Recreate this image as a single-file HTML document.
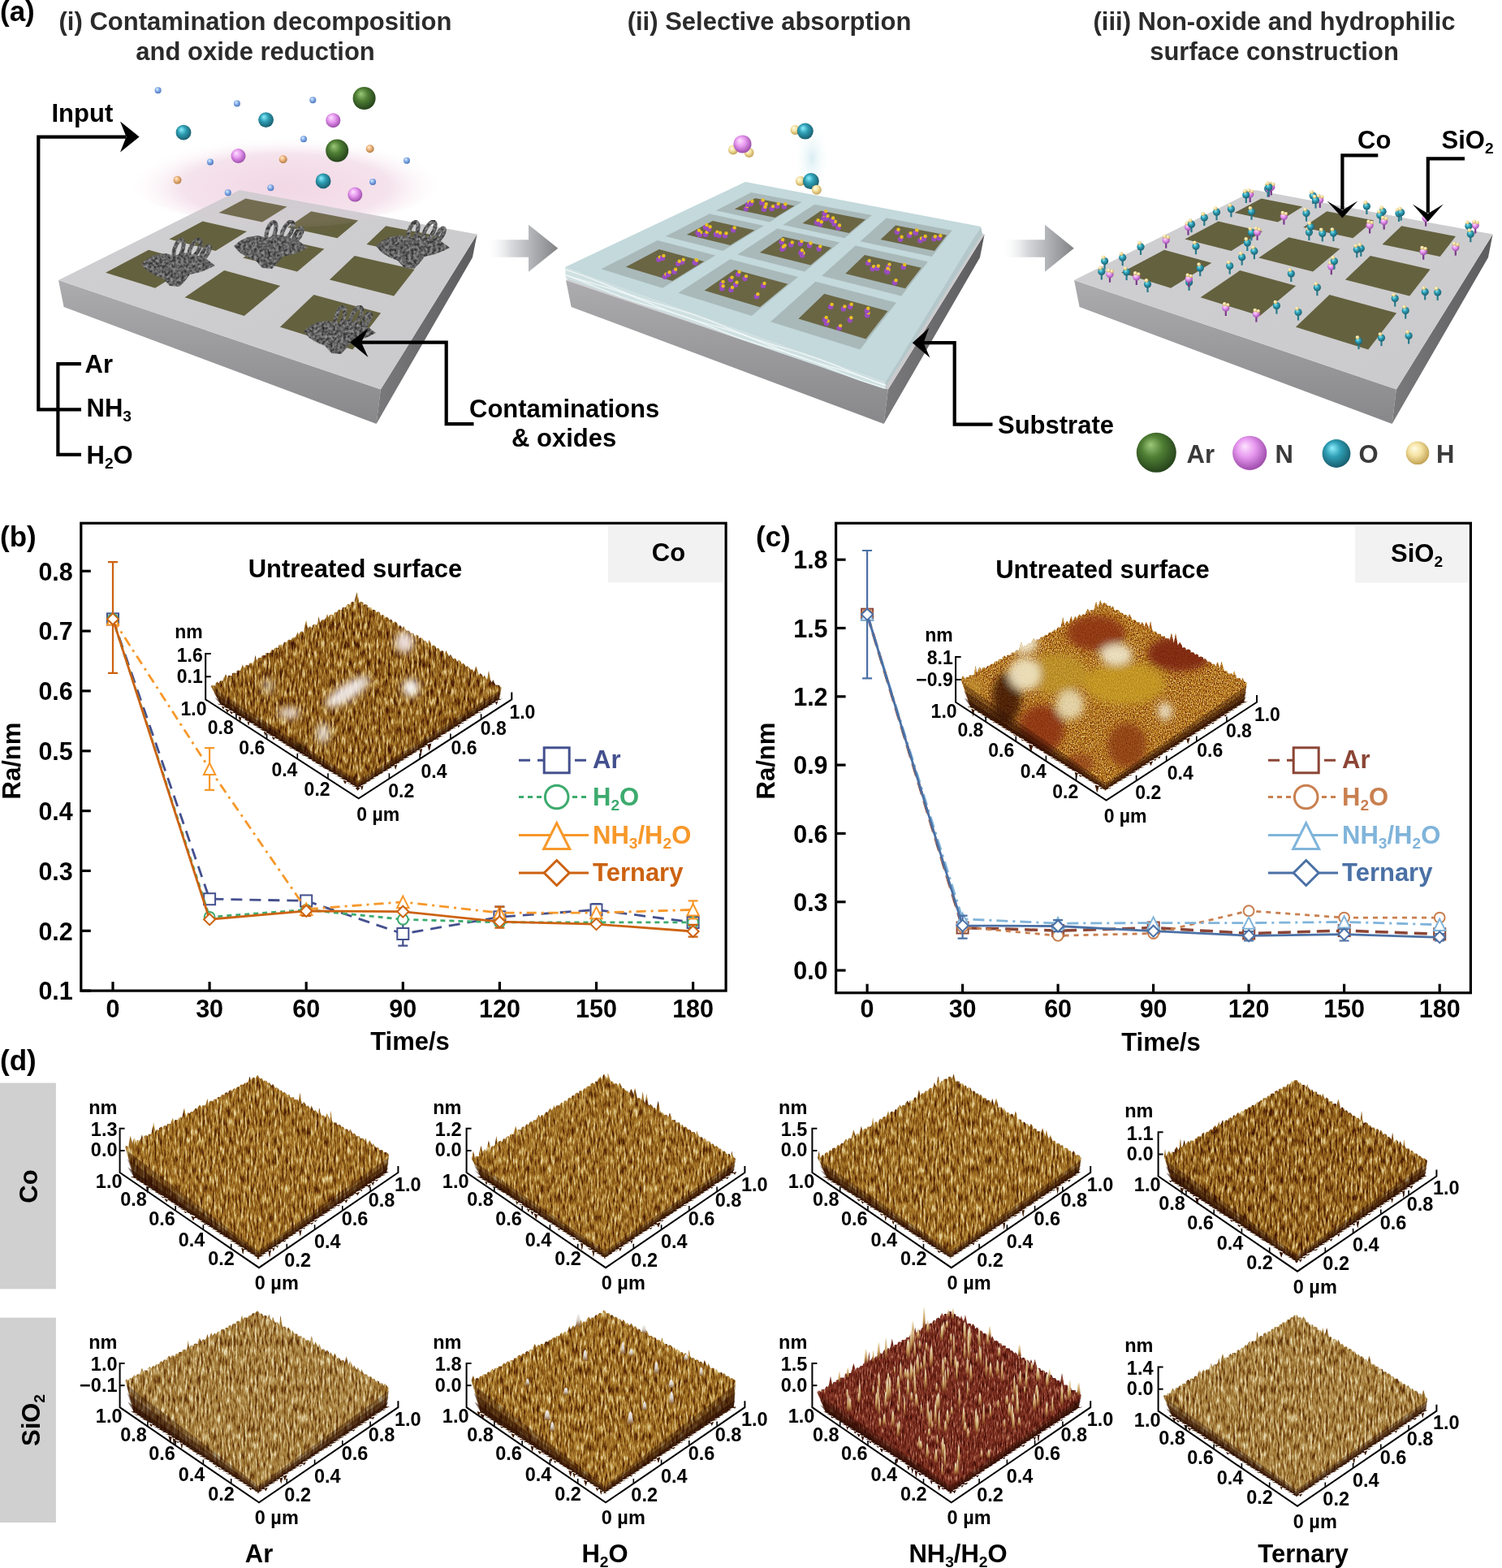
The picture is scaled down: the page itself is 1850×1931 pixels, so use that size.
<!DOCTYPE html><html><head><meta charset="utf-8"><title>Figure</title><style>html,body{margin:0;padding:0;background:#fff;}svg{display:block}</style></head><body><svg width="1850" height="1931" viewBox="0 0 1850 1931" font-family='"Liberation Sans", Arial, Helvetica, sans-serif' font-weight="bold"><defs><radialGradient id="gAr" cx="0.45" cy="0.42" r="0.6" fx="0.35" fy="0.3"><stop offset="0" stop-color="#9cc87a"/><stop offset="0.45" stop-color="#4f7f34"/><stop offset="1" stop-color="#24401a"/></radialGradient><radialGradient id="gN" cx="0.45" cy="0.42" r="0.6" fx="0.35" fy="0.3"><stop offset="0" stop-color="#fde4ff"/><stop offset="0.45" stop-color="#e89af0"/><stop offset="1" stop-color="#9a48a8"/></radialGradient><radialGradient id="gO" cx="0.45" cy="0.42" r="0.6" fx="0.35" fy="0.3"><stop offset="0" stop-color="#8ff0ff"/><stop offset="0.45" stop-color="#2f9fb5"/><stop offset="1" stop-color="#185a6a"/></radialGradient><radialGradient id="gH" cx="0.45" cy="0.42" r="0.6" fx="0.35" fy="0.3"><stop offset="0" stop-color="#fffbe6"/><stop offset="0.45" stop-color="#f6e4a4"/><stop offset="1" stop-color="#c0a050"/></radialGradient><radialGradient id="gB" cx="0.45" cy="0.42" r="0.6" fx="0.35" fy="0.3"><stop offset="0" stop-color="#e4f0ff"/><stop offset="0.45" stop-color="#8ab4ee"/><stop offset="1" stop-color="#4a70b8"/></radialGradient><radialGradient id="gOr" cx="0.45" cy="0.42" r="0.6" fx="0.35" fy="0.3"><stop offset="0" stop-color="#fff0d8"/><stop offset="0.45" stop-color="#f0b880"/><stop offset="1" stop-color="#b07840"/></radialGradient><filter id="afmA" x="0" y="0" width="1" height="1" color-interpolation-filters="sRGB"><feTurbulence type="fractalNoise" baseFrequency="0.42 0.085" numOctaves="3" seed="3" result="n"/><feColorMatrix in="n" type="matrix" values="1.9 0 0 0 -0.45  1.9 0 0 0 -0.45  1.9 0 0 0 -0.45  0 0 0 0 1" result="g"/><feComponentTransfer in="g" result="c"><feFuncR type="table" tableValues="0.290 0.424 0.533 0.620 0.706 0.792 0.902"/><feFuncG type="table" tableValues="0.118 0.235 0.345 0.431 0.533 0.667 0.831"/><feFuncB type="table" tableValues="0.031 0.055 0.094 0.141 0.220 0.392 0.627"/><feFuncA type="linear" slope="0" intercept="1"/></feComponentTransfer><feComposite in="c" in2="SourceGraphic" operator="in"/></filter><filter id="afmB" x="0" y="0" width="1" height="1" color-interpolation-filters="sRGB"><feTurbulence type="fractalNoise" baseFrequency="0.42 0.085" numOctaves="3" seed="7" result="n"/><feColorMatrix in="n" type="matrix" values="1.9 0 0 0 -0.45  1.9 0 0 0 -0.45  1.9 0 0 0 -0.45  0 0 0 0 1" result="g"/><feComponentTransfer in="g" result="c"><feFuncR type="table" tableValues="0.290 0.424 0.533 0.620 0.706 0.792 0.902"/><feFuncG type="table" tableValues="0.118 0.235 0.345 0.431 0.533 0.667 0.831"/><feFuncB type="table" tableValues="0.031 0.055 0.094 0.141 0.220 0.392 0.627"/><feFuncA type="linear" slope="0" intercept="1"/></feComponentTransfer><feComposite in="c" in2="SourceGraphic" operator="in"/></filter><filter id="afmC" x="0" y="0" width="1" height="1" color-interpolation-filters="sRGB"><feTurbulence type="fractalNoise" baseFrequency="0.42 0.085" numOctaves="3" seed="11" result="n"/><feColorMatrix in="n" type="matrix" values="1.9 0 0 0 -0.45  1.9 0 0 0 -0.45  1.9 0 0 0 -0.45  0 0 0 0 1" result="g"/><feComponentTransfer in="g" result="c"><feFuncR type="table" tableValues="0.251 0.384 0.494 0.580 0.667 0.769 0.886"/><feFuncG type="table" tableValues="0.086 0.196 0.306 0.392 0.494 0.627 0.800"/><feFuncB type="table" tableValues="0.031 0.047 0.078 0.118 0.188 0.353 0.588"/><feFuncA type="linear" slope="0" intercept="1"/></feComponentTransfer><feComposite in="c" in2="SourceGraphic" operator="in"/></filter><filter id="afmK" x="0" y="0" width="1" height="1" color-interpolation-filters="sRGB"><feTurbulence type="fractalNoise" baseFrequency="0.42 0.085" numOctaves="3" seed="17" result="n"/><feColorMatrix in="n" type="matrix" values="1.9 0 0 0 -0.45  1.9 0 0 0 -0.45  1.9 0 0 0 -0.45  0 0 0 0 1" result="g"/><feComponentTransfer in="g" result="c"><feFuncR type="table" tableValues="0.345 0.478 0.580 0.651 0.729 0.808 0.910"/><feFuncG type="table" tableValues="0.180 0.306 0.416 0.502 0.596 0.714 0.863"/><feFuncB type="table" tableValues="0.055 0.102 0.165 0.243 0.353 0.502 0.706"/><feFuncA type="linear" slope="0" intercept="1"/></feComponentTransfer><feComposite in="c" in2="SourceGraphic" operator="in"/></filter><filter id="afmS" x="0" y="0" width="1" height="1" color-interpolation-filters="sRGB"><feTurbulence type="fractalNoise" baseFrequency="0.6 0.05" numOctaves="3" seed="5" result="n"/><feColorMatrix in="n" type="matrix" values="2.0 0 0 0 -0.5  2.0 0 0 0 -0.5  2.0 0 0 0 -0.5  0 0 0 0 1" result="g"/><feComponentTransfer in="g" result="c"><feFuncR type="table" tableValues="0.157 0.275 0.392 0.510"/><feFuncG type="table" tableValues="0.055 0.118 0.196 0.294"/><feFuncB type="table" tableValues="0.016 0.031 0.055 0.098"/><feFuncA type="linear" slope="0" intercept="1"/></feComponentTransfer><feComposite in="c" in2="SourceGraphic" operator="in"/></filter><filter id="afmR" x="0" y="0" width="1" height="1" color-interpolation-filters="sRGB"><feTurbulence type="fractalNoise" baseFrequency="0.6 0.12" numOctaves="3" seed="13" result="n"/><feColorMatrix in="n" type="matrix" values="1.6 0 0 0 -0.3  1.6 0 0 0 -0.3  1.6 0 0 0 -0.3  0 0 0 0 1" result="g"/><feComponentTransfer in="g" result="c"><feFuncR type="table" tableValues="0.196 0.306 0.392 0.471 0.549 0.659 0.784"/><feFuncG type="table" tableValues="0.039 0.078 0.125 0.173 0.243 0.392 0.588"/><feFuncB type="table" tableValues="0.024 0.047 0.078 0.118 0.173 0.306 0.471"/><feFuncA type="linear" slope="0" intercept="1"/></feComponentTransfer><feComposite in="c" in2="SourceGraphic" operator="in"/></filter><filter id="afmU" x="0" y="0" width="1" height="1" color-interpolation-filters="sRGB"><feTurbulence type="fractalNoise" baseFrequency="0.03 0.04" numOctaves="5" seed="21" result="n"/><feColorMatrix in="n" type="matrix" values="2.0 0 0 0 -0.5  2.0 0 0 0 -0.5  2.0 0 0 0 -0.5  0 0 0 0 1" result="g"/><feComponentTransfer in="g" result="c"><feFuncR type="table" tableValues="0.431 0.549 0.647 0.725 0.784 0.843 0.910"/><feFuncG type="table" tableValues="0.118 0.196 0.333 0.490 0.627 0.745 0.863"/><feFuncB type="table" tableValues="0.047 0.078 0.098 0.137 0.216 0.431 0.686"/><feFuncA type="linear" slope="0" intercept="1"/></feComponentTransfer><feComposite in="c" in2="SourceGraphic" operator="in"/></filter><filter id="blur6" x="-0.5" y="-0.5" width="2" height="2"><feGaussianBlur stdDeviation="5"/></filter><filter id="blur3" x="-0.5" y="-0.5" width="2" height="2"><feGaussianBlur stdDeviation="2.5"/></filter><filter id="grainG" x="0" y="0" width="1" height="1" color-interpolation-filters="sRGB"><feTurbulence type="fractalNoise" baseFrequency="0.7 0.5" numOctaves="2" seed="31" result="n"/><feColorMatrix in="n" type="matrix" values="2.2 0 0 0 -0.6  2.2 0 0 0 -0.6  2.2 0 0 0 -0.6  0 0 0 0 1" result="g"/><feComponentTransfer in="g" result="c"><feFuncR type="table" tableValues="0.471 0.667 0.863 0.980"/><feFuncG type="table" tableValues="0.196 0.431 0.706 0.902"/><feFuncB type="table" tableValues="0.039 0.118 0.235 0.549"/><feFuncA type="linear" slope="0" intercept="1"/></feComponentTransfer><feComposite in="c" in2="SourceGraphic" operator="in"/></filter><filter id="afmU2" x="0" y="0" width="1" height="1" color-interpolation-filters="sRGB"><feTurbulence type="fractalNoise" baseFrequency="0.8 0.6" numOctaves="2" seed="41" result="n"/><feColorMatrix in="n" type="matrix" values="2.0 0 0 0 -0.5  2.0 0 0 0 -0.5  2.0 0 0 0 -0.5  0 0 0 0 1" result="g"/><feComponentTransfer in="g" result="c"><feFuncR type="table" tableValues="0.392 0.549 0.667 0.745 0.824 0.910"/><feFuncG type="table" tableValues="0.157 0.275 0.412 0.529 0.647 0.804"/><feFuncB type="table" tableValues="0.047 0.078 0.110 0.157 0.275 0.549"/><feFuncA type="linear" slope="0" intercept="1"/></feComponentTransfer><feComposite in="c" in2="SourceGraphic" operator="in"/></filter><filter id="cont" x="0" y="0" width="1" height="1" color-interpolation-filters="sRGB"><feTurbulence type="fractalNoise" baseFrequency="0.3 0.3" numOctaves="2" seed="4" result="n"/><feColorMatrix in="n" type="matrix" values="1.8 0 0 0 -0.4  1.8 0 0 0 -0.4  1.8 0 0 0 -0.4  0 0 0 0 1" result="g"/><feComponentTransfer in="g" result="c"><feFuncR type="table" tableValues="0.18 0.28 0.38 0.48 0.58"/><feFuncG type="table" tableValues="0.18 0.28 0.38 0.48 0.58"/><feFuncB type="table" tableValues="0.18 0.28 0.38 0.48 0.58"/><feFuncA type="linear" slope="0" intercept="1"/></feComponentTransfer><feComposite in="c" in2="SourceGraphic" operator="in"/></filter><linearGradient id="pTop" x1="0" y1="0" x2="1" y2="1"><stop offset="0" stop-color="#d0d0d2"/><stop offset="1" stop-color="#cacacc"/></linearGradient><linearGradient id="pLeft" x1="0" y1="0" x2="0" y2="1"><stop offset="0" stop-color="#acacae"/><stop offset="1" stop-color="#88888a"/></linearGradient><linearGradient id="pRight" x1="0" y1="0" x2="1" y2="0"><stop offset="0" stop-color="#7a7a7c"/><stop offset="1" stop-color="#5c5c5e"/></linearGradient><linearGradient id="gArrow" x1="0" y1="0" x2="1" y2="0"><stop offset="0" stop-color="#ffffff" stop-opacity="0"/><stop offset="0.35" stop-color="#d8dadd"/><stop offset="0.7" stop-color="#a8aaae"/><stop offset="1" stop-color="#808284"/></linearGradient><radialGradient id="haze" cx="0.5" cy="0.6" r="0.5"><stop offset="0" stop-color="#e8b8d0" stop-opacity="0.45"/><stop offset="0.7" stop-color="#ecc4d8" stop-opacity="0.35"/><stop offset="1" stop-color="#f4d8e6" stop-opacity="0"/></radialGradient><radialGradient id="haze0" cx="0.5" cy="0.62" r="0.5"><stop offset="0" stop-color="#f3dce8"/><stop offset="0.65" stop-color="#f6e6ee"/><stop offset="1" stop-color="#ffffff" stop-opacity="0"/></radialGradient><linearGradient id="spk" x1="0" y1="1" x2="0" y2="0"><stop offset="0" stop-color="#7a3418"/><stop offset="0.4" stop-color="#c8a060"/><stop offset="1" stop-color="#f6ecd4"/></linearGradient><linearGradient id="spkW" x1="0" y1="1" x2="0" y2="0"><stop offset="0" stop-color="#8a6030"/><stop offset="0.45" stop-color="#d8d0c8"/><stop offset="1" stop-color="#f8f6f4"/></linearGradient><radialGradient id="glow" cx="0.5" cy="0.5" r="0.5"><stop offset="0" stop-color="#d9eef2"/><stop offset="1" stop-color="#ffffff" stop-opacity="0"/></radialGradient><clipPath id="clip253_861"><polygon points="259.6,844.8 262.4,843.5 265.2,844.8 265.7,841.6 267.6,839.6 269.6,841.6 271.0,838.5 272.9,838.2 274.7,838.5 275.4,835.4 278.1,830.2 280.7,835.4 280.7,832.3 283.3,831.7 285.9,832.3 285.7,829.2 288.5,828.4 291.3,829.2 291.6,826.0 293.7,825.6 295.8,826.0 297.2,822.9 298.9,818.2 300.6,822.9 301.8,819.8 304.1,818.8 306.4,819.8 307.2,816.7 309.3,816.6 311.4,816.7 313.2,813.6 314.5,806.8 315.9,813.6 317.7,810.4 319.7,809.7 321.8,810.4 322.7,807.3 324.9,806.9 327.2,807.3 327.4,804.2 330.2,804.0 333.0,804.2 333.7,801.1 335.4,799.8 337.0,801.1 338.3,798.0 340.6,797.4 342.9,798.0 343.1,794.8 345.8,793.5 348.5,794.8 349.5,791.7 351.0,790.3 352.5,791.7 354.4,788.6 356.2,787.6 358.0,788.6 360.1,785.5 361.4,784.6 362.7,785.5 365.0,782.4 366.6,778.4 368.3,782.4 369.1,779.2 371.8,777.3 374.5,779.2 374.3,776.1 377.0,763.6 379.7,776.1 379.6,773.0 382.2,771.2 384.9,773.0 384.8,769.9 387.5,768.6 390.1,769.9 391.3,766.8 392.7,758.8 394.0,766.8 396.3,763.6 397.9,763.1 399.4,763.6 401.7,760.5 403.1,756.1 404.5,760.5 405.7,757.4 408.3,756.7 410.9,757.4 411.9,754.3 413.5,753.7 415.1,754.3 416.3,751.2 418.7,750.4 421.1,751.2 421.9,748.0 423.9,747.8 425.9,748.0 426.9,744.9 429.1,743.7 431.4,744.9 432.0,741.8 434.3,741.1 436.7,741.8 437.0,738.7 439.5,729.3 442.1,738.7 442.0,741.9 444.8,741.1 447.5,741.9 447.4,745.0 450.0,743.9 452.6,745.0 452.7,748.2 455.3,747.8 457.8,748.2 458.7,751.4 460.5,750.7 462.3,751.4 463.6,754.6 465.7,753.1 467.9,754.6 468.7,757.8 471.0,757.1 473.3,757.8 474.3,760.9 476.2,759.6 478.2,760.9 479.9,764.1 481.5,762.6 483.1,764.1 484.4,767.3 486.7,765.2 489.0,767.3 490.3,770.5 492.0,770.4 493.6,770.5 495.7,773.7 497.2,770.9 498.7,773.7 500.7,776.9 502.4,776.5 504.1,776.9 505.9,780.0 507.7,779.6 509.4,780.0 510.3,783.2 512.9,781.6 515.6,783.2 515.7,786.4 518.2,785.1 520.6,786.4 522.0,789.6 523.4,788.8 524.8,789.6 526.4,792.8 528.6,788.2 530.9,792.8 531.4,795.9 533.9,794.3 536.4,795.9 537.1,799.1 539.1,797.9 541.1,799.1 542.0,802.3 544.4,800.9 546.7,802.3 547.6,805.5 549.6,801.1 551.6,805.5 553.1,808.7 554.8,805.7 556.6,808.7 558.4,811.8 560.1,810.4 561.8,811.8 562.7,815.0 565.3,812.5 567.9,815.0 568.9,818.2 570.6,816.5 572.2,818.2 574.0,821.4 575.8,819.9 577.6,821.4 579.6,824.6 581.1,824.4 582.5,824.6 583.8,827.8 586.3,820.2 588.7,827.8 589.5,830.9 591.5,829.3 593.5,830.9 595.4,834.1 596.8,831.5 598.2,834.1 600.0,837.3 602.0,825.8 604.0,837.3 605.8,840.5 607.3,837.0 608.7,840.5 610.7,843.7 612.5,843.5 614.3,843.7 617.7,846.8 614.3,860.4 616.6,860.9 619.0,860.4 609.7,863.6 611.5,868.2 613.2,863.6 604.8,866.8 606.3,867.1 607.8,866.8 599.7,870.1 601.1,871.2 602.5,870.1 594.3,873.3 595.9,874.2 597.6,873.3 588.2,876.6 590.8,877.9 593.4,876.6 583.6,879.8 585.6,880.8 587.5,879.8 578.9,883.1 580.4,883.7 581.9,883.1 573.2,886.3 575.2,887.3 577.3,886.3 567.6,889.5 570.1,890.7 572.5,889.5 563.2,892.8 564.9,895.9 566.6,892.8 558.0,896.0 559.7,897.2 561.4,896.0 552.9,899.3 554.5,899.6 556.2,899.3 547.3,902.5 549.3,902.7 551.4,902.5 541.3,905.8 544.2,906.5 547.0,905.8 537.5,909.0 539.0,911.0 540.5,909.0 532.3,912.2 533.8,912.8 535.3,912.2 526.0,915.5 528.6,924.8 531.3,915.5 521.8,918.7 523.5,920.0 525.1,918.7 516.6,922.0 518.3,931.3 519.9,922.0 510.9,925.2 513.1,925.7 515.3,925.2 506.1,928.4 507.9,928.8 509.8,928.4 500.3,931.7 502.8,932.2 505.3,931.7 494.9,934.9 497.6,935.6 500.2,934.9 490.1,938.2 492.4,938.8 494.7,938.2 485.3,941.4 487.2,947.7 489.1,941.4 480.4,944.7 482.1,945.8 483.7,944.7 475.4,947.9 476.9,949.3 478.4,947.9 470.1,951.1 471.7,951.5 473.3,951.1 465.2,954.4 466.5,955.1 467.9,954.4 459.4,957.6 461.3,958.6 463.3,957.6 454.6,960.9 456.2,961.7 457.7,960.9 449.3,964.1 451.0,964.3 452.6,964.1 444.1,967.4 445.8,973.1 447.5,967.4 438.0,970.6 440.6,973.6 443.2,970.6 433.5,967.4 435.5,968.7 437.4,967.4 427.9,964.3 430.3,965.5 432.7,964.3 422.8,961.1 425.1,965.4 427.5,961.1 417.2,958.0 419.9,958.6 422.7,958.0 412.0,954.8 414.8,955.7 417.5,954.8 407.4,951.7 409.6,952.8 411.7,951.7 402.7,948.5 404.4,948.9 406.1,948.5 397.5,945.4 399.2,945.6 401.0,945.4 391.5,942.2 394.1,943.4 396.6,942.2 387.0,939.1 388.9,939.3 390.8,939.1 381.2,935.9 383.7,936.7 386.2,935.9 375.7,932.8 378.5,933.4 381.3,932.8 370.6,929.6 373.3,929.7 376.1,929.6 366.6,926.5 368.2,927.6 369.8,926.5 361.7,923.3 363.0,924.3 364.3,923.3 356.3,920.2 357.8,921.7 359.3,920.2 350.4,917.0 352.6,917.1 354.9,917.0 345.2,913.9 347.5,915.0 349.7,913.9 340.1,910.7 342.3,911.6 344.5,910.7 334.8,907.6 337.1,911.3 339.4,907.6 329.7,904.4 331.9,904.8 334.2,904.4 324.9,901.3 326.8,906.3 328.6,901.3 319.0,898.1 321.6,898.6 324.2,898.1 313.8,895.0 316.4,895.5 319.1,895.0 308.5,891.8 311.2,892.4 314.0,891.8 304.6,888.7 306.1,893.6 307.5,888.7 298.8,885.5 300.9,886.3 302.9,885.5 293.9,882.4 295.7,889.6 297.5,882.4 288.3,879.2 290.5,879.8 292.7,879.2 282.9,876.1 285.3,879.4 287.8,876.1 277.6,872.9 280.2,877.7 282.8,872.9 272.9,869.8 275.0,873.2 277.1,869.8 268.3,866.6 269.8,867.7 271.3,866.6"/></clipPath><clipPath id="clip1177_864"><polygon points="1183.5,837.0 1186.2,831.7 1188.9,837.0 1189.5,834.2 1191.3,833.4 1193.1,834.2 1193.7,831.5 1196.4,831.4 1199.2,831.5 1200.0,828.7 1201.6,819.6 1203.1,828.7 1204.4,826.0 1206.7,821.2 1209.0,826.0 1209.3,823.2 1211.8,821.6 1214.3,823.2 1215.6,820.4 1216.9,819.9 1218.2,820.4 1220.5,817.7 1222.1,817.5 1223.7,817.7 1225.2,814.9 1227.2,814.0 1229.2,814.9 1230.0,812.2 1232.3,811.5 1234.6,812.2 1234.6,809.4 1237.4,807.6 1240.2,809.4 1240.1,806.7 1242.5,806.6 1245.0,806.7 1245.6,803.9 1247.7,803.3 1249.7,803.9 1250.9,801.2 1252.8,800.5 1254.7,801.2 1255.4,798.4 1257.9,790.3 1260.5,798.4 1261.0,795.6 1263.0,794.9 1265.1,795.6 1265.6,792.9 1268.2,791.9 1270.8,792.9 1270.7,790.1 1273.3,785.9 1275.9,790.1 1276.5,787.4 1278.4,787.3 1280.3,787.4 1281.9,784.6 1283.5,784.4 1285.2,784.6 1286.7,781.9 1288.7,781.7 1290.6,781.9 1291.8,779.1 1293.8,778.7 1295.8,779.1 1297.0,776.3 1298.9,775.4 1300.9,776.3 1302.1,773.6 1304.0,772.0 1306.0,773.6 1306.9,770.8 1309.2,759.8 1311.5,770.8 1311.9,768.1 1314.3,764.3 1316.7,768.1 1317.2,765.3 1319.4,758.5 1321.6,765.3 1322.4,762.6 1324.5,758.8 1326.7,762.6 1327.2,759.8 1329.6,756.5 1332.1,759.8 1332.6,757.0 1334.8,756.6 1336.9,757.0 1337.4,754.3 1339.9,749.5 1342.4,754.3 1342.9,751.5 1345.0,751.2 1347.2,751.5 1347.9,748.8 1350.1,740.8 1352.4,748.8 1352.9,746.0 1355.3,738.8 1357.6,746.0 1357.7,743.3 1360.4,742.2 1363.0,743.3 1363.6,746.1 1365.5,746.1 1367.5,746.1 1369.4,749.0 1370.7,745.9 1372.0,749.0 1373.0,751.9 1375.9,750.8 1378.7,751.9 1379.5,754.8 1381.0,754.6 1382.6,754.8 1384.5,757.6 1386.2,756.6 1387.8,757.6 1389.2,760.5 1391.3,756.0 1393.5,760.5 1394.1,763.4 1396.5,763.1 1398.8,763.4 1400.0,766.3 1401.6,766.2 1403.2,766.3 1404.9,769.2 1406.8,765.9 1408.7,769.2 1409.4,772.0 1411.9,765.7 1414.5,772.0 1415.1,774.9 1417.1,764.9 1419.1,774.9 1420.1,777.8 1422.3,777.8 1424.5,777.8 1424.9,780.7 1427.4,780.6 1429.9,780.7 1430.3,783.6 1432.6,783.5 1434.9,783.6 1435.4,786.4 1437.7,785.9 1440.1,786.4 1440.7,789.3 1442.9,779.2 1445.1,789.3 1445.8,792.2 1448.0,779.8 1450.3,792.2 1450.6,795.1 1453.2,790.9 1455.8,795.1 1456.3,797.9 1458.3,797.2 1460.3,797.9 1460.7,800.8 1463.5,799.5 1466.3,800.8 1466.7,803.7 1468.7,803.3 1470.6,803.7 1471.8,806.6 1473.8,805.5 1475.9,806.6 1476.3,809.5 1479.0,808.6 1481.6,809.5 1482.6,812.3 1484.1,811.1 1485.6,812.3 1487.5,815.2 1489.3,814.4 1491.1,815.2 1493.0,818.1 1494.4,817.6 1495.9,818.1 1497.4,821.0 1499.6,814.6 1501.8,821.0 1502.0,823.8 1504.7,814.4 1507.4,823.8 1507.9,826.7 1509.9,825.7 1511.9,826.7 1512.3,829.6 1515.1,829.4 1517.8,829.6 1518.0,832.5 1520.2,826.1 1522.4,832.5 1523.0,835.4 1525.4,834.7 1527.8,835.4 1529.2,838.2 1530.5,834.0 1531.8,838.2 1535.7,841.1 1532.1,863.8 1534.6,864.3 1537.1,863.8 1527.0,867.0 1529.5,868.1 1532.0,867.0 1522.0,870.2 1524.4,871.1 1526.8,870.2 1517.2,873.4 1519.3,874.6 1521.5,873.4 1511.7,876.6 1514.2,877.0 1516.7,876.6 1507.2,879.8 1509.1,882.4 1511.1,879.8 1501.9,883.0 1504.0,883.5 1506.2,883.0 1496.4,886.2 1499.0,886.7 1501.5,886.2 1491.8,889.5 1493.9,891.8 1495.9,889.5 1486.0,892.7 1488.8,893.1 1491.5,892.7 1482.1,895.9 1483.7,898.5 1485.3,895.9 1476.3,899.1 1478.6,899.5 1480.9,899.1 1471.0,902.3 1473.5,903.6 1476.0,902.3 1467.0,905.5 1468.4,906.5 1469.8,905.5 1461.0,908.7 1463.3,916.1 1465.6,908.7 1455.6,911.9 1458.2,912.7 1460.8,911.9 1450.4,915.1 1453.1,915.8 1455.9,915.1 1446.5,918.4 1448.0,919.9 1449.6,918.4 1440.6,921.6 1442.9,924.1 1445.3,921.6 1435.1,924.8 1437.8,924.9 1440.6,924.8 1430.8,928.0 1432.8,928.7 1434.7,928.0 1425.9,931.2 1427.7,934.4 1429.4,931.2 1420.8,934.4 1422.6,937.1 1424.4,934.4 1415.1,937.6 1417.5,943.1 1419.9,937.6 1409.8,940.8 1412.4,941.1 1415.0,940.8 1404.8,944.0 1407.3,945.3 1409.8,944.0 1400.8,947.3 1402.2,948.5 1403.6,947.3 1394.5,950.5 1397.1,950.6 1399.8,950.5 1389.3,953.7 1392.0,955.4 1394.8,953.7 1384.6,956.9 1386.9,957.2 1389.3,956.9 1379.4,960.1 1381.8,960.2 1384.2,960.1 1374.7,963.3 1376.7,964.3 1378.8,963.3 1370.2,966.5 1371.7,967.0 1373.1,966.5 1364.3,969.7 1366.6,971.2 1368.8,969.7 1360.0,972.9 1361.5,973.2 1362.9,972.9 1354.6,969.8 1356.4,971.7 1358.1,969.8 1348.7,966.7 1351.3,976.0 1353.9,966.7 1344.0,963.6 1346.2,963.7 1348.4,963.6 1338.9,960.5 1341.1,960.8 1343.3,960.5 1334.5,957.3 1336.0,958.1 1337.5,957.3 1328.7,954.2 1330.9,956.8 1333.1,954.2 1323.8,951.1 1325.8,958.6 1327.9,951.1 1319.4,948.0 1320.7,948.0 1322.1,948.0 1313.4,944.9 1315.6,945.1 1317.9,944.9 1308.4,941.7 1310.6,942.8 1312.7,941.7 1303.6,938.6 1305.5,939.7 1307.4,938.6 1297.7,935.5 1300.4,935.8 1303.0,935.5 1293.2,932.4 1295.3,933.5 1297.4,932.4 1288.8,929.3 1290.2,930.2 1291.6,929.3 1282.8,926.1 1285.1,926.8 1287.4,926.1 1278.1,923.0 1280.0,923.7 1281.9,923.0 1272.4,919.9 1274.9,920.9 1277.5,919.9 1267.2,916.8 1269.8,926.1 1272.5,916.8 1262.7,913.7 1264.7,913.9 1266.8,913.7 1257.3,910.5 1259.6,912.3 1261.9,910.5 1253.1,907.4 1254.5,908.1 1256.0,907.4 1247.9,904.3 1249.5,906.0 1251.0,904.3 1242.3,901.2 1244.4,901.7 1246.4,901.2 1237.7,898.1 1239.3,899.2 1240.9,898.1 1232.0,894.9 1234.2,895.4 1236.3,894.9 1227.2,891.8 1229.1,892.8 1231.0,891.8 1222.2,888.7 1224.0,889.9 1225.8,888.7 1217.4,885.6 1218.9,885.7 1220.4,885.6 1212.3,882.5 1213.8,884.8 1215.3,882.5 1206.7,879.3 1208.7,880.3 1210.8,879.3 1201.5,876.2 1203.6,877.1 1205.8,876.2 1196.5,873.1 1198.5,882.4 1200.5,873.1 1191.8,870.0 1193.4,871.2 1195.1,870.0"/></clipPath></defs><rect width="1850" height="1931" fill="#fff"/><text x="0.0" y="25.5" font-size="35" fill="#000" text-anchor="start" >(a)</text>
<text x="314.5" y="36.5" font-size="31" fill="#2b2b2b" text-anchor="middle" >(i) Contamination decomposition</text>
<text x="314.5" y="73.5" font-size="31" fill="#2b2b2b" text-anchor="middle" >and oxide reduction</text>
<text x="947.5" y="36.5" font-size="31" fill="#2b2b2b" text-anchor="middle" >(ii) Selective absorption</text>
<text x="1569.5" y="36.5" font-size="31" fill="#2b2b2b" text-anchor="middle" >(iii) Non-oxide and hydrophilic</text>
<text x="1569.5" y="73.5" font-size="31" fill="#2b2b2b" text-anchor="middle" >surface construction</text>
<ellipse cx="352" cy="215" rx="195" ry="62" fill="url(#haze0)"/>
<polygon points="72.0,345.0 468.9,479.5 463.6,521.9 78.6,378.0" fill="url(#pLeft)"/>
<polygon points="468.9,479.5 587.6,288.6 582.0,317.0 463.6,521.9" fill="url(#pRight)"/>
<polygon points="295.0,234.0 587.6,288.6 468.9,479.5 72.0,345.0" fill="url(#pTop)"/>
<polygon points="302.5,244.6 353.5,254.5 322.9,273.4 269.6,262.0" fill="#64613f"/>
<polygon points="249.6,272.6 304.1,285.0 265.5,308.9 208.4,294.4" fill="#64613f"/>
<polygon points="183.0,307.8 241.4,323.7 191.1,354.8 130.1,335.8" fill="#64613f"/>
<polygon points="383.3,260.3 441.3,271.6 415.4,293.2 354.2,280.1" fill="#64613f"/>
<polygon points="336.3,292.3 399.4,306.6 366.1,334.4 299.3,317.4" fill="#64613f"/>
<polygon points="276.2,333.1 345.2,351.9 300.8,389.0 227.6,366.2" fill="#64613f"/>
<polygon points="475.3,278.2 542.0,291.1 522.7,316.1 451.5,300.9" fill="#64613f"/>
<polygon points="436.8,315.0 510.6,331.8 485.2,364.6 405.9,344.5" fill="#64613f"/>
<polygon points="386.5,363.1 469.1,385.6 434.3,430.6 344.9,402.8" fill="#64613f"/>
<ellipse cx="352" cy="222" rx="192" ry="58" fill="url(#haze)" opacity="0.3"/>
<polygon points="174.0,325.0 181.0,319.0 191.0,314.0 204.0,312.0 215.0,315.0 227.0,311.0 241.0,314.0 253.0,318.0 265.0,327.0 257.0,331.0 247.0,335.0 234.0,338.0 227.0,347.0 221.0,353.0 209.0,352.0 201.0,343.0 191.0,339.0 181.0,333.0" fill="#555" filter="url(#cont)"/>
<g filter="url(#cont)">
<ellipse cx="220.0" cy="307.0" rx="5.0" ry="12.0" transform="rotate(18 220.0 307.0)" fill="none" stroke="#484848" stroke-width="5.0"/>
<ellipse cx="240.0" cy="306.0" rx="5.0" ry="12.0" transform="rotate(28 240.0 306.0)" fill="none" stroke="#484848" stroke-width="5.0"/>
<ellipse cx="253.0" cy="311.0" rx="3.0" ry="9.0" transform="rotate(30 253.0 311.0)" fill="none" stroke="#484848" stroke-width="5.0"/>
</g>
<polygon points="288.0,303.0 295.0,297.0 305.0,292.0 318.0,290.0 329.0,293.0 341.0,289.0 355.0,292.0 367.0,296.0 379.0,305.0 371.0,309.0 361.0,313.0 348.0,316.0 341.0,325.0 335.0,331.0 323.0,330.0 315.0,321.0 305.0,317.0 295.0,311.0" fill="#555" filter="url(#cont)"/>
<g filter="url(#cont)">
<ellipse cx="334.0" cy="285.0" rx="5.0" ry="12.0" transform="rotate(18 334.0 285.0)" fill="none" stroke="#484848" stroke-width="5.0"/>
<ellipse cx="354.0" cy="284.0" rx="5.0" ry="12.0" transform="rotate(28 354.0 284.0)" fill="none" stroke="#484848" stroke-width="5.0"/>
<ellipse cx="367.0" cy="289.0" rx="3.0" ry="9.0" transform="rotate(30 367.0 289.0)" fill="none" stroke="#484848" stroke-width="5.0"/>
</g>
<polygon points="463.0,303.0 470.0,297.0 480.0,292.0 493.0,290.0 504.0,293.0 516.0,289.0 530.0,292.0 542.0,296.0 554.0,305.0 546.0,309.0 536.0,313.0 523.0,316.0 516.0,325.0 510.0,331.0 498.0,330.0 490.0,321.0 480.0,317.0 470.0,311.0" fill="#555" filter="url(#cont)"/>
<g filter="url(#cont)">
<ellipse cx="509.0" cy="285.0" rx="5.0" ry="12.0" transform="rotate(18 509.0 285.0)" fill="none" stroke="#484848" stroke-width="5.0"/>
<ellipse cx="529.0" cy="284.0" rx="5.0" ry="12.0" transform="rotate(28 529.0 284.0)" fill="none" stroke="#484848" stroke-width="5.0"/>
<ellipse cx="542.0" cy="289.0" rx="3.0" ry="9.0" transform="rotate(30 542.0 289.0)" fill="none" stroke="#484848" stroke-width="5.0"/>
</g>
<polygon points="374.0,408.0 380.8,402.0 390.6,397.0 403.3,395.0 414.1,398.0 425.8,394.0 439.5,397.0 451.2,401.0 463.0,410.0 455.2,414.0 445.4,418.0 432.7,421.0 425.8,430.0 420.0,436.0 408.2,435.0 400.4,426.0 390.6,422.0 380.8,416.0" fill="#555" filter="url(#cont)"/>
<g filter="url(#cont)">
<ellipse cx="419.0" cy="390.0" rx="4.9" ry="12.0" transform="rotate(18 419.0 390.0)" fill="none" stroke="#484848" stroke-width="4.9"/>
<ellipse cx="438.5" cy="389.0" rx="4.9" ry="12.0" transform="rotate(28 438.5 389.0)" fill="none" stroke="#484848" stroke-width="4.9"/>
<ellipse cx="451.2" cy="394.0" rx="2.9" ry="9.0" transform="rotate(30 451.2 394.0)" fill="none" stroke="#484848" stroke-width="4.9"/>
</g>
<circle cx="194.6" cy="111.3" r="4.0" fill="url(#gB)"/>
<circle cx="291.9" cy="127.5" r="4.0" fill="url(#gB)"/>
<circle cx="385.3" cy="123.3" r="4.0" fill="url(#gB)"/>
<circle cx="448.6" cy="121.0" r="14.0" fill="url(#gAr)"/>
<circle cx="327.6" cy="147.6" r="9.4" fill="url(#gO)"/>
<circle cx="410.3" cy="148.2" r="9.0" fill="url(#gN)"/>
<circle cx="226.0" cy="163.2" r="9.4" fill="url(#gO)"/>
<circle cx="374.0" cy="171.3" r="4.0" fill="url(#gB)"/>
<circle cx="415.2" cy="185.5" r="14.0" fill="url(#gAr)"/>
<circle cx="293.5" cy="192.0" r="9.0" fill="url(#gN)"/>
<circle cx="455.7" cy="183.3" r="5.0" fill="url(#gOr)"/>
<circle cx="348.7" cy="196.2" r="5.0" fill="url(#gOr)"/>
<circle cx="259.0" cy="199.4" r="4.0" fill="url(#gB)"/>
<circle cx="501.0" cy="197.7" r="4.0" fill="url(#gB)"/>
<circle cx="218.5" cy="221.8" r="5.0" fill="url(#gOr)"/>
<circle cx="280.8" cy="237.3" r="4.0" fill="url(#gB)"/>
<circle cx="333.4" cy="231.2" r="4.0" fill="url(#gB)"/>
<circle cx="398.1" cy="222.9" r="9.4" fill="url(#gO)"/>
<circle cx="459.1" cy="223.9" r="4.0" fill="url(#gB)"/>
<circle cx="437.3" cy="239.6" r="9.0" fill="url(#gN)"/>
<polygon points="697.0,345.0 1093.9,479.5 1088.6,521.9 703.6,378.0" fill="url(#pLeft)"/>
<polygon points="1093.9,479.5 1212.6,288.6 1207.0,317.0 1088.6,521.9" fill="url(#pRight)"/>
<polygon points="920.0,234.0 1212.6,288.6 1093.9,479.5 697.0,345.0" fill="url(#pTop)"/>
<polygon points="696.0,329.0 1091.0,470.0 1089.0,479.0 697.0,343.0" fill="#cfe0e2"/>
<polygon points="1091.0,470.0 1208.0,279.0 1210.0,288.0 1089.0,479.0" fill="#b4c8cb"/>
<polyline points="696.0,331.9 705.9,335.1 715.8,338.5 725.6,342.2 735.5,346.2 745.4,350.2 755.2,354.4 765.1,358.4 775.0,362.3 784.9,366.0 794.8,369.3 804.6,372.5 814.5,375.4 824.4,378.3 834.2,381.2 844.1,384.2 854.0,387.4 863.9,391.0 873.8,394.7 883.6,398.7 893.5,402.8 903.4,406.9 913.2,410.9 923.1,414.8 933.0,418.4 942.9,421.7 952.8,424.8 962.6,427.7 972.5,430.6 982.4,433.5 992.2,436.6 1002.1,439.9 1012.0,443.4 1021.9,447.2 1031.8,451.2 1041.6,455.4 1051.5,459.5 1061.4,463.5 1071.2,467.3 1081.1,470.8 1091.0,474.1" fill="none" stroke="#f2f8f8" stroke-width="1.3" opacity="0.9"/>
<polyline points="696.0,338.5 705.9,341.7 715.8,344.7 725.6,347.6 735.5,350.5 745.4,353.4 755.2,356.4 765.1,359.8 775.0,363.3 784.9,367.2 794.8,371.2 804.6,375.3 814.5,379.3 824.4,383.3 834.2,387.0 844.1,390.4 854.0,393.6 863.9,396.6 873.8,399.5 883.6,402.3 893.5,405.2 903.4,408.4 913.2,411.7 923.1,415.4 933.0,419.3 942.9,423.3 952.8,427.4 962.6,431.4 972.5,435.3 982.4,439.0 992.2,442.4 1002.1,445.5 1012.0,448.5 1021.9,451.3 1031.8,454.1 1041.6,457.1 1051.5,460.3 1061.4,463.7 1071.2,467.4 1081.1,471.3 1091.0,475.4" fill="none" stroke="#f2f8f8" stroke-width="1.3" opacity="0.9"/>
<polyline points="696.0,338.5 705.9,342.1 715.8,345.9 725.6,349.9 735.5,354.0 745.4,358.0 755.2,361.9 765.1,365.6 775.0,369.0 784.9,372.1 794.8,375.1 804.6,377.9 814.5,380.7 824.4,383.7 834.2,386.8 844.1,390.1 854.0,393.8 863.9,397.6 873.8,401.7 883.6,405.7 893.5,409.8 903.4,413.6 913.2,417.2 923.1,420.6 933.0,423.7 942.9,426.6 952.8,429.4 962.6,432.2 972.5,435.2 982.4,438.4 992.2,441.8 1002.1,445.5 1012.0,449.4 1021.9,453.4 1031.8,457.5 1041.6,461.5 1051.5,465.3 1061.4,468.9 1071.2,472.2 1081.1,475.2 1091.0,478.1" fill="none" stroke="#f2f8f8" stroke-width="1.3" opacity="0.9"/>
<polygon points="918.0,224.0 1208.0,279.0 1091.0,470.0 696.0,329.0" fill="#c3d9dc"/>
<polygon points="925.3,237.1 987.7,248.8 947.9,273.4 881.8,259.3" fill="#a9b9ba"/>
<polygon points="930.3,244.0 978.6,253.4 954.7,268.1 904.7,257.6" fill="#6a6644"/>
<circle cx="942.2" cy="254.2" r="3.2" fill="#9a4cc0"/><circle cx="943.7" cy="251.2" r="2.2" fill="#e8c020"/>
<circle cx="918.8" cy="257.1" r="3.2" fill="#9a4cc0"/><circle cx="920.3" cy="254.1" r="2.2" fill="#e8c020"/>
<circle cx="921.0" cy="251.9" r="3.2" fill="#9a4cc0"/><circle cx="922.5" cy="248.9" r="2.2" fill="#e8c020"/>
<circle cx="965.9" cy="254.4" r="3.2" fill="#9a4cc0"/><circle cx="967.4" cy="251.4" r="2.2" fill="#e8c020"/>
<circle cx="941.0" cy="257.7" r="3.2" fill="#9a4cc0"/><circle cx="942.5" cy="254.7" r="2.2" fill="#e8c020"/>
<circle cx="925.0" cy="250.8" r="3.2" fill="#9a4cc0"/><circle cx="926.5" cy="247.8" r="2.2" fill="#e8c020"/>
<circle cx="950.6" cy="257.1" r="3.2" fill="#9a4cc0"/><circle cx="952.1" cy="254.1" r="2.2" fill="#e8c020"/>
<circle cx="957.2" cy="253.9" r="3.2" fill="#9a4cc0"/><circle cx="958.7" cy="250.9" r="2.2" fill="#e8c020"/>
<circle cx="938.2" cy="249.5" r="3.2" fill="#9a4cc0"/><circle cx="939.7" cy="246.5" r="2.2" fill="#e8c020"/>
<polygon points="873.9,263.3 940.6,277.9 890.5,308.9 819.8,290.9" fill="#a9b9ba"/>
<polygon points="877.8,271.9 929.5,283.6 899.4,302.1 845.8,288.9" fill="#6a6644"/>
<circle cx="881.9" cy="288.8" r="3.2" fill="#9a4cc0"/><circle cx="883.4" cy="285.8" r="2.2" fill="#e8c020"/>
<circle cx="903.2" cy="283.4" r="3.2" fill="#9a4cc0"/><circle cx="904.7" cy="280.4" r="2.2" fill="#e8c020"/>
<circle cx="869.0" cy="280.0" r="3.2" fill="#9a4cc0"/><circle cx="870.5" cy="277.0" r="2.2" fill="#e8c020"/>
<circle cx="869.1" cy="288.9" r="3.2" fill="#9a4cc0"/><circle cx="870.6" cy="285.9" r="2.2" fill="#e8c020"/>
<circle cx="893.0" cy="290.2" r="3.2" fill="#9a4cc0"/><circle cx="894.5" cy="287.2" r="2.2" fill="#e8c020"/>
<circle cx="885.5" cy="289.7" r="3.2" fill="#9a4cc0"/><circle cx="887.0" cy="286.7" r="2.2" fill="#e8c020"/>
<circle cx="873.1" cy="282.3" r="3.2" fill="#9a4cc0"/><circle cx="874.6" cy="279.3" r="2.2" fill="#e8c020"/>
<circle cx="861.7" cy="289.1" r="3.2" fill="#9a4cc0"/><circle cx="863.2" cy="286.1" r="2.2" fill="#e8c020"/>
<circle cx="859.5" cy="286.7" r="3.2" fill="#9a4cc0"/><circle cx="861.0" cy="283.7" r="2.2" fill="#e8c020"/>
<polygon points="809.8,296.0 881.2,314.6 816.1,354.8 740.6,331.3" fill="#a9b9ba"/>
<polygon points="811.8,306.9 867.2,321.9 828.1,345.9 770.8,328.7" fill="#6a6644"/>
<circle cx="855.8" cy="323.2" r="3.2" fill="#9a4cc0"/><circle cx="857.3" cy="320.2" r="2.2" fill="#e8c020"/>
<circle cx="840.3" cy="322.8" r="3.2" fill="#9a4cc0"/><circle cx="841.8" cy="319.8" r="2.2" fill="#e8c020"/>
<circle cx="856.7" cy="323.6" r="3.2" fill="#9a4cc0"/><circle cx="858.2" cy="320.6" r="2.2" fill="#e8c020"/>
<circle cx="830.6" cy="334.7" r="3.2" fill="#9a4cc0"/><circle cx="832.1" cy="331.7" r="2.2" fill="#e8c020"/>
<circle cx="818.9" cy="340.7" r="3.2" fill="#9a4cc0"/><circle cx="820.4" cy="337.7" r="2.2" fill="#e8c020"/>
<circle cx="811.3" cy="319.6" r="3.2" fill="#9a4cc0"/><circle cx="812.8" cy="316.6" r="2.2" fill="#e8c020"/>
<circle cx="835.2" cy="324.7" r="3.2" fill="#9a4cc0"/><circle cx="836.7" cy="321.7" r="2.2" fill="#e8c020"/>
<circle cx="815.9" cy="317.9" r="3.2" fill="#9a4cc0"/><circle cx="817.4" cy="314.9" r="2.2" fill="#e8c020"/>
<circle cx="823.1" cy="338.2" r="3.2" fill="#9a4cc0"/><circle cx="824.6" cy="335.2" r="2.2" fill="#e8c020"/>
<polygon points="1003.3,251.8 1074.0,265.1 1040.4,293.2 964.5,277.0" fill="#a9b9ba"/>
<polygon points="1011.1,259.6 1066.0,270.2 1045.8,287.0 988.4,275.1" fill="#6a6644"/>
<circle cx="1015.3" cy="269.0" r="3.2" fill="#9a4cc0"/><circle cx="1016.8" cy="266.0" r="2.2" fill="#e8c020"/>
<circle cx="1014.5" cy="269.0" r="3.2" fill="#9a4cc0"/><circle cx="1016.0" cy="266.0" r="2.2" fill="#e8c020"/>
<circle cx="1027.3" cy="275.7" r="3.2" fill="#9a4cc0"/><circle cx="1028.8" cy="272.7" r="2.2" fill="#e8c020"/>
<circle cx="1017.9" cy="269.0" r="3.2" fill="#9a4cc0"/><circle cx="1019.4" cy="266.0" r="2.2" fill="#e8c020"/>
<circle cx="1006.1" cy="274.2" r="3.2" fill="#9a4cc0"/><circle cx="1007.6" cy="271.2" r="2.2" fill="#e8c020"/>
<circle cx="1010.3" cy="276.2" r="3.2" fill="#9a4cc0"/><circle cx="1011.8" cy="273.2" r="2.2" fill="#e8c020"/>
<circle cx="1015.7" cy="263.1" r="3.2" fill="#9a4cc0"/><circle cx="1017.2" cy="260.1" r="2.2" fill="#e8c020"/>
<circle cx="1024.6" cy="271.4" r="3.2" fill="#9a4cc0"/><circle cx="1026.1" cy="268.4" r="2.2" fill="#e8c020"/>
<circle cx="1032.5" cy="280.5" r="3.2" fill="#9a4cc0"/><circle cx="1034.0" cy="277.5" r="2.2" fill="#e8c020"/>
<polygon points="957.4,281.6 1034.2,298.4 991.1,334.4 908.4,313.4" fill="#a9b9ba"/>
<polygon points="964.5,291.4 1024.3,304.9 998.4,326.4 935.9,311.0" fill="#6a6644"/>
<circle cx="997.0" cy="302.5" r="3.2" fill="#9a4cc0"/><circle cx="998.5" cy="299.5" r="2.2" fill="#e8c020"/>
<circle cx="974.3" cy="301.4" r="3.2" fill="#9a4cc0"/><circle cx="975.8" cy="298.4" r="2.2" fill="#e8c020"/>
<circle cx="988.0" cy="314.5" r="3.2" fill="#9a4cc0"/><circle cx="989.5" cy="311.5" r="2.2" fill="#e8c020"/>
<circle cx="1008.7" cy="306.5" r="3.2" fill="#9a4cc0"/><circle cx="1010.2" cy="303.5" r="2.2" fill="#e8c020"/>
<circle cx="985.9" cy="300.1" r="3.2" fill="#9a4cc0"/><circle cx="987.4" cy="297.1" r="2.2" fill="#e8c020"/>
<circle cx="965.2" cy="305.3" r="3.2" fill="#9a4cc0"/><circle cx="966.7" cy="302.3" r="2.2" fill="#e8c020"/>
<circle cx="962.6" cy="298.2" r="3.2" fill="#9a4cc0"/><circle cx="964.1" cy="295.2" r="2.2" fill="#e8c020"/>
<circle cx="986.4" cy="311.2" r="3.2" fill="#9a4cc0"/><circle cx="987.9" cy="308.2" r="2.2" fill="#e8c020"/>
<circle cx="963.4" cy="306.7" r="3.2" fill="#9a4cc0"/><circle cx="964.9" cy="303.7" r="2.2" fill="#e8c020"/>
<polygon points="899.3,319.3 983.0,341.1 925.8,389.0 835.4,360.8" fill="#a9b9ba"/>
<polygon points="905.1,332.1 970.4,349.7 936.0,378.3 867.6,357.7" fill="#6a6644"/>
<circle cx="906.0" cy="350.7" r="3.2" fill="#9a4cc0"/><circle cx="907.5" cy="347.7" r="2.2" fill="#e8c020"/>
<circle cx="900.1" cy="344.6" r="3.2" fill="#9a4cc0"/><circle cx="901.6" cy="341.6" r="2.2" fill="#e8c020"/>
<circle cx="909.1" cy="337.8" r="3.2" fill="#9a4cc0"/><circle cx="910.6" cy="334.8" r="2.2" fill="#e8c020"/>
<circle cx="917.5" cy="343.1" r="3.2" fill="#9a4cc0"/><circle cx="919.0" cy="340.1" r="2.2" fill="#e8c020"/>
<circle cx="900.5" cy="356.9" r="3.2" fill="#9a4cc0"/><circle cx="902.0" cy="353.9" r="2.2" fill="#e8c020"/>
<circle cx="889.0" cy="349.9" r="3.2" fill="#9a4cc0"/><circle cx="890.5" cy="346.9" r="2.2" fill="#e8c020"/>
<circle cx="889.2" cy="355.2" r="3.2" fill="#9a4cc0"/><circle cx="890.7" cy="352.2" r="2.2" fill="#e8c020"/>
<circle cx="940.0" cy="352.0" r="3.2" fill="#9a4cc0"/><circle cx="941.5" cy="349.0" r="2.2" fill="#e8c020"/>
<circle cx="931.9" cy="365.2" r="3.2" fill="#9a4cc0"/><circle cx="933.4" cy="362.2" r="2.2" fill="#e8c020"/>
<polygon points="1091.8,268.4 1172.7,283.7 1147.7,316.1 1059.6,297.3" fill="#a9b9ba"/>
<polygon points="1103.1,277.4 1166.1,289.6 1151.0,309.0 1084.6,295.1" fill="#6a6644"/>
<circle cx="1150.4" cy="294.3" r="3.2" fill="#9a4cc0"/><circle cx="1151.9" cy="291.3" r="2.2" fill="#e8c020"/>
<circle cx="1127.9" cy="287.1" r="3.2" fill="#9a4cc0"/><circle cx="1129.4" cy="284.1" r="2.2" fill="#e8c020"/>
<circle cx="1156.9" cy="293.2" r="3.2" fill="#9a4cc0"/><circle cx="1158.4" cy="290.2" r="2.2" fill="#e8c020"/>
<circle cx="1133.4" cy="296.4" r="3.2" fill="#9a4cc0"/><circle cx="1134.9" cy="293.4" r="2.2" fill="#e8c020"/>
<circle cx="1138.2" cy="293.9" r="3.2" fill="#9a4cc0"/><circle cx="1139.7" cy="290.9" r="2.2" fill="#e8c020"/>
<circle cx="1120.1" cy="290.1" r="3.2" fill="#9a4cc0"/><circle cx="1121.6" cy="287.1" r="2.2" fill="#e8c020"/>
<circle cx="1105.0" cy="285.7" r="3.2" fill="#9a4cc0"/><circle cx="1106.5" cy="282.7" r="2.2" fill="#e8c020"/>
<circle cx="1109.1" cy="294.7" r="3.2" fill="#9a4cc0"/><circle cx="1110.6" cy="291.7" r="2.2" fill="#e8c020"/>
<circle cx="1127.7" cy="286.4" r="3.2" fill="#9a4cc0"/><circle cx="1129.2" cy="283.4" r="2.2" fill="#e8c020"/>
<polygon points="1053.6,302.6 1143.0,322.2 1110.2,364.6 1012.2,339.7" fill="#a9b9ba"/>
<polygon points="1065.0,314.1 1134.8,329.8 1115.0,355.2 1041.2,337.0" fill="#6a6644"/>
<circle cx="1074.6" cy="331.1" r="3.2" fill="#9a4cc0"/><circle cx="1076.1" cy="328.1" r="2.2" fill="#e8c020"/>
<circle cx="1092.3" cy="334.3" r="3.2" fill="#9a4cc0"/><circle cx="1093.8" cy="331.3" r="2.2" fill="#e8c020"/>
<circle cx="1093.2" cy="335.1" r="3.2" fill="#9a4cc0"/><circle cx="1094.7" cy="332.1" r="2.2" fill="#e8c020"/>
<circle cx="1094.0" cy="328.6" r="3.2" fill="#9a4cc0"/><circle cx="1095.5" cy="325.6" r="2.2" fill="#e8c020"/>
<circle cx="1069.2" cy="324.1" r="3.2" fill="#9a4cc0"/><circle cx="1070.7" cy="321.1" r="2.2" fill="#e8c020"/>
<circle cx="1112.7" cy="328.9" r="3.2" fill="#9a4cc0"/><circle cx="1114.2" cy="325.9" r="2.2" fill="#e8c020"/>
<circle cx="1080.3" cy="330.5" r="3.2" fill="#9a4cc0"/><circle cx="1081.8" cy="327.5" r="2.2" fill="#e8c020"/>
<circle cx="1092.1" cy="333.6" r="3.2" fill="#9a4cc0"/><circle cx="1093.6" cy="330.6" r="2.2" fill="#e8c020"/>
<circle cx="1102.0" cy="348.3" r="3.2" fill="#9a4cc0"/><circle cx="1103.5" cy="345.3" r="2.2" fill="#e8c020"/>
<polygon points="1004.4,346.7 1104.0,372.7 1059.3,430.6 949.1,396.3" fill="#a9b9ba"/>
<polygon points="1015.3,361.8 1093.4,382.9 1066.5,417.5 983.4,392.5" fill="#6a6644"/>
<circle cx="1018.1" cy="398.3" r="3.2" fill="#9a4cc0"/><circle cx="1019.6" cy="395.3" r="2.2" fill="#e8c020"/>
<circle cx="1023.1" cy="377.9" r="3.2" fill="#9a4cc0"/><circle cx="1024.6" cy="374.9" r="2.2" fill="#e8c020"/>
<circle cx="1038.9" cy="380.4" r="3.2" fill="#9a4cc0"/><circle cx="1040.4" cy="377.4" r="2.2" fill="#e8c020"/>
<circle cx="1016.2" cy="393.9" r="3.2" fill="#9a4cc0"/><circle cx="1017.7" cy="390.9" r="2.2" fill="#e8c020"/>
<circle cx="1047.2" cy="377.8" r="3.2" fill="#9a4cc0"/><circle cx="1048.7" cy="374.8" r="2.2" fill="#e8c020"/>
<circle cx="1068.1" cy="388.2" r="3.2" fill="#9a4cc0"/><circle cx="1069.6" cy="385.2" r="2.2" fill="#e8c020"/>
<circle cx="1067.8" cy="382.8" r="3.2" fill="#9a4cc0"/><circle cx="1069.3" cy="379.8" r="2.2" fill="#e8c020"/>
<circle cx="1046.8" cy="394.2" r="3.2" fill="#9a4cc0"/><circle cx="1048.3" cy="391.2" r="2.2" fill="#e8c020"/>
<circle cx="1033.6" cy="404.1" r="3.2" fill="#9a4cc0"/><circle cx="1035.1" cy="401.1" r="2.2" fill="#e8c020"/>
<ellipse cx="1000" cy="195" rx="22" ry="45" fill="url(#glow)"/>
<circle cx="903.0" cy="184.5" r="6.0" fill="url(#gH)"/>
<circle cx="922.6" cy="188.0" r="6.0" fill="url(#gH)"/>
<circle cx="914.5" cy="177.4" r="11.0" fill="url(#gN)"/>
<circle cx="979.5" cy="159.9" r="6.0" fill="url(#gH)"/>
<circle cx="991.8" cy="161.6" r="10.0" fill="url(#gO)"/>
<circle cx="985.8" cy="223.1" r="6.0" fill="url(#gH)"/>
<circle cx="998.8" cy="223.1" r="10.0" fill="url(#gO)"/>
<circle cx="1005.8" cy="233.7" r="6.0" fill="url(#gH)"/>
<polygon points="1323.0,345.0 1719.9,479.5 1714.6,521.9 1329.6,378.0" fill="url(#pLeft)"/>
<polygon points="1719.9,479.5 1838.6,288.6 1833.0,317.0 1714.6,521.9" fill="url(#pRight)"/>
<polygon points="1546.0,234.0 1838.6,288.6 1719.9,479.5 1323.0,345.0" fill="url(#pTop)"/>
<polygon points="1553.5,244.6 1604.5,254.5 1573.9,273.4 1520.6,262.0" fill="#64613f"/>
<polygon points="1500.6,272.6 1555.1,285.0 1516.5,308.9 1459.4,294.4" fill="#64613f"/>
<polygon points="1434.0,307.8 1492.4,323.7 1442.1,354.8 1381.1,335.8" fill="#64613f"/>
<polygon points="1634.3,260.3 1692.3,271.6 1666.4,293.2 1605.2,280.1" fill="#64613f"/>
<polygon points="1587.3,292.3 1650.4,306.6 1617.1,334.4 1550.3,317.4" fill="#64613f"/>
<polygon points="1527.2,333.1 1596.2,351.9 1551.8,389.0 1478.6,366.2" fill="#64613f"/>
<polygon points="1726.3,278.2 1793.0,291.1 1773.7,316.1 1702.5,300.9" fill="#64613f"/>
<polygon points="1687.8,315.0 1761.6,331.8 1736.2,364.6 1656.9,344.5" fill="#64613f"/>
<polygon points="1637.5,363.1 1720.1,385.6 1685.3,430.6 1595.9,402.8" fill="#64613f"/>
<line x1="1612.4" y1="296.1" x2="1612.4" y2="287.1" stroke="#2a7a8a" stroke-width="2.2"/>
<circle cx="1612.4" cy="286.1" r="4.6" fill="url(#gO)"/>
<circle cx="1610.9" cy="281.6" r="2.4" fill="url(#gH)"/>
<line x1="1473.0" y1="313.3" x2="1473.0" y2="304.3" stroke="#2a7a8a" stroke-width="2.2"/>
<circle cx="1473.0" cy="303.3" r="4.6" fill="url(#gO)"/>
<circle cx="1471.5" cy="298.8" r="2.4" fill="url(#gH)"/>
<line x1="1703.1" y1="270.4" x2="1703.1" y2="261.4" stroke="#2a7a8a" stroke-width="2.2"/>
<circle cx="1703.1" cy="260.4" r="4.6" fill="url(#gO)"/>
<circle cx="1701.6" cy="255.9" r="2.4" fill="url(#gH)"/>
<line x1="1399.8" y1="351.0" x2="1399.8" y2="342.0" stroke="#7a3a8a" stroke-width="2.2"/>
<circle cx="1399.8" cy="341.0" r="4.6" fill="url(#gN)"/>
<circle cx="1398.3" cy="336.5" r="2.4" fill="url(#gH)"/>
<circle cx="1402.3" cy="337.5" r="2.2" fill="url(#gH)"/>
<line x1="1539.7" y1="249.1" x2="1539.7" y2="240.1" stroke="#7a3a8a" stroke-width="2.2"/>
<circle cx="1539.7" cy="239.1" r="4.6" fill="url(#gN)"/>
<circle cx="1538.2" cy="234.6" r="2.4" fill="url(#gH)"/>
<circle cx="1542.2" cy="235.6" r="2.2" fill="url(#gH)"/>
<line x1="1436.2" y1="305.7" x2="1436.2" y2="296.7" stroke="#7a3a8a" stroke-width="2.2"/>
<circle cx="1436.2" cy="295.7" r="4.6" fill="url(#gN)"/>
<circle cx="1434.7" cy="291.2" r="2.4" fill="url(#gH)"/>
<circle cx="1438.7" cy="292.2" r="2.2" fill="url(#gH)"/>
<line x1="1673.5" y1="430.1" x2="1673.5" y2="421.1" stroke="#2a7a8a" stroke-width="2.2"/>
<circle cx="1673.5" cy="420.1" r="4.6" fill="url(#gO)"/>
<circle cx="1672.0" cy="415.6" r="2.4" fill="url(#gH)"/>
<line x1="1622.4" y1="364.1" x2="1622.4" y2="355.1" stroke="#2a7a8a" stroke-width="2.2"/>
<circle cx="1622.4" cy="354.1" r="4.6" fill="url(#gO)"/>
<circle cx="1620.9" cy="349.6" r="2.4" fill="url(#gH)"/>
<line x1="1625.8" y1="255.9" x2="1625.8" y2="246.9" stroke="#7a3a8a" stroke-width="2.2"/>
<circle cx="1625.8" cy="245.9" r="4.6" fill="url(#gN)"/>
<circle cx="1624.3" cy="241.4" r="2.4" fill="url(#gH)"/>
<circle cx="1628.3" cy="242.4" r="2.2" fill="url(#gH)"/>
<line x1="1498.5" y1="271.2" x2="1498.5" y2="262.2" stroke="#2a7a8a" stroke-width="2.2"/>
<circle cx="1498.5" cy="261.2" r="4.6" fill="url(#gO)"/>
<circle cx="1497.0" cy="256.7" r="2.4" fill="url(#gH)"/>
<line x1="1817.2" y1="287.6" x2="1817.2" y2="278.6" stroke="#7a3a8a" stroke-width="2.2"/>
<circle cx="1817.2" cy="277.6" r="4.6" fill="url(#gN)"/>
<circle cx="1815.7" cy="273.1" r="2.4" fill="url(#gH)"/>
<circle cx="1819.7" cy="274.1" r="2.2" fill="url(#gH)"/>
<line x1="1464.6" y1="357.8" x2="1464.6" y2="348.8" stroke="#2a7a8a" stroke-width="2.2"/>
<circle cx="1464.6" cy="347.8" r="4.6" fill="url(#gO)"/>
<circle cx="1463.1" cy="343.3" r="2.4" fill="url(#gH)"/>
<line x1="1683.4" y1="264.0" x2="1683.4" y2="255.0" stroke="#2a7a8a" stroke-width="2.2"/>
<circle cx="1683.4" cy="254.0" r="4.6" fill="url(#gO)"/>
<circle cx="1681.9" cy="249.5" r="2.4" fill="url(#gH)"/>
<line x1="1731.2" y1="392.6" x2="1731.2" y2="383.6" stroke="#2a7a8a" stroke-width="2.2"/>
<circle cx="1731.2" cy="382.6" r="4.6" fill="url(#gO)"/>
<circle cx="1729.7" cy="378.1" r="2.4" fill="url(#gH)"/>
<line x1="1463.5" y1="289.5" x2="1463.5" y2="280.5" stroke="#7a3a8a" stroke-width="2.2"/>
<circle cx="1463.5" cy="279.5" r="4.6" fill="url(#gN)"/>
<circle cx="1462.0" cy="275.0" r="2.4" fill="url(#gH)"/>
<circle cx="1466.0" cy="276.0" r="2.2" fill="url(#gH)"/>
<line x1="1382.7" y1="327.2" x2="1382.7" y2="318.2" stroke="#2a7a8a" stroke-width="2.2"/>
<circle cx="1382.7" cy="317.2" r="4.6" fill="url(#gO)"/>
<circle cx="1381.2" cy="312.7" r="2.4" fill="url(#gH)"/>
<line x1="1792.8" y1="314.7" x2="1792.8" y2="305.7" stroke="#7a3a8a" stroke-width="2.2"/>
<circle cx="1792.8" cy="304.7" r="4.6" fill="url(#gN)"/>
<circle cx="1791.3" cy="300.2" r="2.4" fill="url(#gH)"/>
<circle cx="1795.3" cy="301.2" r="2.2" fill="url(#gH)"/>
<line x1="1590.3" y1="347.0" x2="1590.3" y2="338.0" stroke="#2a7a8a" stroke-width="2.2"/>
<circle cx="1590.3" cy="337.0" r="4.6" fill="url(#gO)"/>
<circle cx="1588.8" cy="332.5" r="2.4" fill="url(#gH)"/>
<line x1="1609.0" y1="272.6" x2="1609.0" y2="263.6" stroke="#2a7a8a" stroke-width="2.2"/>
<circle cx="1609.0" cy="262.6" r="4.6" fill="url(#gO)"/>
<circle cx="1607.5" cy="258.1" r="2.4" fill="url(#gH)"/>
<line x1="1770.7" y1="369.9" x2="1770.7" y2="360.9" stroke="#2a7a8a" stroke-width="2.2"/>
<circle cx="1770.7" cy="359.9" r="4.6" fill="url(#gO)"/>
<circle cx="1769.2" cy="355.4" r="2.4" fill="url(#gH)"/>
<line x1="1544.9" y1="319.2" x2="1544.9" y2="310.2" stroke="#2a7a8a" stroke-width="2.2"/>
<circle cx="1544.9" cy="309.2" r="4.6" fill="url(#gO)"/>
<circle cx="1543.4" cy="304.7" r="2.4" fill="url(#gH)"/>
<line x1="1614.3" y1="289.3" x2="1614.3" y2="280.3" stroke="#2a7a8a" stroke-width="2.2"/>
<circle cx="1614.3" cy="279.3" r="4.6" fill="url(#gO)"/>
<circle cx="1612.8" cy="274.8" r="2.4" fill="url(#gH)"/>
<line x1="1581.4" y1="276.6" x2="1581.4" y2="267.6" stroke="#7a3a8a" stroke-width="2.2"/>
<circle cx="1581.4" cy="266.6" r="4.6" fill="url(#gN)"/>
<circle cx="1579.9" cy="262.1" r="2.4" fill="url(#gH)"/>
<circle cx="1583.9" cy="263.1" r="2.2" fill="url(#gH)"/>
<line x1="1756.1" y1="278.7" x2="1756.1" y2="269.7" stroke="#7a3a8a" stroke-width="2.2"/>
<circle cx="1756.1" cy="268.7" r="4.6" fill="url(#gN)"/>
<circle cx="1754.6" cy="264.2" r="2.4" fill="url(#gH)"/>
<circle cx="1758.6" cy="265.2" r="2.2" fill="url(#gH)"/>
<line x1="1413.5" y1="360.0" x2="1413.5" y2="351.0" stroke="#2a7a8a" stroke-width="2.2"/>
<circle cx="1413.5" cy="350.0" r="4.6" fill="url(#gO)"/>
<circle cx="1412.0" cy="345.5" r="2.4" fill="url(#gH)"/>
<line x1="1509.8" y1="389.0" x2="1509.8" y2="380.0" stroke="#7a3a8a" stroke-width="2.2"/>
<circle cx="1509.8" cy="379.0" r="4.6" fill="url(#gN)"/>
<circle cx="1508.3" cy="374.5" r="2.4" fill="url(#gH)"/>
<circle cx="1512.3" cy="375.5" r="2.2" fill="url(#gH)"/>
<line x1="1529.7" y1="326.7" x2="1529.7" y2="317.7" stroke="#2a7a8a" stroke-width="2.2"/>
<circle cx="1529.7" cy="316.7" r="4.6" fill="url(#gO)"/>
<circle cx="1528.2" cy="312.2" r="2.4" fill="url(#gH)"/>
<line x1="1599.0" y1="394.6" x2="1599.0" y2="385.6" stroke="#2a7a8a" stroke-width="2.2"/>
<circle cx="1599.0" cy="384.6" r="4.6" fill="url(#gO)"/>
<circle cx="1597.5" cy="380.1" r="2.4" fill="url(#gH)"/>
<line x1="1356.8" y1="344.5" x2="1356.8" y2="335.5" stroke="#2a7a8a" stroke-width="2.2"/>
<circle cx="1356.8" cy="334.5" r="4.6" fill="url(#gO)"/>
<circle cx="1355.3" cy="330.0" r="2.4" fill="url(#gH)"/>
<line x1="1483.3" y1="278.0" x2="1483.3" y2="269.0" stroke="#2a7a8a" stroke-width="2.2"/>
<circle cx="1483.3" cy="268.0" r="4.6" fill="url(#gO)"/>
<circle cx="1481.8" cy="263.5" r="2.4" fill="url(#gH)"/>
<line x1="1617.2" y1="251.1" x2="1617.2" y2="242.1" stroke="#2a7a8a" stroke-width="2.2"/>
<circle cx="1617.2" cy="241.1" r="4.6" fill="url(#gO)"/>
<circle cx="1615.7" cy="236.6" r="2.4" fill="url(#gH)"/>
<line x1="1541.4" y1="296.4" x2="1541.4" y2="287.4" stroke="#2a7a8a" stroke-width="2.2"/>
<circle cx="1541.4" cy="286.4" r="4.6" fill="url(#gO)"/>
<circle cx="1539.9" cy="281.9" r="2.4" fill="url(#gH)"/>
<line x1="1467.5" y1="286.2" x2="1467.5" y2="277.2" stroke="#2a7a8a" stroke-width="2.2"/>
<circle cx="1467.5" cy="276.2" r="4.6" fill="url(#gO)"/>
<circle cx="1466.0" cy="271.7" r="2.4" fill="url(#gH)"/>
<line x1="1639.8" y1="338.3" x2="1639.8" y2="329.3" stroke="#7a3a8a" stroke-width="2.2"/>
<circle cx="1639.8" cy="328.3" r="4.6" fill="url(#gN)"/>
<circle cx="1638.3" cy="323.8" r="2.4" fill="url(#gH)"/>
<circle cx="1642.3" cy="324.8" r="2.2" fill="url(#gH)"/>
<line x1="1643.4" y1="331.8" x2="1643.4" y2="322.8" stroke="#2a7a8a" stroke-width="2.2"/>
<circle cx="1643.4" cy="321.8" r="4.6" fill="url(#gO)"/>
<circle cx="1641.9" cy="317.3" r="2.4" fill="url(#gH)"/>
<line x1="1723.0" y1="272.9" x2="1723.0" y2="263.9" stroke="#2a7a8a" stroke-width="2.2"/>
<circle cx="1723.0" cy="262.9" r="4.6" fill="url(#gO)"/>
<circle cx="1721.5" cy="258.4" r="2.4" fill="url(#gH)"/>
<line x1="1572.4" y1="386.6" x2="1572.4" y2="377.6" stroke="#2a7a8a" stroke-width="2.2"/>
<circle cx="1572.4" cy="376.6" r="4.6" fill="url(#gO)"/>
<circle cx="1570.9" cy="372.1" r="2.4" fill="url(#gH)"/>
<line x1="1699.8" y1="275.1" x2="1699.8" y2="266.1" stroke="#2a7a8a" stroke-width="2.2"/>
<circle cx="1699.8" cy="265.1" r="4.6" fill="url(#gO)"/>
<circle cx="1698.3" cy="260.6" r="2.4" fill="url(#gH)"/>
<line x1="1676.3" y1="315.9" x2="1676.3" y2="306.9" stroke="#2a7a8a" stroke-width="2.2"/>
<circle cx="1676.3" cy="305.9" r="4.6" fill="url(#gO)"/>
<circle cx="1674.8" cy="301.4" r="2.4" fill="url(#gH)"/>
<line x1="1561.6" y1="242.6" x2="1561.6" y2="233.6" stroke="#2a7a8a" stroke-width="2.2"/>
<circle cx="1561.6" cy="232.6" r="4.6" fill="url(#gO)"/>
<circle cx="1560.1" cy="228.1" r="2.4" fill="url(#gH)"/>
<line x1="1563.1" y1="242.4" x2="1563.1" y2="233.4" stroke="#7a3a8a" stroke-width="2.2"/>
<circle cx="1563.1" cy="232.4" r="4.6" fill="url(#gN)"/>
<circle cx="1561.6" cy="227.9" r="2.4" fill="url(#gH)"/>
<circle cx="1565.6" cy="228.9" r="2.2" fill="url(#gH)"/>
<line x1="1405.0" y1="313.9" x2="1405.0" y2="304.9" stroke="#2a7a8a" stroke-width="2.2"/>
<circle cx="1405.0" cy="303.9" r="4.6" fill="url(#gO)"/>
<circle cx="1403.5" cy="299.4" r="2.4" fill="url(#gH)"/>
<line x1="1516.4" y1="267.4" x2="1516.4" y2="258.4" stroke="#2a7a8a" stroke-width="2.2"/>
<circle cx="1516.4" cy="257.4" r="4.6" fill="url(#gO)"/>
<circle cx="1514.9" cy="252.9" r="2.4" fill="url(#gH)"/>
<line x1="1755.2" y1="369.4" x2="1755.2" y2="360.4" stroke="#2a7a8a" stroke-width="2.2"/>
<circle cx="1755.2" cy="359.4" r="4.6" fill="url(#gO)"/>
<circle cx="1753.7" cy="354.9" r="2.4" fill="url(#gH)"/>
<line x1="1735.1" y1="423.5" x2="1735.1" y2="414.5" stroke="#2a7a8a" stroke-width="2.2"/>
<circle cx="1735.1" cy="413.5" r="4.6" fill="url(#gO)"/>
<circle cx="1733.6" cy="409.0" r="2.4" fill="url(#gH)"/>
<line x1="1718.2" y1="377.6" x2="1718.2" y2="368.6" stroke="#2a7a8a" stroke-width="2.2"/>
<circle cx="1718.2" cy="367.6" r="4.6" fill="url(#gO)"/>
<circle cx="1716.7" cy="363.1" r="2.4" fill="url(#gH)"/>
<line x1="1387.6" y1="345.1" x2="1387.6" y2="336.1" stroke="#2a7a8a" stroke-width="2.2"/>
<circle cx="1387.6" cy="335.1" r="4.6" fill="url(#gO)"/>
<circle cx="1386.1" cy="330.6" r="2.4" fill="url(#gH)"/>
<line x1="1514.7" y1="337.6" x2="1514.7" y2="328.6" stroke="#2a7a8a" stroke-width="2.2"/>
<circle cx="1514.7" cy="327.6" r="4.6" fill="url(#gO)"/>
<circle cx="1513.2" cy="323.1" r="2.4" fill="url(#gH)"/>
<line x1="1687.1" y1="287.5" x2="1687.1" y2="278.5" stroke="#7a3a8a" stroke-width="2.2"/>
<circle cx="1687.1" cy="277.5" r="4.6" fill="url(#gN)"/>
<circle cx="1685.6" cy="273.0" r="2.4" fill="url(#gH)"/>
<circle cx="1689.6" cy="274.0" r="2.2" fill="url(#gH)"/>
<line x1="1565.8" y1="240.4" x2="1565.8" y2="231.4" stroke="#7a3a8a" stroke-width="2.2"/>
<circle cx="1565.8" cy="230.4" r="4.6" fill="url(#gN)"/>
<circle cx="1564.3" cy="225.9" r="2.4" fill="url(#gH)"/>
<circle cx="1568.3" cy="226.9" r="2.2" fill="url(#gH)"/>
<line x1="1725.7" y1="271.7" x2="1725.7" y2="262.7" stroke="#2a7a8a" stroke-width="2.2"/>
<circle cx="1725.7" cy="261.7" r="4.6" fill="url(#gO)"/>
<circle cx="1724.2" cy="257.2" r="2.4" fill="url(#gH)"/>
<line x1="1808.9" y1="288.4" x2="1808.9" y2="279.4" stroke="#2a7a8a" stroke-width="2.2"/>
<circle cx="1808.9" cy="278.4" r="4.6" fill="url(#gO)"/>
<circle cx="1807.4" cy="273.9" r="2.4" fill="url(#gH)"/>
<line x1="1464.3" y1="353.4" x2="1464.3" y2="344.4" stroke="#7a3a8a" stroke-width="2.2"/>
<circle cx="1464.3" cy="343.4" r="4.6" fill="url(#gN)"/>
<circle cx="1462.8" cy="338.9" r="2.4" fill="url(#gH)"/>
<circle cx="1466.8" cy="339.9" r="2.2" fill="url(#gH)"/>
<line x1="1478.2" y1="340.2" x2="1478.2" y2="331.2" stroke="#2a7a8a" stroke-width="2.2"/>
<circle cx="1478.2" cy="330.2" r="4.6" fill="url(#gO)"/>
<circle cx="1476.7" cy="325.7" r="2.4" fill="url(#gH)"/>
<line x1="1701.5" y1="426.1" x2="1701.5" y2="417.1" stroke="#2a7a8a" stroke-width="2.2"/>
<circle cx="1701.5" cy="416.1" r="4.6" fill="url(#gO)"/>
<circle cx="1700.0" cy="411.6" r="2.4" fill="url(#gH)"/>
<line x1="1811.3" y1="298.2" x2="1811.3" y2="289.2" stroke="#2a7a8a" stroke-width="2.2"/>
<circle cx="1811.3" cy="288.2" r="4.6" fill="url(#gO)"/>
<circle cx="1809.8" cy="283.7" r="2.4" fill="url(#gH)"/>
<line x1="1536.3" y1="309.0" x2="1536.3" y2="300.0" stroke="#2a7a8a" stroke-width="2.2"/>
<circle cx="1536.3" cy="299.0" r="4.6" fill="url(#gO)"/>
<circle cx="1534.8" cy="294.5" r="2.4" fill="url(#gH)"/>
<line x1="1548.6" y1="295.9" x2="1548.6" y2="286.9" stroke="#7a3a8a" stroke-width="2.2"/>
<circle cx="1548.6" cy="285.9" r="4.6" fill="url(#gN)"/>
<circle cx="1547.1" cy="281.4" r="2.4" fill="url(#gH)"/>
<circle cx="1551.1" cy="282.4" r="2.2" fill="url(#gH)"/>
<line x1="1620.5" y1="256.6" x2="1620.5" y2="247.6" stroke="#2a7a8a" stroke-width="2.2"/>
<circle cx="1620.5" cy="246.6" r="4.6" fill="url(#gO)"/>
<circle cx="1619.0" cy="242.1" r="2.4" fill="url(#gH)"/>
<line x1="1704.7" y1="282.7" x2="1704.7" y2="273.7" stroke="#7a3a8a" stroke-width="2.2"/>
<circle cx="1704.7" cy="272.7" r="4.6" fill="url(#gN)"/>
<circle cx="1703.2" cy="268.2" r="2.4" fill="url(#gH)"/>
<circle cx="1707.2" cy="269.2" r="2.2" fill="url(#gH)"/>
<line x1="1367.0" y1="347.7" x2="1367.0" y2="338.7" stroke="#7a3a8a" stroke-width="2.2"/>
<circle cx="1367.0" cy="337.7" r="4.6" fill="url(#gN)"/>
<circle cx="1365.5" cy="333.2" r="2.4" fill="url(#gH)"/>
<circle cx="1369.5" cy="334.2" r="2.2" fill="url(#gH)"/>
<line x1="1547.4" y1="396.6" x2="1547.4" y2="387.6" stroke="#7a3a8a" stroke-width="2.2"/>
<circle cx="1547.4" cy="386.6" r="4.6" fill="url(#gN)"/>
<circle cx="1545.9" cy="382.1" r="2.4" fill="url(#gH)"/>
<circle cx="1549.9" cy="383.1" r="2.2" fill="url(#gH)"/>
<line x1="1642.4" y1="297.1" x2="1642.4" y2="288.1" stroke="#2a7a8a" stroke-width="2.2"/>
<circle cx="1642.4" cy="287.1" r="4.6" fill="url(#gO)"/>
<circle cx="1640.9" cy="282.6" r="2.4" fill="url(#gH)"/>
<line x1="1671.3" y1="317.3" x2="1671.3" y2="308.3" stroke="#2a7a8a" stroke-width="2.2"/>
<circle cx="1671.3" cy="307.3" r="4.6" fill="url(#gO)"/>
<circle cx="1669.8" cy="302.8" r="2.4" fill="url(#gH)"/>
<line x1="1753.2" y1="319.7" x2="1753.2" y2="310.7" stroke="#7a3a8a" stroke-width="2.2"/>
<circle cx="1753.2" cy="309.7" r="4.6" fill="url(#gN)"/>
<circle cx="1751.7" cy="305.2" r="2.4" fill="url(#gH)"/>
<circle cx="1755.7" cy="306.2" r="2.2" fill="url(#gH)"/>
<line x1="1360.6" y1="331.6" x2="1360.6" y2="322.6" stroke="#2a7a8a" stroke-width="2.2"/>
<circle cx="1360.6" cy="321.6" r="4.6" fill="url(#gO)"/>
<circle cx="1359.1" cy="317.1" r="2.4" fill="url(#gH)"/>
<line x1="1562.8" y1="240.4" x2="1562.8" y2="231.4" stroke="#2a7a8a" stroke-width="2.2"/>
<circle cx="1562.8" cy="230.4" r="4.6" fill="url(#gO)"/>
<circle cx="1561.3" cy="225.9" r="2.4" fill="url(#gH)"/>
<line x1="1534.8" y1="250.0" x2="1534.8" y2="241.0" stroke="#2a7a8a" stroke-width="2.2"/>
<circle cx="1534.8" cy="240.0" r="4.6" fill="url(#gO)"/>
<circle cx="1533.3" cy="235.5" r="2.4" fill="url(#gH)"/>
<line x1="1628.8" y1="297.4" x2="1628.8" y2="288.4" stroke="#2a7a8a" stroke-width="2.2"/>
<circle cx="1628.8" cy="287.4" r="4.6" fill="url(#gO)"/>
<circle cx="1627.3" cy="282.9" r="2.4" fill="url(#gH)"/>
<line x1="1541.5" y1="270.8" x2="1541.5" y2="261.8" stroke="#2a7a8a" stroke-width="2.2"/>
<circle cx="1541.5" cy="260.8" r="4.6" fill="url(#gO)"/>
<circle cx="1540.0" cy="256.3" r="2.4" fill="url(#gH)"/>
<polygon points="598,295.2 651,295.2 651,276.8 687.3,305.8 651,334.8 651,316.8 598,316.8" fill="url(#gArrow)"/>
<polygon points="1233,295.2 1287,295.2 1287,276.8 1322.8,305.8 1287,334.8 1287,316.8 1233,316.8" fill="url(#gArrow)"/>
<polyline points="155,168.6 47.3,168.6 47.3,504.4 100,504.4" stroke="#000" stroke-width="4.2" fill="none"/>
<polygon points="171.6,168.6 148,149.4 155.5,168.6 148,187.6" fill="#000"/>
<polyline points="100,448.2 71.4,448.2 71.4,559.8 100,559.8" stroke="#000" stroke-width="4.2" fill="none"/>
<text x="63.5" y="149.5" font-size="31" fill="#000" text-anchor="start" >Input</text>
<text x="104.5" y="458.7" font-size="31" fill="#000" text-anchor="start" >Ar</text>
<text x="106.5" y="512.9" font-size="31" fill="#000" text-anchor="start" >NH<tspan font-size="19.2" dy="6.2">3</tspan></text>
<text x="106.5" y="570.6" font-size="31" fill="#000" text-anchor="start" >H<tspan font-size="19.2" dy="6.2">2</tspan><tspan dy="-6.1">O</tspan></text>
<polyline points="444,421.6 549.7,421.6 549.7,522.2 583.5,522.2" stroke="#000" stroke-width="4.2" fill="none"/>
<polygon points="430.8,421.6 453.5,404.3 445,421.6 453.5,440" fill="#000"/>
<text x="578.0" y="513.5" font-size="31" fill="#000" text-anchor="start" >Contaminations</text>
<text x="630.0" y="550.3" font-size="31" fill="#000" text-anchor="start" >&amp; oxides</text>
<polyline points="1137,422.2 1175.7,422.2 1175.7,522.7 1222.5,522.7" stroke="#000" stroke-width="4.2" fill="none"/>
<polygon points="1123.8,422.2 1144.3,403.8 1137.5,422.2 1145.4,440.5" fill="#000"/>
<text x="1229.0" y="534.0" font-size="31" fill="#000" text-anchor="start" >Substrate</text>
<polyline points="1697.3,191.4 1653.4,191.4 1653.4,258" stroke="#000" stroke-width="4.2" fill="none"/>
<polygon points="1653.4,268.4 1634.5,247.4 1653.4,258.9 1672.3,247.4" fill="#000"/>
<polyline points="1804,195.4 1758.8,195.4 1758.8,262" stroke="#000" stroke-width="4.2" fill="none"/>
<polygon points="1758.8,273.1 1739.9,251.5 1758.8,263 1777.7,251.5" fill="#000"/>
<text x="1672.0" y="183.0" font-size="31" fill="#000" text-anchor="start" >Co</text>
<text x="1775.5" y="183.0" font-size="31" fill="#000" text-anchor="start" >SiO<tspan font-size="19.2" dy="6.2">2</tspan></text>
<circle cx="1424.3" cy="557.3" r="24.5" fill="url(#gAr)"/>
<text x="1461.5" y="569.7" font-size="31" fill="#3a3a3a" text-anchor="start" >Ar</text>
<circle cx="1539.2" cy="557.8" r="21.1" fill="url(#gN)"/>
<text x="1570.5" y="569.7" font-size="31" fill="#3a3a3a" text-anchor="start" >N</text>
<circle cx="1646.0" cy="558.5" r="17.4" fill="url(#gO)"/>
<text x="1673.5" y="569.7" font-size="31" fill="#3a3a3a" text-anchor="start" >O</text>
<circle cx="1746.0" cy="557.8" r="14.3" fill="url(#gH)"/>
<text x="1769.0" y="569.7" font-size="31" fill="#3a3a3a" text-anchor="start" >H</text>
<rect x="749" y="648.2" width="141.7" height="69.2" fill="#f2f2f2"/>
<rect x="1669.2" y="648.2" width="138.6" height="69.4" fill="#f2f2f2"/>
<text x="823.5" y="691.4" font-size="31" fill="#000" text-anchor="middle" >Co</text>
<text x="1713.0" y="691.6" font-size="31" fill="#000" text-anchor="start" >SiO<tspan font-size="19.2" dy="6.2">2</tspan></text>
<text x="0.0" y="673.0" font-size="35" fill="#000" text-anchor="start" >(b)</text>
<text x="931.0" y="673.0" font-size="35" fill="#000" text-anchor="start" >(c)</text>
<text x="437.5" y="711.2" font-size="31" fill="#000" text-anchor="middle" >Untreated surface</text>
<text x="1358.0" y="712.0" font-size="31" fill="#000" text-anchor="middle" >Untreated surface</text>
<text x="505.0" y="1292.5" font-size="31" fill="#000" text-anchor="middle" >Time/s</text>
<text x="1430.0" y="1293.5" font-size="31" fill="#000" text-anchor="middle" >Time/s</text>
<text x="0.0" y="0.0" font-size="31" fill="#000" text-anchor="middle" transform="translate(24.5,937) rotate(-90)">Ra/nm</text>
<text x="0.0" y="0.0" font-size="31" fill="#000" text-anchor="middle" transform="translate(953.5,937) rotate(-90)">Ra/nm</text>
<text x="0.0" y="1318.0" font-size="35" fill="#000" text-anchor="start" >(d)</text>
<rect x="0" y="1333.6" width="68.9" height="253.8" fill="#d0d0d0"/>
<rect x="0" y="1622.7" width="68.9" height="252.3" fill="#d0d0d0"/>
<text x="0.0" y="0.0" font-size="31" fill="#000" text-anchor="middle" transform="translate(46,1461) rotate(-90)">Co</text>
<text x="0.0" y="0.0" font-size="31" fill="#000" text-anchor="middle" transform="translate(49,1749) rotate(-90)">SiO<tspan font-size="19.2" dy="6.2">2</tspan></text>
<polygon points="154.1,1412.0 156.0,1411.0 157.9,1412.0 158.4,1409.5 160.7,1398.3 163.1,1409.5 163.1,1406.9 165.5,1401.0 167.9,1406.9 168.2,1404.4 170.2,1403.9 172.3,1404.4 173.6,1401.9 174.9,1397.1 176.2,1401.9 177.3,1399.4 179.7,1397.8 182.1,1399.4 182.8,1396.8 184.4,1396.7 186.0,1396.8 186.8,1394.3 189.1,1382.3 191.5,1394.3 192.0,1391.8 193.9,1391.2 195.8,1391.8 196.1,1389.2 198.6,1387.4 201.1,1389.2 201.2,1386.7 203.4,1386.1 205.5,1386.7 205.9,1384.2 208.1,1383.7 210.2,1384.2 210.9,1381.6 212.8,1376.8 214.7,1381.6 215.5,1379.1 217.6,1378.9 219.6,1379.1 220.6,1376.6 222.3,1375.8 224.0,1376.6 224.7,1374.1 227.0,1364.3 229.3,1374.1 230.4,1371.5 231.8,1370.1 233.1,1371.5 235.2,1369.0 236.5,1368.9 237.8,1369.0 239.3,1366.5 241.2,1364.4 243.2,1366.5 243.5,1363.9 246.0,1360.6 248.5,1363.9 248.8,1361.4 250.7,1361.3 252.6,1361.4 254.0,1358.9 255.4,1352.7 256.9,1358.9 258.0,1356.4 260.2,1355.4 262.3,1356.4 263.2,1353.8 264.9,1353.5 266.6,1353.8 267.9,1351.3 269.6,1351.1 271.4,1351.3 272.5,1348.8 274.4,1347.7 276.3,1348.8 276.8,1346.2 279.1,1345.1 281.4,1346.2 281.7,1343.7 283.9,1342.1 286.0,1343.7 287.0,1341.2 288.6,1340.3 290.2,1341.2 292.1,1338.6 293.3,1338.4 294.5,1338.6 296.2,1336.1 298.1,1335.2 299.9,1336.1 301.3,1333.6 302.8,1333.0 304.3,1333.6 306.0,1331.1 307.5,1325.6 309.1,1331.1 309.8,1328.5 312.3,1326.6 314.7,1328.5 315.4,1326.0 317.0,1323.7 318.6,1326.0 320.3,1328.8 321.8,1327.6 323.3,1328.8 324.3,1331.6 326.5,1330.5 328.7,1331.6 330.0,1334.5 331.3,1332.8 332.6,1334.5 334.5,1337.3 336.1,1334.7 337.6,1337.3 339.3,1340.1 340.8,1338.9 342.3,1340.1 344.4,1342.9 345.6,1342.8 346.8,1342.9 349.0,1345.8 350.4,1345.0 351.7,1345.8 353.7,1348.6 355.1,1347.7 356.6,1348.6 357.4,1351.4 359.9,1351.2 362.3,1351.4 362.3,1354.2 364.6,1354.1 366.9,1354.2 367.6,1357.1 369.4,1345.3 371.3,1357.1 371.7,1359.9 374.2,1357.1 376.6,1359.9 377.1,1362.7 378.9,1361.3 380.7,1362.7 382.3,1365.5 383.7,1361.4 385.1,1365.5 387.3,1368.4 388.5,1366.8 389.7,1368.4 391.8,1371.2 393.2,1364.2 394.7,1371.2 396.7,1374.0 398.0,1373.5 399.3,1374.0 400.4,1376.8 402.8,1371.0 405.2,1376.8 406.3,1379.6 407.5,1367.6 408.8,1379.6 409.9,1382.5 412.3,1382.4 414.7,1382.5 415.0,1385.3 417.1,1384.9 419.1,1385.3 420.6,1388.1 421.8,1387.2 423.1,1388.1 424.8,1390.9 426.6,1390.2 428.3,1390.9 429.7,1393.8 431.4,1390.2 433.0,1393.8 434.8,1396.6 436.1,1395.5 437.4,1396.6 438.9,1399.4 440.9,1399.1 442.9,1399.4 443.7,1402.2 445.6,1401.6 447.6,1402.2 449.2,1405.1 450.4,1401.6 451.7,1405.1 453.1,1407.9 455.2,1403.9 457.3,1407.9 458.6,1410.7 459.9,1408.0 461.3,1410.7 463.3,1413.5 464.7,1412.8 466.2,1413.5 467.2,1416.4 469.5,1416.2 471.8,1416.4 472.2,1419.2 474.2,1419.0 476.2,1419.2 479.0,1422.0 476.1,1443.0 478.0,1443.5 479.9,1443.0 471.2,1446.1 473.3,1447.2 475.4,1446.1 467.3,1449.2 468.6,1449.2 469.9,1449.2 461.7,1452.4 463.9,1454.7 466.0,1452.4 457.4,1455.5 459.2,1459.9 461.0,1455.5 452.1,1458.6 454.5,1463.1 456.9,1458.6 448.3,1461.7 449.8,1462.4 451.3,1461.7 443.8,1464.8 445.1,1467.6 446.3,1464.8 437.9,1467.9 440.4,1472.3 442.8,1467.9 433.9,1471.1 435.6,1471.4 437.4,1471.1 429.3,1474.2 430.9,1475.4 432.5,1474.2 424.3,1477.3 426.2,1481.6 428.2,1477.3 419.9,1480.4 421.5,1480.7 423.2,1480.4 414.4,1483.5 416.8,1485.4 419.2,1483.5 409.7,1486.6 412.1,1486.9 414.6,1486.6 405.1,1489.8 407.4,1490.9 409.7,1489.8 401.2,1492.9 402.7,1494.1 404.2,1492.9 395.6,1496.0 398.0,1496.1 400.4,1496.0 391.9,1499.1 393.3,1499.5 394.7,1499.1 386.2,1502.2 388.6,1504.6 391.0,1502.2 381.5,1505.4 383.9,1508.1 386.3,1505.4 377.4,1508.5 379.2,1509.4 381.0,1508.5 373.1,1511.6 374.5,1513.7 375.9,1511.6 368.0,1514.7 369.8,1522.4 371.5,1514.7 362.8,1517.8 365.1,1518.8 367.4,1517.8 358.9,1520.9 360.4,1521.1 361.8,1520.9 353.4,1524.1 355.6,1524.6 357.8,1524.1 349.6,1527.2 350.9,1529.4 352.3,1527.2 344.9,1530.3 346.2,1530.8 347.6,1530.3 340.0,1533.4 341.5,1536.9 343.0,1533.4 335.1,1536.5 336.8,1541.1 338.5,1536.5 330.4,1539.6 332.1,1548.6 333.8,1539.6 325.2,1542.8 327.4,1543.3 329.6,1542.8 320.3,1545.9 322.7,1545.9 325.1,1545.9 316.4,1549.0 318.0,1551.1 319.6,1549.0 311.2,1546.0 313.3,1546.4 315.4,1546.0 307.2,1542.9 308.6,1543.0 310.0,1542.9 301.8,1539.9 303.9,1540.9 305.9,1539.9 297.4,1536.9 299.2,1544.7 301.0,1536.9 292.4,1533.9 294.5,1533.9 296.6,1533.9 287.8,1530.8 289.8,1532.0 291.7,1530.8 282.8,1527.8 285.1,1528.1 287.4,1527.8 279.2,1524.8 280.4,1525.5 281.6,1524.8 273.7,1521.7 275.6,1521.8 277.6,1521.7 269.7,1518.7 270.9,1520.0 272.2,1518.7 264.0,1515.7 266.2,1516.2 268.4,1515.7 259.7,1512.6 261.5,1512.9 263.4,1512.6 254.9,1509.6 256.8,1510.6 258.7,1509.6 250.8,1506.6 252.1,1508.5 253.4,1506.6 245.2,1503.6 247.4,1504.0 249.6,1503.6 241.5,1500.5 242.7,1501.0 243.9,1500.5 235.5,1497.5 238.0,1503.2 240.5,1497.5 232.0,1494.5 233.3,1494.9 234.5,1494.5 226.4,1491.4 228.6,1493.9 230.8,1491.4 221.4,1488.4 223.9,1488.8 226.3,1488.4 217.0,1485.4 219.2,1486.1 221.4,1485.4 212.4,1482.4 214.5,1483.1 216.6,1482.4 208.3,1479.3 209.8,1480.1 211.2,1479.3 202.6,1476.3 205.1,1480.2 207.6,1476.3 198.1,1473.3 200.4,1475.1 202.6,1473.3 194.4,1470.2 195.6,1471.2 196.9,1470.2 189.0,1467.2 190.9,1467.9 192.9,1467.2 184.6,1464.2 186.2,1465.2 187.9,1464.2 180.1,1461.1 181.5,1470.1 182.9,1461.1 175.4,1458.1 176.8,1458.3 178.3,1458.1 170.7,1455.1 172.1,1455.7 173.5,1455.1 165.2,1452.1 167.4,1452.7 169.6,1452.1 160.8,1449.0 162.7,1449.0 164.6,1449.0" fill="#8a5a20" filter="url(#afmA)"/>
<polygon points="156.3,1417.1 318.0,1540.5 478.9,1425.2 476.1,1443.0 478.0,1443.5 479.9,1443.0 471.2,1446.1 473.3,1447.2 475.4,1446.1 467.3,1449.2 468.6,1449.2 469.9,1449.2 461.7,1452.4 463.9,1454.7 466.0,1452.4 457.4,1455.5 459.2,1459.9 461.0,1455.5 452.1,1458.6 454.5,1463.1 456.9,1458.6 448.3,1461.7 449.8,1462.4 451.3,1461.7 443.8,1464.8 445.1,1467.6 446.3,1464.8 437.9,1467.9 440.4,1472.3 442.8,1467.9 433.9,1471.1 435.6,1471.4 437.4,1471.1 429.3,1474.2 430.9,1475.4 432.5,1474.2 424.3,1477.3 426.2,1481.6 428.2,1477.3 419.9,1480.4 421.5,1480.7 423.2,1480.4 414.4,1483.5 416.8,1485.4 419.2,1483.5 409.7,1486.6 412.1,1486.9 414.6,1486.6 405.1,1489.8 407.4,1490.9 409.7,1489.8 401.2,1492.9 402.7,1494.1 404.2,1492.9 395.6,1496.0 398.0,1496.1 400.4,1496.0 391.9,1499.1 393.3,1499.5 394.7,1499.1 386.2,1502.2 388.6,1504.6 391.0,1502.2 381.5,1505.4 383.9,1508.1 386.3,1505.4 377.4,1508.5 379.2,1509.4 381.0,1508.5 373.1,1511.6 374.5,1513.7 375.9,1511.6 368.0,1514.7 369.8,1522.4 371.5,1514.7 362.8,1517.8 365.1,1518.8 367.4,1517.8 358.9,1520.9 360.4,1521.1 361.8,1520.9 353.4,1524.1 355.6,1524.6 357.8,1524.1 349.6,1527.2 350.9,1529.4 352.3,1527.2 344.9,1530.3 346.2,1530.8 347.6,1530.3 340.0,1533.4 341.5,1536.9 343.0,1533.4 335.1,1536.5 336.8,1541.1 338.5,1536.5 330.4,1539.6 332.1,1548.6 333.8,1539.6 325.2,1542.8 327.4,1543.3 329.6,1542.8 320.3,1545.9 322.7,1545.9 325.1,1545.9 316.4,1549.0 318.0,1551.1 319.6,1549.0 311.2,1546.0 313.3,1546.4 315.4,1546.0 307.2,1542.9 308.6,1543.0 310.0,1542.9 301.8,1539.9 303.9,1540.9 305.9,1539.9 297.4,1536.9 299.2,1544.7 301.0,1536.9 292.4,1533.9 294.5,1533.9 296.6,1533.9 287.8,1530.8 289.8,1532.0 291.7,1530.8 282.8,1527.8 285.1,1528.1 287.4,1527.8 279.2,1524.8 280.4,1525.5 281.6,1524.8 273.7,1521.7 275.6,1521.8 277.6,1521.7 269.7,1518.7 270.9,1520.0 272.2,1518.7 264.0,1515.7 266.2,1516.2 268.4,1515.7 259.7,1512.6 261.5,1512.9 263.4,1512.6 254.9,1509.6 256.8,1510.6 258.7,1509.6 250.8,1506.6 252.1,1508.5 253.4,1506.6 245.2,1503.6 247.4,1504.0 249.6,1503.6 241.5,1500.5 242.7,1501.0 243.9,1500.5 235.5,1497.5 238.0,1503.2 240.5,1497.5 232.0,1494.5 233.3,1494.9 234.5,1494.5 226.4,1491.4 228.6,1493.9 230.8,1491.4 221.4,1488.4 223.9,1488.8 226.3,1488.4 217.0,1485.4 219.2,1486.1 221.4,1485.4 212.4,1482.4 214.5,1483.1 216.6,1482.4 208.3,1479.3 209.8,1480.1 211.2,1479.3 202.6,1476.3 205.1,1480.2 207.6,1476.3 198.1,1473.3 200.4,1475.1 202.6,1473.3 194.4,1470.2 195.6,1471.2 196.9,1470.2 189.0,1467.2 190.9,1467.9 192.9,1467.2 184.6,1464.2 186.2,1465.2 187.9,1464.2 180.1,1461.1 181.5,1470.1 182.9,1461.1 175.4,1458.1 176.8,1458.3 178.3,1458.1 170.7,1455.1 172.1,1455.7 173.5,1455.1 165.2,1452.1 167.4,1452.7 169.6,1452.1 160.8,1449.0 162.7,1449.0 164.6,1449.0" fill="#2a0c02" fill-opacity="0.36"/>
<polygon points="156.9,1427.3 318.0,1543.5 478.6,1431.5 476.1,1443.0 478.0,1443.5 479.9,1443.0 471.2,1446.1 473.3,1447.2 475.4,1446.1 467.3,1449.2 468.6,1449.2 469.9,1449.2 461.7,1452.4 463.9,1454.7 466.0,1452.4 457.4,1455.5 459.2,1459.9 461.0,1455.5 452.1,1458.6 454.5,1463.1 456.9,1458.6 448.3,1461.7 449.8,1462.4 451.3,1461.7 443.8,1464.8 445.1,1467.6 446.3,1464.8 437.9,1467.9 440.4,1472.3 442.8,1467.9 433.9,1471.1 435.6,1471.4 437.4,1471.1 429.3,1474.2 430.9,1475.4 432.5,1474.2 424.3,1477.3 426.2,1481.6 428.2,1477.3 419.9,1480.4 421.5,1480.7 423.2,1480.4 414.4,1483.5 416.8,1485.4 419.2,1483.5 409.7,1486.6 412.1,1486.9 414.6,1486.6 405.1,1489.8 407.4,1490.9 409.7,1489.8 401.2,1492.9 402.7,1494.1 404.2,1492.9 395.6,1496.0 398.0,1496.1 400.4,1496.0 391.9,1499.1 393.3,1499.5 394.7,1499.1 386.2,1502.2 388.6,1504.6 391.0,1502.2 381.5,1505.4 383.9,1508.1 386.3,1505.4 377.4,1508.5 379.2,1509.4 381.0,1508.5 373.1,1511.6 374.5,1513.7 375.9,1511.6 368.0,1514.7 369.8,1522.4 371.5,1514.7 362.8,1517.8 365.1,1518.8 367.4,1517.8 358.9,1520.9 360.4,1521.1 361.8,1520.9 353.4,1524.1 355.6,1524.6 357.8,1524.1 349.6,1527.2 350.9,1529.4 352.3,1527.2 344.9,1530.3 346.2,1530.8 347.6,1530.3 340.0,1533.4 341.5,1536.9 343.0,1533.4 335.1,1536.5 336.8,1541.1 338.5,1536.5 330.4,1539.6 332.1,1548.6 333.8,1539.6 325.2,1542.8 327.4,1543.3 329.6,1542.8 320.3,1545.9 322.7,1545.9 325.1,1545.9 316.4,1549.0 318.0,1551.1 319.6,1549.0 311.2,1546.0 313.3,1546.4 315.4,1546.0 307.2,1542.9 308.6,1543.0 310.0,1542.9 301.8,1539.9 303.9,1540.9 305.9,1539.9 297.4,1536.9 299.2,1544.7 301.0,1536.9 292.4,1533.9 294.5,1533.9 296.6,1533.9 287.8,1530.8 289.8,1532.0 291.7,1530.8 282.8,1527.8 285.1,1528.1 287.4,1527.8 279.2,1524.8 280.4,1525.5 281.6,1524.8 273.7,1521.7 275.6,1521.8 277.6,1521.7 269.7,1518.7 270.9,1520.0 272.2,1518.7 264.0,1515.7 266.2,1516.2 268.4,1515.7 259.7,1512.6 261.5,1512.9 263.4,1512.6 254.9,1509.6 256.8,1510.6 258.7,1509.6 250.8,1506.6 252.1,1508.5 253.4,1506.6 245.2,1503.6 247.4,1504.0 249.6,1503.6 241.5,1500.5 242.7,1501.0 243.9,1500.5 235.5,1497.5 238.0,1503.2 240.5,1497.5 232.0,1494.5 233.3,1494.9 234.5,1494.5 226.4,1491.4 228.6,1493.9 230.8,1491.4 221.4,1488.4 223.9,1488.8 226.3,1488.4 217.0,1485.4 219.2,1486.1 221.4,1485.4 212.4,1482.4 214.5,1483.1 216.6,1482.4 208.3,1479.3 209.8,1480.1 211.2,1479.3 202.6,1476.3 205.1,1480.2 207.6,1476.3 198.1,1473.3 200.4,1475.1 202.6,1473.3 194.4,1470.2 195.6,1471.2 196.9,1470.2 189.0,1467.2 190.9,1467.9 192.9,1467.2 184.6,1464.2 186.2,1465.2 187.9,1464.2 180.1,1461.1 181.5,1470.1 182.9,1461.1 175.4,1458.1 176.8,1458.3 178.3,1458.1 170.7,1455.1 172.1,1455.7 173.5,1455.1 165.2,1452.1 167.4,1452.7 169.6,1452.1 160.8,1449.0 162.7,1449.0 164.6,1449.0" fill="#2a0c02" fill-opacity="0.44"/>
<polygon points="157.5,1437.5 318.0,1546.5 478.2,1437.8 476.1,1443.0 478.0,1443.5 479.9,1443.0 471.2,1446.1 473.3,1447.2 475.4,1446.1 467.3,1449.2 468.6,1449.2 469.9,1449.2 461.7,1452.4 463.9,1454.7 466.0,1452.4 457.4,1455.5 459.2,1459.9 461.0,1455.5 452.1,1458.6 454.5,1463.1 456.9,1458.6 448.3,1461.7 449.8,1462.4 451.3,1461.7 443.8,1464.8 445.1,1467.6 446.3,1464.8 437.9,1467.9 440.4,1472.3 442.8,1467.9 433.9,1471.1 435.6,1471.4 437.4,1471.1 429.3,1474.2 430.9,1475.4 432.5,1474.2 424.3,1477.3 426.2,1481.6 428.2,1477.3 419.9,1480.4 421.5,1480.7 423.2,1480.4 414.4,1483.5 416.8,1485.4 419.2,1483.5 409.7,1486.6 412.1,1486.9 414.6,1486.6 405.1,1489.8 407.4,1490.9 409.7,1489.8 401.2,1492.9 402.7,1494.1 404.2,1492.9 395.6,1496.0 398.0,1496.1 400.4,1496.0 391.9,1499.1 393.3,1499.5 394.7,1499.1 386.2,1502.2 388.6,1504.6 391.0,1502.2 381.5,1505.4 383.9,1508.1 386.3,1505.4 377.4,1508.5 379.2,1509.4 381.0,1508.5 373.1,1511.6 374.5,1513.7 375.9,1511.6 368.0,1514.7 369.8,1522.4 371.5,1514.7 362.8,1517.8 365.1,1518.8 367.4,1517.8 358.9,1520.9 360.4,1521.1 361.8,1520.9 353.4,1524.1 355.6,1524.6 357.8,1524.1 349.6,1527.2 350.9,1529.4 352.3,1527.2 344.9,1530.3 346.2,1530.8 347.6,1530.3 340.0,1533.4 341.5,1536.9 343.0,1533.4 335.1,1536.5 336.8,1541.1 338.5,1536.5 330.4,1539.6 332.1,1548.6 333.8,1539.6 325.2,1542.8 327.4,1543.3 329.6,1542.8 320.3,1545.9 322.7,1545.9 325.1,1545.9 316.4,1549.0 318.0,1551.1 319.6,1549.0 311.2,1546.0 313.3,1546.4 315.4,1546.0 307.2,1542.9 308.6,1543.0 310.0,1542.9 301.8,1539.9 303.9,1540.9 305.9,1539.9 297.4,1536.9 299.2,1544.7 301.0,1536.9 292.4,1533.9 294.5,1533.9 296.6,1533.9 287.8,1530.8 289.8,1532.0 291.7,1530.8 282.8,1527.8 285.1,1528.1 287.4,1527.8 279.2,1524.8 280.4,1525.5 281.6,1524.8 273.7,1521.7 275.6,1521.8 277.6,1521.7 269.7,1518.7 270.9,1520.0 272.2,1518.7 264.0,1515.7 266.2,1516.2 268.4,1515.7 259.7,1512.6 261.5,1512.9 263.4,1512.6 254.9,1509.6 256.8,1510.6 258.7,1509.6 250.8,1506.6 252.1,1508.5 253.4,1506.6 245.2,1503.6 247.4,1504.0 249.6,1503.6 241.5,1500.5 242.7,1501.0 243.9,1500.5 235.5,1497.5 238.0,1503.2 240.5,1497.5 232.0,1494.5 233.3,1494.9 234.5,1494.5 226.4,1491.4 228.6,1493.9 230.8,1491.4 221.4,1488.4 223.9,1488.8 226.3,1488.4 217.0,1485.4 219.2,1486.1 221.4,1485.4 212.4,1482.4 214.5,1483.1 216.6,1482.4 208.3,1479.3 209.8,1480.1 211.2,1479.3 202.6,1476.3 205.1,1480.2 207.6,1476.3 198.1,1473.3 200.4,1475.1 202.6,1473.3 194.4,1470.2 195.6,1471.2 196.9,1470.2 189.0,1467.2 190.9,1467.9 192.9,1467.2 184.6,1464.2 186.2,1465.2 187.9,1464.2 180.1,1461.1 181.5,1470.1 182.9,1461.1 175.4,1458.1 176.8,1458.3 178.3,1458.1 170.7,1455.1 172.1,1455.7 173.5,1455.1 165.2,1452.1 167.4,1452.7 169.6,1452.1 160.8,1449.0 162.7,1449.0 164.6,1449.0" fill="#2a0c02" fill-opacity="0.60"/>
<polyline points="153.6,1389.8 147.6,1389.8 147.6,1444.0 319.0,1561.2 490.4,1444.0 490.4,1436.0" fill="none" stroke="#000" stroke-width="2.0"/>
<line x1="147.6" y1="1417.0" x2="153.6" y2="1417.0" stroke="#000" stroke-width="2.0"/>
<line x1="181.9" y1="1467.4" x2="181.9" y2="1461.4" stroke="#000" stroke-width="1.6"/>
<line x1="353.3" y1="1537.8" x2="353.3" y2="1531.8" stroke="#000" stroke-width="1.6"/>
<line x1="216.2" y1="1490.9" x2="216.2" y2="1484.9" stroke="#000" stroke-width="1.6"/>
<line x1="387.6" y1="1514.3" x2="387.6" y2="1508.3" stroke="#000" stroke-width="1.6"/>
<line x1="250.4" y1="1514.3" x2="250.4" y2="1508.3" stroke="#000" stroke-width="1.6"/>
<line x1="421.8" y1="1490.9" x2="421.8" y2="1484.9" stroke="#000" stroke-width="1.6"/>
<line x1="284.7" y1="1537.8" x2="284.7" y2="1531.8" stroke="#000" stroke-width="1.6"/>
<line x1="456.1" y1="1467.4" x2="456.1" y2="1461.4" stroke="#000" stroke-width="1.6"/>
<text x="144.5" y="1371.5" font-size="23.5" fill="#000" text-anchor="end" >nm</text>
<text x="144.5" y="1399.0" font-size="23.5" fill="#000" text-anchor="end" >1.3</text>
<text x="144.5" y="1424.3" font-size="23.5" fill="#000" text-anchor="end" >0.0</text>
<text x="134.2" y="1462.9" font-size="23.5" fill="#000" text-anchor="middle" >1.0</text>
<text x="164.5" y="1485.3" font-size="23.5" fill="#000" text-anchor="middle" >0.8</text>
<text x="199.5" y="1509.2" font-size="23.5" fill="#000" text-anchor="middle" >0.6</text>
<text x="236.0" y="1534.5" font-size="23.5" fill="#000" text-anchor="middle" >0.4</text>
<text x="272.5" y="1558.4" font-size="23.5" fill="#000" text-anchor="middle" >0.2</text>
<text x="366.7" y="1559.8" font-size="23.5" fill="#000" text-anchor="middle" >0.2</text>
<text x="403.3" y="1536.8" font-size="23.5" fill="#000" text-anchor="middle" >0.4</text>
<text x="437.0" y="1509.2" font-size="23.5" fill="#000" text-anchor="middle" >0.6</text>
<text x="470.0" y="1486.2" font-size="23.5" fill="#000" text-anchor="middle" >0.8</text>
<text x="502.3" y="1466.5" font-size="23.5" fill="#000" text-anchor="middle" >1.0</text>
<text x="340.8" y="1588.0" font-size="23.5" fill="#000" text-anchor="middle" >0 µm</text>
<polygon points="580.9,1427.0 583.0,1416.9 585.1,1427.0 585.4,1424.0 587.7,1423.8 590.1,1424.0 589.9,1421.1 592.5,1410.8 595.0,1421.1 595.0,1418.1 597.2,1415.1 599.4,1418.1 599.4,1415.1 601.9,1404.5 604.5,1415.1 605.4,1412.1 606.7,1411.0 608.0,1412.1 609.7,1409.2 611.4,1398.7 613.1,1409.2 613.6,1406.2 616.1,1404.8 618.7,1406.2 619.4,1403.2 620.9,1401.7 622.4,1403.2 623.5,1400.3 625.6,1399.0 627.7,1400.3 628.2,1397.3 630.4,1396.2 632.5,1397.3 632.8,1394.3 635.1,1386.6 637.3,1394.3 637.5,1391.4 639.8,1390.9 642.1,1391.4 642.5,1388.4 644.6,1387.3 646.6,1388.4 647.5,1385.4 649.3,1384.3 651.1,1385.4 652.2,1382.4 654.0,1380.7 655.9,1382.4 657.1,1379.5 658.8,1379.3 660.5,1379.5 661.5,1376.5 663.5,1372.8 665.5,1376.5 666.6,1373.5 668.2,1373.0 669.9,1373.5 671.6,1370.6 673.0,1369.0 674.4,1370.6 675.7,1367.6 677.7,1364.7 679.7,1367.6 681.2,1364.6 682.4,1360.7 683.6,1364.6 685.3,1361.6 687.2,1361.2 689.1,1361.6 690.5,1358.7 691.9,1357.5 693.4,1358.7 694.5,1355.7 696.6,1355.5 698.8,1355.7 699.8,1352.7 701.4,1351.8 703.0,1352.7 704.0,1349.8 706.1,1348.8 708.2,1349.8 708.4,1346.8 710.9,1345.6 713.4,1346.8 713.2,1343.8 715.6,1342.9 718.0,1343.8 718.7,1340.9 720.3,1340.2 721.9,1340.9 722.8,1337.9 725.1,1337.5 727.3,1337.9 727.3,1334.9 729.8,1333.5 732.3,1334.9 733.2,1331.9 734.5,1331.6 735.9,1331.9 736.8,1329.0 739.3,1325.7 741.7,1329.0 741.9,1326.0 744.0,1322.4 746.1,1326.0 746.5,1329.0 748.8,1321.4 751.1,1329.0 752.3,1331.9 753.5,1331.4 754.8,1331.9 756.1,1334.9 758.3,1333.9 760.5,1334.9 760.5,1337.9 763.1,1333.2 765.6,1337.9 766.3,1340.9 767.8,1339.7 769.4,1340.9 771.4,1343.8 772.6,1343.5 773.8,1343.8 774.8,1346.8 777.4,1340.7 779.9,1346.8 779.9,1349.8 782.1,1339.5 784.3,1349.8 785.0,1352.7 786.9,1351.8 788.8,1352.7 790.0,1355.7 791.6,1343.7 793.3,1355.7 794.6,1358.7 796.4,1346.7 798.2,1358.7 799.1,1361.6 801.2,1360.1 803.3,1361.6 804.4,1364.6 805.9,1364.1 807.5,1364.6 808.2,1367.6 810.7,1355.6 813.2,1367.6 814.1,1370.6 815.5,1369.8 816.8,1370.6 818.6,1373.5 820.2,1372.5 821.8,1373.5 822.9,1376.5 825.0,1370.3 827.1,1376.5 827.5,1379.5 829.8,1379.0 832.1,1379.5 831.9,1382.4 834.5,1382.3 837.1,1382.4 837.7,1385.4 839.3,1384.4 840.9,1385.4 842.2,1388.4 844.1,1387.6 846.0,1388.4 847.1,1391.4 848.8,1390.8 850.5,1391.4 851.8,1394.3 853.6,1393.7 855.4,1394.3 857.0,1397.3 858.4,1392.5 859.7,1397.3 861.6,1400.3 863.1,1400.2 864.6,1400.3 866.2,1403.2 867.9,1401.4 869.5,1403.2 870.6,1406.2 872.6,1404.6 874.7,1406.2 875.9,1409.2 877.4,1408.2 878.9,1409.2 880.3,1412.1 882.2,1411.3 884.0,1412.1 885.6,1415.1 886.9,1414.3 888.3,1415.1 890.2,1418.1 891.7,1417.6 893.2,1418.1 894.4,1421.1 896.5,1420.7 898.6,1421.1 899.7,1424.0 901.2,1417.4 902.8,1424.0 906.0,1427.0 902.9,1443.0 905.0,1446.7 907.1,1443.0 897.9,1446.1 900.3,1447.1 902.7,1446.1 893.4,1449.2 895.6,1452.2 897.7,1449.2 888.8,1452.4 890.9,1453.3 893.0,1452.4 884.8,1455.5 886.2,1455.8 887.5,1455.5 878.9,1458.6 881.5,1459.4 884.0,1458.6 875.3,1461.7 876.8,1463.7 878.2,1461.7 870.2,1464.8 872.1,1464.9 873.9,1464.8 865.3,1467.9 867.4,1468.5 869.4,1467.9 861.0,1471.1 862.6,1471.3 864.3,1471.1 855.9,1474.2 857.9,1474.7 860.0,1474.2 851.1,1477.3 853.2,1478.4 855.4,1477.3 846.9,1480.4 848.5,1481.3 850.1,1480.4 841.3,1483.5 843.8,1485.0 846.4,1483.5 837.2,1486.6 839.1,1486.8 841.0,1486.6 831.9,1489.8 834.4,1490.8 836.9,1489.8 828.2,1492.9 829.7,1493.7 831.2,1492.9 823.6,1496.0 825.0,1496.8 826.4,1496.0 818.3,1499.1 820.3,1499.2 822.3,1499.1 813.5,1502.2 815.6,1504.2 817.7,1502.2 808.3,1505.4 810.9,1511.5 813.4,1505.4 804.5,1508.5 806.2,1509.5 807.9,1508.5 799.4,1511.6 801.5,1514.0 803.6,1511.6 795.0,1514.7 796.8,1514.8 798.5,1514.7 789.9,1517.8 792.1,1518.8 794.2,1517.8 785.3,1520.9 787.4,1522.0 789.4,1520.9 780.1,1524.1 782.6,1525.1 785.2,1524.1 776.5,1527.2 777.9,1531.5 779.4,1527.2 770.7,1530.3 773.2,1530.4 775.8,1530.3 766.6,1533.4 768.5,1534.4 770.4,1533.4 761.8,1536.5 763.8,1540.7 765.8,1536.5 757.1,1539.6 759.1,1540.7 761.1,1539.6 752.5,1542.8 754.4,1543.6 756.3,1542.8 748.2,1545.9 749.7,1546.5 751.2,1545.9 743.3,1549.0 745.0,1549.4 746.7,1549.0 738.0,1546.0 740.3,1546.4 742.6,1546.0 733.7,1542.9 735.6,1543.2 737.5,1542.9 729.4,1539.9 730.9,1547.9 732.3,1539.9 724.0,1536.9 726.2,1539.0 728.3,1536.9 719.9,1533.9 721.5,1534.7 723.1,1533.9 715.3,1530.8 716.8,1539.8 718.2,1530.8 709.8,1527.8 712.1,1528.5 714.3,1527.8 704.8,1524.8 707.4,1527.1 709.9,1524.8 701.2,1521.7 702.6,1523.2 704.1,1521.7 696.3,1518.7 697.9,1519.0 699.6,1518.7 691.7,1515.7 693.2,1516.7 694.8,1515.7 687.1,1512.6 688.5,1515.6 689.9,1512.6 682.1,1509.6 683.8,1510.1 685.6,1509.6 677.7,1506.6 679.1,1507.5 680.5,1506.6 673.1,1503.6 674.4,1503.6 675.8,1503.6 667.8,1500.5 669.7,1500.6 671.6,1500.5 663.8,1497.5 665.0,1497.8 666.2,1497.5 657.9,1494.5 660.3,1501.6 662.7,1494.5 653.5,1491.4 655.6,1496.2 657.7,1491.4 649.1,1488.4 650.9,1492.8 652.7,1488.4 644.1,1485.4 646.2,1485.4 648.3,1485.4 638.9,1482.4 641.5,1484.2 644.0,1482.4 635.2,1479.3 636.8,1483.8 638.3,1479.3 630.8,1476.3 632.1,1477.4 633.4,1476.3 625.0,1473.3 627.4,1474.0 629.7,1473.3 620.3,1470.2 622.6,1470.9 625.0,1470.2 616.1,1467.2 617.9,1467.4 619.7,1467.2 611.2,1464.2 613.2,1464.6 615.3,1464.2 606.4,1461.1 608.5,1463.0 610.7,1461.1 601.7,1458.1 603.8,1459.2 606.0,1458.1 597.7,1455.1 599.1,1459.2 600.6,1455.1 592.8,1452.1 594.4,1452.1 596.1,1452.1 587.3,1449.0 589.7,1449.3 592.1,1449.0" fill="#8a5a20" filter="url(#afmB)"/>
<polygon points="583.3,1429.8 745.0,1540.5 905.9,1429.4 902.9,1443.0 905.0,1446.7 907.1,1443.0 897.9,1446.1 900.3,1447.1 902.7,1446.1 893.4,1449.2 895.6,1452.2 897.7,1449.2 888.8,1452.4 890.9,1453.3 893.0,1452.4 884.8,1455.5 886.2,1455.8 887.5,1455.5 878.9,1458.6 881.5,1459.4 884.0,1458.6 875.3,1461.7 876.8,1463.7 878.2,1461.7 870.2,1464.8 872.1,1464.9 873.9,1464.8 865.3,1467.9 867.4,1468.5 869.4,1467.9 861.0,1471.1 862.6,1471.3 864.3,1471.1 855.9,1474.2 857.9,1474.7 860.0,1474.2 851.1,1477.3 853.2,1478.4 855.4,1477.3 846.9,1480.4 848.5,1481.3 850.1,1480.4 841.3,1483.5 843.8,1485.0 846.4,1483.5 837.2,1486.6 839.1,1486.8 841.0,1486.6 831.9,1489.8 834.4,1490.8 836.9,1489.8 828.2,1492.9 829.7,1493.7 831.2,1492.9 823.6,1496.0 825.0,1496.8 826.4,1496.0 818.3,1499.1 820.3,1499.2 822.3,1499.1 813.5,1502.2 815.6,1504.2 817.7,1502.2 808.3,1505.4 810.9,1511.5 813.4,1505.4 804.5,1508.5 806.2,1509.5 807.9,1508.5 799.4,1511.6 801.5,1514.0 803.6,1511.6 795.0,1514.7 796.8,1514.8 798.5,1514.7 789.9,1517.8 792.1,1518.8 794.2,1517.8 785.3,1520.9 787.4,1522.0 789.4,1520.9 780.1,1524.1 782.6,1525.1 785.2,1524.1 776.5,1527.2 777.9,1531.5 779.4,1527.2 770.7,1530.3 773.2,1530.4 775.8,1530.3 766.6,1533.4 768.5,1534.4 770.4,1533.4 761.8,1536.5 763.8,1540.7 765.8,1536.5 757.1,1539.6 759.1,1540.7 761.1,1539.6 752.5,1542.8 754.4,1543.6 756.3,1542.8 748.2,1545.9 749.7,1546.5 751.2,1545.9 743.3,1549.0 745.0,1549.4 746.7,1549.0 738.0,1546.0 740.3,1546.4 742.6,1546.0 733.7,1542.9 735.6,1543.2 737.5,1542.9 729.4,1539.9 730.9,1547.9 732.3,1539.9 724.0,1536.9 726.2,1539.0 728.3,1536.9 719.9,1533.9 721.5,1534.7 723.1,1533.9 715.3,1530.8 716.8,1539.8 718.2,1530.8 709.8,1527.8 712.1,1528.5 714.3,1527.8 704.8,1524.8 707.4,1527.1 709.9,1524.8 701.2,1521.7 702.6,1523.2 704.1,1521.7 696.3,1518.7 697.9,1519.0 699.6,1518.7 691.7,1515.7 693.2,1516.7 694.8,1515.7 687.1,1512.6 688.5,1515.6 689.9,1512.6 682.1,1509.6 683.8,1510.1 685.6,1509.6 677.7,1506.6 679.1,1507.5 680.5,1506.6 673.1,1503.6 674.4,1503.6 675.8,1503.6 667.8,1500.5 669.7,1500.6 671.6,1500.5 663.8,1497.5 665.0,1497.8 666.2,1497.5 657.9,1494.5 660.3,1501.6 662.7,1494.5 653.5,1491.4 655.6,1496.2 657.7,1491.4 649.1,1488.4 650.9,1492.8 652.7,1488.4 644.1,1485.4 646.2,1485.4 648.3,1485.4 638.9,1482.4 641.5,1484.2 644.0,1482.4 635.2,1479.3 636.8,1483.8 638.3,1479.3 630.8,1476.3 632.1,1477.4 633.4,1476.3 625.0,1473.3 627.4,1474.0 629.7,1473.3 620.3,1470.2 622.6,1470.9 625.0,1470.2 616.1,1467.2 617.9,1467.4 619.7,1467.2 611.2,1464.2 613.2,1464.6 615.3,1464.2 606.4,1461.1 608.5,1463.0 610.7,1461.1 601.7,1458.1 603.8,1459.2 606.0,1458.1 597.7,1455.1 599.1,1459.2 600.6,1455.1 592.8,1452.1 594.4,1452.1 596.1,1452.1 587.3,1449.0 589.7,1449.3 592.1,1449.0" fill="#2a0c02" fill-opacity="0.36"/>
<polygon points="583.9,1435.5 745.0,1543.5 905.6,1434.2 902.9,1443.0 905.0,1446.7 907.1,1443.0 897.9,1446.1 900.3,1447.1 902.7,1446.1 893.4,1449.2 895.6,1452.2 897.7,1449.2 888.8,1452.4 890.9,1453.3 893.0,1452.4 884.8,1455.5 886.2,1455.8 887.5,1455.5 878.9,1458.6 881.5,1459.4 884.0,1458.6 875.3,1461.7 876.8,1463.7 878.2,1461.7 870.2,1464.8 872.1,1464.9 873.9,1464.8 865.3,1467.9 867.4,1468.5 869.4,1467.9 861.0,1471.1 862.6,1471.3 864.3,1471.1 855.9,1474.2 857.9,1474.7 860.0,1474.2 851.1,1477.3 853.2,1478.4 855.4,1477.3 846.9,1480.4 848.5,1481.3 850.1,1480.4 841.3,1483.5 843.8,1485.0 846.4,1483.5 837.2,1486.6 839.1,1486.8 841.0,1486.6 831.9,1489.8 834.4,1490.8 836.9,1489.8 828.2,1492.9 829.7,1493.7 831.2,1492.9 823.6,1496.0 825.0,1496.8 826.4,1496.0 818.3,1499.1 820.3,1499.2 822.3,1499.1 813.5,1502.2 815.6,1504.2 817.7,1502.2 808.3,1505.4 810.9,1511.5 813.4,1505.4 804.5,1508.5 806.2,1509.5 807.9,1508.5 799.4,1511.6 801.5,1514.0 803.6,1511.6 795.0,1514.7 796.8,1514.8 798.5,1514.7 789.9,1517.8 792.1,1518.8 794.2,1517.8 785.3,1520.9 787.4,1522.0 789.4,1520.9 780.1,1524.1 782.6,1525.1 785.2,1524.1 776.5,1527.2 777.9,1531.5 779.4,1527.2 770.7,1530.3 773.2,1530.4 775.8,1530.3 766.6,1533.4 768.5,1534.4 770.4,1533.4 761.8,1536.5 763.8,1540.7 765.8,1536.5 757.1,1539.6 759.1,1540.7 761.1,1539.6 752.5,1542.8 754.4,1543.6 756.3,1542.8 748.2,1545.9 749.7,1546.5 751.2,1545.9 743.3,1549.0 745.0,1549.4 746.7,1549.0 738.0,1546.0 740.3,1546.4 742.6,1546.0 733.7,1542.9 735.6,1543.2 737.5,1542.9 729.4,1539.9 730.9,1547.9 732.3,1539.9 724.0,1536.9 726.2,1539.0 728.3,1536.9 719.9,1533.9 721.5,1534.7 723.1,1533.9 715.3,1530.8 716.8,1539.8 718.2,1530.8 709.8,1527.8 712.1,1528.5 714.3,1527.8 704.8,1524.8 707.4,1527.1 709.9,1524.8 701.2,1521.7 702.6,1523.2 704.1,1521.7 696.3,1518.7 697.9,1519.0 699.6,1518.7 691.7,1515.7 693.2,1516.7 694.8,1515.7 687.1,1512.6 688.5,1515.6 689.9,1512.6 682.1,1509.6 683.8,1510.1 685.6,1509.6 677.7,1506.6 679.1,1507.5 680.5,1506.6 673.1,1503.6 674.4,1503.6 675.8,1503.6 667.8,1500.5 669.7,1500.6 671.6,1500.5 663.8,1497.5 665.0,1497.8 666.2,1497.5 657.9,1494.5 660.3,1501.6 662.7,1494.5 653.5,1491.4 655.6,1496.2 657.7,1491.4 649.1,1488.4 650.9,1492.8 652.7,1488.4 644.1,1485.4 646.2,1485.4 648.3,1485.4 638.9,1482.4 641.5,1484.2 644.0,1482.4 635.2,1479.3 636.8,1483.8 638.3,1479.3 630.8,1476.3 632.1,1477.4 633.4,1476.3 625.0,1473.3 627.4,1474.0 629.7,1473.3 620.3,1470.2 622.6,1470.9 625.0,1470.2 616.1,1467.2 617.9,1467.4 619.7,1467.2 611.2,1464.2 613.2,1464.6 615.3,1464.2 606.4,1461.1 608.5,1463.0 610.7,1461.1 601.7,1458.1 603.8,1459.2 606.0,1458.1 597.7,1455.1 599.1,1459.2 600.6,1455.1 592.8,1452.1 594.4,1452.1 596.1,1452.1 587.3,1449.0 589.7,1449.3 592.1,1449.0" fill="#2a0c02" fill-opacity="0.44"/>
<polygon points="584.5,1441.2 745.0,1546.5 905.2,1439.0 902.9,1443.0 905.0,1446.7 907.1,1443.0 897.9,1446.1 900.3,1447.1 902.7,1446.1 893.4,1449.2 895.6,1452.2 897.7,1449.2 888.8,1452.4 890.9,1453.3 893.0,1452.4 884.8,1455.5 886.2,1455.8 887.5,1455.5 878.9,1458.6 881.5,1459.4 884.0,1458.6 875.3,1461.7 876.8,1463.7 878.2,1461.7 870.2,1464.8 872.1,1464.9 873.9,1464.8 865.3,1467.9 867.4,1468.5 869.4,1467.9 861.0,1471.1 862.6,1471.3 864.3,1471.1 855.9,1474.2 857.9,1474.7 860.0,1474.2 851.1,1477.3 853.2,1478.4 855.4,1477.3 846.9,1480.4 848.5,1481.3 850.1,1480.4 841.3,1483.5 843.8,1485.0 846.4,1483.5 837.2,1486.6 839.1,1486.8 841.0,1486.6 831.9,1489.8 834.4,1490.8 836.9,1489.8 828.2,1492.9 829.7,1493.7 831.2,1492.9 823.6,1496.0 825.0,1496.8 826.4,1496.0 818.3,1499.1 820.3,1499.2 822.3,1499.1 813.5,1502.2 815.6,1504.2 817.7,1502.2 808.3,1505.4 810.9,1511.5 813.4,1505.4 804.5,1508.5 806.2,1509.5 807.9,1508.5 799.4,1511.6 801.5,1514.0 803.6,1511.6 795.0,1514.7 796.8,1514.8 798.5,1514.7 789.9,1517.8 792.1,1518.8 794.2,1517.8 785.3,1520.9 787.4,1522.0 789.4,1520.9 780.1,1524.1 782.6,1525.1 785.2,1524.1 776.5,1527.2 777.9,1531.5 779.4,1527.2 770.7,1530.3 773.2,1530.4 775.8,1530.3 766.6,1533.4 768.5,1534.4 770.4,1533.4 761.8,1536.5 763.8,1540.7 765.8,1536.5 757.1,1539.6 759.1,1540.7 761.1,1539.6 752.5,1542.8 754.4,1543.6 756.3,1542.8 748.2,1545.9 749.7,1546.5 751.2,1545.9 743.3,1549.0 745.0,1549.4 746.7,1549.0 738.0,1546.0 740.3,1546.4 742.6,1546.0 733.7,1542.9 735.6,1543.2 737.5,1542.9 729.4,1539.9 730.9,1547.9 732.3,1539.9 724.0,1536.9 726.2,1539.0 728.3,1536.9 719.9,1533.9 721.5,1534.7 723.1,1533.9 715.3,1530.8 716.8,1539.8 718.2,1530.8 709.8,1527.8 712.1,1528.5 714.3,1527.8 704.8,1524.8 707.4,1527.1 709.9,1524.8 701.2,1521.7 702.6,1523.2 704.1,1521.7 696.3,1518.7 697.9,1519.0 699.6,1518.7 691.7,1515.7 693.2,1516.7 694.8,1515.7 687.1,1512.6 688.5,1515.6 689.9,1512.6 682.1,1509.6 683.8,1510.1 685.6,1509.6 677.7,1506.6 679.1,1507.5 680.5,1506.6 673.1,1503.6 674.4,1503.6 675.8,1503.6 667.8,1500.5 669.7,1500.6 671.6,1500.5 663.8,1497.5 665.0,1497.8 666.2,1497.5 657.9,1494.5 660.3,1501.6 662.7,1494.5 653.5,1491.4 655.6,1496.2 657.7,1491.4 649.1,1488.4 650.9,1492.8 652.7,1488.4 644.1,1485.4 646.2,1485.4 648.3,1485.4 638.9,1482.4 641.5,1484.2 644.0,1482.4 635.2,1479.3 636.8,1483.8 638.3,1479.3 630.8,1476.3 632.1,1477.4 633.4,1476.3 625.0,1473.3 627.4,1474.0 629.7,1473.3 620.3,1470.2 622.6,1470.9 625.0,1470.2 616.1,1467.2 617.9,1467.4 619.7,1467.2 611.2,1464.2 613.2,1464.6 615.3,1464.2 606.4,1461.1 608.5,1463.0 610.7,1461.1 601.7,1458.1 603.8,1459.2 606.0,1458.1 597.7,1455.1 599.1,1459.2 600.6,1455.1 592.8,1452.1 594.4,1452.1 596.1,1452.1 587.3,1449.0 589.7,1449.3 592.1,1449.0" fill="#2a0c02" fill-opacity="0.60"/>
<polyline points="580.6,1389.8 574.6,1389.8 574.6,1444.0 746.0,1561.2 917.4,1444.0 917.4,1436.0" fill="none" stroke="#000" stroke-width="2.0"/>
<line x1="574.6" y1="1417.0" x2="580.6" y2="1417.0" stroke="#000" stroke-width="2.0"/>
<line x1="608.9" y1="1467.4" x2="608.9" y2="1461.4" stroke="#000" stroke-width="1.6"/>
<line x1="780.3" y1="1537.8" x2="780.3" y2="1531.8" stroke="#000" stroke-width="1.6"/>
<line x1="643.2" y1="1490.9" x2="643.2" y2="1484.9" stroke="#000" stroke-width="1.6"/>
<line x1="814.6" y1="1514.3" x2="814.6" y2="1508.3" stroke="#000" stroke-width="1.6"/>
<line x1="677.4" y1="1514.3" x2="677.4" y2="1508.3" stroke="#000" stroke-width="1.6"/>
<line x1="848.8" y1="1490.9" x2="848.8" y2="1484.9" stroke="#000" stroke-width="1.6"/>
<line x1="711.7" y1="1537.8" x2="711.7" y2="1531.8" stroke="#000" stroke-width="1.6"/>
<line x1="883.1" y1="1467.4" x2="883.1" y2="1461.4" stroke="#000" stroke-width="1.6"/>
<text x="568.5" y="1371.5" font-size="23.5" fill="#000" text-anchor="end" >nm</text>
<text x="568.5" y="1399.0" font-size="23.5" fill="#000" text-anchor="end" >1.2</text>
<text x="568.5" y="1424.3" font-size="23.5" fill="#000" text-anchor="end" >0.0</text>
<text x="561.2" y="1462.9" font-size="23.5" fill="#000" text-anchor="middle" >1.0</text>
<text x="591.5" y="1485.3" font-size="23.5" fill="#000" text-anchor="middle" >0.8</text>
<text x="626.5" y="1509.2" font-size="23.5" fill="#000" text-anchor="middle" >0.6</text>
<text x="663.0" y="1534.5" font-size="23.5" fill="#000" text-anchor="middle" >0.4</text>
<text x="699.5" y="1558.4" font-size="23.5" fill="#000" text-anchor="middle" >0.2</text>
<text x="793.7" y="1559.8" font-size="23.5" fill="#000" text-anchor="middle" >0.2</text>
<text x="830.3" y="1536.8" font-size="23.5" fill="#000" text-anchor="middle" >0.4</text>
<text x="864.0" y="1509.2" font-size="23.5" fill="#000" text-anchor="middle" >0.6</text>
<text x="897.0" y="1486.2" font-size="23.5" fill="#000" text-anchor="middle" >0.8</text>
<text x="929.3" y="1466.5" font-size="23.5" fill="#000" text-anchor="middle" >1.0</text>
<text x="767.8" y="1588.0" font-size="23.5" fill="#000" text-anchor="middle" >0 µm</text>
<polygon points="1007.1,1426.0 1008.8,1417.6 1010.5,1426.0 1012.2,1423.1 1013.5,1422.0 1014.9,1423.1 1016.5,1420.1 1018.3,1419.0 1020.0,1420.1 1021.1,1417.2 1023.0,1416.2 1024.9,1417.2 1025.1,1414.2 1027.7,1413.5 1030.3,1414.2 1030.9,1411.3 1032.5,1409.8 1034.1,1411.3 1035.9,1408.4 1037.2,1407.6 1038.5,1408.4 1040.1,1405.4 1041.9,1401.9 1043.8,1405.4 1044.8,1402.5 1046.7,1401.4 1048.6,1402.5 1049.1,1399.5 1051.4,1391.3 1053.8,1399.5 1054.6,1396.6 1056.2,1396.0 1057.7,1396.6 1059.1,1393.6 1060.9,1386.8 1062.7,1393.6 1063.4,1390.7 1065.6,1389.5 1067.8,1390.7 1068.3,1387.8 1070.4,1387.6 1072.4,1387.8 1073.9,1384.8 1075.1,1376.0 1076.3,1384.8 1077.7,1381.9 1079.8,1381.6 1081.9,1381.9 1082.9,1378.9 1084.6,1377.4 1086.2,1378.9 1087.3,1376.0 1089.3,1374.7 1091.3,1376.0 1092.5,1373.1 1094.0,1368.1 1095.6,1373.1 1096.5,1370.1 1098.8,1368.5 1101.1,1370.1 1102.1,1367.2 1103.5,1365.6 1104.9,1367.2 1105.8,1364.2 1108.2,1360.5 1110.7,1364.2 1111.0,1361.3 1113.0,1360.9 1114.9,1361.3 1115.6,1358.4 1117.7,1355.5 1119.8,1358.4 1120.3,1355.4 1122.4,1355.4 1124.6,1355.4 1125.6,1352.5 1127.2,1351.0 1128.7,1352.5 1130.1,1349.5 1131.9,1341.7 1133.7,1349.5 1135.2,1346.6 1136.7,1346.2 1138.1,1346.6 1139.7,1343.6 1141.4,1343.4 1143.0,1343.6 1144.3,1340.7 1146.1,1339.4 1147.9,1340.7 1149.5,1337.8 1150.9,1332.5 1152.2,1337.8 1153.5,1334.8 1155.6,1325.2 1157.7,1334.8 1159.0,1331.9 1160.3,1331.0 1161.6,1331.9 1162.6,1328.9 1165.1,1328.6 1167.5,1328.9 1168.3,1326.0 1169.8,1325.7 1171.3,1326.0 1172.7,1328.9 1174.6,1322.4 1176.4,1328.9 1176.8,1331.9 1179.3,1331.3 1181.8,1331.9 1181.7,1334.8 1184.1,1333.9 1186.5,1334.8 1187.2,1337.8 1188.9,1336.6 1190.5,1337.8 1191.1,1340.7 1193.6,1338.6 1196.1,1340.7 1196.5,1343.6 1198.4,1343.5 1200.3,1343.6 1201.8,1346.6 1203.2,1346.4 1204.5,1346.6 1206.6,1349.5 1207.9,1347.6 1209.2,1349.5 1210.8,1352.5 1212.7,1352.0 1214.5,1352.5 1215.3,1355.4 1217.4,1354.7 1219.6,1355.4 1220.7,1358.4 1222.2,1352.5 1223.7,1358.4 1224.5,1361.3 1227.0,1352.1 1229.4,1361.3 1229.2,1364.2 1231.7,1362.9 1234.3,1364.2 1235.2,1367.2 1236.5,1364.1 1237.8,1367.2 1240.0,1370.1 1241.3,1370.1 1242.5,1370.1 1244.0,1373.1 1246.0,1371.5 1248.1,1373.1 1248.4,1376.0 1250.8,1368.3 1253.2,1376.0 1253.2,1378.9 1255.6,1378.3 1257.9,1378.9 1258.4,1381.9 1260.3,1381.5 1262.2,1381.9 1263.8,1384.8 1265.1,1383.5 1266.4,1384.8 1267.5,1387.8 1269.9,1383.7 1272.3,1387.8 1272.3,1390.7 1274.6,1389.5 1277.0,1390.7 1277.1,1393.6 1279.4,1393.1 1281.7,1393.6 1281.6,1396.6 1284.2,1389.1 1286.7,1396.6 1287.2,1399.5 1288.9,1391.6 1290.6,1399.5 1292.0,1402.5 1293.7,1397.6 1295.4,1402.5 1296.8,1405.4 1298.4,1404.6 1300.1,1405.4 1301.2,1408.4 1303.2,1408.0 1305.2,1408.4 1306.3,1411.3 1308.0,1410.0 1309.6,1411.3 1310.3,1414.2 1312.7,1413.6 1315.2,1414.2 1316.1,1417.2 1317.5,1417.1 1318.9,1417.2 1320.2,1420.1 1322.3,1417.2 1324.3,1420.1 1324.7,1423.1 1327.0,1422.1 1329.4,1423.1 1331.8,1426.0 1328.5,1443.0 1330.8,1443.8 1333.1,1443.0 1323.7,1446.1 1326.1,1447.3 1328.5,1446.1 1320.0,1449.2 1321.4,1450.2 1322.8,1449.2 1314.5,1452.4 1316.7,1455.5 1318.8,1452.4 1310.0,1455.5 1312.0,1456.4 1314.0,1455.5 1305.3,1458.6 1307.3,1458.9 1309.2,1458.6 1301.2,1461.7 1302.6,1470.7 1304.0,1461.7 1295.7,1464.8 1297.9,1466.6 1300.0,1464.8 1290.8,1467.9 1293.2,1469.2 1295.5,1467.9 1286.3,1471.1 1288.4,1472.0 1290.6,1471.1 1281.1,1474.2 1283.7,1475.8 1286.3,1474.2 1276.7,1477.3 1279.0,1478.0 1281.4,1477.3 1272.1,1480.4 1274.3,1481.5 1276.6,1480.4 1267.7,1483.5 1269.6,1483.6 1271.5,1483.5 1262.8,1486.6 1264.9,1487.6 1267.0,1486.6 1258.7,1489.8 1260.2,1498.8 1261.7,1489.8 1253.3,1492.9 1255.5,1493.1 1257.7,1492.9 1248.8,1496.0 1250.8,1497.9 1252.8,1496.0 1243.8,1499.1 1246.1,1500.2 1248.4,1499.1 1238.8,1502.2 1241.4,1502.7 1243.9,1502.2 1235.4,1505.4 1236.7,1514.4 1238.0,1505.4 1230.6,1508.5 1232.0,1508.7 1233.4,1508.5 1225.0,1511.6 1227.3,1512.0 1229.5,1511.6 1220.4,1514.7 1222.6,1514.9 1224.7,1514.7 1216.0,1517.8 1217.9,1519.1 1219.8,1517.8 1211.8,1520.9 1213.2,1521.5 1214.5,1520.9 1205.9,1524.1 1208.4,1524.8 1211.0,1524.1 1201.7,1527.2 1203.7,1528.8 1205.7,1527.2 1197.8,1530.3 1199.0,1533.6 1200.3,1530.3 1191.8,1533.4 1194.3,1533.9 1196.8,1533.4 1188.2,1536.5 1189.6,1537.6 1191.0,1536.5 1183.0,1539.6 1184.9,1539.7 1186.8,1539.6 1178.2,1542.8 1180.2,1543.0 1182.2,1542.8 1172.9,1545.9 1175.5,1546.8 1178.1,1545.9 1168.5,1549.0 1170.8,1549.3 1173.1,1549.0 1164.7,1546.0 1166.1,1546.6 1167.5,1546.0 1159.3,1542.9 1161.4,1543.9 1163.5,1542.9 1154.4,1539.9 1156.7,1543.0 1159.0,1539.9 1149.6,1536.9 1152.0,1537.2 1154.4,1536.9 1145.8,1533.9 1147.3,1534.9 1148.7,1533.9 1140.7,1530.8 1142.6,1531.0 1144.4,1530.8 1135.5,1527.8 1137.9,1529.6 1140.2,1527.8 1130.8,1524.8 1133.2,1526.4 1135.5,1524.8 1126.4,1521.7 1128.4,1521.8 1130.5,1521.7 1121.7,1518.7 1123.7,1518.8 1125.8,1518.7 1117.4,1515.7 1119.0,1516.3 1120.7,1515.7 1112.8,1512.6 1114.3,1513.7 1115.9,1512.6 1107.6,1509.6 1109.6,1509.8 1111.6,1509.6 1102.6,1506.6 1104.9,1506.9 1107.2,1506.6 1098.7,1503.6 1100.2,1507.9 1101.8,1503.6 1094.1,1500.5 1095.5,1501.3 1096.9,1500.5 1089.5,1497.5 1090.8,1503.8 1092.1,1497.5 1083.6,1494.5 1086.1,1497.1 1088.6,1494.5 1080.1,1491.4 1081.4,1491.9 1082.7,1491.4 1075.4,1488.4 1076.7,1489.6 1078.0,1488.4 1070.6,1485.4 1072.0,1486.4 1073.3,1485.4 1064.9,1482.4 1067.3,1483.3 1069.6,1482.4 1060.7,1479.3 1062.6,1482.6 1064.4,1479.3 1055.6,1476.3 1057.9,1479.6 1060.1,1476.3 1051.0,1473.3 1053.2,1473.8 1055.3,1473.3 1046.2,1470.2 1048.4,1471.1 1050.6,1470.2 1041.9,1467.2 1043.7,1467.4 1045.5,1467.2 1037.6,1464.2 1039.0,1465.2 1040.5,1464.2 1032.2,1461.1 1034.3,1462.1 1036.5,1461.1 1027.6,1458.1 1029.6,1459.1 1031.7,1458.1 1022.6,1455.1 1024.9,1455.1 1027.2,1455.1 1018.4,1452.1 1020.2,1453.6 1022.0,1452.1 1013.0,1449.0 1015.5,1449.4 1018.0,1449.0" fill="#8a5a20" filter="url(#afmA)"/>
<polygon points="1009.1,1429.0 1170.8,1540.5 1331.7,1428.5 1328.5,1443.0 1330.8,1443.8 1333.1,1443.0 1323.7,1446.1 1326.1,1447.3 1328.5,1446.1 1320.0,1449.2 1321.4,1450.2 1322.8,1449.2 1314.5,1452.4 1316.7,1455.5 1318.8,1452.4 1310.0,1455.5 1312.0,1456.4 1314.0,1455.5 1305.3,1458.6 1307.3,1458.9 1309.2,1458.6 1301.2,1461.7 1302.6,1470.7 1304.0,1461.7 1295.7,1464.8 1297.9,1466.6 1300.0,1464.8 1290.8,1467.9 1293.2,1469.2 1295.5,1467.9 1286.3,1471.1 1288.4,1472.0 1290.6,1471.1 1281.1,1474.2 1283.7,1475.8 1286.3,1474.2 1276.7,1477.3 1279.0,1478.0 1281.4,1477.3 1272.1,1480.4 1274.3,1481.5 1276.6,1480.4 1267.7,1483.5 1269.6,1483.6 1271.5,1483.5 1262.8,1486.6 1264.9,1487.6 1267.0,1486.6 1258.7,1489.8 1260.2,1498.8 1261.7,1489.8 1253.3,1492.9 1255.5,1493.1 1257.7,1492.9 1248.8,1496.0 1250.8,1497.9 1252.8,1496.0 1243.8,1499.1 1246.1,1500.2 1248.4,1499.1 1238.8,1502.2 1241.4,1502.7 1243.9,1502.2 1235.4,1505.4 1236.7,1514.4 1238.0,1505.4 1230.6,1508.5 1232.0,1508.7 1233.4,1508.5 1225.0,1511.6 1227.3,1512.0 1229.5,1511.6 1220.4,1514.7 1222.6,1514.9 1224.7,1514.7 1216.0,1517.8 1217.9,1519.1 1219.8,1517.8 1211.8,1520.9 1213.2,1521.5 1214.5,1520.9 1205.9,1524.1 1208.4,1524.8 1211.0,1524.1 1201.7,1527.2 1203.7,1528.8 1205.7,1527.2 1197.8,1530.3 1199.0,1533.6 1200.3,1530.3 1191.8,1533.4 1194.3,1533.9 1196.8,1533.4 1188.2,1536.5 1189.6,1537.6 1191.0,1536.5 1183.0,1539.6 1184.9,1539.7 1186.8,1539.6 1178.2,1542.8 1180.2,1543.0 1182.2,1542.8 1172.9,1545.9 1175.5,1546.8 1178.1,1545.9 1168.5,1549.0 1170.8,1549.3 1173.1,1549.0 1164.7,1546.0 1166.1,1546.6 1167.5,1546.0 1159.3,1542.9 1161.4,1543.9 1163.5,1542.9 1154.4,1539.9 1156.7,1543.0 1159.0,1539.9 1149.6,1536.9 1152.0,1537.2 1154.4,1536.9 1145.8,1533.9 1147.3,1534.9 1148.7,1533.9 1140.7,1530.8 1142.6,1531.0 1144.4,1530.8 1135.5,1527.8 1137.9,1529.6 1140.2,1527.8 1130.8,1524.8 1133.2,1526.4 1135.5,1524.8 1126.4,1521.7 1128.4,1521.8 1130.5,1521.7 1121.7,1518.7 1123.7,1518.8 1125.8,1518.7 1117.4,1515.7 1119.0,1516.3 1120.7,1515.7 1112.8,1512.6 1114.3,1513.7 1115.9,1512.6 1107.6,1509.6 1109.6,1509.8 1111.6,1509.6 1102.6,1506.6 1104.9,1506.9 1107.2,1506.6 1098.7,1503.6 1100.2,1507.9 1101.8,1503.6 1094.1,1500.5 1095.5,1501.3 1096.9,1500.5 1089.5,1497.5 1090.8,1503.8 1092.1,1497.5 1083.6,1494.5 1086.1,1497.1 1088.6,1494.5 1080.1,1491.4 1081.4,1491.9 1082.7,1491.4 1075.4,1488.4 1076.7,1489.6 1078.0,1488.4 1070.6,1485.4 1072.0,1486.4 1073.3,1485.4 1064.9,1482.4 1067.3,1483.3 1069.6,1482.4 1060.7,1479.3 1062.6,1482.6 1064.4,1479.3 1055.6,1476.3 1057.9,1479.6 1060.1,1476.3 1051.0,1473.3 1053.2,1473.8 1055.3,1473.3 1046.2,1470.2 1048.4,1471.1 1050.6,1470.2 1041.9,1467.2 1043.7,1467.4 1045.5,1467.2 1037.6,1464.2 1039.0,1465.2 1040.5,1464.2 1032.2,1461.1 1034.3,1462.1 1036.5,1461.1 1027.6,1458.1 1029.6,1459.1 1031.7,1458.1 1022.6,1455.1 1024.9,1455.1 1027.2,1455.1 1018.4,1452.1 1020.2,1453.6 1022.0,1452.1 1013.0,1449.0 1015.5,1449.4 1018.0,1449.0" fill="#2a0c02" fill-opacity="0.36"/>
<polygon points="1009.7,1435.0 1170.8,1543.5 1331.3,1433.7 1328.5,1443.0 1330.8,1443.8 1333.1,1443.0 1323.7,1446.1 1326.1,1447.3 1328.5,1446.1 1320.0,1449.2 1321.4,1450.2 1322.8,1449.2 1314.5,1452.4 1316.7,1455.5 1318.8,1452.4 1310.0,1455.5 1312.0,1456.4 1314.0,1455.5 1305.3,1458.6 1307.3,1458.9 1309.2,1458.6 1301.2,1461.7 1302.6,1470.7 1304.0,1461.7 1295.7,1464.8 1297.9,1466.6 1300.0,1464.8 1290.8,1467.9 1293.2,1469.2 1295.5,1467.9 1286.3,1471.1 1288.4,1472.0 1290.6,1471.1 1281.1,1474.2 1283.7,1475.8 1286.3,1474.2 1276.7,1477.3 1279.0,1478.0 1281.4,1477.3 1272.1,1480.4 1274.3,1481.5 1276.6,1480.4 1267.7,1483.5 1269.6,1483.6 1271.5,1483.5 1262.8,1486.6 1264.9,1487.6 1267.0,1486.6 1258.7,1489.8 1260.2,1498.8 1261.7,1489.8 1253.3,1492.9 1255.5,1493.1 1257.7,1492.9 1248.8,1496.0 1250.8,1497.9 1252.8,1496.0 1243.8,1499.1 1246.1,1500.2 1248.4,1499.1 1238.8,1502.2 1241.4,1502.7 1243.9,1502.2 1235.4,1505.4 1236.7,1514.4 1238.0,1505.4 1230.6,1508.5 1232.0,1508.7 1233.4,1508.5 1225.0,1511.6 1227.3,1512.0 1229.5,1511.6 1220.4,1514.7 1222.6,1514.9 1224.7,1514.7 1216.0,1517.8 1217.9,1519.1 1219.8,1517.8 1211.8,1520.9 1213.2,1521.5 1214.5,1520.9 1205.9,1524.1 1208.4,1524.8 1211.0,1524.1 1201.7,1527.2 1203.7,1528.8 1205.7,1527.2 1197.8,1530.3 1199.0,1533.6 1200.3,1530.3 1191.8,1533.4 1194.3,1533.9 1196.8,1533.4 1188.2,1536.5 1189.6,1537.6 1191.0,1536.5 1183.0,1539.6 1184.9,1539.7 1186.8,1539.6 1178.2,1542.8 1180.2,1543.0 1182.2,1542.8 1172.9,1545.9 1175.5,1546.8 1178.1,1545.9 1168.5,1549.0 1170.8,1549.3 1173.1,1549.0 1164.7,1546.0 1166.1,1546.6 1167.5,1546.0 1159.3,1542.9 1161.4,1543.9 1163.5,1542.9 1154.4,1539.9 1156.7,1543.0 1159.0,1539.9 1149.6,1536.9 1152.0,1537.2 1154.4,1536.9 1145.8,1533.9 1147.3,1534.9 1148.7,1533.9 1140.7,1530.8 1142.6,1531.0 1144.4,1530.8 1135.5,1527.8 1137.9,1529.6 1140.2,1527.8 1130.8,1524.8 1133.2,1526.4 1135.5,1524.8 1126.4,1521.7 1128.4,1521.8 1130.5,1521.7 1121.7,1518.7 1123.7,1518.8 1125.8,1518.7 1117.4,1515.7 1119.0,1516.3 1120.7,1515.7 1112.8,1512.6 1114.3,1513.7 1115.9,1512.6 1107.6,1509.6 1109.6,1509.8 1111.6,1509.6 1102.6,1506.6 1104.9,1506.9 1107.2,1506.6 1098.7,1503.6 1100.2,1507.9 1101.8,1503.6 1094.1,1500.5 1095.5,1501.3 1096.9,1500.5 1089.5,1497.5 1090.8,1503.8 1092.1,1497.5 1083.6,1494.5 1086.1,1497.1 1088.6,1494.5 1080.1,1491.4 1081.4,1491.9 1082.7,1491.4 1075.4,1488.4 1076.7,1489.6 1078.0,1488.4 1070.6,1485.4 1072.0,1486.4 1073.3,1485.4 1064.9,1482.4 1067.3,1483.3 1069.6,1482.4 1060.7,1479.3 1062.6,1482.6 1064.4,1479.3 1055.6,1476.3 1057.9,1479.6 1060.1,1476.3 1051.0,1473.3 1053.2,1473.8 1055.3,1473.3 1046.2,1470.2 1048.4,1471.1 1050.6,1470.2 1041.9,1467.2 1043.7,1467.4 1045.5,1467.2 1037.6,1464.2 1039.0,1465.2 1040.5,1464.2 1032.2,1461.1 1034.3,1462.1 1036.5,1461.1 1027.6,1458.1 1029.6,1459.1 1031.7,1458.1 1022.6,1455.1 1024.9,1455.1 1027.2,1455.1 1018.4,1452.1 1020.2,1453.6 1022.0,1452.1 1013.0,1449.0 1015.5,1449.4 1018.0,1449.0" fill="#2a0c02" fill-opacity="0.44"/>
<polygon points="1010.3,1441.0 1170.8,1546.5 1331.0,1438.8 1328.5,1443.0 1330.8,1443.8 1333.1,1443.0 1323.7,1446.1 1326.1,1447.3 1328.5,1446.1 1320.0,1449.2 1321.4,1450.2 1322.8,1449.2 1314.5,1452.4 1316.7,1455.5 1318.8,1452.4 1310.0,1455.5 1312.0,1456.4 1314.0,1455.5 1305.3,1458.6 1307.3,1458.9 1309.2,1458.6 1301.2,1461.7 1302.6,1470.7 1304.0,1461.7 1295.7,1464.8 1297.9,1466.6 1300.0,1464.8 1290.8,1467.9 1293.2,1469.2 1295.5,1467.9 1286.3,1471.1 1288.4,1472.0 1290.6,1471.1 1281.1,1474.2 1283.7,1475.8 1286.3,1474.2 1276.7,1477.3 1279.0,1478.0 1281.4,1477.3 1272.1,1480.4 1274.3,1481.5 1276.6,1480.4 1267.7,1483.5 1269.6,1483.6 1271.5,1483.5 1262.8,1486.6 1264.9,1487.6 1267.0,1486.6 1258.7,1489.8 1260.2,1498.8 1261.7,1489.8 1253.3,1492.9 1255.5,1493.1 1257.7,1492.9 1248.8,1496.0 1250.8,1497.9 1252.8,1496.0 1243.8,1499.1 1246.1,1500.2 1248.4,1499.1 1238.8,1502.2 1241.4,1502.7 1243.9,1502.2 1235.4,1505.4 1236.7,1514.4 1238.0,1505.4 1230.6,1508.5 1232.0,1508.7 1233.4,1508.5 1225.0,1511.6 1227.3,1512.0 1229.5,1511.6 1220.4,1514.7 1222.6,1514.9 1224.7,1514.7 1216.0,1517.8 1217.9,1519.1 1219.8,1517.8 1211.8,1520.9 1213.2,1521.5 1214.5,1520.9 1205.9,1524.1 1208.4,1524.8 1211.0,1524.1 1201.7,1527.2 1203.7,1528.8 1205.7,1527.2 1197.8,1530.3 1199.0,1533.6 1200.3,1530.3 1191.8,1533.4 1194.3,1533.9 1196.8,1533.4 1188.2,1536.5 1189.6,1537.6 1191.0,1536.5 1183.0,1539.6 1184.9,1539.7 1186.8,1539.6 1178.2,1542.8 1180.2,1543.0 1182.2,1542.8 1172.9,1545.9 1175.5,1546.8 1178.1,1545.9 1168.5,1549.0 1170.8,1549.3 1173.1,1549.0 1164.7,1546.0 1166.1,1546.6 1167.5,1546.0 1159.3,1542.9 1161.4,1543.9 1163.5,1542.9 1154.4,1539.9 1156.7,1543.0 1159.0,1539.9 1149.6,1536.9 1152.0,1537.2 1154.4,1536.9 1145.8,1533.9 1147.3,1534.9 1148.7,1533.9 1140.7,1530.8 1142.6,1531.0 1144.4,1530.8 1135.5,1527.8 1137.9,1529.6 1140.2,1527.8 1130.8,1524.8 1133.2,1526.4 1135.5,1524.8 1126.4,1521.7 1128.4,1521.8 1130.5,1521.7 1121.7,1518.7 1123.7,1518.8 1125.8,1518.7 1117.4,1515.7 1119.0,1516.3 1120.7,1515.7 1112.8,1512.6 1114.3,1513.7 1115.9,1512.6 1107.6,1509.6 1109.6,1509.8 1111.6,1509.6 1102.6,1506.6 1104.9,1506.9 1107.2,1506.6 1098.7,1503.6 1100.2,1507.9 1101.8,1503.6 1094.1,1500.5 1095.5,1501.3 1096.9,1500.5 1089.5,1497.5 1090.8,1503.8 1092.1,1497.5 1083.6,1494.5 1086.1,1497.1 1088.6,1494.5 1080.1,1491.4 1081.4,1491.9 1082.7,1491.4 1075.4,1488.4 1076.7,1489.6 1078.0,1488.4 1070.6,1485.4 1072.0,1486.4 1073.3,1485.4 1064.9,1482.4 1067.3,1483.3 1069.6,1482.4 1060.7,1479.3 1062.6,1482.6 1064.4,1479.3 1055.6,1476.3 1057.9,1479.6 1060.1,1476.3 1051.0,1473.3 1053.2,1473.8 1055.3,1473.3 1046.2,1470.2 1048.4,1471.1 1050.6,1470.2 1041.9,1467.2 1043.7,1467.4 1045.5,1467.2 1037.6,1464.2 1039.0,1465.2 1040.5,1464.2 1032.2,1461.1 1034.3,1462.1 1036.5,1461.1 1027.6,1458.1 1029.6,1459.1 1031.7,1458.1 1022.6,1455.1 1024.9,1455.1 1027.2,1455.1 1018.4,1452.1 1020.2,1453.6 1022.0,1452.1 1013.0,1449.0 1015.5,1449.4 1018.0,1449.0" fill="#2a0c02" fill-opacity="0.60"/>
<polyline points="1006.4,1389.8 1000.4,1389.8 1000.4,1444.0 1171.8,1561.2 1343.2,1444.0 1343.2,1436.0" fill="none" stroke="#000" stroke-width="2.0"/>
<line x1="1000.4" y1="1417.0" x2="1006.4" y2="1417.0" stroke="#000" stroke-width="2.0"/>
<line x1="1034.7" y1="1467.4" x2="1034.7" y2="1461.4" stroke="#000" stroke-width="1.6"/>
<line x1="1206.1" y1="1537.8" x2="1206.1" y2="1531.8" stroke="#000" stroke-width="1.6"/>
<line x1="1069.0" y1="1490.9" x2="1069.0" y2="1484.9" stroke="#000" stroke-width="1.6"/>
<line x1="1240.4" y1="1514.3" x2="1240.4" y2="1508.3" stroke="#000" stroke-width="1.6"/>
<line x1="1103.2" y1="1514.3" x2="1103.2" y2="1508.3" stroke="#000" stroke-width="1.6"/>
<line x1="1274.6" y1="1490.9" x2="1274.6" y2="1484.9" stroke="#000" stroke-width="1.6"/>
<line x1="1137.5" y1="1537.8" x2="1137.5" y2="1531.8" stroke="#000" stroke-width="1.6"/>
<line x1="1308.9" y1="1467.4" x2="1308.9" y2="1461.4" stroke="#000" stroke-width="1.6"/>
<text x="994.3" y="1371.5" font-size="23.5" fill="#000" text-anchor="end" >nm</text>
<text x="994.3" y="1399.0" font-size="23.5" fill="#000" text-anchor="end" >1.5</text>
<text x="994.3" y="1424.3" font-size="23.5" fill="#000" text-anchor="end" >0.0</text>
<text x="987.0" y="1462.9" font-size="23.5" fill="#000" text-anchor="middle" >1.0</text>
<text x="1017.3" y="1485.3" font-size="23.5" fill="#000" text-anchor="middle" >0.8</text>
<text x="1052.3" y="1509.2" font-size="23.5" fill="#000" text-anchor="middle" >0.6</text>
<text x="1088.8" y="1534.5" font-size="23.5" fill="#000" text-anchor="middle" >0.4</text>
<text x="1125.3" y="1558.4" font-size="23.5" fill="#000" text-anchor="middle" >0.2</text>
<text x="1219.5" y="1559.8" font-size="23.5" fill="#000" text-anchor="middle" >0.2</text>
<text x="1256.1" y="1536.8" font-size="23.5" fill="#000" text-anchor="middle" >0.4</text>
<text x="1289.8" y="1509.2" font-size="23.5" fill="#000" text-anchor="middle" >0.6</text>
<text x="1322.8" y="1486.2" font-size="23.5" fill="#000" text-anchor="middle" >0.8</text>
<text x="1355.1" y="1466.5" font-size="23.5" fill="#000" text-anchor="middle" >1.0</text>
<text x="1193.6" y="1588.0" font-size="23.5" fill="#000" text-anchor="middle" >0 µm</text>
<polygon points="1433.7,1424.5 1435.0,1415.0 1436.3,1424.5 1437.3,1421.7 1439.7,1416.9 1442.2,1421.7 1442.3,1419.0 1444.5,1418.6 1446.6,1419.0 1446.8,1416.2 1449.2,1412.0 1451.6,1416.2 1452.6,1413.4 1453.9,1401.4 1455.2,1413.4 1456.9,1410.7 1458.7,1403.8 1460.4,1410.7 1461.3,1407.9 1463.4,1405.1 1465.5,1407.9 1465.7,1405.1 1468.1,1404.4 1470.6,1405.1 1471.6,1402.4 1472.9,1401.3 1474.2,1402.4 1475.1,1399.6 1477.6,1399.5 1480.2,1399.6 1480.1,1396.9 1482.4,1394.4 1484.6,1396.9 1485.7,1394.1 1487.1,1393.8 1488.5,1394.1 1490.2,1391.3 1491.8,1390.8 1493.5,1391.3 1494.5,1388.6 1496.6,1385.9 1498.6,1388.6 1499.8,1385.8 1501.3,1381.3 1502.8,1385.8 1504.4,1383.0 1506.0,1378.9 1507.6,1383.0 1508.7,1380.3 1510.8,1379.2 1512.8,1380.3 1513.1,1377.5 1515.5,1376.1 1517.9,1377.5 1518.5,1374.7 1520.2,1372.7 1522.0,1374.7 1523.1,1372.0 1525.0,1369.7 1526.8,1372.0 1528.4,1369.2 1529.7,1367.7 1531.0,1369.2 1533.0,1366.4 1534.4,1365.8 1535.9,1366.4 1537.7,1363.7 1539.2,1363.5 1540.6,1363.7 1542.1,1360.9 1543.9,1360.9 1545.7,1360.9 1547.4,1358.1 1548.6,1357.1 1549.9,1358.1 1552.1,1355.4 1553.4,1354.9 1554.6,1355.4 1555.7,1352.6 1558.1,1351.9 1560.5,1352.6 1561.1,1349.9 1562.9,1348.9 1564.6,1349.9 1565.0,1347.1 1567.6,1346.5 1570.2,1347.1 1569.9,1344.3 1572.3,1343.1 1574.7,1344.3 1574.8,1341.6 1577.1,1340.6 1579.3,1341.6 1579.4,1338.8 1581.8,1338.6 1584.2,1338.8 1585.3,1336.0 1586.5,1334.5 1587.8,1336.0 1590.1,1333.3 1591.3,1330.5 1592.5,1333.3 1593.8,1330.5 1596.0,1330.2 1598.2,1330.5 1599.5,1333.4 1600.8,1332.4 1602.1,1333.4 1603.9,1336.3 1605.5,1335.9 1607.2,1336.3 1609.1,1339.2 1610.3,1334.6 1611.5,1339.2 1613.6,1342.1 1615.1,1341.7 1616.5,1342.1 1617.5,1345.1 1619.8,1344.1 1622.1,1345.1 1622.5,1348.0 1624.6,1347.7 1626.7,1348.0 1627.9,1350.9 1629.4,1346.6 1630.8,1350.9 1631.7,1353.8 1634.1,1351.6 1636.5,1353.8 1636.5,1356.7 1638.9,1355.9 1641.3,1356.7 1641.2,1359.6 1643.6,1359.0 1646.0,1359.6 1646.2,1362.5 1648.4,1353.1 1650.6,1362.5 1650.6,1365.4 1653.2,1363.3 1655.7,1365.4 1656.1,1368.4 1657.9,1366.9 1659.8,1368.4 1661.2,1371.3 1662.7,1369.7 1664.2,1371.3 1666.0,1374.2 1667.5,1373.7 1669.0,1374.2 1670.9,1377.1 1672.2,1376.4 1673.6,1377.1 1675.5,1380.0 1677.0,1368.0 1678.5,1380.0 1679.2,1382.9 1681.8,1382.3 1684.4,1382.9 1685.3,1385.8 1686.5,1385.7 1687.8,1385.8 1689.5,1388.7 1691.3,1388.6 1693.1,1388.7 1693.6,1391.6 1696.1,1390.0 1698.5,1391.6 1699.0,1394.6 1700.8,1391.3 1702.6,1394.6 1703.3,1397.5 1705.6,1396.0 1707.9,1397.5 1708.8,1400.4 1710.4,1399.8 1711.9,1400.4 1713.8,1403.3 1715.1,1394.6 1716.5,1403.3 1717.5,1406.2 1719.9,1402.9 1722.3,1406.2 1722.9,1409.1 1724.6,1405.2 1726.4,1409.1 1728.2,1412.0 1729.4,1402.8 1730.6,1412.0 1732.3,1414.9 1734.2,1413.9 1736.1,1414.9 1737.5,1417.9 1738.9,1416.6 1740.4,1417.9 1742.2,1420.8 1743.7,1420.6 1745.2,1420.8 1747.2,1423.7 1748.5,1423.3 1749.8,1423.7 1751.7,1426.6 1753.2,1426.5 1754.7,1426.6 1758.0,1429.5 1754.7,1447.5 1757.0,1448.2 1759.3,1447.5 1749.8,1450.6 1752.3,1451.2 1754.8,1450.6 1746.2,1453.7 1747.6,1454.4 1748.9,1453.7 1741.2,1456.9 1742.9,1457.8 1744.6,1456.9 1736.1,1460.0 1738.2,1464.0 1740.3,1460.0 1731.0,1463.1 1733.5,1463.8 1736.0,1463.1 1727.2,1466.2 1728.8,1475.2 1730.3,1466.2 1721.5,1469.3 1724.1,1469.7 1726.6,1469.3 1718.1,1472.4 1719.4,1473.4 1720.6,1472.4 1713.2,1475.6 1714.6,1481.5 1716.1,1475.6 1707.5,1478.7 1709.9,1479.0 1712.4,1478.7 1703.0,1481.8 1705.2,1482.9 1707.4,1481.8 1698.7,1484.9 1700.5,1487.2 1702.4,1484.9 1693.6,1488.0 1695.8,1488.4 1698.0,1488.0 1689.1,1491.1 1691.1,1491.3 1693.1,1491.1 1683.9,1494.3 1686.4,1496.6 1688.9,1494.3 1680.5,1497.4 1681.7,1498.4 1683.0,1497.4 1674.5,1500.5 1677.0,1500.7 1679.5,1500.5 1670.5,1503.6 1672.3,1512.6 1674.1,1503.6 1666.0,1506.7 1667.6,1509.4 1669.1,1506.7 1660.3,1509.9 1662.9,1510.6 1665.5,1509.9 1656.4,1513.0 1658.2,1513.9 1660.0,1513.0 1650.9,1516.1 1653.5,1516.5 1656.0,1516.1 1647.1,1519.2 1648.8,1523.0 1650.4,1519.2 1642.6,1522.3 1644.1,1522.9 1645.5,1522.3 1637.3,1525.4 1639.4,1528.7 1641.4,1525.4 1632.4,1528.6 1634.6,1528.7 1636.9,1528.6 1627.5,1531.7 1629.9,1531.9 1632.4,1531.7 1623.3,1534.8 1625.2,1535.6 1627.2,1534.8 1618.0,1537.9 1620.5,1540.2 1623.1,1537.9 1614.4,1541.0 1615.8,1541.7 1617.2,1541.0 1608.6,1544.1 1611.1,1546.1 1613.6,1544.1 1604.0,1547.3 1606.4,1549.7 1608.9,1547.3 1599.8,1550.4 1601.7,1554.5 1603.6,1550.4 1595.1,1553.5 1597.0,1555.2 1598.9,1553.5 1590.5,1550.5 1592.3,1550.5 1594.1,1550.5 1586.1,1547.4 1587.6,1548.6 1589.1,1547.4 1581.1,1544.4 1582.9,1544.8 1584.7,1544.4 1575.8,1541.4 1578.2,1548.4 1580.5,1541.4 1572.0,1538.4 1573.5,1539.1 1574.9,1538.4 1566.5,1535.3 1568.8,1535.9 1571.1,1535.3 1562.0,1532.3 1564.1,1532.6 1566.1,1532.3 1558.1,1529.3 1559.4,1529.6 1560.6,1529.3 1552.1,1526.2 1554.6,1526.5 1557.2,1526.2 1548.5,1523.2 1549.9,1523.7 1551.4,1523.2 1543.4,1520.2 1545.2,1521.2 1547.0,1520.2 1538.8,1517.1 1540.5,1517.3 1542.2,1517.1 1533.6,1514.1 1535.8,1514.3 1538.1,1514.1 1529.1,1511.1 1531.1,1512.1 1533.1,1511.1 1524.1,1508.1 1526.4,1511.1 1528.7,1508.1 1520.3,1505.0 1521.7,1505.2 1523.1,1505.0 1514.9,1502.0 1517.0,1504.7 1519.1,1502.0 1510.7,1499.0 1512.3,1499.8 1513.9,1499.0 1506.2,1495.9 1507.6,1496.1 1508.9,1495.9 1501.5,1492.9 1502.9,1494.8 1504.2,1492.9 1495.8,1489.9 1498.2,1491.0 1500.6,1489.9 1492.0,1486.9 1493.5,1487.7 1494.9,1486.9 1486.6,1483.8 1488.8,1484.4 1490.9,1483.8 1482.5,1480.8 1484.1,1481.1 1485.6,1480.8 1478.1,1477.8 1479.4,1478.1 1480.6,1477.8 1472.3,1474.7 1474.6,1483.6 1477.0,1474.7 1468.7,1471.7 1469.9,1473.6 1471.2,1471.7 1463.8,1468.7 1465.2,1469.5 1466.7,1468.7 1458.6,1465.6 1460.5,1467.6 1462.5,1465.6 1453.7,1462.6 1455.8,1471.6 1457.9,1462.6 1449.0,1459.6 1451.1,1460.4 1453.2,1459.6 1444.5,1456.6 1446.4,1457.0 1448.4,1456.6 1440.1,1453.5 1441.7,1456.2 1443.3,1453.5" fill="#8a5a20" filter="url(#afmC)"/>
<polygon points="1435.3,1428.4 1597.0,1545.0 1757.8,1432.2 1754.7,1447.5 1757.0,1448.2 1759.3,1447.5 1749.8,1450.6 1752.3,1451.2 1754.8,1450.6 1746.2,1453.7 1747.6,1454.4 1748.9,1453.7 1741.2,1456.9 1742.9,1457.8 1744.6,1456.9 1736.1,1460.0 1738.2,1464.0 1740.3,1460.0 1731.0,1463.1 1733.5,1463.8 1736.0,1463.1 1727.2,1466.2 1728.8,1475.2 1730.3,1466.2 1721.5,1469.3 1724.1,1469.7 1726.6,1469.3 1718.1,1472.4 1719.4,1473.4 1720.6,1472.4 1713.2,1475.6 1714.6,1481.5 1716.1,1475.6 1707.5,1478.7 1709.9,1479.0 1712.4,1478.7 1703.0,1481.8 1705.2,1482.9 1707.4,1481.8 1698.7,1484.9 1700.5,1487.2 1702.4,1484.9 1693.6,1488.0 1695.8,1488.4 1698.0,1488.0 1689.1,1491.1 1691.1,1491.3 1693.1,1491.1 1683.9,1494.3 1686.4,1496.6 1688.9,1494.3 1680.5,1497.4 1681.7,1498.4 1683.0,1497.4 1674.5,1500.5 1677.0,1500.7 1679.5,1500.5 1670.5,1503.6 1672.3,1512.6 1674.1,1503.6 1666.0,1506.7 1667.6,1509.4 1669.1,1506.7 1660.3,1509.9 1662.9,1510.6 1665.5,1509.9 1656.4,1513.0 1658.2,1513.9 1660.0,1513.0 1650.9,1516.1 1653.5,1516.5 1656.0,1516.1 1647.1,1519.2 1648.8,1523.0 1650.4,1519.2 1642.6,1522.3 1644.1,1522.9 1645.5,1522.3 1637.3,1525.4 1639.4,1528.7 1641.4,1525.4 1632.4,1528.6 1634.6,1528.7 1636.9,1528.6 1627.5,1531.7 1629.9,1531.9 1632.4,1531.7 1623.3,1534.8 1625.2,1535.6 1627.2,1534.8 1618.0,1537.9 1620.5,1540.2 1623.1,1537.9 1614.4,1541.0 1615.8,1541.7 1617.2,1541.0 1608.6,1544.1 1611.1,1546.1 1613.6,1544.1 1604.0,1547.3 1606.4,1549.7 1608.9,1547.3 1599.8,1550.4 1601.7,1554.5 1603.6,1550.4 1595.1,1553.5 1597.0,1555.2 1598.9,1553.5 1590.5,1550.5 1592.3,1550.5 1594.1,1550.5 1586.1,1547.4 1587.6,1548.6 1589.1,1547.4 1581.1,1544.4 1582.9,1544.8 1584.7,1544.4 1575.8,1541.4 1578.2,1548.4 1580.5,1541.4 1572.0,1538.4 1573.5,1539.1 1574.9,1538.4 1566.5,1535.3 1568.8,1535.9 1571.1,1535.3 1562.0,1532.3 1564.1,1532.6 1566.1,1532.3 1558.1,1529.3 1559.4,1529.6 1560.6,1529.3 1552.1,1526.2 1554.6,1526.5 1557.2,1526.2 1548.5,1523.2 1549.9,1523.7 1551.4,1523.2 1543.4,1520.2 1545.2,1521.2 1547.0,1520.2 1538.8,1517.1 1540.5,1517.3 1542.2,1517.1 1533.6,1514.1 1535.8,1514.3 1538.1,1514.1 1529.1,1511.1 1531.1,1512.1 1533.1,1511.1 1524.1,1508.1 1526.4,1511.1 1528.7,1508.1 1520.3,1505.0 1521.7,1505.2 1523.1,1505.0 1514.9,1502.0 1517.0,1504.7 1519.1,1502.0 1510.7,1499.0 1512.3,1499.8 1513.9,1499.0 1506.2,1495.9 1507.6,1496.1 1508.9,1495.9 1501.5,1492.9 1502.9,1494.8 1504.2,1492.9 1495.8,1489.9 1498.2,1491.0 1500.6,1489.9 1492.0,1486.9 1493.5,1487.7 1494.9,1486.9 1486.6,1483.8 1488.8,1484.4 1490.9,1483.8 1482.5,1480.8 1484.1,1481.1 1485.6,1480.8 1478.1,1477.8 1479.4,1478.1 1480.6,1477.8 1472.3,1474.7 1474.6,1483.6 1477.0,1474.7 1468.7,1471.7 1469.9,1473.6 1471.2,1471.7 1463.8,1468.7 1465.2,1469.5 1466.7,1468.7 1458.6,1465.6 1460.5,1467.6 1462.5,1465.6 1453.7,1462.6 1455.8,1471.6 1457.9,1462.6 1449.0,1459.6 1451.1,1460.4 1453.2,1459.6 1444.5,1456.6 1446.4,1457.0 1448.4,1456.6 1440.1,1453.5 1441.7,1456.2 1443.3,1453.5" fill="#2a0c02" fill-opacity="0.36"/>
<polygon points="1435.9,1436.2 1597.0,1548.0 1757.5,1437.6 1754.7,1447.5 1757.0,1448.2 1759.3,1447.5 1749.8,1450.6 1752.3,1451.2 1754.8,1450.6 1746.2,1453.7 1747.6,1454.4 1748.9,1453.7 1741.2,1456.9 1742.9,1457.8 1744.6,1456.9 1736.1,1460.0 1738.2,1464.0 1740.3,1460.0 1731.0,1463.1 1733.5,1463.8 1736.0,1463.1 1727.2,1466.2 1728.8,1475.2 1730.3,1466.2 1721.5,1469.3 1724.1,1469.7 1726.6,1469.3 1718.1,1472.4 1719.4,1473.4 1720.6,1472.4 1713.2,1475.6 1714.6,1481.5 1716.1,1475.6 1707.5,1478.7 1709.9,1479.0 1712.4,1478.7 1703.0,1481.8 1705.2,1482.9 1707.4,1481.8 1698.7,1484.9 1700.5,1487.2 1702.4,1484.9 1693.6,1488.0 1695.8,1488.4 1698.0,1488.0 1689.1,1491.1 1691.1,1491.3 1693.1,1491.1 1683.9,1494.3 1686.4,1496.6 1688.9,1494.3 1680.5,1497.4 1681.7,1498.4 1683.0,1497.4 1674.5,1500.5 1677.0,1500.7 1679.5,1500.5 1670.5,1503.6 1672.3,1512.6 1674.1,1503.6 1666.0,1506.7 1667.6,1509.4 1669.1,1506.7 1660.3,1509.9 1662.9,1510.6 1665.5,1509.9 1656.4,1513.0 1658.2,1513.9 1660.0,1513.0 1650.9,1516.1 1653.5,1516.5 1656.0,1516.1 1647.1,1519.2 1648.8,1523.0 1650.4,1519.2 1642.6,1522.3 1644.1,1522.9 1645.5,1522.3 1637.3,1525.4 1639.4,1528.7 1641.4,1525.4 1632.4,1528.6 1634.6,1528.7 1636.9,1528.6 1627.5,1531.7 1629.9,1531.9 1632.4,1531.7 1623.3,1534.8 1625.2,1535.6 1627.2,1534.8 1618.0,1537.9 1620.5,1540.2 1623.1,1537.9 1614.4,1541.0 1615.8,1541.7 1617.2,1541.0 1608.6,1544.1 1611.1,1546.1 1613.6,1544.1 1604.0,1547.3 1606.4,1549.7 1608.9,1547.3 1599.8,1550.4 1601.7,1554.5 1603.6,1550.4 1595.1,1553.5 1597.0,1555.2 1598.9,1553.5 1590.5,1550.5 1592.3,1550.5 1594.1,1550.5 1586.1,1547.4 1587.6,1548.6 1589.1,1547.4 1581.1,1544.4 1582.9,1544.8 1584.7,1544.4 1575.8,1541.4 1578.2,1548.4 1580.5,1541.4 1572.0,1538.4 1573.5,1539.1 1574.9,1538.4 1566.5,1535.3 1568.8,1535.9 1571.1,1535.3 1562.0,1532.3 1564.1,1532.6 1566.1,1532.3 1558.1,1529.3 1559.4,1529.6 1560.6,1529.3 1552.1,1526.2 1554.6,1526.5 1557.2,1526.2 1548.5,1523.2 1549.9,1523.7 1551.4,1523.2 1543.4,1520.2 1545.2,1521.2 1547.0,1520.2 1538.8,1517.1 1540.5,1517.3 1542.2,1517.1 1533.6,1514.1 1535.8,1514.3 1538.1,1514.1 1529.1,1511.1 1531.1,1512.1 1533.1,1511.1 1524.1,1508.1 1526.4,1511.1 1528.7,1508.1 1520.3,1505.0 1521.7,1505.2 1523.1,1505.0 1514.9,1502.0 1517.0,1504.7 1519.1,1502.0 1510.7,1499.0 1512.3,1499.8 1513.9,1499.0 1506.2,1495.9 1507.6,1496.1 1508.9,1495.9 1501.5,1492.9 1502.9,1494.8 1504.2,1492.9 1495.8,1489.9 1498.2,1491.0 1500.6,1489.9 1492.0,1486.9 1493.5,1487.7 1494.9,1486.9 1486.6,1483.8 1488.8,1484.4 1490.9,1483.8 1482.5,1480.8 1484.1,1481.1 1485.6,1480.8 1478.1,1477.8 1479.4,1478.1 1480.6,1477.8 1472.3,1474.7 1474.6,1483.6 1477.0,1474.7 1468.7,1471.7 1469.9,1473.6 1471.2,1471.7 1463.8,1468.7 1465.2,1469.5 1466.7,1468.7 1458.6,1465.6 1460.5,1467.6 1462.5,1465.6 1453.7,1462.6 1455.8,1471.6 1457.9,1462.6 1449.0,1459.6 1451.1,1460.4 1453.2,1459.6 1444.5,1456.6 1446.4,1457.0 1448.4,1456.6 1440.1,1453.5 1441.7,1456.2 1443.3,1453.5" fill="#2a0c02" fill-opacity="0.44"/>
<polygon points="1436.5,1444.0 1597.0,1551.0 1757.2,1443.0 1754.7,1447.5 1757.0,1448.2 1759.3,1447.5 1749.8,1450.6 1752.3,1451.2 1754.8,1450.6 1746.2,1453.7 1747.6,1454.4 1748.9,1453.7 1741.2,1456.9 1742.9,1457.8 1744.6,1456.9 1736.1,1460.0 1738.2,1464.0 1740.3,1460.0 1731.0,1463.1 1733.5,1463.8 1736.0,1463.1 1727.2,1466.2 1728.8,1475.2 1730.3,1466.2 1721.5,1469.3 1724.1,1469.7 1726.6,1469.3 1718.1,1472.4 1719.4,1473.4 1720.6,1472.4 1713.2,1475.6 1714.6,1481.5 1716.1,1475.6 1707.5,1478.7 1709.9,1479.0 1712.4,1478.7 1703.0,1481.8 1705.2,1482.9 1707.4,1481.8 1698.7,1484.9 1700.5,1487.2 1702.4,1484.9 1693.6,1488.0 1695.8,1488.4 1698.0,1488.0 1689.1,1491.1 1691.1,1491.3 1693.1,1491.1 1683.9,1494.3 1686.4,1496.6 1688.9,1494.3 1680.5,1497.4 1681.7,1498.4 1683.0,1497.4 1674.5,1500.5 1677.0,1500.7 1679.5,1500.5 1670.5,1503.6 1672.3,1512.6 1674.1,1503.6 1666.0,1506.7 1667.6,1509.4 1669.1,1506.7 1660.3,1509.9 1662.9,1510.6 1665.5,1509.9 1656.4,1513.0 1658.2,1513.9 1660.0,1513.0 1650.9,1516.1 1653.5,1516.5 1656.0,1516.1 1647.1,1519.2 1648.8,1523.0 1650.4,1519.2 1642.6,1522.3 1644.1,1522.9 1645.5,1522.3 1637.3,1525.4 1639.4,1528.7 1641.4,1525.4 1632.4,1528.6 1634.6,1528.7 1636.9,1528.6 1627.5,1531.7 1629.9,1531.9 1632.4,1531.7 1623.3,1534.8 1625.2,1535.6 1627.2,1534.8 1618.0,1537.9 1620.5,1540.2 1623.1,1537.9 1614.4,1541.0 1615.8,1541.7 1617.2,1541.0 1608.6,1544.1 1611.1,1546.1 1613.6,1544.1 1604.0,1547.3 1606.4,1549.7 1608.9,1547.3 1599.8,1550.4 1601.7,1554.5 1603.6,1550.4 1595.1,1553.5 1597.0,1555.2 1598.9,1553.5 1590.5,1550.5 1592.3,1550.5 1594.1,1550.5 1586.1,1547.4 1587.6,1548.6 1589.1,1547.4 1581.1,1544.4 1582.9,1544.8 1584.7,1544.4 1575.8,1541.4 1578.2,1548.4 1580.5,1541.4 1572.0,1538.4 1573.5,1539.1 1574.9,1538.4 1566.5,1535.3 1568.8,1535.9 1571.1,1535.3 1562.0,1532.3 1564.1,1532.6 1566.1,1532.3 1558.1,1529.3 1559.4,1529.6 1560.6,1529.3 1552.1,1526.2 1554.6,1526.5 1557.2,1526.2 1548.5,1523.2 1549.9,1523.7 1551.4,1523.2 1543.4,1520.2 1545.2,1521.2 1547.0,1520.2 1538.8,1517.1 1540.5,1517.3 1542.2,1517.1 1533.6,1514.1 1535.8,1514.3 1538.1,1514.1 1529.1,1511.1 1531.1,1512.1 1533.1,1511.1 1524.1,1508.1 1526.4,1511.1 1528.7,1508.1 1520.3,1505.0 1521.7,1505.2 1523.1,1505.0 1514.9,1502.0 1517.0,1504.7 1519.1,1502.0 1510.7,1499.0 1512.3,1499.8 1513.9,1499.0 1506.2,1495.9 1507.6,1496.1 1508.9,1495.9 1501.5,1492.9 1502.9,1494.8 1504.2,1492.9 1495.8,1489.9 1498.2,1491.0 1500.6,1489.9 1492.0,1486.9 1493.5,1487.7 1494.9,1486.9 1486.6,1483.8 1488.8,1484.4 1490.9,1483.8 1482.5,1480.8 1484.1,1481.1 1485.6,1480.8 1478.1,1477.8 1479.4,1478.1 1480.6,1477.8 1472.3,1474.7 1474.6,1483.6 1477.0,1474.7 1468.7,1471.7 1469.9,1473.6 1471.2,1471.7 1463.8,1468.7 1465.2,1469.5 1466.7,1468.7 1458.6,1465.6 1460.5,1467.6 1462.5,1465.6 1453.7,1462.6 1455.8,1471.6 1457.9,1462.6 1449.0,1459.6 1451.1,1460.4 1453.2,1459.6 1444.5,1456.6 1446.4,1457.0 1448.4,1456.6 1440.1,1453.5 1441.7,1456.2 1443.3,1453.5" fill="#2a0c02" fill-opacity="0.60"/>
<polyline points="1432.6,1394.3 1426.6,1394.3 1426.6,1448.5 1598.0,1565.7 1769.4,1448.5 1769.4,1440.5" fill="none" stroke="#000" stroke-width="2.0"/>
<line x1="1426.6" y1="1421.5" x2="1432.6" y2="1421.5" stroke="#000" stroke-width="2.0"/>
<line x1="1460.9" y1="1471.9" x2="1460.9" y2="1465.9" stroke="#000" stroke-width="1.6"/>
<line x1="1632.3" y1="1542.3" x2="1632.3" y2="1536.3" stroke="#000" stroke-width="1.6"/>
<line x1="1495.2" y1="1495.4" x2="1495.2" y2="1489.4" stroke="#000" stroke-width="1.6"/>
<line x1="1666.6" y1="1518.8" x2="1666.6" y2="1512.8" stroke="#000" stroke-width="1.6"/>
<line x1="1529.4" y1="1518.8" x2="1529.4" y2="1512.8" stroke="#000" stroke-width="1.6"/>
<line x1="1700.8" y1="1495.4" x2="1700.8" y2="1489.4" stroke="#000" stroke-width="1.6"/>
<line x1="1563.7" y1="1542.3" x2="1563.7" y2="1536.3" stroke="#000" stroke-width="1.6"/>
<line x1="1735.1" y1="1471.9" x2="1735.1" y2="1465.9" stroke="#000" stroke-width="1.6"/>
<text x="1420.5" y="1376.0" font-size="23.5" fill="#000" text-anchor="end" >nm</text>
<text x="1420.5" y="1403.5" font-size="23.5" fill="#000" text-anchor="end" >1.1</text>
<text x="1420.5" y="1428.8" font-size="23.5" fill="#000" text-anchor="end" >0.0</text>
<text x="1413.2" y="1467.4" font-size="23.5" fill="#000" text-anchor="middle" >1.0</text>
<text x="1443.5" y="1489.8" font-size="23.5" fill="#000" text-anchor="middle" >0.8</text>
<text x="1478.5" y="1513.7" font-size="23.5" fill="#000" text-anchor="middle" >0.6</text>
<text x="1515.0" y="1539.0" font-size="23.5" fill="#000" text-anchor="middle" >0.4</text>
<text x="1551.5" y="1562.9" font-size="23.5" fill="#000" text-anchor="middle" >0.2</text>
<text x="1645.7" y="1564.3" font-size="23.5" fill="#000" text-anchor="middle" >0.2</text>
<text x="1682.3" y="1541.3" font-size="23.5" fill="#000" text-anchor="middle" >0.4</text>
<text x="1716.0" y="1513.7" font-size="23.5" fill="#000" text-anchor="middle" >0.6</text>
<text x="1749.0" y="1490.7" font-size="23.5" fill="#000" text-anchor="middle" >0.8</text>
<text x="1781.3" y="1471.0" font-size="23.5" fill="#000" text-anchor="middle" >1.0</text>
<text x="1619.8" y="1592.5" font-size="23.5" fill="#000" text-anchor="middle" >0 µm</text>
<polygon points="154.4,1700.2 156.0,1698.2 157.6,1700.2 159.2,1697.7 160.7,1697.0 162.2,1697.7 163.8,1695.2 165.5,1693.3 167.1,1695.2 168.5,1692.7 170.2,1692.3 172.0,1692.7 172.7,1690.2 174.9,1684.7 177.2,1690.2 177.3,1687.7 179.7,1687.5 182.0,1687.7 181.9,1685.2 184.4,1683.1 186.9,1685.2 187.4,1682.7 189.1,1682.2 190.9,1682.7 192.0,1680.2 193.9,1679.9 195.7,1680.2 196.8,1677.7 198.6,1676.3 200.5,1677.7 201.3,1675.2 203.4,1674.0 205.4,1675.2 205.5,1672.7 208.1,1669.4 210.7,1672.7 210.7,1670.2 212.8,1668.8 215.0,1670.2 216.1,1667.7 217.6,1666.7 219.0,1667.7 220.2,1665.2 222.3,1664.7 224.4,1665.2 224.8,1662.7 227.0,1661.7 229.3,1662.7 230.4,1660.2 231.8,1650.5 233.1,1660.2 234.3,1657.7 236.5,1656.4 238.7,1657.7 238.7,1655.2 241.2,1654.4 243.8,1655.2 243.7,1652.7 246.0,1647.6 248.3,1652.7 249.1,1650.2 250.7,1649.3 252.3,1650.2 254.0,1647.7 255.4,1643.0 256.9,1647.7 258.7,1645.2 260.2,1641.1 261.7,1645.2 263.3,1642.7 264.9,1642.0 266.5,1642.7 268.1,1640.2 269.6,1639.2 271.2,1640.2 272.0,1637.7 274.4,1636.7 276.8,1637.7 277.3,1635.2 279.1,1634.9 280.9,1635.2 281.7,1632.7 283.9,1631.7 286.0,1632.7 286.6,1630.2 288.6,1629.9 290.6,1630.2 291.2,1627.7 293.3,1626.4 295.5,1627.7 296.5,1625.2 298.1,1619.5 299.6,1625.2 300.2,1622.7 302.8,1622.5 305.4,1622.7 306.2,1620.2 307.5,1620.1 308.8,1620.2 310.8,1617.7 312.3,1616.7 313.8,1617.7 315.7,1615.2 317.0,1614.2 318.3,1615.2 320.4,1618.0 321.8,1617.6 323.1,1618.0 324.3,1620.7 326.5,1619.7 328.8,1620.7 329.9,1623.5 331.3,1618.6 332.7,1623.5 334.6,1626.3 336.1,1621.5 337.5,1626.3 339.2,1629.0 340.8,1628.0 342.5,1629.0 343.8,1631.8 345.6,1619.8 347.4,1631.8 348.5,1634.6 350.4,1633.4 352.2,1634.6 353.1,1637.3 355.1,1634.5 357.1,1637.3 358.7,1640.1 359.9,1637.9 361.1,1640.1 362.8,1642.8 364.6,1642.6 366.4,1642.8 367.3,1645.6 369.4,1645.6 371.6,1645.6 372.6,1648.4 374.2,1646.9 375.8,1648.4 376.9,1651.1 378.9,1650.1 381.0,1651.1 381.6,1653.9 383.7,1645.0 385.9,1653.9 386.1,1656.7 388.5,1652.6 390.9,1656.7 391.4,1659.4 393.2,1654.8 395.0,1659.4 396.1,1662.2 398.0,1661.1 399.9,1662.2 400.7,1665.0 402.8,1662.5 404.9,1665.0 406.3,1667.7 407.5,1665.3 408.8,1667.7 410.3,1670.5 412.3,1666.6 414.3,1670.5 415.5,1673.3 417.1,1671.8 418.6,1673.3 419.6,1676.0 421.8,1674.5 424.1,1676.0 424.5,1678.8 426.6,1669.9 428.6,1678.8 428.8,1681.6 431.4,1675.7 433.9,1681.6 434.6,1684.3 436.1,1681.5 437.6,1684.3 439.7,1687.1 440.9,1683.4 442.1,1687.1 444.4,1689.8 445.6,1685.9 446.8,1689.8 448.6,1692.6 450.4,1692.5 452.2,1692.6 452.9,1695.4 455.2,1695.3 457.5,1695.4 458.5,1698.1 459.9,1698.0 461.4,1698.1 462.8,1700.9 464.7,1700.6 466.6,1700.9 467.5,1703.7 469.5,1703.2 471.4,1703.7 472.3,1706.4 474.2,1703.6 476.2,1706.4 479.0,1709.2 475.7,1732.2 478.0,1732.4 480.3,1732.2 471.6,1735.3 473.3,1736.6 474.9,1735.3 467.2,1738.4 468.6,1738.6 470.0,1738.4 461.5,1741.6 463.9,1742.0 466.2,1741.6 456.9,1744.7 459.2,1747.9 461.4,1744.7 453.1,1747.8 454.5,1748.4 455.8,1747.8 447.7,1750.9 449.8,1752.6 451.8,1750.9 442.6,1754.0 445.1,1754.0 447.5,1754.0 438.6,1757.1 440.4,1757.9 442.1,1757.1 433.8,1760.3 435.6,1762.7 437.5,1760.3 428.5,1763.4 430.9,1764.6 433.4,1763.4 424.8,1766.5 426.2,1767.5 427.6,1766.5 419.0,1769.6 421.5,1769.7 424.1,1769.6 414.3,1772.7 416.8,1772.9 419.3,1772.7 409.6,1775.8 412.1,1775.9 414.6,1775.8 405.6,1779.0 407.4,1781.4 409.2,1779.0 401.5,1782.1 402.7,1783.5 403.9,1782.1 396.6,1785.2 398.0,1786.2 399.4,1785.2 390.7,1788.3 393.3,1789.0 395.9,1788.3 386.7,1791.4 388.6,1792.3 390.5,1791.4 381.9,1794.6 383.9,1795.0 385.9,1794.6 377.4,1797.7 379.2,1798.2 380.9,1797.7 372.2,1800.8 374.5,1804.5 376.7,1800.8 367.2,1803.9 369.8,1806.0 372.4,1803.9 362.7,1807.0 365.1,1807.4 367.4,1807.0 358.8,1810.1 360.4,1811.0 361.9,1810.1 353.5,1813.3 355.6,1814.1 357.8,1813.3 348.4,1816.4 350.9,1823.3 353.5,1816.4 344.3,1819.5 346.2,1827.1 348.2,1819.5 340.1,1822.6 341.5,1823.9 343.0,1822.6 334.7,1825.7 336.8,1825.8 339.0,1825.7 329.9,1828.8 332.1,1829.5 334.4,1828.8 325.3,1832.0 327.4,1836.6 329.5,1832.0 320.1,1835.1 322.7,1835.7 325.3,1835.1 316.3,1838.2 318.0,1838.4 319.7,1838.2 311.7,1835.2 313.3,1835.9 314.9,1835.2 306.8,1832.1 308.6,1835.3 310.4,1832.1 301.5,1829.1 303.9,1829.3 306.3,1829.1 296.9,1826.1 299.2,1826.4 301.5,1826.1 292.0,1823.1 294.5,1823.2 297.0,1823.1 287.7,1820.0 289.8,1820.3 291.8,1820.0 283.0,1817.0 285.1,1817.4 287.1,1817.0 277.8,1814.0 280.4,1815.2 282.9,1814.0 273.4,1810.9 275.6,1811.3 277.9,1810.9 268.5,1807.9 270.9,1809.8 273.4,1807.9 264.5,1804.9 266.2,1807.1 268.0,1804.9 259.1,1801.8 261.5,1802.5 263.9,1801.8 254.5,1798.8 256.8,1799.6 259.1,1798.8 250.0,1795.8 252.1,1796.9 254.3,1795.8 245.0,1792.8 247.4,1792.9 249.8,1792.8 241.4,1789.7 242.7,1791.6 244.0,1789.7 236.2,1786.7 238.0,1786.8 239.8,1786.7 232.0,1783.7 233.3,1785.1 234.6,1783.7 227.4,1780.6 228.6,1781.2 229.8,1780.6 222.5,1777.6 223.9,1784.4 225.2,1777.6 216.7,1774.6 219.2,1776.9 221.6,1774.6 212.8,1771.6 214.5,1780.6 216.1,1771.6 207.6,1768.5 209.8,1777.5 211.9,1768.5 202.8,1765.5 205.1,1766.5 207.4,1765.5 199.1,1762.5 200.4,1763.6 201.6,1762.5 194.0,1759.4 195.6,1760.6 197.3,1759.4 188.5,1756.4 190.9,1756.9 193.4,1756.4 184.1,1753.4 186.2,1757.1 188.4,1753.4 180.3,1750.3 181.5,1751.1 182.7,1750.3 174.6,1747.3 176.8,1747.4 179.0,1747.3 170.0,1744.3 172.1,1744.9 174.3,1744.3 165.1,1741.3 167.4,1742.4 169.7,1741.3 160.8,1738.2 162.7,1738.6 164.6,1738.2" fill="#8a5a20" filter="url(#afmK)"/>
<polygon points="156.3,1705.5 318.0,1829.7 478.9,1712.7 475.7,1732.2 478.0,1732.4 480.3,1732.2 471.6,1735.3 473.3,1736.6 474.9,1735.3 467.2,1738.4 468.6,1738.6 470.0,1738.4 461.5,1741.6 463.9,1742.0 466.2,1741.6 456.9,1744.7 459.2,1747.9 461.4,1744.7 453.1,1747.8 454.5,1748.4 455.8,1747.8 447.7,1750.9 449.8,1752.6 451.8,1750.9 442.6,1754.0 445.1,1754.0 447.5,1754.0 438.6,1757.1 440.4,1757.9 442.1,1757.1 433.8,1760.3 435.6,1762.7 437.5,1760.3 428.5,1763.4 430.9,1764.6 433.4,1763.4 424.8,1766.5 426.2,1767.5 427.6,1766.5 419.0,1769.6 421.5,1769.7 424.1,1769.6 414.3,1772.7 416.8,1772.9 419.3,1772.7 409.6,1775.8 412.1,1775.9 414.6,1775.8 405.6,1779.0 407.4,1781.4 409.2,1779.0 401.5,1782.1 402.7,1783.5 403.9,1782.1 396.6,1785.2 398.0,1786.2 399.4,1785.2 390.7,1788.3 393.3,1789.0 395.9,1788.3 386.7,1791.4 388.6,1792.3 390.5,1791.4 381.9,1794.6 383.9,1795.0 385.9,1794.6 377.4,1797.7 379.2,1798.2 380.9,1797.7 372.2,1800.8 374.5,1804.5 376.7,1800.8 367.2,1803.9 369.8,1806.0 372.4,1803.9 362.7,1807.0 365.1,1807.4 367.4,1807.0 358.8,1810.1 360.4,1811.0 361.9,1810.1 353.5,1813.3 355.6,1814.1 357.8,1813.3 348.4,1816.4 350.9,1823.3 353.5,1816.4 344.3,1819.5 346.2,1827.1 348.2,1819.5 340.1,1822.6 341.5,1823.9 343.0,1822.6 334.7,1825.7 336.8,1825.8 339.0,1825.7 329.9,1828.8 332.1,1829.5 334.4,1828.8 325.3,1832.0 327.4,1836.6 329.5,1832.0 320.1,1835.1 322.7,1835.7 325.3,1835.1 316.3,1838.2 318.0,1838.4 319.7,1838.2 311.7,1835.2 313.3,1835.9 314.9,1835.2 306.8,1832.1 308.6,1835.3 310.4,1832.1 301.5,1829.1 303.9,1829.3 306.3,1829.1 296.9,1826.1 299.2,1826.4 301.5,1826.1 292.0,1823.1 294.5,1823.2 297.0,1823.1 287.7,1820.0 289.8,1820.3 291.8,1820.0 283.0,1817.0 285.1,1817.4 287.1,1817.0 277.8,1814.0 280.4,1815.2 282.9,1814.0 273.4,1810.9 275.6,1811.3 277.9,1810.9 268.5,1807.9 270.9,1809.8 273.4,1807.9 264.5,1804.9 266.2,1807.1 268.0,1804.9 259.1,1801.8 261.5,1802.5 263.9,1801.8 254.5,1798.8 256.8,1799.6 259.1,1798.8 250.0,1795.8 252.1,1796.9 254.3,1795.8 245.0,1792.8 247.4,1792.9 249.8,1792.8 241.4,1789.7 242.7,1791.6 244.0,1789.7 236.2,1786.7 238.0,1786.8 239.8,1786.7 232.0,1783.7 233.3,1785.1 234.6,1783.7 227.4,1780.6 228.6,1781.2 229.8,1780.6 222.5,1777.6 223.9,1784.4 225.2,1777.6 216.7,1774.6 219.2,1776.9 221.6,1774.6 212.8,1771.6 214.5,1780.6 216.1,1771.6 207.6,1768.5 209.8,1777.5 211.9,1768.5 202.8,1765.5 205.1,1766.5 207.4,1765.5 199.1,1762.5 200.4,1763.6 201.6,1762.5 194.0,1759.4 195.6,1760.6 197.3,1759.4 188.5,1756.4 190.9,1756.9 193.4,1756.4 184.1,1753.4 186.2,1757.1 188.4,1753.4 180.3,1750.3 181.5,1751.1 182.7,1750.3 174.6,1747.3 176.8,1747.4 179.0,1747.3 170.0,1744.3 172.1,1744.9 174.3,1744.3 165.1,1741.3 167.4,1742.4 169.7,1741.3 160.8,1738.2 162.7,1738.6 164.6,1738.2" fill="#2a0c02" fill-opacity="0.36"/>
<polygon points="156.9,1716.0 318.0,1832.7 478.6,1719.5 475.7,1732.2 478.0,1732.4 480.3,1732.2 471.6,1735.3 473.3,1736.6 474.9,1735.3 467.2,1738.4 468.6,1738.6 470.0,1738.4 461.5,1741.6 463.9,1742.0 466.2,1741.6 456.9,1744.7 459.2,1747.9 461.4,1744.7 453.1,1747.8 454.5,1748.4 455.8,1747.8 447.7,1750.9 449.8,1752.6 451.8,1750.9 442.6,1754.0 445.1,1754.0 447.5,1754.0 438.6,1757.1 440.4,1757.9 442.1,1757.1 433.8,1760.3 435.6,1762.7 437.5,1760.3 428.5,1763.4 430.9,1764.6 433.4,1763.4 424.8,1766.5 426.2,1767.5 427.6,1766.5 419.0,1769.6 421.5,1769.7 424.1,1769.6 414.3,1772.7 416.8,1772.9 419.3,1772.7 409.6,1775.8 412.1,1775.9 414.6,1775.8 405.6,1779.0 407.4,1781.4 409.2,1779.0 401.5,1782.1 402.7,1783.5 403.9,1782.1 396.6,1785.2 398.0,1786.2 399.4,1785.2 390.7,1788.3 393.3,1789.0 395.9,1788.3 386.7,1791.4 388.6,1792.3 390.5,1791.4 381.9,1794.6 383.9,1795.0 385.9,1794.6 377.4,1797.7 379.2,1798.2 380.9,1797.7 372.2,1800.8 374.5,1804.5 376.7,1800.8 367.2,1803.9 369.8,1806.0 372.4,1803.9 362.7,1807.0 365.1,1807.4 367.4,1807.0 358.8,1810.1 360.4,1811.0 361.9,1810.1 353.5,1813.3 355.6,1814.1 357.8,1813.3 348.4,1816.4 350.9,1823.3 353.5,1816.4 344.3,1819.5 346.2,1827.1 348.2,1819.5 340.1,1822.6 341.5,1823.9 343.0,1822.6 334.7,1825.7 336.8,1825.8 339.0,1825.7 329.9,1828.8 332.1,1829.5 334.4,1828.8 325.3,1832.0 327.4,1836.6 329.5,1832.0 320.1,1835.1 322.7,1835.7 325.3,1835.1 316.3,1838.2 318.0,1838.4 319.7,1838.2 311.7,1835.2 313.3,1835.9 314.9,1835.2 306.8,1832.1 308.6,1835.3 310.4,1832.1 301.5,1829.1 303.9,1829.3 306.3,1829.1 296.9,1826.1 299.2,1826.4 301.5,1826.1 292.0,1823.1 294.5,1823.2 297.0,1823.1 287.7,1820.0 289.8,1820.3 291.8,1820.0 283.0,1817.0 285.1,1817.4 287.1,1817.0 277.8,1814.0 280.4,1815.2 282.9,1814.0 273.4,1810.9 275.6,1811.3 277.9,1810.9 268.5,1807.9 270.9,1809.8 273.4,1807.9 264.5,1804.9 266.2,1807.1 268.0,1804.9 259.1,1801.8 261.5,1802.5 263.9,1801.8 254.5,1798.8 256.8,1799.6 259.1,1798.8 250.0,1795.8 252.1,1796.9 254.3,1795.8 245.0,1792.8 247.4,1792.9 249.8,1792.8 241.4,1789.7 242.7,1791.6 244.0,1789.7 236.2,1786.7 238.0,1786.8 239.8,1786.7 232.0,1783.7 233.3,1785.1 234.6,1783.7 227.4,1780.6 228.6,1781.2 229.8,1780.6 222.5,1777.6 223.9,1784.4 225.2,1777.6 216.7,1774.6 219.2,1776.9 221.6,1774.6 212.8,1771.6 214.5,1780.6 216.1,1771.6 207.6,1768.5 209.8,1777.5 211.9,1768.5 202.8,1765.5 205.1,1766.5 207.4,1765.5 199.1,1762.5 200.4,1763.6 201.6,1762.5 194.0,1759.4 195.6,1760.6 197.3,1759.4 188.5,1756.4 190.9,1756.9 193.4,1756.4 184.1,1753.4 186.2,1757.1 188.4,1753.4 180.3,1750.3 181.5,1751.1 182.7,1750.3 174.6,1747.3 176.8,1747.4 179.0,1747.3 170.0,1744.3 172.1,1744.9 174.3,1744.3 165.1,1741.3 167.4,1742.4 169.7,1741.3 160.8,1738.2 162.7,1738.6 164.6,1738.2" fill="#2a0c02" fill-opacity="0.44"/>
<polygon points="157.5,1726.5 318.0,1835.7 478.2,1726.5 475.7,1732.2 478.0,1732.4 480.3,1732.2 471.6,1735.3 473.3,1736.6 474.9,1735.3 467.2,1738.4 468.6,1738.6 470.0,1738.4 461.5,1741.6 463.9,1742.0 466.2,1741.6 456.9,1744.7 459.2,1747.9 461.4,1744.7 453.1,1747.8 454.5,1748.4 455.8,1747.8 447.7,1750.9 449.8,1752.6 451.8,1750.9 442.6,1754.0 445.1,1754.0 447.5,1754.0 438.6,1757.1 440.4,1757.9 442.1,1757.1 433.8,1760.3 435.6,1762.7 437.5,1760.3 428.5,1763.4 430.9,1764.6 433.4,1763.4 424.8,1766.5 426.2,1767.5 427.6,1766.5 419.0,1769.6 421.5,1769.7 424.1,1769.6 414.3,1772.7 416.8,1772.9 419.3,1772.7 409.6,1775.8 412.1,1775.9 414.6,1775.8 405.6,1779.0 407.4,1781.4 409.2,1779.0 401.5,1782.1 402.7,1783.5 403.9,1782.1 396.6,1785.2 398.0,1786.2 399.4,1785.2 390.7,1788.3 393.3,1789.0 395.9,1788.3 386.7,1791.4 388.6,1792.3 390.5,1791.4 381.9,1794.6 383.9,1795.0 385.9,1794.6 377.4,1797.7 379.2,1798.2 380.9,1797.7 372.2,1800.8 374.5,1804.5 376.7,1800.8 367.2,1803.9 369.8,1806.0 372.4,1803.9 362.7,1807.0 365.1,1807.4 367.4,1807.0 358.8,1810.1 360.4,1811.0 361.9,1810.1 353.5,1813.3 355.6,1814.1 357.8,1813.3 348.4,1816.4 350.9,1823.3 353.5,1816.4 344.3,1819.5 346.2,1827.1 348.2,1819.5 340.1,1822.6 341.5,1823.9 343.0,1822.6 334.7,1825.7 336.8,1825.8 339.0,1825.7 329.9,1828.8 332.1,1829.5 334.4,1828.8 325.3,1832.0 327.4,1836.6 329.5,1832.0 320.1,1835.1 322.7,1835.7 325.3,1835.1 316.3,1838.2 318.0,1838.4 319.7,1838.2 311.7,1835.2 313.3,1835.9 314.9,1835.2 306.8,1832.1 308.6,1835.3 310.4,1832.1 301.5,1829.1 303.9,1829.3 306.3,1829.1 296.9,1826.1 299.2,1826.4 301.5,1826.1 292.0,1823.1 294.5,1823.2 297.0,1823.1 287.7,1820.0 289.8,1820.3 291.8,1820.0 283.0,1817.0 285.1,1817.4 287.1,1817.0 277.8,1814.0 280.4,1815.2 282.9,1814.0 273.4,1810.9 275.6,1811.3 277.9,1810.9 268.5,1807.9 270.9,1809.8 273.4,1807.9 264.5,1804.9 266.2,1807.1 268.0,1804.9 259.1,1801.8 261.5,1802.5 263.9,1801.8 254.5,1798.8 256.8,1799.6 259.1,1798.8 250.0,1795.8 252.1,1796.9 254.3,1795.8 245.0,1792.8 247.4,1792.9 249.8,1792.8 241.4,1789.7 242.7,1791.6 244.0,1789.7 236.2,1786.7 238.0,1786.8 239.8,1786.7 232.0,1783.7 233.3,1785.1 234.6,1783.7 227.4,1780.6 228.6,1781.2 229.8,1780.6 222.5,1777.6 223.9,1784.4 225.2,1777.6 216.7,1774.6 219.2,1776.9 221.6,1774.6 212.8,1771.6 214.5,1780.6 216.1,1771.6 207.6,1768.5 209.8,1777.5 211.9,1768.5 202.8,1765.5 205.1,1766.5 207.4,1765.5 199.1,1762.5 200.4,1763.6 201.6,1762.5 194.0,1759.4 195.6,1760.6 197.3,1759.4 188.5,1756.4 190.9,1756.9 193.4,1756.4 184.1,1753.4 186.2,1757.1 188.4,1753.4 180.3,1750.3 181.5,1751.1 182.7,1750.3 174.6,1747.3 176.8,1747.4 179.0,1747.3 170.0,1744.3 172.1,1744.9 174.3,1744.3 165.1,1741.3 167.4,1742.4 169.7,1741.3 160.8,1738.2 162.7,1738.6 164.6,1738.2" fill="#2a0c02" fill-opacity="0.60"/>
<polyline points="153.6,1679.0 147.6,1679.0 147.6,1733.2 319.0,1850.4 490.4,1733.2 490.4,1725.2" fill="none" stroke="#000" stroke-width="2.0"/>
<line x1="147.6" y1="1706.2" x2="153.6" y2="1706.2" stroke="#000" stroke-width="2.0"/>
<line x1="181.9" y1="1756.6" x2="181.9" y2="1750.6" stroke="#000" stroke-width="1.6"/>
<line x1="353.3" y1="1827.0" x2="353.3" y2="1821.0" stroke="#000" stroke-width="1.6"/>
<line x1="216.2" y1="1780.1" x2="216.2" y2="1774.1" stroke="#000" stroke-width="1.6"/>
<line x1="387.6" y1="1803.5" x2="387.6" y2="1797.5" stroke="#000" stroke-width="1.6"/>
<line x1="250.4" y1="1803.5" x2="250.4" y2="1797.5" stroke="#000" stroke-width="1.6"/>
<line x1="421.8" y1="1780.1" x2="421.8" y2="1774.1" stroke="#000" stroke-width="1.6"/>
<line x1="284.7" y1="1827.0" x2="284.7" y2="1821.0" stroke="#000" stroke-width="1.6"/>
<line x1="456.1" y1="1756.6" x2="456.1" y2="1750.6" stroke="#000" stroke-width="1.6"/>
<text x="144.5" y="1660.7" font-size="23.5" fill="#000" text-anchor="end" >nm</text>
<text x="144.5" y="1688.2" font-size="23.5" fill="#000" text-anchor="end" >1.0</text>
<text x="144.5" y="1713.5" font-size="23.5" fill="#000" text-anchor="end" >−0.1</text>
<text x="134.2" y="1752.1" font-size="23.5" fill="#000" text-anchor="middle" >1.0</text>
<text x="164.5" y="1774.5" font-size="23.5" fill="#000" text-anchor="middle" >0.8</text>
<text x="199.5" y="1798.4" font-size="23.5" fill="#000" text-anchor="middle" >0.6</text>
<text x="236.0" y="1823.7" font-size="23.5" fill="#000" text-anchor="middle" >0.4</text>
<text x="272.5" y="1847.6" font-size="23.5" fill="#000" text-anchor="middle" >0.2</text>
<text x="366.7" y="1849.0" font-size="23.5" fill="#000" text-anchor="middle" >0.2</text>
<text x="403.3" y="1826.0" font-size="23.5" fill="#000" text-anchor="middle" >0.4</text>
<text x="437.0" y="1798.4" font-size="23.5" fill="#000" text-anchor="middle" >0.6</text>
<text x="470.0" y="1775.4" font-size="23.5" fill="#000" text-anchor="middle" >0.8</text>
<text x="502.3" y="1755.7" font-size="23.5" fill="#000" text-anchor="middle" >1.0</text>
<text x="340.8" y="1877.2" font-size="23.5" fill="#000" text-anchor="middle" >0 µm</text>
<polygon points="580.6,1700.2 583.0,1693.8 585.4,1700.2 585.7,1697.7 587.7,1697.1 589.8,1697.7 590.9,1695.2 592.5,1694.2 594.0,1695.2 594.8,1692.7 597.2,1692.3 599.6,1692.7 600.2,1690.2 601.9,1689.2 603.7,1690.2 604.6,1687.7 606.7,1685.6 608.7,1687.7 609.4,1685.2 611.4,1684.3 613.4,1685.2 614.0,1682.7 616.1,1682.4 618.3,1682.7 618.9,1680.2 620.9,1678.3 622.8,1680.2 623.6,1677.7 625.6,1676.2 627.7,1677.7 627.9,1675.2 630.4,1675.2 632.8,1675.2 632.8,1672.7 635.1,1672.2 637.4,1672.7 637.3,1670.2 639.8,1668.6 642.3,1670.2 642.3,1667.7 644.6,1666.7 646.8,1667.7 647.2,1665.2 649.3,1663.7 651.4,1665.2 651.7,1662.7 654.0,1661.6 656.3,1662.7 656.4,1660.2 658.8,1654.7 661.1,1660.2 661.4,1657.7 663.5,1656.1 665.6,1657.7 665.8,1655.2 668.2,1654.7 670.7,1655.2 671.1,1652.7 673.0,1651.9 674.8,1652.7 676.5,1650.2 677.7,1650.0 678.9,1650.2 680.4,1647.7 682.4,1647.1 684.5,1647.7 685.1,1645.2 687.2,1645.2 689.3,1645.2 690.1,1642.7 691.9,1641.0 693.7,1642.7 694.9,1640.2 696.6,1640.2 698.4,1640.2 699.8,1637.7 701.4,1632.5 703.0,1637.7 704.0,1635.2 706.1,1632.0 708.3,1635.2 708.4,1632.7 710.9,1631.7 713.3,1632.7 713.9,1630.2 715.6,1624.9 717.3,1630.2 718.0,1627.7 720.3,1627.5 722.6,1627.7 722.6,1625.2 725.1,1621.5 727.6,1625.2 728.3,1622.7 729.8,1622.6 731.3,1622.7 733.2,1620.2 734.5,1618.7 735.8,1620.2 736.9,1617.7 739.3,1616.7 741.6,1617.7 742.1,1615.2 744.0,1613.2 745.9,1615.2 746.6,1617.7 748.8,1616.9 750.9,1617.7 751.9,1620.2 753.5,1619.3 755.1,1620.2 756.3,1622.7 758.3,1621.5 760.3,1622.7 761.5,1625.2 763.1,1624.1 764.6,1625.2 765.9,1627.7 767.8,1625.1 769.8,1627.7 771.2,1630.2 772.6,1629.1 774.0,1630.2 775.2,1632.7 777.4,1629.4 779.5,1632.7 780.0,1635.2 782.1,1633.1 784.2,1635.2 785.1,1637.7 786.9,1636.3 788.7,1637.7 789.3,1640.2 791.6,1638.7 794.0,1640.2 794.3,1642.7 796.4,1638.4 798.5,1642.7 799.3,1645.2 801.2,1645.0 803.1,1645.2 804.2,1647.7 805.9,1646.4 807.7,1647.7 808.9,1650.2 810.7,1650.0 812.5,1650.2 813.7,1652.7 815.5,1647.2 817.3,1652.7 818.6,1655.2 820.2,1655.0 821.9,1655.2 822.5,1657.7 825.0,1656.3 827.5,1657.7 828.4,1660.2 829.8,1658.9 831.1,1660.2 832.8,1662.7 834.5,1661.6 836.3,1662.7 838.1,1665.2 839.3,1665.2 840.5,1665.2 842.1,1667.7 844.1,1666.2 846.0,1667.7 847.6,1670.2 848.8,1662.3 850.1,1670.2 852.1,1672.7 853.6,1671.9 855.1,1672.7 856.6,1675.2 858.4,1674.1 860.1,1675.2 861.3,1677.7 863.1,1676.5 864.9,1677.7 865.9,1680.2 867.9,1674.8 869.9,1680.2 871.1,1682.7 872.6,1678.9 874.2,1682.7 875.2,1685.2 877.4,1684.5 879.6,1685.2 880.7,1687.7 882.2,1685.6 883.6,1687.7 884.4,1690.2 886.9,1690.2 889.5,1690.2 890.0,1692.7 891.7,1691.1 893.4,1692.7 894.7,1695.2 896.5,1694.3 898.3,1695.2 899.7,1697.7 901.2,1696.9 902.7,1697.7 906.0,1700.2 903.7,1732.2 905.0,1734.8 906.3,1732.2 898.1,1735.3 900.3,1736.3 902.5,1735.3 894.0,1738.4 895.6,1738.6 897.2,1738.4 889.3,1741.6 890.9,1742.0 892.4,1741.6 884.9,1744.7 886.2,1745.7 887.4,1744.7 879.1,1747.8 881.5,1747.9 883.9,1747.8 874.6,1750.9 876.8,1755.7 878.9,1750.9 870.8,1754.0 872.1,1754.9 873.4,1754.0 866.0,1757.1 867.4,1757.3 868.7,1757.1 861.2,1760.3 862.6,1760.6 864.1,1760.3 855.7,1763.4 857.9,1764.0 860.2,1763.4 850.8,1766.5 853.2,1766.9 855.7,1766.5 846.6,1769.6 848.5,1771.2 850.4,1769.6 842.1,1772.7 843.8,1773.0 845.5,1772.7 837.0,1775.8 839.1,1777.3 841.2,1775.8 832.3,1779.0 834.4,1779.3 836.5,1779.0 827.6,1782.1 829.7,1784.5 831.8,1782.1 822.8,1785.2 825.0,1785.5 827.2,1785.2 818.7,1788.3 820.3,1789.3 821.9,1788.3 814.3,1791.4 815.6,1792.3 816.9,1791.4 808.5,1794.6 810.9,1801.5 813.2,1794.6 803.8,1797.7 806.2,1799.6 808.6,1797.7 799.4,1800.8 801.5,1801.3 803.5,1800.8 795.4,1803.9 796.8,1804.5 798.1,1803.9 789.8,1807.0 792.1,1808.1 794.4,1807.0 785.2,1810.1 787.4,1810.5 789.5,1810.1 781.1,1813.3 782.6,1814.6 784.2,1813.3 776.7,1816.4 777.9,1818.4 779.2,1816.4 770.7,1819.5 773.2,1820.0 775.8,1819.5 765.9,1822.6 768.5,1823.7 771.1,1822.6 762.0,1825.7 763.8,1827.4 765.6,1825.7 757.4,1828.8 759.1,1829.0 760.8,1828.8 752.4,1832.0 754.4,1832.6 756.4,1832.0 748.3,1835.1 749.7,1836.0 751.1,1835.1 742.9,1838.2 745.0,1839.0 747.1,1838.2 738.9,1835.2 740.3,1840.7 741.7,1835.2 733.7,1832.1 735.6,1836.5 737.5,1832.1 728.7,1829.1 730.9,1829.4 733.0,1829.1 724.4,1826.1 726.2,1826.4 728.0,1826.1 719.2,1823.1 721.5,1829.9 723.7,1823.1 715.4,1820.0 716.8,1820.7 718.1,1820.0 710.1,1817.0 712.1,1817.1 714.0,1817.0 705.5,1814.0 707.4,1819.8 709.2,1814.0 700.5,1810.9 702.6,1818.4 704.8,1810.9 696.5,1807.9 697.9,1808.5 699.4,1807.9 691.9,1804.9 693.2,1805.7 694.6,1804.9 686.9,1801.8 688.5,1802.4 690.2,1801.8 682.1,1798.8 683.8,1802.1 685.6,1798.8 677.5,1795.8 679.1,1799.9 680.7,1795.8 672.0,1792.8 674.4,1793.2 676.8,1792.8 667.9,1789.7 669.7,1790.9 671.5,1789.7 662.6,1786.7 665.0,1790.7 667.4,1786.7 659.1,1783.7 660.3,1784.7 661.5,1783.7 653.7,1780.6 655.6,1788.3 657.5,1780.6 649.5,1777.6 650.9,1778.5 652.3,1777.6 644.5,1774.6 646.2,1775.7 647.9,1774.6 639.4,1771.6 641.5,1772.9 643.6,1771.6 634.5,1768.5 636.8,1769.3 639.1,1768.5 629.6,1765.5 632.1,1770.5 634.5,1765.5 625.3,1762.5 627.4,1764.1 629.4,1762.5 620.1,1759.4 622.6,1760.2 625.2,1759.4 616.2,1756.4 617.9,1758.7 619.7,1756.4 611.2,1753.4 613.2,1753.6 615.3,1753.4 607.0,1750.3 608.5,1750.6 610.0,1750.3 602.1,1747.3 603.8,1748.3 605.6,1747.3 597.0,1744.3 599.1,1745.2 601.2,1744.3 591.8,1741.3 594.4,1748.1 597.0,1741.3 587.8,1738.2 589.7,1744.0 591.7,1738.2" fill="#8a5a20" filter="url(#afmB)"/>
<polygon points="709.1,1633.2 710.8,1620.5 712.4,1617.3 714.1,1620.5 715.7,1633.2" fill="url(#spkW)"/>
<polygon points="790.0,1642.1 791.6,1633.6 793.3,1631.5 794.9,1633.6 796.6,1642.1" fill="url(#spkW)"/>
<polygon points="764.4,1667.3 765.8,1655.0 767.2,1651.9 768.5,1655.0 769.9,1667.3" fill="url(#spkW)"/>
<polygon points="774.4,1670.0 775.8,1662.5 777.2,1660.6 778.7,1662.5 780.1,1670.0" fill="url(#spkW)"/>
<polygon points="841.8,1675.5 843.4,1669.0 845.0,1667.3 846.6,1669.0 848.2,1675.5" fill="url(#spkW)"/>
<polygon points="717.6,1675.9 719.2,1664.6 720.7,1661.8 722.2,1664.6 723.7,1675.9" fill="url(#spkW)"/>
<polygon points="805.4,1691.5 806.9,1679.3 808.5,1676.2 810.0,1679.3 811.5,1691.5" fill="url(#spkW)"/>
<polygon points="861.1,1694.6 862.4,1685.5 863.7,1683.2 865.0,1685.5 866.3,1694.6" fill="url(#spkW)"/>
<polygon points="647.0,1706.0 648.4,1699.2 649.8,1697.5 651.2,1699.2 652.6,1706.0" fill="url(#spkW)"/>
<polygon points="823.1,1709.3 824.9,1700.5 826.7,1698.3 828.4,1700.5 830.2,1709.3" fill="url(#spkW)"/>
<polygon points="693.5,1717.6 695.3,1710.2 697.0,1708.4 698.8,1710.2 700.5,1717.6" fill="url(#spkW)"/>
<polygon points="823.9,1728.6 825.5,1716.2 827.1,1713.1 828.8,1716.2 830.4,1728.6" fill="url(#spkW)"/>
<polygon points="791.0,1736.5 792.5,1727.5 793.9,1725.3 795.4,1727.5 796.9,1736.5" fill="url(#spkW)"/>
<polygon points="670.0,1748.9 671.9,1738.6 673.9,1736.0 675.9,1738.6 677.9,1748.9" fill="url(#spkW)"/>
<polygon points="772.5,1753.4 774.5,1740.7 776.4,1737.5 778.4,1740.7 780.3,1753.4" fill="url(#spkW)"/>
<polygon points="677.0,1762.5 678.6,1752.9 680.2,1750.6 681.7,1752.9 683.3,1762.5" fill="url(#spkW)"/>
<polygon points="583.3,1705.5 745.0,1829.7 905.9,1705.0 903.7,1732.2 905.0,1734.8 906.3,1732.2 898.1,1735.3 900.3,1736.3 902.5,1735.3 894.0,1738.4 895.6,1738.6 897.2,1738.4 889.3,1741.6 890.9,1742.0 892.4,1741.6 884.9,1744.7 886.2,1745.7 887.4,1744.7 879.1,1747.8 881.5,1747.9 883.9,1747.8 874.6,1750.9 876.8,1755.7 878.9,1750.9 870.8,1754.0 872.1,1754.9 873.4,1754.0 866.0,1757.1 867.4,1757.3 868.7,1757.1 861.2,1760.3 862.6,1760.6 864.1,1760.3 855.7,1763.4 857.9,1764.0 860.2,1763.4 850.8,1766.5 853.2,1766.9 855.7,1766.5 846.6,1769.6 848.5,1771.2 850.4,1769.6 842.1,1772.7 843.8,1773.0 845.5,1772.7 837.0,1775.8 839.1,1777.3 841.2,1775.8 832.3,1779.0 834.4,1779.3 836.5,1779.0 827.6,1782.1 829.7,1784.5 831.8,1782.1 822.8,1785.2 825.0,1785.5 827.2,1785.2 818.7,1788.3 820.3,1789.3 821.9,1788.3 814.3,1791.4 815.6,1792.3 816.9,1791.4 808.5,1794.6 810.9,1801.5 813.2,1794.6 803.8,1797.7 806.2,1799.6 808.6,1797.7 799.4,1800.8 801.5,1801.3 803.5,1800.8 795.4,1803.9 796.8,1804.5 798.1,1803.9 789.8,1807.0 792.1,1808.1 794.4,1807.0 785.2,1810.1 787.4,1810.5 789.5,1810.1 781.1,1813.3 782.6,1814.6 784.2,1813.3 776.7,1816.4 777.9,1818.4 779.2,1816.4 770.7,1819.5 773.2,1820.0 775.8,1819.5 765.9,1822.6 768.5,1823.7 771.1,1822.6 762.0,1825.7 763.8,1827.4 765.6,1825.7 757.4,1828.8 759.1,1829.0 760.8,1828.8 752.4,1832.0 754.4,1832.6 756.4,1832.0 748.3,1835.1 749.7,1836.0 751.1,1835.1 742.9,1838.2 745.0,1839.0 747.1,1838.2 738.9,1835.2 740.3,1840.7 741.7,1835.2 733.7,1832.1 735.6,1836.5 737.5,1832.1 728.7,1829.1 730.9,1829.4 733.0,1829.1 724.4,1826.1 726.2,1826.4 728.0,1826.1 719.2,1823.1 721.5,1829.9 723.7,1823.1 715.4,1820.0 716.8,1820.7 718.1,1820.0 710.1,1817.0 712.1,1817.1 714.0,1817.0 705.5,1814.0 707.4,1819.8 709.2,1814.0 700.5,1810.9 702.6,1818.4 704.8,1810.9 696.5,1807.9 697.9,1808.5 699.4,1807.9 691.9,1804.9 693.2,1805.7 694.6,1804.9 686.9,1801.8 688.5,1802.4 690.2,1801.8 682.1,1798.8 683.8,1802.1 685.6,1798.8 677.5,1795.8 679.1,1799.9 680.7,1795.8 672.0,1792.8 674.4,1793.2 676.8,1792.8 667.9,1789.7 669.7,1790.9 671.5,1789.7 662.6,1786.7 665.0,1790.7 667.4,1786.7 659.1,1783.7 660.3,1784.7 661.5,1783.7 653.7,1780.6 655.6,1788.3 657.5,1780.6 649.5,1777.6 650.9,1778.5 652.3,1777.6 644.5,1774.6 646.2,1775.7 647.9,1774.6 639.4,1771.6 641.5,1772.9 643.6,1771.6 634.5,1768.5 636.8,1769.3 639.1,1768.5 629.6,1765.5 632.1,1770.5 634.5,1765.5 625.3,1762.5 627.4,1764.1 629.4,1762.5 620.1,1759.4 622.6,1760.2 625.2,1759.4 616.2,1756.4 617.9,1758.7 619.7,1756.4 611.2,1753.4 613.2,1753.6 615.3,1753.4 607.0,1750.3 608.5,1750.6 610.0,1750.3 602.1,1747.3 603.8,1748.3 605.6,1747.3 597.0,1744.3 599.1,1745.2 601.2,1744.3 591.8,1741.3 594.4,1748.1 597.0,1741.3 587.8,1738.2 589.7,1744.0 591.7,1738.2" fill="#2a0c02" fill-opacity="0.36"/>
<polygon points="583.9,1716.0 745.0,1832.7 905.6,1714.6 903.7,1732.2 905.0,1734.8 906.3,1732.2 898.1,1735.3 900.3,1736.3 902.5,1735.3 894.0,1738.4 895.6,1738.6 897.2,1738.4 889.3,1741.6 890.9,1742.0 892.4,1741.6 884.9,1744.7 886.2,1745.7 887.4,1744.7 879.1,1747.8 881.5,1747.9 883.9,1747.8 874.6,1750.9 876.8,1755.7 878.9,1750.9 870.8,1754.0 872.1,1754.9 873.4,1754.0 866.0,1757.1 867.4,1757.3 868.7,1757.1 861.2,1760.3 862.6,1760.6 864.1,1760.3 855.7,1763.4 857.9,1764.0 860.2,1763.4 850.8,1766.5 853.2,1766.9 855.7,1766.5 846.6,1769.6 848.5,1771.2 850.4,1769.6 842.1,1772.7 843.8,1773.0 845.5,1772.7 837.0,1775.8 839.1,1777.3 841.2,1775.8 832.3,1779.0 834.4,1779.3 836.5,1779.0 827.6,1782.1 829.7,1784.5 831.8,1782.1 822.8,1785.2 825.0,1785.5 827.2,1785.2 818.7,1788.3 820.3,1789.3 821.9,1788.3 814.3,1791.4 815.6,1792.3 816.9,1791.4 808.5,1794.6 810.9,1801.5 813.2,1794.6 803.8,1797.7 806.2,1799.6 808.6,1797.7 799.4,1800.8 801.5,1801.3 803.5,1800.8 795.4,1803.9 796.8,1804.5 798.1,1803.9 789.8,1807.0 792.1,1808.1 794.4,1807.0 785.2,1810.1 787.4,1810.5 789.5,1810.1 781.1,1813.3 782.6,1814.6 784.2,1813.3 776.7,1816.4 777.9,1818.4 779.2,1816.4 770.7,1819.5 773.2,1820.0 775.8,1819.5 765.9,1822.6 768.5,1823.7 771.1,1822.6 762.0,1825.7 763.8,1827.4 765.6,1825.7 757.4,1828.8 759.1,1829.0 760.8,1828.8 752.4,1832.0 754.4,1832.6 756.4,1832.0 748.3,1835.1 749.7,1836.0 751.1,1835.1 742.9,1838.2 745.0,1839.0 747.1,1838.2 738.9,1835.2 740.3,1840.7 741.7,1835.2 733.7,1832.1 735.6,1836.5 737.5,1832.1 728.7,1829.1 730.9,1829.4 733.0,1829.1 724.4,1826.1 726.2,1826.4 728.0,1826.1 719.2,1823.1 721.5,1829.9 723.7,1823.1 715.4,1820.0 716.8,1820.7 718.1,1820.0 710.1,1817.0 712.1,1817.1 714.0,1817.0 705.5,1814.0 707.4,1819.8 709.2,1814.0 700.5,1810.9 702.6,1818.4 704.8,1810.9 696.5,1807.9 697.9,1808.5 699.4,1807.9 691.9,1804.9 693.2,1805.7 694.6,1804.9 686.9,1801.8 688.5,1802.4 690.2,1801.8 682.1,1798.8 683.8,1802.1 685.6,1798.8 677.5,1795.8 679.1,1799.9 680.7,1795.8 672.0,1792.8 674.4,1793.2 676.8,1792.8 667.9,1789.7 669.7,1790.9 671.5,1789.7 662.6,1786.7 665.0,1790.7 667.4,1786.7 659.1,1783.7 660.3,1784.7 661.5,1783.7 653.7,1780.6 655.6,1788.3 657.5,1780.6 649.5,1777.6 650.9,1778.5 652.3,1777.6 644.5,1774.6 646.2,1775.7 647.9,1774.6 639.4,1771.6 641.5,1772.9 643.6,1771.6 634.5,1768.5 636.8,1769.3 639.1,1768.5 629.6,1765.5 632.1,1770.5 634.5,1765.5 625.3,1762.5 627.4,1764.1 629.4,1762.5 620.1,1759.4 622.6,1760.2 625.2,1759.4 616.2,1756.4 617.9,1758.7 619.7,1756.4 611.2,1753.4 613.2,1753.6 615.3,1753.4 607.0,1750.3 608.5,1750.6 610.0,1750.3 602.1,1747.3 603.8,1748.3 605.6,1747.3 597.0,1744.3 599.1,1745.2 601.2,1744.3 591.8,1741.3 594.4,1748.1 597.0,1741.3 587.8,1738.2 589.7,1744.0 591.7,1738.2" fill="#2a0c02" fill-opacity="0.44"/>
<polygon points="584.5,1726.5 745.0,1835.7 905.2,1724.2 903.7,1732.2 905.0,1734.8 906.3,1732.2 898.1,1735.3 900.3,1736.3 902.5,1735.3 894.0,1738.4 895.6,1738.6 897.2,1738.4 889.3,1741.6 890.9,1742.0 892.4,1741.6 884.9,1744.7 886.2,1745.7 887.4,1744.7 879.1,1747.8 881.5,1747.9 883.9,1747.8 874.6,1750.9 876.8,1755.7 878.9,1750.9 870.8,1754.0 872.1,1754.9 873.4,1754.0 866.0,1757.1 867.4,1757.3 868.7,1757.1 861.2,1760.3 862.6,1760.6 864.1,1760.3 855.7,1763.4 857.9,1764.0 860.2,1763.4 850.8,1766.5 853.2,1766.9 855.7,1766.5 846.6,1769.6 848.5,1771.2 850.4,1769.6 842.1,1772.7 843.8,1773.0 845.5,1772.7 837.0,1775.8 839.1,1777.3 841.2,1775.8 832.3,1779.0 834.4,1779.3 836.5,1779.0 827.6,1782.1 829.7,1784.5 831.8,1782.1 822.8,1785.2 825.0,1785.5 827.2,1785.2 818.7,1788.3 820.3,1789.3 821.9,1788.3 814.3,1791.4 815.6,1792.3 816.9,1791.4 808.5,1794.6 810.9,1801.5 813.2,1794.6 803.8,1797.7 806.2,1799.6 808.6,1797.7 799.4,1800.8 801.5,1801.3 803.5,1800.8 795.4,1803.9 796.8,1804.5 798.1,1803.9 789.8,1807.0 792.1,1808.1 794.4,1807.0 785.2,1810.1 787.4,1810.5 789.5,1810.1 781.1,1813.3 782.6,1814.6 784.2,1813.3 776.7,1816.4 777.9,1818.4 779.2,1816.4 770.7,1819.5 773.2,1820.0 775.8,1819.5 765.9,1822.6 768.5,1823.7 771.1,1822.6 762.0,1825.7 763.8,1827.4 765.6,1825.7 757.4,1828.8 759.1,1829.0 760.8,1828.8 752.4,1832.0 754.4,1832.6 756.4,1832.0 748.3,1835.1 749.7,1836.0 751.1,1835.1 742.9,1838.2 745.0,1839.0 747.1,1838.2 738.9,1835.2 740.3,1840.7 741.7,1835.2 733.7,1832.1 735.6,1836.5 737.5,1832.1 728.7,1829.1 730.9,1829.4 733.0,1829.1 724.4,1826.1 726.2,1826.4 728.0,1826.1 719.2,1823.1 721.5,1829.9 723.7,1823.1 715.4,1820.0 716.8,1820.7 718.1,1820.0 710.1,1817.0 712.1,1817.1 714.0,1817.0 705.5,1814.0 707.4,1819.8 709.2,1814.0 700.5,1810.9 702.6,1818.4 704.8,1810.9 696.5,1807.9 697.9,1808.5 699.4,1807.9 691.9,1804.9 693.2,1805.7 694.6,1804.9 686.9,1801.8 688.5,1802.4 690.2,1801.8 682.1,1798.8 683.8,1802.1 685.6,1798.8 677.5,1795.8 679.1,1799.9 680.7,1795.8 672.0,1792.8 674.4,1793.2 676.8,1792.8 667.9,1789.7 669.7,1790.9 671.5,1789.7 662.6,1786.7 665.0,1790.7 667.4,1786.7 659.1,1783.7 660.3,1784.7 661.5,1783.7 653.7,1780.6 655.6,1788.3 657.5,1780.6 649.5,1777.6 650.9,1778.5 652.3,1777.6 644.5,1774.6 646.2,1775.7 647.9,1774.6 639.4,1771.6 641.5,1772.9 643.6,1771.6 634.5,1768.5 636.8,1769.3 639.1,1768.5 629.6,1765.5 632.1,1770.5 634.5,1765.5 625.3,1762.5 627.4,1764.1 629.4,1762.5 620.1,1759.4 622.6,1760.2 625.2,1759.4 616.2,1756.4 617.9,1758.7 619.7,1756.4 611.2,1753.4 613.2,1753.6 615.3,1753.4 607.0,1750.3 608.5,1750.6 610.0,1750.3 602.1,1747.3 603.8,1748.3 605.6,1747.3 597.0,1744.3 599.1,1745.2 601.2,1744.3 591.8,1741.3 594.4,1748.1 597.0,1741.3 587.8,1738.2 589.7,1744.0 591.7,1738.2" fill="#2a0c02" fill-opacity="0.60"/>
<polyline points="580.6,1679.0 574.6,1679.0 574.6,1733.2 746.0,1850.4 917.4,1733.2 917.4,1725.2" fill="none" stroke="#000" stroke-width="2.0"/>
<line x1="574.6" y1="1706.2" x2="580.6" y2="1706.2" stroke="#000" stroke-width="2.0"/>
<line x1="608.9" y1="1756.6" x2="608.9" y2="1750.6" stroke="#000" stroke-width="1.6"/>
<line x1="780.3" y1="1827.0" x2="780.3" y2="1821.0" stroke="#000" stroke-width="1.6"/>
<line x1="643.2" y1="1780.1" x2="643.2" y2="1774.1" stroke="#000" stroke-width="1.6"/>
<line x1="814.6" y1="1803.5" x2="814.6" y2="1797.5" stroke="#000" stroke-width="1.6"/>
<line x1="677.4" y1="1803.5" x2="677.4" y2="1797.5" stroke="#000" stroke-width="1.6"/>
<line x1="848.8" y1="1780.1" x2="848.8" y2="1774.1" stroke="#000" stroke-width="1.6"/>
<line x1="711.7" y1="1827.0" x2="711.7" y2="1821.0" stroke="#000" stroke-width="1.6"/>
<line x1="883.1" y1="1756.6" x2="883.1" y2="1750.6" stroke="#000" stroke-width="1.6"/>
<text x="568.5" y="1660.7" font-size="23.5" fill="#000" text-anchor="end" >nm</text>
<text x="568.5" y="1688.2" font-size="23.5" fill="#000" text-anchor="end" >1.8</text>
<text x="568.5" y="1713.5" font-size="23.5" fill="#000" text-anchor="end" >0.0</text>
<text x="561.2" y="1752.1" font-size="23.5" fill="#000" text-anchor="middle" >1.0</text>
<text x="591.5" y="1774.5" font-size="23.5" fill="#000" text-anchor="middle" >0.8</text>
<text x="626.5" y="1798.4" font-size="23.5" fill="#000" text-anchor="middle" >0.6</text>
<text x="663.0" y="1823.7" font-size="23.5" fill="#000" text-anchor="middle" >0.4</text>
<text x="699.5" y="1847.6" font-size="23.5" fill="#000" text-anchor="middle" >0.2</text>
<text x="793.7" y="1849.0" font-size="23.5" fill="#000" text-anchor="middle" >0.2</text>
<text x="830.3" y="1826.0" font-size="23.5" fill="#000" text-anchor="middle" >0.4</text>
<text x="864.0" y="1798.4" font-size="23.5" fill="#000" text-anchor="middle" >0.6</text>
<text x="897.0" y="1775.4" font-size="23.5" fill="#000" text-anchor="middle" >0.8</text>
<text x="929.3" y="1755.7" font-size="23.5" fill="#000" text-anchor="middle" >1.0</text>
<text x="767.8" y="1877.2" font-size="23.5" fill="#000" text-anchor="middle" >0 µm</text>
<polygon points="1006.3,1714.2 1008.8,1712.3 1011.3,1714.2 1011.6,1711.3 1013.5,1710.8 1015.5,1711.3 1016.9,1708.4 1018.3,1706.9 1019.7,1708.4 1020.9,1705.5 1023.0,1694.8 1025.1,1705.5 1026.3,1702.6 1027.7,1701.5 1029.2,1702.6 1030.1,1699.6 1032.5,1698.9 1034.9,1699.6 1035.0,1696.7 1037.2,1696.5 1039.5,1696.7 1040.2,1693.8 1041.9,1690.9 1043.7,1693.8 1045.5,1690.9 1046.7,1690.9 1047.9,1690.9 1048.9,1688.0 1051.4,1678.8 1053.9,1688.0 1054.4,1685.1 1056.2,1683.9 1057.9,1685.1 1059.5,1682.2 1060.9,1681.9 1062.3,1682.2 1063.4,1679.3 1065.6,1679.1 1067.8,1679.3 1069.1,1676.3 1070.4,1664.3 1071.6,1676.3 1073.5,1673.4 1075.1,1670.1 1076.6,1673.4 1078.5,1670.5 1079.8,1670.5 1081.1,1670.5 1082.8,1667.6 1084.6,1666.2 1086.3,1667.6 1087.9,1664.7 1089.3,1661.8 1090.7,1664.7 1092.8,1661.8 1094.0,1659.6 1095.3,1661.8 1096.8,1658.9 1098.8,1648.4 1100.8,1658.9 1101.7,1656.0 1103.5,1655.7 1105.3,1656.0 1106.0,1653.1 1108.2,1652.3 1110.5,1653.1 1110.7,1650.1 1113.0,1649.9 1115.3,1650.1 1116.2,1647.2 1117.7,1646.8 1119.2,1647.2 1120.8,1644.3 1122.4,1643.2 1124.1,1644.3 1126.0,1641.4 1127.2,1634.2 1128.4,1641.4 1130.5,1638.5 1131.9,1637.5 1133.4,1638.5 1135.3,1635.6 1136.7,1634.7 1138.0,1635.6 1139.0,1632.7 1141.4,1629.6 1143.8,1632.7 1144.8,1629.8 1146.1,1629.6 1147.5,1629.8 1149.3,1626.8 1150.9,1625.5 1152.4,1626.8 1153.3,1623.9 1155.6,1622.4 1157.9,1623.9 1158.1,1621.0 1160.3,1616.9 1162.6,1621.0 1163.1,1618.1 1165.1,1617.9 1167.0,1618.1 1167.7,1615.2 1169.8,1614.9 1171.9,1615.2 1172.2,1618.2 1174.6,1618.2 1177.0,1618.2 1177.8,1621.3 1179.3,1621.0 1180.8,1621.3 1182.6,1624.3 1184.1,1619.9 1185.5,1624.3 1187.0,1627.3 1188.9,1619.1 1190.7,1627.3 1191.1,1630.3 1193.6,1629.7 1196.2,1630.3 1196.0,1633.4 1198.4,1630.1 1200.8,1633.4 1201.2,1636.4 1203.2,1634.5 1205.2,1636.4 1205.9,1639.4 1207.9,1638.5 1209.9,1639.4 1210.9,1642.5 1212.7,1641.8 1214.5,1642.5 1216.1,1645.5 1217.4,1643.9 1218.8,1645.5 1220.7,1648.5 1222.2,1645.3 1223.7,1648.5 1224.8,1651.6 1227.0,1650.9 1229.2,1651.6 1230.1,1654.6 1231.7,1653.9 1233.4,1654.6 1234.0,1657.6 1236.5,1656.9 1239.0,1657.6 1239.1,1660.6 1241.3,1660.3 1243.5,1660.6 1244.8,1663.7 1246.0,1662.8 1247.2,1663.7 1249.4,1666.7 1250.8,1665.3 1252.2,1666.7 1253.9,1669.7 1255.6,1668.2 1257.2,1669.7 1258.1,1672.8 1260.3,1671.7 1262.5,1672.8 1263.1,1675.8 1265.1,1674.5 1267.0,1675.8 1268.1,1678.8 1269.9,1674.0 1271.7,1678.8 1272.4,1681.8 1274.6,1673.8 1276.8,1681.8 1277.5,1684.9 1279.4,1684.7 1281.2,1684.9 1282.1,1687.9 1284.2,1687.5 1286.2,1687.9 1287.5,1690.9 1288.9,1689.4 1290.4,1690.9 1291.5,1694.0 1293.7,1692.4 1295.8,1694.0 1296.8,1697.0 1298.4,1697.0 1300.0,1697.0 1301.5,1700.0 1303.2,1699.9 1304.9,1700.0 1305.8,1703.1 1308.0,1691.1 1310.2,1703.1 1310.6,1706.1 1312.7,1705.2 1314.9,1706.1 1315.8,1709.1 1317.5,1708.9 1319.2,1709.1 1319.9,1712.1 1322.3,1711.9 1324.6,1712.1 1325.2,1715.2 1327.0,1713.4 1328.9,1715.2 1331.8,1718.2 1328.3,1732.2 1330.8,1733.4 1333.3,1732.2 1324.8,1735.3 1326.1,1735.6 1327.4,1735.3 1320.0,1738.4 1321.4,1739.9 1322.8,1738.4 1315.1,1741.6 1316.7,1741.6 1318.2,1741.6 1310.5,1744.7 1312.0,1745.5 1313.4,1744.7 1305.0,1747.8 1307.3,1749.8 1309.6,1747.8 1301.1,1750.9 1302.6,1752.5 1304.0,1750.9 1296.3,1754.0 1297.9,1755.7 1299.4,1754.0 1291.9,1757.1 1293.2,1759.2 1294.4,1757.1 1286.1,1760.3 1288.4,1760.4 1290.8,1760.3 1281.3,1763.4 1283.7,1764.5 1286.2,1763.4 1277.6,1766.5 1279.0,1775.5 1280.5,1766.5 1273.0,1769.6 1274.3,1774.7 1275.6,1769.6 1268.1,1772.7 1269.6,1773.3 1271.2,1772.7 1262.8,1775.8 1264.9,1776.6 1267.1,1775.8 1257.7,1779.0 1260.2,1781.8 1262.7,1779.0 1254.3,1782.1 1255.5,1783.3 1256.7,1782.1 1248.5,1785.2 1250.8,1785.6 1253.1,1785.2 1243.7,1788.3 1246.1,1788.8 1248.5,1788.3 1239.7,1791.4 1241.4,1792.6 1243.1,1791.4 1235.3,1794.6 1236.7,1796.9 1238.1,1794.6 1230.6,1797.7 1232.0,1798.4 1233.4,1797.7 1226.1,1800.8 1227.3,1800.9 1228.5,1800.8 1221.2,1803.9 1222.6,1804.7 1224.0,1803.9 1216.6,1807.0 1217.9,1807.2 1219.1,1807.0 1210.8,1810.1 1213.2,1810.8 1215.5,1810.1 1206.8,1813.3 1208.4,1814.2 1210.1,1813.3 1201.8,1816.4 1203.7,1819.2 1205.7,1816.4 1196.8,1819.5 1199.0,1820.5 1201.3,1819.5 1192.7,1822.6 1194.3,1822.6 1196.0,1822.6 1187.1,1825.7 1189.6,1828.6 1192.2,1825.7 1183.0,1828.8 1184.9,1831.8 1186.8,1828.8 1178.0,1832.0 1180.2,1832.3 1182.4,1832.0 1173.4,1835.1 1175.5,1839.3 1177.6,1835.1 1169.1,1838.2 1170.8,1839.2 1172.5,1838.2 1164.5,1835.2 1166.1,1836.0 1167.7,1835.2 1159.6,1832.1 1161.4,1834.4 1163.2,1832.1 1154.8,1829.1 1156.7,1835.4 1158.6,1829.1 1150.1,1826.1 1152.0,1827.0 1153.9,1826.1 1145.7,1823.1 1147.3,1828.0 1148.8,1823.1 1140.3,1820.0 1142.6,1820.8 1144.8,1820.0 1135.3,1817.0 1137.9,1818.1 1140.4,1817.0 1131.2,1814.0 1133.2,1817.6 1135.1,1814.0 1126.8,1810.9 1128.4,1819.9 1130.1,1810.9 1122.4,1807.9 1123.7,1815.0 1125.0,1807.9 1117.4,1804.9 1119.0,1810.4 1120.7,1804.9 1112.0,1801.8 1114.3,1802.5 1116.7,1801.8 1107.4,1798.8 1109.6,1799.8 1111.9,1798.8 1103.3,1795.8 1104.9,1802.4 1106.6,1795.8 1098.8,1792.8 1100.2,1793.7 1101.6,1792.8 1093.1,1789.7 1095.5,1790.5 1097.9,1789.7 1088.4,1786.7 1090.8,1786.9 1093.2,1786.7 1083.9,1783.7 1086.1,1788.6 1088.3,1783.7 1079.4,1780.6 1081.4,1782.8 1083.4,1780.6 1075.4,1777.6 1076.7,1779.0 1078.0,1777.6 1070.0,1774.6 1072.0,1777.5 1073.9,1774.6 1065.4,1771.6 1067.3,1772.6 1069.1,1771.6 1060.9,1768.5 1062.6,1774.9 1064.2,1768.5 1055.6,1765.5 1057.9,1769.6 1060.1,1765.5 1051.8,1762.5 1053.2,1765.6 1054.5,1762.5 1046.1,1759.4 1048.4,1759.7 1050.8,1759.4 1042.4,1756.4 1043.7,1760.9 1045.1,1756.4 1036.9,1753.4 1039.0,1753.7 1041.1,1753.4 1033.0,1750.3 1034.3,1750.6 1035.6,1750.3 1027.8,1747.3 1029.6,1747.5 1031.4,1747.3 1023.4,1744.3 1024.9,1746.8 1026.4,1744.3 1018.4,1741.3 1020.2,1741.6 1022.1,1741.3 1014.2,1738.2 1015.5,1739.0 1016.8,1738.2" fill="#8a5a20" filter="url(#afmR)"/>
<polygon points="1166.9,1622.0 1167.7,1613.9 1168.4,1611.9 1169.2,1613.9 1169.9,1622.0" fill="url(#spk)"/>
<polygon points="1172.0,1624.3 1172.9,1613.3 1173.7,1610.5 1174.6,1613.3 1175.4,1624.3" fill="url(#spk)"/>
<polygon points="1164.1,1635.5 1165.2,1627.9 1166.3,1626.0 1167.3,1627.9 1168.4,1635.5" fill="url(#spk)"/>
<polygon points="1136.4,1636.2 1137.3,1613.9 1138.2,1608.4 1139.1,1613.9 1140.1,1636.2" fill="url(#spk)"/>
<polygon points="1160.8,1639.5 1161.6,1629.7 1162.3,1627.2 1163.0,1629.7 1163.8,1639.5" fill="url(#spk)"/>
<polygon points="1140.6,1641.6 1141.6,1628.4 1142.7,1625.1 1143.8,1628.4 1144.8,1641.6" fill="url(#spk)"/>
<polygon points="1186.4,1641.7 1187.3,1630.1 1188.3,1627.2 1189.2,1630.1 1190.2,1641.7" fill="url(#spk)"/>
<polygon points="1159.5,1644.5 1160.3,1633.1 1161.1,1630.3 1161.9,1633.1 1162.8,1644.5" fill="url(#spk)"/>
<polygon points="1217.3,1647.7 1218.2,1635.5 1219.1,1632.4 1220.0,1635.5 1220.9,1647.7" fill="url(#spk)"/>
<polygon points="1128.5,1649.5 1129.6,1638.2 1130.7,1635.4 1131.9,1638.2 1133.0,1649.5" fill="url(#spk)"/>
<polygon points="1157.9,1651.1 1158.9,1635.3 1160.0,1631.4 1161.0,1635.3 1162.0,1651.1" fill="url(#spk)"/>
<polygon points="1122.2,1652.0 1123.3,1630.9 1124.4,1625.6 1125.6,1630.9 1126.7,1652.0" fill="url(#spk)"/>
<polygon points="1186.6,1652.2 1187.4,1634.9 1188.2,1630.6 1189.0,1634.9 1189.8,1652.2" fill="url(#spk)"/>
<polygon points="1169.5,1652.7 1170.4,1643.8 1171.3,1641.6 1172.2,1643.8 1173.1,1652.7" fill="url(#spk)"/>
<polygon points="1214.5,1655.7 1215.4,1643.3 1216.4,1640.1 1217.4,1643.3 1218.3,1655.7" fill="url(#spk)"/>
<polygon points="1192.2,1656.0 1193.2,1637.5 1194.3,1632.8 1195.4,1637.5 1196.4,1656.0" fill="url(#spk)"/>
<polygon points="1122.9,1657.9 1123.8,1641.5 1124.6,1637.4 1125.4,1641.5 1126.2,1657.9" fill="url(#spk)"/>
<polygon points="1204.2,1659.3 1205.2,1638.8 1206.1,1633.6 1207.1,1638.8 1208.0,1659.3" fill="url(#spk)"/>
<polygon points="1131.2,1661.5 1132.0,1652.1 1132.8,1649.8 1133.6,1652.1 1134.4,1661.5" fill="url(#spk)"/>
<polygon points="1190.8,1662.4 1191.8,1640.9 1192.9,1635.5 1194.0,1640.9 1195.1,1662.4" fill="url(#spk)"/>
<polygon points="1139.2,1663.7 1140.1,1654.5 1141.0,1652.2 1141.9,1654.5 1142.8,1663.7" fill="url(#spk)"/>
<polygon points="1120.0,1663.8 1120.9,1643.4 1121.8,1638.3 1122.8,1643.4 1123.7,1663.8" fill="url(#spk)"/>
<polygon points="1173.4,1668.2 1174.1,1646.8 1174.9,1641.5 1175.6,1646.8 1176.4,1668.2" fill="url(#spk)"/>
<polygon points="1253.8,1670.1 1254.7,1658.2 1255.7,1655.2 1256.7,1658.2 1257.7,1670.1" fill="url(#spk)"/>
<polygon points="1115.8,1670.6 1117.0,1652.9 1118.1,1648.5 1119.2,1652.9 1120.4,1670.6" fill="url(#spk)"/>
<polygon points="1191.9,1671.0 1192.7,1661.4 1193.4,1659.0 1194.1,1661.4 1194.9,1671.0" fill="url(#spk)"/>
<polygon points="1228.3,1671.1 1229.4,1660.9 1230.5,1658.4 1231.6,1660.9 1232.7,1671.1" fill="url(#spk)"/>
<polygon points="1125.1,1671.2 1125.9,1655.6 1126.7,1651.7 1127.4,1655.6 1128.2,1671.2" fill="url(#spk)"/>
<polygon points="1089.4,1673.0 1090.3,1651.3 1091.3,1645.9 1092.2,1651.3 1093.1,1673.0" fill="url(#spk)"/>
<polygon points="1080.2,1673.1 1081.3,1656.3 1082.4,1652.1 1083.4,1656.3 1084.5,1673.1" fill="url(#spk)"/>
<polygon points="1117.1,1673.5 1118.1,1653.4 1119.1,1648.4 1120.1,1653.4 1121.1,1673.5" fill="url(#spk)"/>
<polygon points="1205.2,1674.0 1205.9,1659.8 1206.6,1656.3 1207.3,1659.8 1208.0,1674.0" fill="url(#spk)"/>
<polygon points="1186.8,1674.1 1187.5,1655.4 1188.2,1650.7 1189.0,1655.4 1189.7,1674.1" fill="url(#spk)"/>
<polygon points="1191.5,1674.2 1192.2,1653.0 1193.0,1647.7 1193.7,1653.0 1194.4,1674.2" fill="url(#spk)"/>
<polygon points="1074.2,1677.4 1074.9,1665.0 1075.6,1661.9 1076.3,1665.0 1077.0,1677.4" fill="url(#spk)"/>
<polygon points="1201.5,1677.5 1202.3,1667.6 1203.0,1665.1 1203.8,1667.6 1204.6,1677.5" fill="url(#spk)"/>
<polygon points="1064.5,1679.3 1065.6,1664.4 1066.7,1660.7 1067.8,1664.4 1068.9,1679.3" fill="url(#spk)"/>
<polygon points="1162.2,1680.1 1163.2,1672.3 1164.1,1670.3 1165.1,1672.3 1166.1,1680.1" fill="url(#spk)"/>
<polygon points="1145.6,1680.8 1146.5,1660.1 1147.5,1655.0 1148.4,1660.1 1149.4,1680.8" fill="url(#spk)"/>
<polygon points="1206.6,1681.1 1207.3,1661.7 1208.0,1656.9 1208.7,1661.7 1209.5,1681.1" fill="url(#spk)"/>
<polygon points="1144.8,1682.9 1145.6,1664.1 1146.5,1659.4 1147.3,1664.1 1148.1,1682.9" fill="url(#spk)"/>
<polygon points="1170.0,1683.2 1170.7,1663.4 1171.4,1658.5 1172.0,1663.4 1172.7,1683.2" fill="url(#spk)"/>
<polygon points="1174.9,1684.9 1175.8,1672.0 1176.7,1668.8 1177.7,1672.0 1178.6,1684.9" fill="url(#spk)"/>
<polygon points="1136.7,1685.2 1137.3,1671.2 1138.0,1667.8 1138.6,1671.2 1139.3,1685.2" fill="url(#spk)"/>
<polygon points="1178.1,1685.9 1178.9,1678.1 1179.8,1676.1 1180.6,1678.1 1181.5,1685.9" fill="url(#spk)"/>
<polygon points="1132.9,1686.6 1133.8,1679.2 1134.6,1677.3 1135.4,1679.2 1136.2,1686.6" fill="url(#spk)"/>
<polygon points="1269.0,1687.1 1269.9,1679.6 1270.8,1677.7 1271.7,1679.6 1272.6,1687.1" fill="url(#spk)"/>
<polygon points="1137.8,1688.1 1138.5,1666.6 1139.1,1661.2 1139.8,1666.6 1140.5,1688.1" fill="url(#spk)"/>
<polygon points="1100.7,1691.6 1101.3,1683.7 1102.0,1681.7 1102.7,1683.7 1103.3,1691.6" fill="url(#spk)"/>
<polygon points="1128.1,1692.8 1129.2,1671.8 1130.3,1666.6 1131.4,1671.8 1132.5,1692.8" fill="url(#spk)"/>
<polygon points="1189.6,1693.3 1190.6,1676.1 1191.6,1671.8 1192.6,1676.1 1193.5,1693.3" fill="url(#spk)"/>
<polygon points="1226.6,1693.7 1227.6,1678.0 1228.6,1674.1 1229.6,1678.0 1230.6,1693.7" fill="url(#spk)"/>
<polygon points="1213.3,1695.6 1214.1,1673.4 1214.8,1667.9 1215.5,1673.4 1216.3,1695.6" fill="url(#spk)"/>
<polygon points="1263.2,1695.8 1263.9,1676.5 1264.7,1671.7 1265.5,1676.5 1266.2,1695.8" fill="url(#spk)"/>
<polygon points="1218.0,1695.8 1219.0,1680.6 1220.0,1676.8 1221.0,1680.6 1222.0,1695.8" fill="url(#spk)"/>
<polygon points="1121.4,1696.1 1122.2,1683.6 1123.0,1680.5 1123.8,1683.6 1124.7,1696.1" fill="url(#spk)"/>
<polygon points="1042.3,1696.5 1043.3,1686.0 1044.3,1683.4 1045.3,1686.0 1046.2,1696.5" fill="url(#spk)"/>
<polygon points="1159.4,1697.0 1160.4,1676.4 1161.5,1671.3 1162.5,1676.4 1163.5,1697.0" fill="url(#spk)"/>
<polygon points="1113.1,1697.3 1114.2,1687.0 1115.3,1684.4 1116.3,1687.0 1117.4,1697.3" fill="url(#spk)"/>
<polygon points="1291.1,1697.8 1291.9,1688.0 1292.7,1685.5 1293.4,1688.0 1294.2,1697.8" fill="url(#spk)"/>
<polygon points="1166.4,1699.2 1167.1,1686.3 1167.8,1683.1 1168.5,1686.3 1169.2,1699.2" fill="url(#spk)"/>
<polygon points="1176.7,1699.8 1177.5,1679.8 1178.3,1674.8 1179.2,1679.8 1180.0,1699.8" fill="url(#spk)"/>
<polygon points="1275.7,1700.1 1276.8,1687.1 1277.8,1683.8 1278.8,1687.1 1279.8,1700.1" fill="url(#spk)"/>
<polygon points="1116.1,1700.2 1117.1,1688.5 1118.2,1685.6 1119.2,1688.5 1120.2,1700.2" fill="url(#spk)"/>
<polygon points="1107.7,1700.8 1108.5,1680.9 1109.4,1676.0 1110.2,1680.9 1111.1,1700.8" fill="url(#spk)"/>
<polygon points="1193.9,1701.2 1194.9,1682.8 1195.8,1678.2 1196.7,1682.8 1197.7,1701.2" fill="url(#spk)"/>
<polygon points="1276.4,1701.2 1277.5,1687.3 1278.6,1683.9 1279.8,1687.3 1280.9,1701.2" fill="url(#spk)"/>
<polygon points="1232.6,1701.3 1233.4,1680.4 1234.3,1675.1 1235.1,1680.4 1235.9,1701.3" fill="url(#spk)"/>
<polygon points="1120.2,1701.8 1121.1,1681.1 1121.9,1675.9 1122.8,1681.1 1123.6,1701.8" fill="url(#spk)"/>
<polygon points="1092.1,1702.4 1093.1,1692.5 1094.0,1690.1 1095.0,1692.5 1096.0,1702.4" fill="url(#spk)"/>
<polygon points="1032.1,1702.7 1033.0,1691.1 1033.8,1688.2 1034.7,1691.1 1035.5,1702.7" fill="url(#spk)"/>
<polygon points="1287.7,1706.3 1288.8,1693.7 1290.0,1690.6 1291.1,1693.7 1292.2,1706.3" fill="url(#spk)"/>
<polygon points="1124.4,1706.3 1125.3,1684.5 1126.2,1679.0 1127.0,1684.5 1127.9,1706.3" fill="url(#spk)"/>
<polygon points="1254.7,1706.6 1255.6,1691.0 1256.6,1687.1 1257.6,1691.0 1258.6,1706.6" fill="url(#spk)"/>
<polygon points="1288.1,1708.4 1288.8,1694.7 1289.5,1691.3 1290.2,1694.7 1290.9,1708.4" fill="url(#spk)"/>
<polygon points="1262.2,1710.1 1263.1,1691.0 1264.0,1686.2 1264.8,1691.0 1265.7,1710.1" fill="url(#spk)"/>
<polygon points="1138.0,1710.7 1139.0,1689.0 1139.9,1683.6 1140.8,1689.0 1141.8,1710.7" fill="url(#spk)"/>
<polygon points="1080.8,1712.1 1081.7,1693.7 1082.5,1689.1 1083.4,1693.7 1084.3,1712.1" fill="url(#spk)"/>
<polygon points="1163.0,1712.9 1163.7,1690.6 1164.4,1685.0 1165.1,1690.6 1165.8,1712.9" fill="url(#spk)"/>
<polygon points="1152.0,1712.9 1152.8,1704.6 1153.6,1702.5 1154.4,1704.6 1155.1,1712.9" fill="url(#spk)"/>
<polygon points="1160.1,1713.3 1161.0,1696.5 1161.8,1692.2 1162.7,1696.5 1163.6,1713.3" fill="url(#spk)"/>
<polygon points="1104.0,1713.5 1105.2,1697.1 1106.3,1693.0 1107.5,1697.1 1108.6,1713.5" fill="url(#spk)"/>
<polygon points="1074.1,1715.6 1074.8,1707.5 1075.6,1705.5 1076.3,1707.5 1077.1,1715.6" fill="url(#spk)"/>
<polygon points="1260.7,1715.9 1261.4,1708.4 1262.1,1706.5 1262.8,1708.4 1263.5,1715.9" fill="url(#spk)"/>
<polygon points="1247.8,1717.8 1248.6,1697.9 1249.4,1692.9 1250.2,1697.9 1250.9,1717.8" fill="url(#spk)"/>
<polygon points="1326.4,1718.9 1327.5,1705.2 1328.7,1701.7 1329.8,1705.2 1330.9,1718.9" fill="url(#spk)"/>
<polygon points="1116.1,1719.3 1117.2,1701.6 1118.4,1697.2 1119.5,1701.6 1120.6,1719.3" fill="url(#spk)"/>
<polygon points="1190.4,1719.4 1191.0,1703.6 1191.7,1699.6 1192.4,1703.6 1193.0,1719.4" fill="url(#spk)"/>
<polygon points="1125.3,1719.7 1126.1,1698.5 1126.9,1693.2 1127.7,1698.5 1128.4,1719.7" fill="url(#spk)"/>
<polygon points="1274.8,1719.8 1275.9,1707.6 1277.1,1704.6 1278.2,1707.6 1279.3,1719.8" fill="url(#spk)"/>
<polygon points="1250.5,1720.4 1251.5,1707.4 1252.5,1704.2 1253.5,1707.4 1254.4,1720.4" fill="url(#spk)"/>
<polygon points="1041.8,1720.9 1042.7,1712.3 1043.6,1710.2 1044.5,1712.3 1045.4,1720.9" fill="url(#spk)"/>
<polygon points="1090.4,1722.3 1091.4,1701.4 1092.4,1696.2 1093.4,1701.4 1094.4,1722.3" fill="url(#spk)"/>
<polygon points="1315.7,1722.9 1316.7,1703.2 1317.7,1698.2 1318.7,1703.2 1319.7,1722.9" fill="url(#spk)"/>
<polygon points="1093.7,1723.0 1094.7,1700.7 1095.8,1695.1 1096.8,1700.7 1097.9,1723.0" fill="url(#spk)"/>
<polygon points="1089.2,1723.9 1090.3,1715.7 1091.4,1713.6 1092.5,1715.7 1093.6,1723.9" fill="url(#spk)"/>
<polygon points="1314.5,1723.9 1315.3,1707.8 1316.1,1703.7 1316.9,1707.8 1317.7,1723.9" fill="url(#spk)"/>
<polygon points="1056.9,1724.3 1057.8,1707.1 1058.8,1702.8 1059.7,1707.1 1060.6,1724.3" fill="url(#spk)"/>
<polygon points="1120.9,1725.6 1121.8,1716.1 1122.8,1713.7 1123.8,1716.1 1124.8,1725.6" fill="url(#spk)"/>
<polygon points="1091.7,1726.0 1092.4,1703.8 1093.1,1698.2 1093.9,1703.8 1094.6,1726.0" fill="url(#spk)"/>
<polygon points="1055.9,1727.2 1056.7,1717.2 1057.5,1714.8 1058.3,1717.2 1059.1,1727.2" fill="url(#spk)"/>
<polygon points="1245.5,1727.3 1246.5,1718.4 1247.5,1716.1 1248.5,1718.4 1249.6,1727.3" fill="url(#spk)"/>
<polygon points="1126.5,1728.0 1127.3,1718.1 1128.1,1715.6 1128.9,1718.1 1129.6,1728.0" fill="url(#spk)"/>
<polygon points="1238.2,1730.1 1239.2,1720.0 1240.3,1717.5 1241.3,1720.0 1242.4,1730.1" fill="url(#spk)"/>
<polygon points="1079.4,1730.3 1080.4,1710.7 1081.4,1705.8 1082.4,1710.7 1083.4,1730.3" fill="url(#spk)"/>
<polygon points="1251.6,1730.5 1252.5,1721.4 1253.4,1719.2 1254.2,1721.4 1255.1,1730.5" fill="url(#spk)"/>
<polygon points="1306.0,1730.5 1307.0,1708.6 1307.9,1703.1 1308.9,1708.6 1309.9,1730.5" fill="url(#spk)"/>
<polygon points="1204.8,1730.7 1205.9,1717.7 1207.0,1714.5 1208.1,1717.7 1209.2,1730.7" fill="url(#spk)"/>
<polygon points="1106.1,1731.8 1106.9,1713.0 1107.7,1708.3 1108.4,1713.0 1109.2,1731.8" fill="url(#spk)"/>
<polygon points="1276.4,1732.4 1277.3,1715.3 1278.2,1711.0 1279.1,1715.3 1280.0,1732.4" fill="url(#spk)"/>
<polygon points="1126.8,1732.6 1127.9,1719.1 1128.9,1715.7 1130.0,1719.1 1131.1,1732.6" fill="url(#spk)"/>
<polygon points="1089.1,1733.7 1089.9,1718.3 1090.6,1714.5 1091.4,1718.3 1092.1,1733.7" fill="url(#spk)"/>
<polygon points="1180.3,1734.0 1181.0,1713.5 1181.7,1708.4 1182.4,1713.5 1183.1,1734.0" fill="url(#spk)"/>
<polygon points="1227.8,1734.1 1228.6,1725.4 1229.4,1723.2 1230.2,1725.4 1231.0,1734.1" fill="url(#spk)"/>
<polygon points="1154.0,1734.9 1155.0,1718.1 1156.0,1713.9 1157.1,1718.1 1158.1,1734.9" fill="url(#spk)"/>
<polygon points="1152.4,1736.5 1153.3,1720.5 1154.2,1716.5 1155.0,1720.5 1155.9,1736.5" fill="url(#spk)"/>
<polygon points="1077.9,1736.7 1078.6,1718.6 1079.4,1714.0 1080.1,1718.6 1080.9,1736.7" fill="url(#spk)"/>
<polygon points="1271.9,1737.0 1272.9,1719.0 1274.0,1714.4 1275.0,1719.0 1276.1,1737.0" fill="url(#spk)"/>
<polygon points="1044.6,1737.8 1045.7,1724.0 1046.8,1720.6 1047.9,1724.0 1049.0,1737.8" fill="url(#spk)"/>
<polygon points="1105.4,1738.4 1106.1,1731.0 1106.8,1729.2 1107.5,1731.0 1108.2,1738.4" fill="url(#spk)"/>
<polygon points="1042.9,1738.7 1043.7,1719.8 1044.5,1715.0 1045.4,1719.8 1046.2,1738.7" fill="url(#spk)"/>
<polygon points="1251.1,1739.5 1252.0,1717.9 1252.9,1712.5 1253.9,1717.9 1254.8,1739.5" fill="url(#spk)"/>
<polygon points="1294.8,1740.7 1295.6,1723.6 1296.3,1719.3 1297.0,1723.6 1297.8,1740.7" fill="url(#spk)"/>
<polygon points="1252.2,1741.3 1252.9,1728.0 1253.6,1724.7 1254.3,1728.0 1255.0,1741.3" fill="url(#spk)"/>
<polygon points="1133.3,1741.4 1133.9,1730.9 1134.6,1728.3 1135.3,1730.9 1136.0,1741.4" fill="url(#spk)"/>
<polygon points="1170.5,1742.1 1171.4,1733.8 1172.3,1731.7 1173.2,1733.8 1174.2,1742.1" fill="url(#spk)"/>
<polygon points="1081.5,1742.7 1082.2,1725.0 1082.8,1720.6 1083.5,1725.0 1084.2,1742.7" fill="url(#spk)"/>
<polygon points="1112.7,1743.3 1113.4,1722.8 1114.0,1717.7 1114.7,1722.8 1115.4,1743.3" fill="url(#spk)"/>
<polygon points="1241.1,1743.9 1242.2,1730.5 1243.4,1727.1 1244.5,1730.5 1245.7,1743.9" fill="url(#spk)"/>
<polygon points="1287.3,1745.1 1288.2,1729.1 1289.1,1725.0 1289.9,1729.1 1290.8,1745.1" fill="url(#spk)"/>
<polygon points="1218.2,1745.4 1219.0,1732.1 1219.7,1728.8 1220.5,1732.1 1221.3,1745.4" fill="url(#spk)"/>
<polygon points="1141.0,1749.2 1141.9,1729.2 1142.8,1724.1 1143.7,1729.2 1144.6,1749.2" fill="url(#spk)"/>
<polygon points="1244.8,1750.5 1245.8,1733.3 1246.7,1729.0 1247.7,1733.3 1248.6,1750.5" fill="url(#spk)"/>
<polygon points="1150.2,1753.4 1151.2,1731.6 1152.1,1726.1 1153.1,1731.6 1154.0,1753.4" fill="url(#spk)"/>
<polygon points="1164.9,1753.7 1166.0,1738.8 1167.1,1735.1 1168.2,1738.8 1169.3,1753.7" fill="url(#spk)"/>
<polygon points="1210.1,1753.8 1210.9,1732.5 1211.6,1727.1 1212.4,1732.5 1213.2,1753.8" fill="url(#spk)"/>
<polygon points="1185.0,1754.8 1186.0,1736.0 1186.9,1731.3 1187.9,1736.0 1188.8,1754.8" fill="url(#spk)"/>
<polygon points="1086.8,1755.4 1088.0,1743.4 1089.1,1740.3 1090.3,1743.4 1091.4,1755.4" fill="url(#spk)"/>
<polygon points="1144.9,1755.9 1145.8,1739.4 1146.6,1735.3 1147.5,1739.4 1148.4,1755.9" fill="url(#spk)"/>
<polygon points="1253.4,1755.9 1254.3,1746.7 1255.3,1744.4 1256.3,1746.7 1257.3,1755.9" fill="url(#spk)"/>
<polygon points="1097.4,1756.5 1098.6,1740.1 1099.7,1736.0 1100.9,1740.1 1102.0,1756.5" fill="url(#spk)"/>
<polygon points="1082.3,1757.1 1083.1,1747.2 1083.9,1744.7 1084.7,1747.2 1085.4,1757.1" fill="url(#spk)"/>
<polygon points="1202.1,1757.3 1203.1,1745.0 1204.1,1741.9 1205.2,1745.0 1206.2,1757.3" fill="url(#spk)"/>
<polygon points="1235.8,1758.6 1236.5,1748.8 1237.2,1746.4 1237.9,1748.8 1238.5,1758.6" fill="url(#spk)"/>
<polygon points="1143.1,1759.3 1143.8,1741.1 1144.4,1736.6 1145.1,1741.1 1145.8,1759.3" fill="url(#spk)"/>
<polygon points="1146.6,1759.6 1147.3,1751.4 1147.9,1749.3 1148.6,1751.4 1149.2,1759.6" fill="url(#spk)"/>
<polygon points="1246.1,1760.5 1247.2,1743.5 1248.2,1739.3 1249.2,1743.5 1250.3,1760.5" fill="url(#spk)"/>
<polygon points="1200.0,1760.9 1201.1,1738.8 1202.2,1733.2 1203.3,1738.8 1204.5,1760.9" fill="url(#spk)"/>
<polygon points="1155.1,1761.8 1155.9,1741.5 1156.6,1736.4 1157.4,1741.5 1158.2,1761.8" fill="url(#spk)"/>
<polygon points="1105.9,1762.3 1106.8,1751.6 1107.7,1748.9 1108.6,1751.6 1109.5,1762.3" fill="url(#spk)"/>
<polygon points="1186.5,1762.8 1187.6,1753.1 1188.7,1750.6 1189.8,1753.1 1190.9,1762.8" fill="url(#spk)"/>
<polygon points="1162.4,1763.6 1163.4,1751.9 1164.4,1749.0 1165.4,1751.9 1166.3,1763.6" fill="url(#spk)"/>
<polygon points="1201.4,1764.9 1202.4,1749.4 1203.4,1745.5 1204.4,1749.4 1205.4,1764.9" fill="url(#spk)"/>
<polygon points="1142.3,1769.0 1143.3,1760.5 1144.3,1758.4 1145.3,1760.5 1146.3,1769.0" fill="url(#spk)"/>
<polygon points="1104.3,1769.1 1105.1,1754.5 1106.0,1750.8 1106.8,1754.5 1107.7,1769.1" fill="url(#spk)"/>
<polygon points="1190.7,1771.3 1191.5,1760.3 1192.3,1757.6 1193.1,1760.3 1193.9,1771.3" fill="url(#spk)"/>
<polygon points="1153.0,1778.1 1153.7,1768.6 1154.4,1766.3 1155.1,1768.6 1155.8,1778.1" fill="url(#spk)"/>
<polygon points="1130.5,1783.2 1131.4,1770.4 1132.2,1767.2 1133.0,1770.4 1133.8,1783.2" fill="url(#spk)"/>
<polygon points="1131.8,1785.1 1132.8,1775.9 1133.9,1773.6 1135.0,1775.9 1136.1,1785.1" fill="url(#spk)"/>
<polygon points="1160.7,1788.6 1161.8,1779.6 1162.8,1777.4 1163.9,1779.6 1165.0,1788.6" fill="url(#spk)"/>
<polygon points="1159.2,1793.9 1160.2,1774.0 1161.3,1769.0 1162.3,1774.0 1163.3,1793.9" fill="url(#spk)"/>
<polygon points="1207.1,1794.9 1207.9,1787.5 1208.8,1785.6 1209.6,1787.5 1210.4,1794.9" fill="url(#spk)"/>
<polygon points="1215.8,1795.6 1216.8,1786.8 1217.9,1784.6 1219.0,1786.8 1220.1,1795.6" fill="url(#spk)"/>
<polygon points="1140.1,1795.9 1141.0,1780.3 1142.0,1776.4 1142.9,1780.3 1143.8,1795.9" fill="url(#spk)"/>
<polygon points="1150.7,1801.6 1151.8,1787.1 1152.9,1783.5 1154.0,1787.1 1155.1,1801.6" fill="url(#spk)"/>
<polygon points="1178.9,1802.1 1179.9,1782.6 1180.9,1777.7 1181.8,1782.6 1182.8,1802.1" fill="url(#spk)"/>
<polygon points="1162.0,1806.1 1162.8,1787.9 1163.7,1783.4 1164.5,1787.9 1165.4,1806.1" fill="url(#spk)"/>
<polygon points="1177.8,1815.7 1178.6,1800.1 1179.4,1796.2 1180.2,1800.1 1181.0,1815.7" fill="url(#spk)"/>
<polygon points="1174.9,1816.2 1175.9,1803.6 1176.9,1800.5 1177.9,1803.6 1178.9,1816.2" fill="url(#spk)"/>
<polygon points="1159.2,1816.9 1159.8,1804.4 1160.5,1801.2 1161.2,1804.4 1161.9,1816.9" fill="url(#spk)"/>
<polygon points="1009.1,1717.4 1170.8,1829.7 1331.7,1720.3 1328.3,1732.2 1330.8,1733.4 1333.3,1732.2 1324.8,1735.3 1326.1,1735.6 1327.4,1735.3 1320.0,1738.4 1321.4,1739.9 1322.8,1738.4 1315.1,1741.6 1316.7,1741.6 1318.2,1741.6 1310.5,1744.7 1312.0,1745.5 1313.4,1744.7 1305.0,1747.8 1307.3,1749.8 1309.6,1747.8 1301.1,1750.9 1302.6,1752.5 1304.0,1750.9 1296.3,1754.0 1297.9,1755.7 1299.4,1754.0 1291.9,1757.1 1293.2,1759.2 1294.4,1757.1 1286.1,1760.3 1288.4,1760.4 1290.8,1760.3 1281.3,1763.4 1283.7,1764.5 1286.2,1763.4 1277.6,1766.5 1279.0,1775.5 1280.5,1766.5 1273.0,1769.6 1274.3,1774.7 1275.6,1769.6 1268.1,1772.7 1269.6,1773.3 1271.2,1772.7 1262.8,1775.8 1264.9,1776.6 1267.1,1775.8 1257.7,1779.0 1260.2,1781.8 1262.7,1779.0 1254.3,1782.1 1255.5,1783.3 1256.7,1782.1 1248.5,1785.2 1250.8,1785.6 1253.1,1785.2 1243.7,1788.3 1246.1,1788.8 1248.5,1788.3 1239.7,1791.4 1241.4,1792.6 1243.1,1791.4 1235.3,1794.6 1236.7,1796.9 1238.1,1794.6 1230.6,1797.7 1232.0,1798.4 1233.4,1797.7 1226.1,1800.8 1227.3,1800.9 1228.5,1800.8 1221.2,1803.9 1222.6,1804.7 1224.0,1803.9 1216.6,1807.0 1217.9,1807.2 1219.1,1807.0 1210.8,1810.1 1213.2,1810.8 1215.5,1810.1 1206.8,1813.3 1208.4,1814.2 1210.1,1813.3 1201.8,1816.4 1203.7,1819.2 1205.7,1816.4 1196.8,1819.5 1199.0,1820.5 1201.3,1819.5 1192.7,1822.6 1194.3,1822.6 1196.0,1822.6 1187.1,1825.7 1189.6,1828.6 1192.2,1825.7 1183.0,1828.8 1184.9,1831.8 1186.8,1828.8 1178.0,1832.0 1180.2,1832.3 1182.4,1832.0 1173.4,1835.1 1175.5,1839.3 1177.6,1835.1 1169.1,1838.2 1170.8,1839.2 1172.5,1838.2 1164.5,1835.2 1166.1,1836.0 1167.7,1835.2 1159.6,1832.1 1161.4,1834.4 1163.2,1832.1 1154.8,1829.1 1156.7,1835.4 1158.6,1829.1 1150.1,1826.1 1152.0,1827.0 1153.9,1826.1 1145.7,1823.1 1147.3,1828.0 1148.8,1823.1 1140.3,1820.0 1142.6,1820.8 1144.8,1820.0 1135.3,1817.0 1137.9,1818.1 1140.4,1817.0 1131.2,1814.0 1133.2,1817.6 1135.1,1814.0 1126.8,1810.9 1128.4,1819.9 1130.1,1810.9 1122.4,1807.9 1123.7,1815.0 1125.0,1807.9 1117.4,1804.9 1119.0,1810.4 1120.7,1804.9 1112.0,1801.8 1114.3,1802.5 1116.7,1801.8 1107.4,1798.8 1109.6,1799.8 1111.9,1798.8 1103.3,1795.8 1104.9,1802.4 1106.6,1795.8 1098.8,1792.8 1100.2,1793.7 1101.6,1792.8 1093.1,1789.7 1095.5,1790.5 1097.9,1789.7 1088.4,1786.7 1090.8,1786.9 1093.2,1786.7 1083.9,1783.7 1086.1,1788.6 1088.3,1783.7 1079.4,1780.6 1081.4,1782.8 1083.4,1780.6 1075.4,1777.6 1076.7,1779.0 1078.0,1777.6 1070.0,1774.6 1072.0,1777.5 1073.9,1774.6 1065.4,1771.6 1067.3,1772.6 1069.1,1771.6 1060.9,1768.5 1062.6,1774.9 1064.2,1768.5 1055.6,1765.5 1057.9,1769.6 1060.1,1765.5 1051.8,1762.5 1053.2,1765.6 1054.5,1762.5 1046.1,1759.4 1048.4,1759.7 1050.8,1759.4 1042.4,1756.4 1043.7,1760.9 1045.1,1756.4 1036.9,1753.4 1039.0,1753.7 1041.1,1753.4 1033.0,1750.3 1034.3,1750.6 1035.6,1750.3 1027.8,1747.3 1029.6,1747.5 1031.4,1747.3 1023.4,1744.3 1024.9,1746.8 1026.4,1744.3 1018.4,1741.3 1020.2,1741.6 1022.1,1741.3 1014.2,1738.2 1015.5,1739.0 1016.8,1738.2" fill="#2a0c02" fill-opacity="0.36"/>
<polygon points="1009.7,1723.7 1170.8,1832.7 1331.3,1724.5 1328.3,1732.2 1330.8,1733.4 1333.3,1732.2 1324.8,1735.3 1326.1,1735.6 1327.4,1735.3 1320.0,1738.4 1321.4,1739.9 1322.8,1738.4 1315.1,1741.6 1316.7,1741.6 1318.2,1741.6 1310.5,1744.7 1312.0,1745.5 1313.4,1744.7 1305.0,1747.8 1307.3,1749.8 1309.6,1747.8 1301.1,1750.9 1302.6,1752.5 1304.0,1750.9 1296.3,1754.0 1297.9,1755.7 1299.4,1754.0 1291.9,1757.1 1293.2,1759.2 1294.4,1757.1 1286.1,1760.3 1288.4,1760.4 1290.8,1760.3 1281.3,1763.4 1283.7,1764.5 1286.2,1763.4 1277.6,1766.5 1279.0,1775.5 1280.5,1766.5 1273.0,1769.6 1274.3,1774.7 1275.6,1769.6 1268.1,1772.7 1269.6,1773.3 1271.2,1772.7 1262.8,1775.8 1264.9,1776.6 1267.1,1775.8 1257.7,1779.0 1260.2,1781.8 1262.7,1779.0 1254.3,1782.1 1255.5,1783.3 1256.7,1782.1 1248.5,1785.2 1250.8,1785.6 1253.1,1785.2 1243.7,1788.3 1246.1,1788.8 1248.5,1788.3 1239.7,1791.4 1241.4,1792.6 1243.1,1791.4 1235.3,1794.6 1236.7,1796.9 1238.1,1794.6 1230.6,1797.7 1232.0,1798.4 1233.4,1797.7 1226.1,1800.8 1227.3,1800.9 1228.5,1800.8 1221.2,1803.9 1222.6,1804.7 1224.0,1803.9 1216.6,1807.0 1217.9,1807.2 1219.1,1807.0 1210.8,1810.1 1213.2,1810.8 1215.5,1810.1 1206.8,1813.3 1208.4,1814.2 1210.1,1813.3 1201.8,1816.4 1203.7,1819.2 1205.7,1816.4 1196.8,1819.5 1199.0,1820.5 1201.3,1819.5 1192.7,1822.6 1194.3,1822.6 1196.0,1822.6 1187.1,1825.7 1189.6,1828.6 1192.2,1825.7 1183.0,1828.8 1184.9,1831.8 1186.8,1828.8 1178.0,1832.0 1180.2,1832.3 1182.4,1832.0 1173.4,1835.1 1175.5,1839.3 1177.6,1835.1 1169.1,1838.2 1170.8,1839.2 1172.5,1838.2 1164.5,1835.2 1166.1,1836.0 1167.7,1835.2 1159.6,1832.1 1161.4,1834.4 1163.2,1832.1 1154.8,1829.1 1156.7,1835.4 1158.6,1829.1 1150.1,1826.1 1152.0,1827.0 1153.9,1826.1 1145.7,1823.1 1147.3,1828.0 1148.8,1823.1 1140.3,1820.0 1142.6,1820.8 1144.8,1820.0 1135.3,1817.0 1137.9,1818.1 1140.4,1817.0 1131.2,1814.0 1133.2,1817.6 1135.1,1814.0 1126.8,1810.9 1128.4,1819.9 1130.1,1810.9 1122.4,1807.9 1123.7,1815.0 1125.0,1807.9 1117.4,1804.9 1119.0,1810.4 1120.7,1804.9 1112.0,1801.8 1114.3,1802.5 1116.7,1801.8 1107.4,1798.8 1109.6,1799.8 1111.9,1798.8 1103.3,1795.8 1104.9,1802.4 1106.6,1795.8 1098.8,1792.8 1100.2,1793.7 1101.6,1792.8 1093.1,1789.7 1095.5,1790.5 1097.9,1789.7 1088.4,1786.7 1090.8,1786.9 1093.2,1786.7 1083.9,1783.7 1086.1,1788.6 1088.3,1783.7 1079.4,1780.6 1081.4,1782.8 1083.4,1780.6 1075.4,1777.6 1076.7,1779.0 1078.0,1777.6 1070.0,1774.6 1072.0,1777.5 1073.9,1774.6 1065.4,1771.6 1067.3,1772.6 1069.1,1771.6 1060.9,1768.5 1062.6,1774.9 1064.2,1768.5 1055.6,1765.5 1057.9,1769.6 1060.1,1765.5 1051.8,1762.5 1053.2,1765.6 1054.5,1762.5 1046.1,1759.4 1048.4,1759.7 1050.8,1759.4 1042.4,1756.4 1043.7,1760.9 1045.1,1756.4 1036.9,1753.4 1039.0,1753.7 1041.1,1753.4 1033.0,1750.3 1034.3,1750.6 1035.6,1750.3 1027.8,1747.3 1029.6,1747.5 1031.4,1747.3 1023.4,1744.3 1024.9,1746.8 1026.4,1744.3 1018.4,1741.3 1020.2,1741.6 1022.1,1741.3 1014.2,1738.2 1015.5,1739.0 1016.8,1738.2" fill="#2a0c02" fill-opacity="0.44"/>
<polygon points="1010.3,1730.0 1170.8,1835.7 1331.0,1728.7 1328.3,1732.2 1330.8,1733.4 1333.3,1732.2 1324.8,1735.3 1326.1,1735.6 1327.4,1735.3 1320.0,1738.4 1321.4,1739.9 1322.8,1738.4 1315.1,1741.6 1316.7,1741.6 1318.2,1741.6 1310.5,1744.7 1312.0,1745.5 1313.4,1744.7 1305.0,1747.8 1307.3,1749.8 1309.6,1747.8 1301.1,1750.9 1302.6,1752.5 1304.0,1750.9 1296.3,1754.0 1297.9,1755.7 1299.4,1754.0 1291.9,1757.1 1293.2,1759.2 1294.4,1757.1 1286.1,1760.3 1288.4,1760.4 1290.8,1760.3 1281.3,1763.4 1283.7,1764.5 1286.2,1763.4 1277.6,1766.5 1279.0,1775.5 1280.5,1766.5 1273.0,1769.6 1274.3,1774.7 1275.6,1769.6 1268.1,1772.7 1269.6,1773.3 1271.2,1772.7 1262.8,1775.8 1264.9,1776.6 1267.1,1775.8 1257.7,1779.0 1260.2,1781.8 1262.7,1779.0 1254.3,1782.1 1255.5,1783.3 1256.7,1782.1 1248.5,1785.2 1250.8,1785.6 1253.1,1785.2 1243.7,1788.3 1246.1,1788.8 1248.5,1788.3 1239.7,1791.4 1241.4,1792.6 1243.1,1791.4 1235.3,1794.6 1236.7,1796.9 1238.1,1794.6 1230.6,1797.7 1232.0,1798.4 1233.4,1797.7 1226.1,1800.8 1227.3,1800.9 1228.5,1800.8 1221.2,1803.9 1222.6,1804.7 1224.0,1803.9 1216.6,1807.0 1217.9,1807.2 1219.1,1807.0 1210.8,1810.1 1213.2,1810.8 1215.5,1810.1 1206.8,1813.3 1208.4,1814.2 1210.1,1813.3 1201.8,1816.4 1203.7,1819.2 1205.7,1816.4 1196.8,1819.5 1199.0,1820.5 1201.3,1819.5 1192.7,1822.6 1194.3,1822.6 1196.0,1822.6 1187.1,1825.7 1189.6,1828.6 1192.2,1825.7 1183.0,1828.8 1184.9,1831.8 1186.8,1828.8 1178.0,1832.0 1180.2,1832.3 1182.4,1832.0 1173.4,1835.1 1175.5,1839.3 1177.6,1835.1 1169.1,1838.2 1170.8,1839.2 1172.5,1838.2 1164.5,1835.2 1166.1,1836.0 1167.7,1835.2 1159.6,1832.1 1161.4,1834.4 1163.2,1832.1 1154.8,1829.1 1156.7,1835.4 1158.6,1829.1 1150.1,1826.1 1152.0,1827.0 1153.9,1826.1 1145.7,1823.1 1147.3,1828.0 1148.8,1823.1 1140.3,1820.0 1142.6,1820.8 1144.8,1820.0 1135.3,1817.0 1137.9,1818.1 1140.4,1817.0 1131.2,1814.0 1133.2,1817.6 1135.1,1814.0 1126.8,1810.9 1128.4,1819.9 1130.1,1810.9 1122.4,1807.9 1123.7,1815.0 1125.0,1807.9 1117.4,1804.9 1119.0,1810.4 1120.7,1804.9 1112.0,1801.8 1114.3,1802.5 1116.7,1801.8 1107.4,1798.8 1109.6,1799.8 1111.9,1798.8 1103.3,1795.8 1104.9,1802.4 1106.6,1795.8 1098.8,1792.8 1100.2,1793.7 1101.6,1792.8 1093.1,1789.7 1095.5,1790.5 1097.9,1789.7 1088.4,1786.7 1090.8,1786.9 1093.2,1786.7 1083.9,1783.7 1086.1,1788.6 1088.3,1783.7 1079.4,1780.6 1081.4,1782.8 1083.4,1780.6 1075.4,1777.6 1076.7,1779.0 1078.0,1777.6 1070.0,1774.6 1072.0,1777.5 1073.9,1774.6 1065.4,1771.6 1067.3,1772.6 1069.1,1771.6 1060.9,1768.5 1062.6,1774.9 1064.2,1768.5 1055.6,1765.5 1057.9,1769.6 1060.1,1765.5 1051.8,1762.5 1053.2,1765.6 1054.5,1762.5 1046.1,1759.4 1048.4,1759.7 1050.8,1759.4 1042.4,1756.4 1043.7,1760.9 1045.1,1756.4 1036.9,1753.4 1039.0,1753.7 1041.1,1753.4 1033.0,1750.3 1034.3,1750.6 1035.6,1750.3 1027.8,1747.3 1029.6,1747.5 1031.4,1747.3 1023.4,1744.3 1024.9,1746.8 1026.4,1744.3 1018.4,1741.3 1020.2,1741.6 1022.1,1741.3 1014.2,1738.2 1015.5,1739.0 1016.8,1738.2" fill="#2a0c02" fill-opacity="0.60"/>
<polyline points="1006.4,1679.0 1000.4,1679.0 1000.4,1733.2 1171.8,1850.4 1343.2,1733.2 1343.2,1725.2" fill="none" stroke="#000" stroke-width="2.0"/>
<line x1="1000.4" y1="1706.2" x2="1006.4" y2="1706.2" stroke="#000" stroke-width="2.0"/>
<line x1="1034.7" y1="1756.6" x2="1034.7" y2="1750.6" stroke="#000" stroke-width="1.6"/>
<line x1="1206.1" y1="1827.0" x2="1206.1" y2="1821.0" stroke="#000" stroke-width="1.6"/>
<line x1="1069.0" y1="1780.1" x2="1069.0" y2="1774.1" stroke="#000" stroke-width="1.6"/>
<line x1="1240.4" y1="1803.5" x2="1240.4" y2="1797.5" stroke="#000" stroke-width="1.6"/>
<line x1="1103.2" y1="1803.5" x2="1103.2" y2="1797.5" stroke="#000" stroke-width="1.6"/>
<line x1="1274.6" y1="1780.1" x2="1274.6" y2="1774.1" stroke="#000" stroke-width="1.6"/>
<line x1="1137.5" y1="1827.0" x2="1137.5" y2="1821.0" stroke="#000" stroke-width="1.6"/>
<line x1="1308.9" y1="1756.6" x2="1308.9" y2="1750.6" stroke="#000" stroke-width="1.6"/>
<text x="994.3" y="1660.7" font-size="23.5" fill="#000" text-anchor="end" >nm</text>
<text x="994.3" y="1688.2" font-size="23.5" fill="#000" text-anchor="end" >1.5</text>
<text x="994.3" y="1713.5" font-size="23.5" fill="#000" text-anchor="end" >0.0</text>
<text x="987.0" y="1752.1" font-size="23.5" fill="#000" text-anchor="middle" >1.0</text>
<text x="1017.3" y="1774.5" font-size="23.5" fill="#000" text-anchor="middle" >0.8</text>
<text x="1052.3" y="1798.4" font-size="23.5" fill="#000" text-anchor="middle" >0.6</text>
<text x="1088.8" y="1823.7" font-size="23.5" fill="#000" text-anchor="middle" >0.4</text>
<text x="1125.3" y="1847.6" font-size="23.5" fill="#000" text-anchor="middle" >0.2</text>
<text x="1219.5" y="1849.0" font-size="23.5" fill="#000" text-anchor="middle" >0.2</text>
<text x="1256.1" y="1826.0" font-size="23.5" fill="#000" text-anchor="middle" >0.4</text>
<text x="1289.8" y="1798.4" font-size="23.5" fill="#000" text-anchor="middle" >0.6</text>
<text x="1322.8" y="1775.4" font-size="23.5" fill="#000" text-anchor="middle" >0.8</text>
<text x="1355.1" y="1755.7" font-size="23.5" fill="#000" text-anchor="middle" >1.0</text>
<text x="1193.6" y="1877.2" font-size="23.5" fill="#000" text-anchor="middle" >0 µm</text>
<polygon points="1432.7,1718.7 1435.0,1718.0 1437.3,1718.7 1437.9,1715.8 1439.7,1715.5 1441.6,1715.8 1442.5,1712.9 1444.5,1709.4 1446.4,1712.9 1447.2,1710.0 1449.2,1708.6 1451.2,1710.0 1451.9,1707.1 1453.9,1706.1 1455.9,1707.1 1456.3,1704.1 1458.7,1703.8 1461.1,1704.1 1461.1,1701.2 1463.4,1698.7 1465.7,1701.2 1465.8,1698.3 1468.1,1697.6 1470.5,1698.3 1470.7,1695.4 1472.9,1694.3 1475.0,1695.4 1475.2,1692.5 1477.6,1686.9 1480.0,1692.5 1480.5,1689.6 1482.4,1686.4 1484.2,1689.6 1485.3,1686.7 1487.1,1686.4 1488.9,1686.7 1490.1,1683.8 1491.8,1678.6 1493.5,1683.8 1495.0,1680.8 1496.6,1679.9 1498.1,1680.8 1500.0,1677.9 1501.3,1672.3 1502.6,1677.9 1503.8,1675.0 1506.0,1666.9 1508.3,1675.0 1508.5,1672.1 1510.8,1671.3 1513.1,1672.1 1513.5,1669.2 1515.5,1667.0 1517.5,1669.2 1517.6,1666.3 1520.2,1666.0 1522.8,1666.3 1523.3,1663.4 1525.0,1661.8 1526.6,1663.4 1528.5,1660.5 1529.7,1659.3 1530.9,1660.5 1533.0,1657.6 1534.4,1656.0 1535.9,1657.6 1537.1,1654.6 1539.2,1651.5 1541.3,1654.6 1541.3,1651.7 1543.9,1651.5 1546.5,1651.7 1547.3,1648.8 1548.6,1639.3 1550.0,1648.8 1550.8,1645.9 1553.4,1645.0 1555.9,1645.9 1556.1,1643.0 1558.1,1641.1 1560.2,1643.0 1561.2,1640.1 1562.9,1639.4 1564.5,1640.1 1566.0,1637.2 1567.6,1636.3 1569.2,1637.2 1569.8,1634.3 1572.3,1634.0 1574.8,1634.3 1575.8,1631.3 1577.1,1631.1 1578.3,1631.3 1579.5,1628.4 1581.8,1628.3 1584.1,1628.4 1585.0,1625.5 1586.5,1624.8 1588.1,1625.5 1589.9,1622.6 1591.3,1622.0 1592.7,1622.6 1593.9,1619.7 1596.0,1619.3 1598.1,1619.7 1598.5,1622.7 1600.8,1622.3 1603.1,1622.7 1603.0,1625.8 1605.5,1621.0 1608.1,1625.8 1608.9,1628.8 1610.3,1627.8 1611.7,1628.8 1612.7,1631.8 1615.1,1631.0 1617.4,1631.8 1617.3,1634.8 1619.8,1633.5 1622.3,1634.8 1622.6,1637.9 1624.6,1637.8 1626.6,1637.9 1627.9,1640.9 1629.4,1634.8 1630.8,1640.9 1631.9,1643.9 1634.1,1635.0 1636.4,1643.9 1637.4,1647.0 1638.9,1646.0 1640.4,1647.0 1641.4,1650.0 1643.6,1648.4 1645.9,1650.0 1647.0,1653.0 1648.4,1649.5 1649.9,1653.0 1651.4,1656.1 1653.2,1654.7 1655.0,1656.1 1655.5,1659.1 1657.9,1658.2 1660.4,1659.1 1660.4,1662.1 1662.7,1661.1 1665.0,1662.1 1665.8,1665.1 1667.5,1664.1 1669.1,1665.1 1670.8,1668.2 1672.2,1668.0 1673.7,1668.2 1675.3,1671.2 1677.0,1670.0 1678.7,1671.2 1680.5,1674.2 1681.8,1673.6 1683.0,1674.2 1684.5,1677.3 1686.5,1669.4 1688.5,1677.3 1689.3,1680.3 1691.3,1680.1 1693.3,1680.3 1694.5,1683.3 1696.1,1682.8 1697.7,1683.3 1698.6,1686.3 1700.8,1685.6 1703.0,1686.3 1703.6,1689.4 1705.6,1689.3 1707.6,1689.4 1708.6,1692.4 1710.4,1691.0 1712.1,1692.4 1713.9,1695.4 1715.1,1694.8 1716.3,1695.4 1717.9,1698.5 1719.9,1697.5 1721.9,1698.5 1723.0,1701.5 1724.6,1701.0 1726.3,1701.5 1727.8,1704.5 1729.4,1704.5 1731.0,1704.5 1732.8,1707.6 1734.2,1706.0 1735.5,1707.6 1737.2,1710.6 1738.9,1710.3 1740.7,1710.6 1741.9,1713.6 1743.7,1712.5 1745.5,1713.6 1746.6,1716.6 1748.5,1716.1 1750.3,1716.6 1750.7,1719.7 1753.2,1711.4 1755.7,1719.7 1758.0,1722.7 1755.7,1736.7 1757.0,1736.8 1758.3,1736.7 1750.7,1739.8 1752.3,1746.2 1753.9,1739.8 1745.5,1742.9 1747.6,1743.2 1749.7,1742.9 1741.0,1746.1 1742.9,1748.8 1744.8,1746.1 1735.9,1749.2 1738.2,1749.8 1740.5,1749.2 1731.3,1752.3 1733.5,1753.0 1735.6,1752.3 1726.3,1755.4 1728.8,1756.1 1731.2,1755.4 1721.5,1758.5 1724.1,1758.9 1726.6,1758.5 1717.7,1761.6 1719.4,1764.7 1721.0,1761.6 1712.3,1764.8 1714.6,1765.4 1717.0,1764.8 1708.6,1767.9 1709.9,1768.3 1711.3,1767.9 1702.7,1771.0 1705.2,1771.9 1707.7,1771.0 1699.3,1774.1 1700.5,1775.0 1701.8,1774.1 1694.5,1777.2 1695.8,1778.2 1697.2,1777.2 1688.9,1780.3 1691.1,1781.2 1693.4,1780.3 1684.4,1783.5 1686.4,1785.2 1688.4,1783.5 1679.5,1786.6 1681.7,1792.1 1683.9,1786.6 1675.8,1789.7 1677.0,1790.2 1678.2,1789.7 1671.0,1792.8 1672.3,1795.6 1673.6,1792.8 1666.2,1795.9 1667.6,1803.4 1669.0,1795.9 1660.7,1799.1 1662.9,1799.8 1665.1,1799.1 1656.6,1802.2 1658.2,1802.2 1659.7,1802.2 1651.8,1805.3 1653.5,1805.6 1655.2,1805.3 1646.3,1808.4 1648.8,1809.1 1651.3,1808.4 1641.7,1811.5 1644.1,1811.6 1646.5,1811.5 1637.6,1814.6 1639.4,1815.1 1641.1,1814.6 1633.0,1817.8 1634.6,1820.3 1636.3,1817.8 1627.5,1820.9 1629.9,1820.9 1632.4,1820.9 1622.7,1824.0 1625.2,1824.8 1627.8,1824.0 1618.0,1827.1 1620.5,1828.2 1623.1,1827.1 1614.3,1830.2 1615.8,1830.3 1617.3,1830.2 1609.7,1833.3 1611.1,1833.6 1612.5,1833.3 1604.7,1836.5 1606.4,1836.8 1608.2,1836.5 1599.3,1839.6 1601.7,1843.0 1604.2,1839.6 1595.5,1842.7 1597.0,1843.0 1598.5,1842.7 1589.9,1839.7 1592.3,1840.3 1594.7,1839.7 1586.1,1836.6 1587.6,1837.4 1589.1,1836.6 1581.3,1833.6 1582.9,1834.6 1584.5,1833.6 1576.9,1830.6 1578.2,1834.7 1579.4,1830.6 1572.2,1827.6 1573.5,1828.0 1574.8,1827.6 1566.7,1824.5 1568.8,1825.7 1570.8,1824.5 1562.1,1821.5 1564.1,1822.5 1566.1,1821.5 1557.5,1818.5 1559.4,1818.9 1561.2,1818.5 1553.0,1815.4 1554.6,1816.3 1556.3,1815.4 1547.8,1812.4 1549.9,1814.1 1552.1,1812.4 1543.8,1809.4 1545.2,1810.2 1546.6,1809.4 1538.8,1806.3 1540.5,1806.5 1542.3,1806.3 1533.3,1803.3 1535.8,1803.5 1538.3,1803.3 1529.8,1800.3 1531.1,1801.2 1532.5,1800.3 1525.0,1797.3 1526.4,1797.5 1527.8,1797.3 1520.1,1794.2 1521.7,1794.9 1523.3,1794.2 1515.5,1791.2 1517.0,1792.0 1518.5,1791.2 1510.1,1788.2 1512.3,1791.4 1514.5,1788.2 1505.9,1785.1 1507.6,1785.7 1509.3,1785.1 1500.4,1782.1 1502.9,1782.3 1505.3,1782.1 1496.4,1779.1 1498.2,1782.0 1500.0,1779.1 1491.2,1776.1 1493.5,1776.9 1495.7,1776.1 1487.4,1773.0 1488.8,1774.0 1490.1,1773.0 1482.2,1770.0 1484.1,1772.6 1485.9,1770.0 1476.9,1767.0 1479.4,1767.4 1481.8,1767.0 1473.2,1763.9 1474.6,1765.0 1476.0,1763.9 1468.0,1760.9 1469.9,1761.1 1471.9,1760.9 1462.8,1757.9 1465.2,1762.2 1467.7,1757.9 1458.3,1754.8 1460.5,1760.2 1462.8,1754.8 1454.1,1751.8 1455.8,1752.1 1457.6,1751.8 1448.8,1748.8 1451.1,1751.8 1453.4,1748.8 1443.9,1745.8 1446.4,1751.1 1448.9,1745.8 1440.2,1742.7 1441.7,1745.1 1443.2,1742.7" fill="#8a5a20" filter="url(#afmK)"/>
<polygon points="1435.3,1721.9 1597.0,1834.2 1757.8,1724.8 1755.7,1736.7 1757.0,1736.8 1758.3,1736.7 1750.7,1739.8 1752.3,1746.2 1753.9,1739.8 1745.5,1742.9 1747.6,1743.2 1749.7,1742.9 1741.0,1746.1 1742.9,1748.8 1744.8,1746.1 1735.9,1749.2 1738.2,1749.8 1740.5,1749.2 1731.3,1752.3 1733.5,1753.0 1735.6,1752.3 1726.3,1755.4 1728.8,1756.1 1731.2,1755.4 1721.5,1758.5 1724.1,1758.9 1726.6,1758.5 1717.7,1761.6 1719.4,1764.7 1721.0,1761.6 1712.3,1764.8 1714.6,1765.4 1717.0,1764.8 1708.6,1767.9 1709.9,1768.3 1711.3,1767.9 1702.7,1771.0 1705.2,1771.9 1707.7,1771.0 1699.3,1774.1 1700.5,1775.0 1701.8,1774.1 1694.5,1777.2 1695.8,1778.2 1697.2,1777.2 1688.9,1780.3 1691.1,1781.2 1693.4,1780.3 1684.4,1783.5 1686.4,1785.2 1688.4,1783.5 1679.5,1786.6 1681.7,1792.1 1683.9,1786.6 1675.8,1789.7 1677.0,1790.2 1678.2,1789.7 1671.0,1792.8 1672.3,1795.6 1673.6,1792.8 1666.2,1795.9 1667.6,1803.4 1669.0,1795.9 1660.7,1799.1 1662.9,1799.8 1665.1,1799.1 1656.6,1802.2 1658.2,1802.2 1659.7,1802.2 1651.8,1805.3 1653.5,1805.6 1655.2,1805.3 1646.3,1808.4 1648.8,1809.1 1651.3,1808.4 1641.7,1811.5 1644.1,1811.6 1646.5,1811.5 1637.6,1814.6 1639.4,1815.1 1641.1,1814.6 1633.0,1817.8 1634.6,1820.3 1636.3,1817.8 1627.5,1820.9 1629.9,1820.9 1632.4,1820.9 1622.7,1824.0 1625.2,1824.8 1627.8,1824.0 1618.0,1827.1 1620.5,1828.2 1623.1,1827.1 1614.3,1830.2 1615.8,1830.3 1617.3,1830.2 1609.7,1833.3 1611.1,1833.6 1612.5,1833.3 1604.7,1836.5 1606.4,1836.8 1608.2,1836.5 1599.3,1839.6 1601.7,1843.0 1604.2,1839.6 1595.5,1842.7 1597.0,1843.0 1598.5,1842.7 1589.9,1839.7 1592.3,1840.3 1594.7,1839.7 1586.1,1836.6 1587.6,1837.4 1589.1,1836.6 1581.3,1833.6 1582.9,1834.6 1584.5,1833.6 1576.9,1830.6 1578.2,1834.7 1579.4,1830.6 1572.2,1827.6 1573.5,1828.0 1574.8,1827.6 1566.7,1824.5 1568.8,1825.7 1570.8,1824.5 1562.1,1821.5 1564.1,1822.5 1566.1,1821.5 1557.5,1818.5 1559.4,1818.9 1561.2,1818.5 1553.0,1815.4 1554.6,1816.3 1556.3,1815.4 1547.8,1812.4 1549.9,1814.1 1552.1,1812.4 1543.8,1809.4 1545.2,1810.2 1546.6,1809.4 1538.8,1806.3 1540.5,1806.5 1542.3,1806.3 1533.3,1803.3 1535.8,1803.5 1538.3,1803.3 1529.8,1800.3 1531.1,1801.2 1532.5,1800.3 1525.0,1797.3 1526.4,1797.5 1527.8,1797.3 1520.1,1794.2 1521.7,1794.9 1523.3,1794.2 1515.5,1791.2 1517.0,1792.0 1518.5,1791.2 1510.1,1788.2 1512.3,1791.4 1514.5,1788.2 1505.9,1785.1 1507.6,1785.7 1509.3,1785.1 1500.4,1782.1 1502.9,1782.3 1505.3,1782.1 1496.4,1779.1 1498.2,1782.0 1500.0,1779.1 1491.2,1776.1 1493.5,1776.9 1495.7,1776.1 1487.4,1773.0 1488.8,1774.0 1490.1,1773.0 1482.2,1770.0 1484.1,1772.6 1485.9,1770.0 1476.9,1767.0 1479.4,1767.4 1481.8,1767.0 1473.2,1763.9 1474.6,1765.0 1476.0,1763.9 1468.0,1760.9 1469.9,1761.1 1471.9,1760.9 1462.8,1757.9 1465.2,1762.2 1467.7,1757.9 1458.3,1754.8 1460.5,1760.2 1462.8,1754.8 1454.1,1751.8 1455.8,1752.1 1457.6,1751.8 1448.8,1748.8 1451.1,1751.8 1453.4,1748.8 1443.9,1745.8 1446.4,1751.1 1448.9,1745.8 1440.2,1742.7 1441.7,1745.1 1443.2,1742.7" fill="#2a0c02" fill-opacity="0.36"/>
<polygon points="1435.9,1728.2 1597.0,1837.2 1757.5,1729.0 1755.7,1736.7 1757.0,1736.8 1758.3,1736.7 1750.7,1739.8 1752.3,1746.2 1753.9,1739.8 1745.5,1742.9 1747.6,1743.2 1749.7,1742.9 1741.0,1746.1 1742.9,1748.8 1744.8,1746.1 1735.9,1749.2 1738.2,1749.8 1740.5,1749.2 1731.3,1752.3 1733.5,1753.0 1735.6,1752.3 1726.3,1755.4 1728.8,1756.1 1731.2,1755.4 1721.5,1758.5 1724.1,1758.9 1726.6,1758.5 1717.7,1761.6 1719.4,1764.7 1721.0,1761.6 1712.3,1764.8 1714.6,1765.4 1717.0,1764.8 1708.6,1767.9 1709.9,1768.3 1711.3,1767.9 1702.7,1771.0 1705.2,1771.9 1707.7,1771.0 1699.3,1774.1 1700.5,1775.0 1701.8,1774.1 1694.5,1777.2 1695.8,1778.2 1697.2,1777.2 1688.9,1780.3 1691.1,1781.2 1693.4,1780.3 1684.4,1783.5 1686.4,1785.2 1688.4,1783.5 1679.5,1786.6 1681.7,1792.1 1683.9,1786.6 1675.8,1789.7 1677.0,1790.2 1678.2,1789.7 1671.0,1792.8 1672.3,1795.6 1673.6,1792.8 1666.2,1795.9 1667.6,1803.4 1669.0,1795.9 1660.7,1799.1 1662.9,1799.8 1665.1,1799.1 1656.6,1802.2 1658.2,1802.2 1659.7,1802.2 1651.8,1805.3 1653.5,1805.6 1655.2,1805.3 1646.3,1808.4 1648.8,1809.1 1651.3,1808.4 1641.7,1811.5 1644.1,1811.6 1646.5,1811.5 1637.6,1814.6 1639.4,1815.1 1641.1,1814.6 1633.0,1817.8 1634.6,1820.3 1636.3,1817.8 1627.5,1820.9 1629.9,1820.9 1632.4,1820.9 1622.7,1824.0 1625.2,1824.8 1627.8,1824.0 1618.0,1827.1 1620.5,1828.2 1623.1,1827.1 1614.3,1830.2 1615.8,1830.3 1617.3,1830.2 1609.7,1833.3 1611.1,1833.6 1612.5,1833.3 1604.7,1836.5 1606.4,1836.8 1608.2,1836.5 1599.3,1839.6 1601.7,1843.0 1604.2,1839.6 1595.5,1842.7 1597.0,1843.0 1598.5,1842.7 1589.9,1839.7 1592.3,1840.3 1594.7,1839.7 1586.1,1836.6 1587.6,1837.4 1589.1,1836.6 1581.3,1833.6 1582.9,1834.6 1584.5,1833.6 1576.9,1830.6 1578.2,1834.7 1579.4,1830.6 1572.2,1827.6 1573.5,1828.0 1574.8,1827.6 1566.7,1824.5 1568.8,1825.7 1570.8,1824.5 1562.1,1821.5 1564.1,1822.5 1566.1,1821.5 1557.5,1818.5 1559.4,1818.9 1561.2,1818.5 1553.0,1815.4 1554.6,1816.3 1556.3,1815.4 1547.8,1812.4 1549.9,1814.1 1552.1,1812.4 1543.8,1809.4 1545.2,1810.2 1546.6,1809.4 1538.8,1806.3 1540.5,1806.5 1542.3,1806.3 1533.3,1803.3 1535.8,1803.5 1538.3,1803.3 1529.8,1800.3 1531.1,1801.2 1532.5,1800.3 1525.0,1797.3 1526.4,1797.5 1527.8,1797.3 1520.1,1794.2 1521.7,1794.9 1523.3,1794.2 1515.5,1791.2 1517.0,1792.0 1518.5,1791.2 1510.1,1788.2 1512.3,1791.4 1514.5,1788.2 1505.9,1785.1 1507.6,1785.7 1509.3,1785.1 1500.4,1782.1 1502.9,1782.3 1505.3,1782.1 1496.4,1779.1 1498.2,1782.0 1500.0,1779.1 1491.2,1776.1 1493.5,1776.9 1495.7,1776.1 1487.4,1773.0 1488.8,1774.0 1490.1,1773.0 1482.2,1770.0 1484.1,1772.6 1485.9,1770.0 1476.9,1767.0 1479.4,1767.4 1481.8,1767.0 1473.2,1763.9 1474.6,1765.0 1476.0,1763.9 1468.0,1760.9 1469.9,1761.1 1471.9,1760.9 1462.8,1757.9 1465.2,1762.2 1467.7,1757.9 1458.3,1754.8 1460.5,1760.2 1462.8,1754.8 1454.1,1751.8 1455.8,1752.1 1457.6,1751.8 1448.8,1748.8 1451.1,1751.8 1453.4,1748.8 1443.9,1745.8 1446.4,1751.1 1448.9,1745.8 1440.2,1742.7 1441.7,1745.1 1443.2,1742.7" fill="#2a0c02" fill-opacity="0.44"/>
<polygon points="1436.5,1734.5 1597.0,1840.2 1757.2,1733.2 1755.7,1736.7 1757.0,1736.8 1758.3,1736.7 1750.7,1739.8 1752.3,1746.2 1753.9,1739.8 1745.5,1742.9 1747.6,1743.2 1749.7,1742.9 1741.0,1746.1 1742.9,1748.8 1744.8,1746.1 1735.9,1749.2 1738.2,1749.8 1740.5,1749.2 1731.3,1752.3 1733.5,1753.0 1735.6,1752.3 1726.3,1755.4 1728.8,1756.1 1731.2,1755.4 1721.5,1758.5 1724.1,1758.9 1726.6,1758.5 1717.7,1761.6 1719.4,1764.7 1721.0,1761.6 1712.3,1764.8 1714.6,1765.4 1717.0,1764.8 1708.6,1767.9 1709.9,1768.3 1711.3,1767.9 1702.7,1771.0 1705.2,1771.9 1707.7,1771.0 1699.3,1774.1 1700.5,1775.0 1701.8,1774.1 1694.5,1777.2 1695.8,1778.2 1697.2,1777.2 1688.9,1780.3 1691.1,1781.2 1693.4,1780.3 1684.4,1783.5 1686.4,1785.2 1688.4,1783.5 1679.5,1786.6 1681.7,1792.1 1683.9,1786.6 1675.8,1789.7 1677.0,1790.2 1678.2,1789.7 1671.0,1792.8 1672.3,1795.6 1673.6,1792.8 1666.2,1795.9 1667.6,1803.4 1669.0,1795.9 1660.7,1799.1 1662.9,1799.8 1665.1,1799.1 1656.6,1802.2 1658.2,1802.2 1659.7,1802.2 1651.8,1805.3 1653.5,1805.6 1655.2,1805.3 1646.3,1808.4 1648.8,1809.1 1651.3,1808.4 1641.7,1811.5 1644.1,1811.6 1646.5,1811.5 1637.6,1814.6 1639.4,1815.1 1641.1,1814.6 1633.0,1817.8 1634.6,1820.3 1636.3,1817.8 1627.5,1820.9 1629.9,1820.9 1632.4,1820.9 1622.7,1824.0 1625.2,1824.8 1627.8,1824.0 1618.0,1827.1 1620.5,1828.2 1623.1,1827.1 1614.3,1830.2 1615.8,1830.3 1617.3,1830.2 1609.7,1833.3 1611.1,1833.6 1612.5,1833.3 1604.7,1836.5 1606.4,1836.8 1608.2,1836.5 1599.3,1839.6 1601.7,1843.0 1604.2,1839.6 1595.5,1842.7 1597.0,1843.0 1598.5,1842.7 1589.9,1839.7 1592.3,1840.3 1594.7,1839.7 1586.1,1836.6 1587.6,1837.4 1589.1,1836.6 1581.3,1833.6 1582.9,1834.6 1584.5,1833.6 1576.9,1830.6 1578.2,1834.7 1579.4,1830.6 1572.2,1827.6 1573.5,1828.0 1574.8,1827.6 1566.7,1824.5 1568.8,1825.7 1570.8,1824.5 1562.1,1821.5 1564.1,1822.5 1566.1,1821.5 1557.5,1818.5 1559.4,1818.9 1561.2,1818.5 1553.0,1815.4 1554.6,1816.3 1556.3,1815.4 1547.8,1812.4 1549.9,1814.1 1552.1,1812.4 1543.8,1809.4 1545.2,1810.2 1546.6,1809.4 1538.8,1806.3 1540.5,1806.5 1542.3,1806.3 1533.3,1803.3 1535.8,1803.5 1538.3,1803.3 1529.8,1800.3 1531.1,1801.2 1532.5,1800.3 1525.0,1797.3 1526.4,1797.5 1527.8,1797.3 1520.1,1794.2 1521.7,1794.9 1523.3,1794.2 1515.5,1791.2 1517.0,1792.0 1518.5,1791.2 1510.1,1788.2 1512.3,1791.4 1514.5,1788.2 1505.9,1785.1 1507.6,1785.7 1509.3,1785.1 1500.4,1782.1 1502.9,1782.3 1505.3,1782.1 1496.4,1779.1 1498.2,1782.0 1500.0,1779.1 1491.2,1776.1 1493.5,1776.9 1495.7,1776.1 1487.4,1773.0 1488.8,1774.0 1490.1,1773.0 1482.2,1770.0 1484.1,1772.6 1485.9,1770.0 1476.9,1767.0 1479.4,1767.4 1481.8,1767.0 1473.2,1763.9 1474.6,1765.0 1476.0,1763.9 1468.0,1760.9 1469.9,1761.1 1471.9,1760.9 1462.8,1757.9 1465.2,1762.2 1467.7,1757.9 1458.3,1754.8 1460.5,1760.2 1462.8,1754.8 1454.1,1751.8 1455.8,1752.1 1457.6,1751.8 1448.8,1748.8 1451.1,1751.8 1453.4,1748.8 1443.9,1745.8 1446.4,1751.1 1448.9,1745.8 1440.2,1742.7 1441.7,1745.1 1443.2,1742.7" fill="#2a0c02" fill-opacity="0.60"/>
<polyline points="1432.6,1683.5 1426.6,1683.5 1426.6,1737.7 1598.0,1854.9 1769.4,1737.7 1769.4,1729.7" fill="none" stroke="#000" stroke-width="2.0"/>
<line x1="1426.6" y1="1710.7" x2="1432.6" y2="1710.7" stroke="#000" stroke-width="2.0"/>
<line x1="1460.9" y1="1761.1" x2="1460.9" y2="1755.1" stroke="#000" stroke-width="1.6"/>
<line x1="1632.3" y1="1831.5" x2="1632.3" y2="1825.5" stroke="#000" stroke-width="1.6"/>
<line x1="1495.2" y1="1784.6" x2="1495.2" y2="1778.6" stroke="#000" stroke-width="1.6"/>
<line x1="1666.6" y1="1808.0" x2="1666.6" y2="1802.0" stroke="#000" stroke-width="1.6"/>
<line x1="1529.4" y1="1808.0" x2="1529.4" y2="1802.0" stroke="#000" stroke-width="1.6"/>
<line x1="1700.8" y1="1784.6" x2="1700.8" y2="1778.6" stroke="#000" stroke-width="1.6"/>
<line x1="1563.7" y1="1831.5" x2="1563.7" y2="1825.5" stroke="#000" stroke-width="1.6"/>
<line x1="1735.1" y1="1761.1" x2="1735.1" y2="1755.1" stroke="#000" stroke-width="1.6"/>
<text x="1420.5" y="1665.2" font-size="23.5" fill="#000" text-anchor="end" >nm</text>
<text x="1420.5" y="1692.7" font-size="23.5" fill="#000" text-anchor="end" >1.4</text>
<text x="1420.5" y="1718.0" font-size="23.5" fill="#000" text-anchor="end" >0.0</text>
<text x="1413.2" y="1756.6" font-size="23.5" fill="#000" text-anchor="middle" >1.0</text>
<text x="1443.5" y="1779.0" font-size="23.5" fill="#000" text-anchor="middle" >0.8</text>
<text x="1478.5" y="1802.9" font-size="23.5" fill="#000" text-anchor="middle" >0.6</text>
<text x="1515.0" y="1828.2" font-size="23.5" fill="#000" text-anchor="middle" >0.4</text>
<text x="1551.5" y="1852.1" font-size="23.5" fill="#000" text-anchor="middle" >0.2</text>
<text x="1645.7" y="1853.5" font-size="23.5" fill="#000" text-anchor="middle" >0.2</text>
<text x="1682.3" y="1830.5" font-size="23.5" fill="#000" text-anchor="middle" >0.4</text>
<text x="1716.0" y="1802.9" font-size="23.5" fill="#000" text-anchor="middle" >0.6</text>
<text x="1749.0" y="1779.9" font-size="23.5" fill="#000" text-anchor="middle" >0.8</text>
<text x="1781.3" y="1760.2" font-size="23.5" fill="#000" text-anchor="middle" >1.0</text>
<text x="1619.8" y="1881.7" font-size="23.5" fill="#000" text-anchor="middle" >0 µm</text>
<text x="319.0" y="1923.5" font-size="31" fill="#000" text-anchor="middle" >Ar</text>
<text x="745.0" y="1923.5" font-size="31" fill="#000" text-anchor="middle" >H<tspan font-size="19.2" dy="6.2">2</tspan><tspan dy="-6.1">O</tspan></text>
<text x="1180.0" y="1923.5" font-size="31" fill="#000" text-anchor="middle" >NH<tspan font-size="19.2" dy="6.2">3</tspan><tspan dy="-6.1">/H</tspan><tspan font-size="19.2" dy="6.2">2</tspan><tspan dy="-6.1">O</tspan></text>
<text x="1605.0" y="1923.5" font-size="31" fill="#000" text-anchor="middle" >Ternary</text>
<polygon points="259.6,844.8 262.4,843.5 265.2,844.8 265.7,841.6 267.6,839.6 269.6,841.6 271.0,838.5 272.9,838.2 274.7,838.5 275.4,835.4 278.1,830.2 280.7,835.4 280.7,832.3 283.3,831.7 285.9,832.3 285.7,829.2 288.5,828.4 291.3,829.2 291.6,826.0 293.7,825.6 295.8,826.0 297.2,822.9 298.9,818.2 300.6,822.9 301.8,819.8 304.1,818.8 306.4,819.8 307.2,816.7 309.3,816.6 311.4,816.7 313.2,813.6 314.5,806.8 315.9,813.6 317.7,810.4 319.7,809.7 321.8,810.4 322.7,807.3 324.9,806.9 327.2,807.3 327.4,804.2 330.2,804.0 333.0,804.2 333.7,801.1 335.4,799.8 337.0,801.1 338.3,798.0 340.6,797.4 342.9,798.0 343.1,794.8 345.8,793.5 348.5,794.8 349.5,791.7 351.0,790.3 352.5,791.7 354.4,788.6 356.2,787.6 358.0,788.6 360.1,785.5 361.4,784.6 362.7,785.5 365.0,782.4 366.6,778.4 368.3,782.4 369.1,779.2 371.8,777.3 374.5,779.2 374.3,776.1 377.0,763.6 379.7,776.1 379.6,773.0 382.2,771.2 384.9,773.0 384.8,769.9 387.5,768.6 390.1,769.9 391.3,766.8 392.7,758.8 394.0,766.8 396.3,763.6 397.9,763.1 399.4,763.6 401.7,760.5 403.1,756.1 404.5,760.5 405.7,757.4 408.3,756.7 410.9,757.4 411.9,754.3 413.5,753.7 415.1,754.3 416.3,751.2 418.7,750.4 421.1,751.2 421.9,748.0 423.9,747.8 425.9,748.0 426.9,744.9 429.1,743.7 431.4,744.9 432.0,741.8 434.3,741.1 436.7,741.8 437.0,738.7 439.5,729.3 442.1,738.7 442.0,741.9 444.8,741.1 447.5,741.9 447.4,745.0 450.0,743.9 452.6,745.0 452.7,748.2 455.3,747.8 457.8,748.2 458.7,751.4 460.5,750.7 462.3,751.4 463.6,754.6 465.7,753.1 467.9,754.6 468.7,757.8 471.0,757.1 473.3,757.8 474.3,760.9 476.2,759.6 478.2,760.9 479.9,764.1 481.5,762.6 483.1,764.1 484.4,767.3 486.7,765.2 489.0,767.3 490.3,770.5 492.0,770.4 493.6,770.5 495.7,773.7 497.2,770.9 498.7,773.7 500.7,776.9 502.4,776.5 504.1,776.9 505.9,780.0 507.7,779.6 509.4,780.0 510.3,783.2 512.9,781.6 515.6,783.2 515.7,786.4 518.2,785.1 520.6,786.4 522.0,789.6 523.4,788.8 524.8,789.6 526.4,792.8 528.6,788.2 530.9,792.8 531.4,795.9 533.9,794.3 536.4,795.9 537.1,799.1 539.1,797.9 541.1,799.1 542.0,802.3 544.4,800.9 546.7,802.3 547.6,805.5 549.6,801.1 551.6,805.5 553.1,808.7 554.8,805.7 556.6,808.7 558.4,811.8 560.1,810.4 561.8,811.8 562.7,815.0 565.3,812.5 567.9,815.0 568.9,818.2 570.6,816.5 572.2,818.2 574.0,821.4 575.8,819.9 577.6,821.4 579.6,824.6 581.1,824.4 582.5,824.6 583.8,827.8 586.3,820.2 588.7,827.8 589.5,830.9 591.5,829.3 593.5,830.9 595.4,834.1 596.8,831.5 598.2,834.1 600.0,837.3 602.0,825.8 604.0,837.3 605.8,840.5 607.3,837.0 608.7,840.5 610.7,843.7 612.5,843.5 614.3,843.7 617.7,846.8 614.3,860.4 616.6,860.9 619.0,860.4 609.7,863.6 611.5,868.2 613.2,863.6 604.8,866.8 606.3,867.1 607.8,866.8 599.7,870.1 601.1,871.2 602.5,870.1 594.3,873.3 595.9,874.2 597.6,873.3 588.2,876.6 590.8,877.9 593.4,876.6 583.6,879.8 585.6,880.8 587.5,879.8 578.9,883.1 580.4,883.7 581.9,883.1 573.2,886.3 575.2,887.3 577.3,886.3 567.6,889.5 570.1,890.7 572.5,889.5 563.2,892.8 564.9,895.9 566.6,892.8 558.0,896.0 559.7,897.2 561.4,896.0 552.9,899.3 554.5,899.6 556.2,899.3 547.3,902.5 549.3,902.7 551.4,902.5 541.3,905.8 544.2,906.5 547.0,905.8 537.5,909.0 539.0,911.0 540.5,909.0 532.3,912.2 533.8,912.8 535.3,912.2 526.0,915.5 528.6,924.8 531.3,915.5 521.8,918.7 523.5,920.0 525.1,918.7 516.6,922.0 518.3,931.3 519.9,922.0 510.9,925.2 513.1,925.7 515.3,925.2 506.1,928.4 507.9,928.8 509.8,928.4 500.3,931.7 502.8,932.2 505.3,931.7 494.9,934.9 497.6,935.6 500.2,934.9 490.1,938.2 492.4,938.8 494.7,938.2 485.3,941.4 487.2,947.7 489.1,941.4 480.4,944.7 482.1,945.8 483.7,944.7 475.4,947.9 476.9,949.3 478.4,947.9 470.1,951.1 471.7,951.5 473.3,951.1 465.2,954.4 466.5,955.1 467.9,954.4 459.4,957.6 461.3,958.6 463.3,957.6 454.6,960.9 456.2,961.7 457.7,960.9 449.3,964.1 451.0,964.3 452.6,964.1 444.1,967.4 445.8,973.1 447.5,967.4 438.0,970.6 440.6,973.6 443.2,970.6 433.5,967.4 435.5,968.7 437.4,967.4 427.9,964.3 430.3,965.5 432.7,964.3 422.8,961.1 425.1,965.4 427.5,961.1 417.2,958.0 419.9,958.6 422.7,958.0 412.0,954.8 414.8,955.7 417.5,954.8 407.4,951.7 409.6,952.8 411.7,951.7 402.7,948.5 404.4,948.9 406.1,948.5 397.5,945.4 399.2,945.6 401.0,945.4 391.5,942.2 394.1,943.4 396.6,942.2 387.0,939.1 388.9,939.3 390.8,939.1 381.2,935.9 383.7,936.7 386.2,935.9 375.7,932.8 378.5,933.4 381.3,932.8 370.6,929.6 373.3,929.7 376.1,929.6 366.6,926.5 368.2,927.6 369.8,926.5 361.7,923.3 363.0,924.3 364.3,923.3 356.3,920.2 357.8,921.7 359.3,920.2 350.4,917.0 352.6,917.1 354.9,917.0 345.2,913.9 347.5,915.0 349.7,913.9 340.1,910.7 342.3,911.6 344.5,910.7 334.8,907.6 337.1,911.3 339.4,907.6 329.7,904.4 331.9,904.8 334.2,904.4 324.9,901.3 326.8,906.3 328.6,901.3 319.0,898.1 321.6,898.6 324.2,898.1 313.8,895.0 316.4,895.5 319.1,895.0 308.5,891.8 311.2,892.4 314.0,891.8 304.6,888.7 306.1,893.6 307.5,888.7 298.8,885.5 300.9,886.3 302.9,885.5 293.9,882.4 295.7,889.6 297.5,882.4 288.3,879.2 290.5,879.8 292.7,879.2 282.9,876.1 285.3,879.4 287.8,876.1 277.6,872.9 280.2,877.7 282.8,872.9 272.9,869.8 275.0,873.2 277.1,869.8 268.3,866.6 269.8,867.7 271.3,866.6" fill="#8a5a20" filter="url(#afmC)"/>
<g clip-path="url(#clip253_861)"><g filter="url(#blur6)">
<ellipse cx="498.0" cy="791.0" rx="11.0" ry="13.0" fill="#f0e4e4" fill-opacity="0.95" transform="rotate(0 498.0 791.0)"/>
<ellipse cx="428.0" cy="852.0" rx="32.0" ry="10.0" fill="#f2ecea" fill-opacity="0.95" transform="rotate(-33 428.0 852.0)"/>
<ellipse cx="506.0" cy="847.0" rx="10.0" ry="11.0" fill="#f8f6f4" fill-opacity="1" transform="rotate(0 506.0 847.0)"/>
<ellipse cx="356.0" cy="878.0" rx="13.0" ry="7.0" fill="#e8dcd8" fill-opacity="0.9" transform="rotate(0 356.0 878.0)"/>
<ellipse cx="398.0" cy="903.0" rx="8.0" ry="12.0" fill="#ece4dc" fill-opacity="0.9" transform="rotate(0 398.0 903.0)"/>
<ellipse cx="368.0" cy="922.0" rx="8.0" ry="6.0" fill="#1a0a04" fill-opacity="0.9" transform="rotate(0 368.0 922.0)"/>
<ellipse cx="330.0" cy="845.0" rx="6.0" ry="10.0" fill="#e0d8c8" fill-opacity="0.7" transform="rotate(0 330.0 845.0)"/>
</g>
</g>
<polygon points="262.8,847.6 440.6,961.8 617.6,848.9 614.3,860.4 616.6,860.9 619.0,860.4 609.7,863.6 611.5,868.2 613.2,863.6 604.8,866.8 606.3,867.1 607.8,866.8 599.7,870.1 601.1,871.2 602.5,870.1 594.3,873.3 595.9,874.2 597.6,873.3 588.2,876.6 590.8,877.9 593.4,876.6 583.6,879.8 585.6,880.8 587.5,879.8 578.9,883.1 580.4,883.7 581.9,883.1 573.2,886.3 575.2,887.3 577.3,886.3 567.6,889.5 570.1,890.7 572.5,889.5 563.2,892.8 564.9,895.9 566.6,892.8 558.0,896.0 559.7,897.2 561.4,896.0 552.9,899.3 554.5,899.6 556.2,899.3 547.3,902.5 549.3,902.7 551.4,902.5 541.3,905.8 544.2,906.5 547.0,905.8 537.5,909.0 539.0,911.0 540.5,909.0 532.3,912.2 533.8,912.8 535.3,912.2 526.0,915.5 528.6,924.8 531.3,915.5 521.8,918.7 523.5,920.0 525.1,918.7 516.6,922.0 518.3,931.3 519.9,922.0 510.9,925.2 513.1,925.7 515.3,925.2 506.1,928.4 507.9,928.8 509.8,928.4 500.3,931.7 502.8,932.2 505.3,931.7 494.9,934.9 497.6,935.6 500.2,934.9 490.1,938.2 492.4,938.8 494.7,938.2 485.3,941.4 487.2,947.7 489.1,941.4 480.4,944.7 482.1,945.8 483.7,944.7 475.4,947.9 476.9,949.3 478.4,947.9 470.1,951.1 471.7,951.5 473.3,951.1 465.2,954.4 466.5,955.1 467.9,954.4 459.4,957.6 461.3,958.6 463.3,957.6 454.6,960.9 456.2,961.7 457.7,960.9 449.3,964.1 451.0,964.3 452.6,964.1 444.1,967.4 445.8,973.1 447.5,967.4 438.0,970.6 440.6,973.6 443.2,970.6 433.5,967.4 435.5,968.7 437.4,967.4 427.9,964.3 430.3,965.5 432.7,964.3 422.8,961.1 425.1,965.4 427.5,961.1 417.2,958.0 419.9,958.6 422.7,958.0 412.0,954.8 414.8,955.7 417.5,954.8 407.4,951.7 409.6,952.8 411.7,951.7 402.7,948.5 404.4,948.9 406.1,948.5 397.5,945.4 399.2,945.6 401.0,945.4 391.5,942.2 394.1,943.4 396.6,942.2 387.0,939.1 388.9,939.3 390.8,939.1 381.2,935.9 383.7,936.7 386.2,935.9 375.7,932.8 378.5,933.4 381.3,932.8 370.6,929.6 373.3,929.7 376.1,929.6 366.6,926.5 368.2,927.6 369.8,926.5 361.7,923.3 363.0,924.3 364.3,923.3 356.3,920.2 357.8,921.7 359.3,920.2 350.4,917.0 352.6,917.1 354.9,917.0 345.2,913.9 347.5,915.0 349.7,913.9 340.1,910.7 342.3,911.6 344.5,910.7 334.8,907.6 337.1,911.3 339.4,907.6 329.7,904.4 331.9,904.8 334.2,904.4 324.9,901.3 326.8,906.3 328.6,901.3 319.0,898.1 321.6,898.6 324.2,898.1 313.8,895.0 316.4,895.5 319.1,895.0 308.5,891.8 311.2,892.4 314.0,891.8 304.6,888.7 306.1,893.6 307.5,888.7 298.8,885.5 300.9,886.3 302.9,885.5 293.9,882.4 295.7,889.6 297.5,882.4 288.3,879.2 290.5,879.8 292.7,879.2 282.9,876.1 285.3,879.4 287.8,876.1 277.6,872.9 280.2,877.7 282.8,872.9 272.9,869.8 275.0,873.2 277.1,869.8 268.3,866.6 269.8,867.7 271.3,866.6" fill="#2a0c02" fill-opacity="0.36"/>
<polygon points="263.4,853.2 440.6,964.9 617.2,852.9 614.3,860.4 616.6,860.9 619.0,860.4 609.7,863.6 611.5,868.2 613.2,863.6 604.8,866.8 606.3,867.1 607.8,866.8 599.7,870.1 601.1,871.2 602.5,870.1 594.3,873.3 595.9,874.2 597.6,873.3 588.2,876.6 590.8,877.9 593.4,876.6 583.6,879.8 585.6,880.8 587.5,879.8 578.9,883.1 580.4,883.7 581.9,883.1 573.2,886.3 575.2,887.3 577.3,886.3 567.6,889.5 570.1,890.7 572.5,889.5 563.2,892.8 564.9,895.9 566.6,892.8 558.0,896.0 559.7,897.2 561.4,896.0 552.9,899.3 554.5,899.6 556.2,899.3 547.3,902.5 549.3,902.7 551.4,902.5 541.3,905.8 544.2,906.5 547.0,905.8 537.5,909.0 539.0,911.0 540.5,909.0 532.3,912.2 533.8,912.8 535.3,912.2 526.0,915.5 528.6,924.8 531.3,915.5 521.8,918.7 523.5,920.0 525.1,918.7 516.6,922.0 518.3,931.3 519.9,922.0 510.9,925.2 513.1,925.7 515.3,925.2 506.1,928.4 507.9,928.8 509.8,928.4 500.3,931.7 502.8,932.2 505.3,931.7 494.9,934.9 497.6,935.6 500.2,934.9 490.1,938.2 492.4,938.8 494.7,938.2 485.3,941.4 487.2,947.7 489.1,941.4 480.4,944.7 482.1,945.8 483.7,944.7 475.4,947.9 476.9,949.3 478.4,947.9 470.1,951.1 471.7,951.5 473.3,951.1 465.2,954.4 466.5,955.1 467.9,954.4 459.4,957.6 461.3,958.6 463.3,957.6 454.6,960.9 456.2,961.7 457.7,960.9 449.3,964.1 451.0,964.3 452.6,964.1 444.1,967.4 445.8,973.1 447.5,967.4 438.0,970.6 440.6,973.6 443.2,970.6 433.5,967.4 435.5,968.7 437.4,967.4 427.9,964.3 430.3,965.5 432.7,964.3 422.8,961.1 425.1,965.4 427.5,961.1 417.2,958.0 419.9,958.6 422.7,958.0 412.0,954.8 414.8,955.7 417.5,954.8 407.4,951.7 409.6,952.8 411.7,951.7 402.7,948.5 404.4,948.9 406.1,948.5 397.5,945.4 399.2,945.6 401.0,945.4 391.5,942.2 394.1,943.4 396.6,942.2 387.0,939.1 388.9,939.3 390.8,939.1 381.2,935.9 383.7,936.7 386.2,935.9 375.7,932.8 378.5,933.4 381.3,932.8 370.6,929.6 373.3,929.7 376.1,929.6 366.6,926.5 368.2,927.6 369.8,926.5 361.7,923.3 363.0,924.3 364.3,923.3 356.3,920.2 357.8,921.7 359.3,920.2 350.4,917.0 352.6,917.1 354.9,917.0 345.2,913.9 347.5,915.0 349.7,913.9 340.1,910.7 342.3,911.6 344.5,910.7 334.8,907.6 337.1,911.3 339.4,907.6 329.7,904.4 331.9,904.8 334.2,904.4 324.9,901.3 326.8,906.3 328.6,901.3 319.0,898.1 321.6,898.6 324.2,898.1 313.8,895.0 316.4,895.5 319.1,895.0 308.5,891.8 311.2,892.4 314.0,891.8 304.6,888.7 306.1,893.6 307.5,888.7 298.8,885.5 300.9,886.3 302.9,885.5 293.9,882.4 295.7,889.6 297.5,882.4 288.3,879.2 290.5,879.8 292.7,879.2 282.9,876.1 285.3,879.4 287.8,876.1 277.6,872.9 280.2,877.7 282.8,872.9 272.9,869.8 275.0,873.2 277.1,869.8 268.3,866.6 269.8,867.7 271.3,866.6" fill="#2a0c02" fill-opacity="0.44"/>
<polygon points="264.1,858.8 440.6,968.0 616.9,857.0 614.3,860.4 616.6,860.9 619.0,860.4 609.7,863.6 611.5,868.2 613.2,863.6 604.8,866.8 606.3,867.1 607.8,866.8 599.7,870.1 601.1,871.2 602.5,870.1 594.3,873.3 595.9,874.2 597.6,873.3 588.2,876.6 590.8,877.9 593.4,876.6 583.6,879.8 585.6,880.8 587.5,879.8 578.9,883.1 580.4,883.7 581.9,883.1 573.2,886.3 575.2,887.3 577.3,886.3 567.6,889.5 570.1,890.7 572.5,889.5 563.2,892.8 564.9,895.9 566.6,892.8 558.0,896.0 559.7,897.2 561.4,896.0 552.9,899.3 554.5,899.6 556.2,899.3 547.3,902.5 549.3,902.7 551.4,902.5 541.3,905.8 544.2,906.5 547.0,905.8 537.5,909.0 539.0,911.0 540.5,909.0 532.3,912.2 533.8,912.8 535.3,912.2 526.0,915.5 528.6,924.8 531.3,915.5 521.8,918.7 523.5,920.0 525.1,918.7 516.6,922.0 518.3,931.3 519.9,922.0 510.9,925.2 513.1,925.7 515.3,925.2 506.1,928.4 507.9,928.8 509.8,928.4 500.3,931.7 502.8,932.2 505.3,931.7 494.9,934.9 497.6,935.6 500.2,934.9 490.1,938.2 492.4,938.8 494.7,938.2 485.3,941.4 487.2,947.7 489.1,941.4 480.4,944.7 482.1,945.8 483.7,944.7 475.4,947.9 476.9,949.3 478.4,947.9 470.1,951.1 471.7,951.5 473.3,951.1 465.2,954.4 466.5,955.1 467.9,954.4 459.4,957.6 461.3,958.6 463.3,957.6 454.6,960.9 456.2,961.7 457.7,960.9 449.3,964.1 451.0,964.3 452.6,964.1 444.1,967.4 445.8,973.1 447.5,967.4 438.0,970.6 440.6,973.6 443.2,970.6 433.5,967.4 435.5,968.7 437.4,967.4 427.9,964.3 430.3,965.5 432.7,964.3 422.8,961.1 425.1,965.4 427.5,961.1 417.2,958.0 419.9,958.6 422.7,958.0 412.0,954.8 414.8,955.7 417.5,954.8 407.4,951.7 409.6,952.8 411.7,951.7 402.7,948.5 404.4,948.9 406.1,948.5 397.5,945.4 399.2,945.6 401.0,945.4 391.5,942.2 394.1,943.4 396.6,942.2 387.0,939.1 388.9,939.3 390.8,939.1 381.2,935.9 383.7,936.7 386.2,935.9 375.7,932.8 378.5,933.4 381.3,932.8 370.6,929.6 373.3,929.7 376.1,929.6 366.6,926.5 368.2,927.6 369.8,926.5 361.7,923.3 363.0,924.3 364.3,923.3 356.3,920.2 357.8,921.7 359.3,920.2 350.4,917.0 352.6,917.1 354.9,917.0 345.2,913.9 347.5,915.0 349.7,913.9 340.1,910.7 342.3,911.6 344.5,910.7 334.8,907.6 337.1,911.3 339.4,907.6 329.7,904.4 331.9,904.8 334.2,904.4 324.9,901.3 326.8,906.3 328.6,901.3 319.0,898.1 321.6,898.6 324.2,898.1 313.8,895.0 316.4,895.5 319.1,895.0 308.5,891.8 311.2,892.4 314.0,891.8 304.6,888.7 306.1,893.6 307.5,888.7 298.8,885.5 300.9,886.3 302.9,885.5 293.9,882.4 295.7,889.6 297.5,882.4 288.3,879.2 290.5,879.8 292.7,879.2 282.9,876.1 285.3,879.4 287.8,876.1 277.6,872.9 280.2,877.7 282.8,872.9 272.9,869.8 275.0,873.2 277.1,869.8 268.3,866.6 269.8,867.7 271.3,866.6" fill="#2a0c02" fill-opacity="0.60"/>
<polyline points="259.8,805.0 253.2,805.0 253.2,861.4 441.7,983.3 630.3,861.4 630.3,852.6" fill="none" stroke="#000" stroke-width="2.0"/>
<line x1="253.2" y1="833.3" x2="259.8" y2="833.3" stroke="#000" stroke-width="2.0"/>
<line x1="290.9" y1="885.8" x2="290.9" y2="879.2" stroke="#000" stroke-width="1.6"/>
<line x1="479.4" y1="958.9" x2="479.4" y2="952.3" stroke="#000" stroke-width="1.6"/>
<line x1="328.6" y1="910.2" x2="328.6" y2="903.6" stroke="#000" stroke-width="1.6"/>
<line x1="517.2" y1="934.5" x2="517.2" y2="927.9" stroke="#000" stroke-width="1.6"/>
<line x1="366.3" y1="934.5" x2="366.3" y2="927.9" stroke="#000" stroke-width="1.6"/>
<line x1="554.9" y1="910.2" x2="554.9" y2="903.6" stroke="#000" stroke-width="1.6"/>
<line x1="404.0" y1="958.9" x2="404.0" y2="952.3" stroke="#000" stroke-width="1.6"/>
<line x1="592.6" y1="885.8" x2="592.6" y2="879.2" stroke="#000" stroke-width="1.6"/>
<text x="249.8" y="786.0" font-size="23" fill="#000" text-anchor="end" >nm</text>
<text x="249.8" y="814.6" font-size="23" fill="#000" text-anchor="end" >1.6</text>
<text x="249.8" y="840.9" font-size="23" fill="#000" text-anchor="end" >0.1</text>
<text x="238.5" y="881.1" font-size="23" fill="#000" text-anchor="middle" >1.0</text>
<text x="271.8" y="904.4" font-size="23" fill="#000" text-anchor="middle" >0.8</text>
<text x="310.3" y="929.2" font-size="23" fill="#000" text-anchor="middle" >0.6</text>
<text x="350.4" y="955.5" font-size="23" fill="#000" text-anchor="middle" >0.4</text>
<text x="390.6" y="980.4" font-size="23" fill="#000" text-anchor="middle" >0.2</text>
<text x="494.2" y="981.8" font-size="23" fill="#000" text-anchor="middle" >0.2</text>
<text x="534.5" y="957.9" font-size="23" fill="#000" text-anchor="middle" >0.4</text>
<text x="571.5" y="929.2" font-size="23" fill="#000" text-anchor="middle" >0.6</text>
<text x="607.8" y="905.3" font-size="23" fill="#000" text-anchor="middle" >0.8</text>
<text x="643.4" y="884.8" font-size="23" fill="#000" text-anchor="middle" >1.0</text>
<text x="465.7" y="1011.2" font-size="23" fill="#000" text-anchor="middle" >0 µm</text>
<polygon points="1183.5,837.0 1186.2,831.7 1188.9,837.0 1189.5,834.2 1191.3,833.4 1193.1,834.2 1193.7,831.5 1196.4,831.4 1199.2,831.5 1200.0,828.7 1201.6,819.6 1203.1,828.7 1204.4,826.0 1206.7,821.2 1209.0,826.0 1209.3,823.2 1211.8,821.6 1214.3,823.2 1215.6,820.4 1216.9,819.9 1218.2,820.4 1220.5,817.7 1222.1,817.5 1223.7,817.7 1225.2,814.9 1227.2,814.0 1229.2,814.9 1230.0,812.2 1232.3,811.5 1234.6,812.2 1234.6,809.4 1237.4,807.6 1240.2,809.4 1240.1,806.7 1242.5,806.6 1245.0,806.7 1245.6,803.9 1247.7,803.3 1249.7,803.9 1250.9,801.2 1252.8,800.5 1254.7,801.2 1255.4,798.4 1257.9,790.3 1260.5,798.4 1261.0,795.6 1263.0,794.9 1265.1,795.6 1265.6,792.9 1268.2,791.9 1270.8,792.9 1270.7,790.1 1273.3,785.9 1275.9,790.1 1276.5,787.4 1278.4,787.3 1280.3,787.4 1281.9,784.6 1283.5,784.4 1285.2,784.6 1286.7,781.9 1288.7,781.7 1290.6,781.9 1291.8,779.1 1293.8,778.7 1295.8,779.1 1297.0,776.3 1298.9,775.4 1300.9,776.3 1302.1,773.6 1304.0,772.0 1306.0,773.6 1306.9,770.8 1309.2,759.8 1311.5,770.8 1311.9,768.1 1314.3,764.3 1316.7,768.1 1317.2,765.3 1319.4,758.5 1321.6,765.3 1322.4,762.6 1324.5,758.8 1326.7,762.6 1327.2,759.8 1329.6,756.5 1332.1,759.8 1332.6,757.0 1334.8,756.6 1336.9,757.0 1337.4,754.3 1339.9,749.5 1342.4,754.3 1342.9,751.5 1345.0,751.2 1347.2,751.5 1347.9,748.8 1350.1,740.8 1352.4,748.8 1352.9,746.0 1355.3,738.8 1357.6,746.0 1357.7,743.3 1360.4,742.2 1363.0,743.3 1363.6,746.1 1365.5,746.1 1367.5,746.1 1369.4,749.0 1370.7,745.9 1372.0,749.0 1373.0,751.9 1375.9,750.8 1378.7,751.9 1379.5,754.8 1381.0,754.6 1382.6,754.8 1384.5,757.6 1386.2,756.6 1387.8,757.6 1389.2,760.5 1391.3,756.0 1393.5,760.5 1394.1,763.4 1396.5,763.1 1398.8,763.4 1400.0,766.3 1401.6,766.2 1403.2,766.3 1404.9,769.2 1406.8,765.9 1408.7,769.2 1409.4,772.0 1411.9,765.7 1414.5,772.0 1415.1,774.9 1417.1,764.9 1419.1,774.9 1420.1,777.8 1422.3,777.8 1424.5,777.8 1424.9,780.7 1427.4,780.6 1429.9,780.7 1430.3,783.6 1432.6,783.5 1434.9,783.6 1435.4,786.4 1437.7,785.9 1440.1,786.4 1440.7,789.3 1442.9,779.2 1445.1,789.3 1445.8,792.2 1448.0,779.8 1450.3,792.2 1450.6,795.1 1453.2,790.9 1455.8,795.1 1456.3,797.9 1458.3,797.2 1460.3,797.9 1460.7,800.8 1463.5,799.5 1466.3,800.8 1466.7,803.7 1468.7,803.3 1470.6,803.7 1471.8,806.6 1473.8,805.5 1475.9,806.6 1476.3,809.5 1479.0,808.6 1481.6,809.5 1482.6,812.3 1484.1,811.1 1485.6,812.3 1487.5,815.2 1489.3,814.4 1491.1,815.2 1493.0,818.1 1494.4,817.6 1495.9,818.1 1497.4,821.0 1499.6,814.6 1501.8,821.0 1502.0,823.8 1504.7,814.4 1507.4,823.8 1507.9,826.7 1509.9,825.7 1511.9,826.7 1512.3,829.6 1515.1,829.4 1517.8,829.6 1518.0,832.5 1520.2,826.1 1522.4,832.5 1523.0,835.4 1525.4,834.7 1527.8,835.4 1529.2,838.2 1530.5,834.0 1531.8,838.2 1535.7,841.1 1532.1,863.8 1534.6,864.3 1537.1,863.8 1527.0,867.0 1529.5,868.1 1532.0,867.0 1522.0,870.2 1524.4,871.1 1526.8,870.2 1517.2,873.4 1519.3,874.6 1521.5,873.4 1511.7,876.6 1514.2,877.0 1516.7,876.6 1507.2,879.8 1509.1,882.4 1511.1,879.8 1501.9,883.0 1504.0,883.5 1506.2,883.0 1496.4,886.2 1499.0,886.7 1501.5,886.2 1491.8,889.5 1493.9,891.8 1495.9,889.5 1486.0,892.7 1488.8,893.1 1491.5,892.7 1482.1,895.9 1483.7,898.5 1485.3,895.9 1476.3,899.1 1478.6,899.5 1480.9,899.1 1471.0,902.3 1473.5,903.6 1476.0,902.3 1467.0,905.5 1468.4,906.5 1469.8,905.5 1461.0,908.7 1463.3,916.1 1465.6,908.7 1455.6,911.9 1458.2,912.7 1460.8,911.9 1450.4,915.1 1453.1,915.8 1455.9,915.1 1446.5,918.4 1448.0,919.9 1449.6,918.4 1440.6,921.6 1442.9,924.1 1445.3,921.6 1435.1,924.8 1437.8,924.9 1440.6,924.8 1430.8,928.0 1432.8,928.7 1434.7,928.0 1425.9,931.2 1427.7,934.4 1429.4,931.2 1420.8,934.4 1422.6,937.1 1424.4,934.4 1415.1,937.6 1417.5,943.1 1419.9,937.6 1409.8,940.8 1412.4,941.1 1415.0,940.8 1404.8,944.0 1407.3,945.3 1409.8,944.0 1400.8,947.3 1402.2,948.5 1403.6,947.3 1394.5,950.5 1397.1,950.6 1399.8,950.5 1389.3,953.7 1392.0,955.4 1394.8,953.7 1384.6,956.9 1386.9,957.2 1389.3,956.9 1379.4,960.1 1381.8,960.2 1384.2,960.1 1374.7,963.3 1376.7,964.3 1378.8,963.3 1370.2,966.5 1371.7,967.0 1373.1,966.5 1364.3,969.7 1366.6,971.2 1368.8,969.7 1360.0,972.9 1361.5,973.2 1362.9,972.9 1354.6,969.8 1356.4,971.7 1358.1,969.8 1348.7,966.7 1351.3,976.0 1353.9,966.7 1344.0,963.6 1346.2,963.7 1348.4,963.6 1338.9,960.5 1341.1,960.8 1343.3,960.5 1334.5,957.3 1336.0,958.1 1337.5,957.3 1328.7,954.2 1330.9,956.8 1333.1,954.2 1323.8,951.1 1325.8,958.6 1327.9,951.1 1319.4,948.0 1320.7,948.0 1322.1,948.0 1313.4,944.9 1315.6,945.1 1317.9,944.9 1308.4,941.7 1310.6,942.8 1312.7,941.7 1303.6,938.6 1305.5,939.7 1307.4,938.6 1297.7,935.5 1300.4,935.8 1303.0,935.5 1293.2,932.4 1295.3,933.5 1297.4,932.4 1288.8,929.3 1290.2,930.2 1291.6,929.3 1282.8,926.1 1285.1,926.8 1287.4,926.1 1278.1,923.0 1280.0,923.7 1281.9,923.0 1272.4,919.9 1274.9,920.9 1277.5,919.9 1267.2,916.8 1269.8,926.1 1272.5,916.8 1262.7,913.7 1264.7,913.9 1266.8,913.7 1257.3,910.5 1259.6,912.3 1261.9,910.5 1253.1,907.4 1254.5,908.1 1256.0,907.4 1247.9,904.3 1249.5,906.0 1251.0,904.3 1242.3,901.2 1244.4,901.7 1246.4,901.2 1237.7,898.1 1239.3,899.2 1240.9,898.1 1232.0,894.9 1234.2,895.4 1236.3,894.9 1227.2,891.8 1229.1,892.8 1231.0,891.8 1222.2,888.7 1224.0,889.9 1225.8,888.7 1217.4,885.6 1218.9,885.7 1220.4,885.6 1212.3,882.5 1213.8,884.8 1215.3,882.5 1206.7,879.3 1208.7,880.3 1210.8,879.3 1201.5,876.2 1203.6,877.1 1205.8,876.2 1196.5,873.1 1198.5,882.4 1200.5,873.1 1191.8,870.0 1193.4,871.2 1195.1,870.0" fill="#8a5a20" filter="url(#afmU2)"/>
<g clip-path="url(#clip1177_864)"><g filter="url(#blur6)">
<ellipse cx="1385.0" cy="842.0" rx="50.0" ry="26.0" fill="#c8a020" fill-opacity="0.75" transform="rotate(0 1385.0 842.0)"/>
<ellipse cx="1300.0" cy="830.0" rx="40.0" ry="25.0" fill="#c09a28" fill-opacity="0.7" transform="rotate(0 1300.0 830.0)"/>
<ellipse cx="1350.0" cy="780.0" rx="36.0" ry="22.0" fill="#8a2a10" fill-opacity="0.8" transform="rotate(0 1350.0 780.0)"/>
<ellipse cx="1453.0" cy="805.0" rx="40.0" ry="22.0" fill="#7a2010" fill-opacity="0.85" transform="rotate(0 1453.0 805.0)"/>
<ellipse cx="1240.0" cy="860.0" rx="18.0" ry="32.0" fill="#3a0e06" fill-opacity="0.8" transform="rotate(0 1240.0 860.0)"/>
<ellipse cx="1283.0" cy="898.0" rx="28.0" ry="30.0" fill="#8a2a12" fill-opacity="0.8" transform="rotate(0 1283.0 898.0)"/>
<ellipse cx="1388.0" cy="918.0" rx="24.0" ry="28.0" fill="#8a3414" fill-opacity="0.75" transform="rotate(0 1388.0 918.0)"/>
<ellipse cx="1200.0" cy="845.0" rx="12.0" ry="10.0" fill="#c09030" fill-opacity="0.7" transform="rotate(0 1200.0 845.0)"/>
<ellipse cx="1420.0" cy="760.0" rx="20.0" ry="14.0" fill="#a04818" fill-opacity="0.6" transform="rotate(0 1420.0 760.0)"/>
<ellipse cx="1330.0" cy="940.0" rx="18.0" ry="12.0" fill="#8a3010" fill-opacity="0.6" transform="rotate(0 1330.0 940.0)"/>
<ellipse cx="1262.0" cy="792.0" rx="16.0" ry="13.0" fill="#f2ead0" fill-opacity="0.9" transform="rotate(0 1262.0 792.0)"/>
<ellipse cx="1262.0" cy="830.0" rx="20.0" ry="20.0" fill="#efe6c4" fill-opacity="0.9" transform="rotate(0 1262.0 830.0)"/>
<ellipse cx="1375.0" cy="806.0" rx="20.0" ry="13.0" fill="#f0e8cc" fill-opacity="0.9" transform="rotate(0 1375.0 806.0)"/>
<ellipse cx="1318.0" cy="868.0" rx="17.0" ry="18.0" fill="#ebe0b8" fill-opacity="0.85" transform="rotate(0 1318.0 868.0)"/>
<ellipse cx="1435.0" cy="876.0" rx="9.0" ry="11.0" fill="#f0e8d0" fill-opacity="0.85" transform="rotate(0 1435.0 876.0)"/>
<ellipse cx="1340.0" cy="740.0" rx="18.0" ry="10.0" fill="#b87828" fill-opacity="0.6" transform="rotate(0 1340.0 740.0)"/>
</g>
</g>
<polygon points="1186.5,841.5 1361.5,964.2 1535.5,844.5 1532.1,863.8 1534.6,864.3 1537.1,863.8 1527.0,867.0 1529.5,868.1 1532.0,867.0 1522.0,870.2 1524.4,871.1 1526.8,870.2 1517.2,873.4 1519.3,874.6 1521.5,873.4 1511.7,876.6 1514.2,877.0 1516.7,876.6 1507.2,879.8 1509.1,882.4 1511.1,879.8 1501.9,883.0 1504.0,883.5 1506.2,883.0 1496.4,886.2 1499.0,886.7 1501.5,886.2 1491.8,889.5 1493.9,891.8 1495.9,889.5 1486.0,892.7 1488.8,893.1 1491.5,892.7 1482.1,895.9 1483.7,898.5 1485.3,895.9 1476.3,899.1 1478.6,899.5 1480.9,899.1 1471.0,902.3 1473.5,903.6 1476.0,902.3 1467.0,905.5 1468.4,906.5 1469.8,905.5 1461.0,908.7 1463.3,916.1 1465.6,908.7 1455.6,911.9 1458.2,912.7 1460.8,911.9 1450.4,915.1 1453.1,915.8 1455.9,915.1 1446.5,918.4 1448.0,919.9 1449.6,918.4 1440.6,921.6 1442.9,924.1 1445.3,921.6 1435.1,924.8 1437.8,924.9 1440.6,924.8 1430.8,928.0 1432.8,928.7 1434.7,928.0 1425.9,931.2 1427.7,934.4 1429.4,931.2 1420.8,934.4 1422.6,937.1 1424.4,934.4 1415.1,937.6 1417.5,943.1 1419.9,937.6 1409.8,940.8 1412.4,941.1 1415.0,940.8 1404.8,944.0 1407.3,945.3 1409.8,944.0 1400.8,947.3 1402.2,948.5 1403.6,947.3 1394.5,950.5 1397.1,950.6 1399.8,950.5 1389.3,953.7 1392.0,955.4 1394.8,953.7 1384.6,956.9 1386.9,957.2 1389.3,956.9 1379.4,960.1 1381.8,960.2 1384.2,960.1 1374.7,963.3 1376.7,964.3 1378.8,963.3 1370.2,966.5 1371.7,967.0 1373.1,966.5 1364.3,969.7 1366.6,971.2 1368.8,969.7 1360.0,972.9 1361.5,973.2 1362.9,972.9 1354.6,969.8 1356.4,971.7 1358.1,969.8 1348.7,966.7 1351.3,976.0 1353.9,966.7 1344.0,963.6 1346.2,963.7 1348.4,963.6 1338.9,960.5 1341.1,960.8 1343.3,960.5 1334.5,957.3 1336.0,958.1 1337.5,957.3 1328.7,954.2 1330.9,956.8 1333.1,954.2 1323.8,951.1 1325.8,958.6 1327.9,951.1 1319.4,948.0 1320.7,948.0 1322.1,948.0 1313.4,944.9 1315.6,945.1 1317.9,944.9 1308.4,941.7 1310.6,942.8 1312.7,941.7 1303.6,938.6 1305.5,939.7 1307.4,938.6 1297.7,935.5 1300.4,935.8 1303.0,935.5 1293.2,932.4 1295.3,933.5 1297.4,932.4 1288.8,929.3 1290.2,930.2 1291.6,929.3 1282.8,926.1 1285.1,926.8 1287.4,926.1 1278.1,923.0 1280.0,923.7 1281.9,923.0 1272.4,919.9 1274.9,920.9 1277.5,919.9 1267.2,916.8 1269.8,926.1 1272.5,916.8 1262.7,913.7 1264.7,913.9 1266.8,913.7 1257.3,910.5 1259.6,912.3 1261.9,910.5 1253.1,907.4 1254.5,908.1 1256.0,907.4 1247.9,904.3 1249.5,906.0 1251.0,904.3 1242.3,901.2 1244.4,901.7 1246.4,901.2 1237.7,898.1 1239.3,899.2 1240.9,898.1 1232.0,894.9 1234.2,895.4 1236.3,894.9 1227.2,891.8 1229.1,892.8 1231.0,891.8 1222.2,888.7 1224.0,889.9 1225.8,888.7 1217.4,885.6 1218.9,885.7 1220.4,885.6 1212.3,882.5 1213.8,884.8 1215.3,882.5 1206.7,879.3 1208.7,880.3 1210.8,879.3 1201.5,876.2 1203.6,877.1 1205.8,876.2 1196.5,873.1 1198.5,882.4 1200.5,873.1 1191.8,870.0 1193.4,871.2 1195.1,870.0" fill="#2a0c02" fill-opacity="0.36"/>
<polygon points="1187.2,850.4 1361.5,967.3 1535.2,851.3 1532.1,863.8 1534.6,864.3 1537.1,863.8 1527.0,867.0 1529.5,868.1 1532.0,867.0 1522.0,870.2 1524.4,871.1 1526.8,870.2 1517.2,873.4 1519.3,874.6 1521.5,873.4 1511.7,876.6 1514.2,877.0 1516.7,876.6 1507.2,879.8 1509.1,882.4 1511.1,879.8 1501.9,883.0 1504.0,883.5 1506.2,883.0 1496.4,886.2 1499.0,886.7 1501.5,886.2 1491.8,889.5 1493.9,891.8 1495.9,889.5 1486.0,892.7 1488.8,893.1 1491.5,892.7 1482.1,895.9 1483.7,898.5 1485.3,895.9 1476.3,899.1 1478.6,899.5 1480.9,899.1 1471.0,902.3 1473.5,903.6 1476.0,902.3 1467.0,905.5 1468.4,906.5 1469.8,905.5 1461.0,908.7 1463.3,916.1 1465.6,908.7 1455.6,911.9 1458.2,912.7 1460.8,911.9 1450.4,915.1 1453.1,915.8 1455.9,915.1 1446.5,918.4 1448.0,919.9 1449.6,918.4 1440.6,921.6 1442.9,924.1 1445.3,921.6 1435.1,924.8 1437.8,924.9 1440.6,924.8 1430.8,928.0 1432.8,928.7 1434.7,928.0 1425.9,931.2 1427.7,934.4 1429.4,931.2 1420.8,934.4 1422.6,937.1 1424.4,934.4 1415.1,937.6 1417.5,943.1 1419.9,937.6 1409.8,940.8 1412.4,941.1 1415.0,940.8 1404.8,944.0 1407.3,945.3 1409.8,944.0 1400.8,947.3 1402.2,948.5 1403.6,947.3 1394.5,950.5 1397.1,950.6 1399.8,950.5 1389.3,953.7 1392.0,955.4 1394.8,953.7 1384.6,956.9 1386.9,957.2 1389.3,956.9 1379.4,960.1 1381.8,960.2 1384.2,960.1 1374.7,963.3 1376.7,964.3 1378.8,963.3 1370.2,966.5 1371.7,967.0 1373.1,966.5 1364.3,969.7 1366.6,971.2 1368.8,969.7 1360.0,972.9 1361.5,973.2 1362.9,972.9 1354.6,969.8 1356.4,971.7 1358.1,969.8 1348.7,966.7 1351.3,976.0 1353.9,966.7 1344.0,963.6 1346.2,963.7 1348.4,963.6 1338.9,960.5 1341.1,960.8 1343.3,960.5 1334.5,957.3 1336.0,958.1 1337.5,957.3 1328.7,954.2 1330.9,956.8 1333.1,954.2 1323.8,951.1 1325.8,958.6 1327.9,951.1 1319.4,948.0 1320.7,948.0 1322.1,948.0 1313.4,944.9 1315.6,945.1 1317.9,944.9 1308.4,941.7 1310.6,942.8 1312.7,941.7 1303.6,938.6 1305.5,939.7 1307.4,938.6 1297.7,935.5 1300.4,935.8 1303.0,935.5 1293.2,932.4 1295.3,933.5 1297.4,932.4 1288.8,929.3 1290.2,930.2 1291.6,929.3 1282.8,926.1 1285.1,926.8 1287.4,926.1 1278.1,923.0 1280.0,923.7 1281.9,923.0 1272.4,919.9 1274.9,920.9 1277.5,919.9 1267.2,916.8 1269.8,926.1 1272.5,916.8 1262.7,913.7 1264.7,913.9 1266.8,913.7 1257.3,910.5 1259.6,912.3 1261.9,910.5 1253.1,907.4 1254.5,908.1 1256.0,907.4 1247.9,904.3 1249.5,906.0 1251.0,904.3 1242.3,901.2 1244.4,901.7 1246.4,901.2 1237.7,898.1 1239.3,899.2 1240.9,898.1 1232.0,894.9 1234.2,895.4 1236.3,894.9 1227.2,891.8 1229.1,892.8 1231.0,891.8 1222.2,888.7 1224.0,889.9 1225.8,888.7 1217.4,885.6 1218.9,885.7 1220.4,885.6 1212.3,882.5 1213.8,884.8 1215.3,882.5 1206.7,879.3 1208.7,880.3 1210.8,879.3 1201.5,876.2 1203.6,877.1 1205.8,876.2 1196.5,873.1 1198.5,882.4 1200.5,873.1 1191.8,870.0 1193.4,871.2 1195.1,870.0" fill="#2a0c02" fill-opacity="0.44"/>
<polygon points="1187.8,859.4 1361.5,970.4 1534.9,858.1 1532.1,863.8 1534.6,864.3 1537.1,863.8 1527.0,867.0 1529.5,868.1 1532.0,867.0 1522.0,870.2 1524.4,871.1 1526.8,870.2 1517.2,873.4 1519.3,874.6 1521.5,873.4 1511.7,876.6 1514.2,877.0 1516.7,876.6 1507.2,879.8 1509.1,882.4 1511.1,879.8 1501.9,883.0 1504.0,883.5 1506.2,883.0 1496.4,886.2 1499.0,886.7 1501.5,886.2 1491.8,889.5 1493.9,891.8 1495.9,889.5 1486.0,892.7 1488.8,893.1 1491.5,892.7 1482.1,895.9 1483.7,898.5 1485.3,895.9 1476.3,899.1 1478.6,899.5 1480.9,899.1 1471.0,902.3 1473.5,903.6 1476.0,902.3 1467.0,905.5 1468.4,906.5 1469.8,905.5 1461.0,908.7 1463.3,916.1 1465.6,908.7 1455.6,911.9 1458.2,912.7 1460.8,911.9 1450.4,915.1 1453.1,915.8 1455.9,915.1 1446.5,918.4 1448.0,919.9 1449.6,918.4 1440.6,921.6 1442.9,924.1 1445.3,921.6 1435.1,924.8 1437.8,924.9 1440.6,924.8 1430.8,928.0 1432.8,928.7 1434.7,928.0 1425.9,931.2 1427.7,934.4 1429.4,931.2 1420.8,934.4 1422.6,937.1 1424.4,934.4 1415.1,937.6 1417.5,943.1 1419.9,937.6 1409.8,940.8 1412.4,941.1 1415.0,940.8 1404.8,944.0 1407.3,945.3 1409.8,944.0 1400.8,947.3 1402.2,948.5 1403.6,947.3 1394.5,950.5 1397.1,950.6 1399.8,950.5 1389.3,953.7 1392.0,955.4 1394.8,953.7 1384.6,956.9 1386.9,957.2 1389.3,956.9 1379.4,960.1 1381.8,960.2 1384.2,960.1 1374.7,963.3 1376.7,964.3 1378.8,963.3 1370.2,966.5 1371.7,967.0 1373.1,966.5 1364.3,969.7 1366.6,971.2 1368.8,969.7 1360.0,972.9 1361.5,973.2 1362.9,972.9 1354.6,969.8 1356.4,971.7 1358.1,969.8 1348.7,966.7 1351.3,976.0 1353.9,966.7 1344.0,963.6 1346.2,963.7 1348.4,963.6 1338.9,960.5 1341.1,960.8 1343.3,960.5 1334.5,957.3 1336.0,958.1 1337.5,957.3 1328.7,954.2 1330.9,956.8 1333.1,954.2 1323.8,951.1 1325.8,958.6 1327.9,951.1 1319.4,948.0 1320.7,948.0 1322.1,948.0 1313.4,944.9 1315.6,945.1 1317.9,944.9 1308.4,941.7 1310.6,942.8 1312.7,941.7 1303.6,938.6 1305.5,939.7 1307.4,938.6 1297.7,935.5 1300.4,935.8 1303.0,935.5 1293.2,932.4 1295.3,933.5 1297.4,932.4 1288.8,929.3 1290.2,930.2 1291.6,929.3 1282.8,926.1 1285.1,926.8 1287.4,926.1 1278.1,923.0 1280.0,923.7 1281.9,923.0 1272.4,919.9 1274.9,920.9 1277.5,919.9 1267.2,916.8 1269.8,926.1 1272.5,916.8 1262.7,913.7 1264.7,913.9 1266.8,913.7 1257.3,910.5 1259.6,912.3 1261.9,910.5 1253.1,907.4 1254.5,908.1 1256.0,907.4 1247.9,904.3 1249.5,906.0 1251.0,904.3 1242.3,901.2 1244.4,901.7 1246.4,901.2 1237.7,898.1 1239.3,899.2 1240.9,898.1 1232.0,894.9 1234.2,895.4 1236.3,894.9 1227.2,891.8 1229.1,892.8 1231.0,891.8 1222.2,888.7 1224.0,889.9 1225.8,888.7 1217.4,885.6 1218.9,885.7 1220.4,885.6 1212.3,882.5 1213.8,884.8 1215.3,882.5 1206.7,879.3 1208.7,880.3 1210.8,879.3 1201.5,876.2 1203.6,877.1 1205.8,876.2 1196.5,873.1 1198.5,882.4 1200.5,873.1 1191.8,870.0 1193.4,871.2 1195.1,870.0" fill="#2a0c02" fill-opacity="0.60"/>
<polyline points="1183.6,809.0 1177.1,809.0 1177.1,864.8 1362.6,985.5 1548.0,864.8 1548.0,856.1" fill="none" stroke="#000" stroke-width="2.0"/>
<line x1="1177.1" y1="837.0" x2="1183.6" y2="837.0" stroke="#000" stroke-width="2.0"/>
<line x1="1214.2" y1="888.9" x2="1214.2" y2="882.5" stroke="#000" stroke-width="1.6"/>
<line x1="1399.6" y1="961.4" x2="1399.6" y2="954.9" stroke="#000" stroke-width="1.6"/>
<line x1="1251.3" y1="913.1" x2="1251.3" y2="906.6" stroke="#000" stroke-width="1.6"/>
<line x1="1436.7" y1="937.2" x2="1436.7" y2="930.7" stroke="#000" stroke-width="1.6"/>
<line x1="1288.4" y1="937.2" x2="1288.4" y2="930.7" stroke="#000" stroke-width="1.6"/>
<line x1="1473.8" y1="913.1" x2="1473.8" y2="906.6" stroke="#000" stroke-width="1.6"/>
<line x1="1325.5" y1="961.4" x2="1325.5" y2="954.9" stroke="#000" stroke-width="1.6"/>
<line x1="1510.9" y1="888.9" x2="1510.9" y2="882.5" stroke="#000" stroke-width="1.6"/>
<text x="1173.7" y="790.1" font-size="23" fill="#000" text-anchor="end" >nm</text>
<text x="1173.7" y="818.4" font-size="23" fill="#000" text-anchor="end" >8.1</text>
<text x="1173.7" y="844.5" font-size="23" fill="#000" text-anchor="end" >−0.9</text>
<text x="1162.6" y="884.3" font-size="23" fill="#000" text-anchor="middle" >1.0</text>
<text x="1195.4" y="907.3" font-size="23" fill="#000" text-anchor="middle" >0.8</text>
<text x="1233.3" y="932.0" font-size="23" fill="#000" text-anchor="middle" >0.6</text>
<text x="1272.7" y="958.0" font-size="23" fill="#000" text-anchor="middle" >0.4</text>
<text x="1312.2" y="982.6" font-size="23" fill="#000" text-anchor="middle" >0.2</text>
<text x="1414.2" y="984.1" font-size="23" fill="#000" text-anchor="middle" >0.2</text>
<text x="1453.8" y="960.4" font-size="23" fill="#000" text-anchor="middle" >0.4</text>
<text x="1490.2" y="932.0" font-size="23" fill="#000" text-anchor="middle" >0.6</text>
<text x="1525.9" y="908.3" font-size="23" fill="#000" text-anchor="middle" >0.8</text>
<text x="1560.9" y="888.0" font-size="23" fill="#000" text-anchor="middle" >1.0</text>
<text x="1386.1" y="1013.1" font-size="23" fill="#000" text-anchor="middle" >0 µm</text>
<rect x="99.8" y="644.3" width="794.3000000000001" height="575.8" fill="none" stroke="#000" stroke-width="3.2"/>
<line x1="99.8" y1="703.3" x2="111.8" y2="703.3" stroke="#000" stroke-width="3.2"/>
<text x="89.8" y="714.5" font-size="30.5" fill="#000" text-anchor="end" >0.8</text>
<line x1="99.8" y1="777.1" x2="111.8" y2="777.1" stroke="#000" stroke-width="3.2"/>
<text x="89.8" y="788.3" font-size="30.5" fill="#000" text-anchor="end" >0.7</text>
<line x1="99.8" y1="850.9" x2="111.8" y2="850.9" stroke="#000" stroke-width="3.2"/>
<text x="89.8" y="862.1" font-size="30.5" fill="#000" text-anchor="end" >0.6</text>
<line x1="99.8" y1="924.8" x2="111.8" y2="924.8" stroke="#000" stroke-width="3.2"/>
<text x="89.8" y="936.0" font-size="30.5" fill="#000" text-anchor="end" >0.5</text>
<line x1="99.8" y1="998.6" x2="111.8" y2="998.6" stroke="#000" stroke-width="3.2"/>
<text x="89.8" y="1009.8" font-size="30.5" fill="#000" text-anchor="end" >0.4</text>
<line x1="99.8" y1="1072.4" x2="111.8" y2="1072.4" stroke="#000" stroke-width="3.2"/>
<text x="89.8" y="1083.6" font-size="30.5" fill="#000" text-anchor="end" >0.3</text>
<line x1="99.8" y1="1146.3" x2="111.8" y2="1146.3" stroke="#000" stroke-width="3.2"/>
<text x="89.8" y="1157.5" font-size="30.5" fill="#000" text-anchor="end" >0.2</text>
<line x1="99.8" y1="1220.1" x2="111.8" y2="1220.1" stroke="#000" stroke-width="3.2"/>
<text x="89.8" y="1231.3" font-size="30.5" fill="#000" text-anchor="end" >0.1</text>
<line x1="139.0" y1="1220.1" x2="139.0" y2="1209.1" stroke="#000" stroke-width="3.2"/>
<text x="139.0" y="1253.0" font-size="30.5" fill="#000" text-anchor="middle" >0</text>
<line x1="258.1" y1="1220.1" x2="258.1" y2="1209.1" stroke="#000" stroke-width="3.2"/>
<text x="258.1" y="1253.0" font-size="30.5" fill="#000" text-anchor="middle" >30</text>
<line x1="377.2" y1="1220.1" x2="377.2" y2="1209.1" stroke="#000" stroke-width="3.2"/>
<text x="377.2" y="1253.0" font-size="30.5" fill="#000" text-anchor="middle" >60</text>
<line x1="496.3" y1="1220.1" x2="496.3" y2="1209.1" stroke="#000" stroke-width="3.2"/>
<text x="496.3" y="1253.0" font-size="30.5" fill="#000" text-anchor="middle" >90</text>
<line x1="615.4" y1="1220.1" x2="615.4" y2="1209.1" stroke="#000" stroke-width="3.2"/>
<text x="615.4" y="1253.0" font-size="30.5" fill="#000" text-anchor="middle" >120</text>
<line x1="734.5" y1="1220.1" x2="734.5" y2="1209.1" stroke="#000" stroke-width="3.2"/>
<text x="734.5" y="1253.0" font-size="30.5" fill="#000" text-anchor="middle" >150</text>
<line x1="853.6" y1="1220.1" x2="853.6" y2="1209.1" stroke="#000" stroke-width="3.2"/>
<text x="853.6" y="1253.0" font-size="30.5" fill="#000" text-anchor="middle" >180</text>
<rect x="1029.6" y="644.3" width="781.8000000000002" height="578.4000000000001" fill="none" stroke="#000" stroke-width="3.2"/>
<line x1="1029.6" y1="689.2" x2="1041.6" y2="689.2" stroke="#000" stroke-width="3.2"/>
<text x="1019.6" y="700.4" font-size="30.5" fill="#000" text-anchor="end" >1.8</text>
<line x1="1029.6" y1="773.5" x2="1041.6" y2="773.5" stroke="#000" stroke-width="3.2"/>
<text x="1019.6" y="784.7" font-size="30.5" fill="#000" text-anchor="end" >1.5</text>
<line x1="1029.6" y1="857.8" x2="1041.6" y2="857.8" stroke="#000" stroke-width="3.2"/>
<text x="1019.6" y="869.0" font-size="30.5" fill="#000" text-anchor="end" >1.2</text>
<line x1="1029.6" y1="942.1" x2="1041.6" y2="942.1" stroke="#000" stroke-width="3.2"/>
<text x="1019.6" y="953.3" font-size="30.5" fill="#000" text-anchor="end" >0.9</text>
<line x1="1029.6" y1="1026.4" x2="1041.6" y2="1026.4" stroke="#000" stroke-width="3.2"/>
<text x="1019.6" y="1037.6" font-size="30.5" fill="#000" text-anchor="end" >0.6</text>
<line x1="1029.6" y1="1110.7" x2="1041.6" y2="1110.7" stroke="#000" stroke-width="3.2"/>
<text x="1019.6" y="1121.9" font-size="30.5" fill="#000" text-anchor="end" >0.3</text>
<line x1="1029.6" y1="1195.0" x2="1041.6" y2="1195.0" stroke="#000" stroke-width="3.2"/>
<text x="1019.6" y="1206.2" font-size="30.5" fill="#000" text-anchor="end" >0.0</text>
<line x1="1068.1" y1="1222.7" x2="1068.1" y2="1211.7" stroke="#000" stroke-width="3.2"/>
<text x="1068.1" y="1253.0" font-size="30.5" fill="#000" text-anchor="middle" >0</text>
<line x1="1185.6" y1="1222.7" x2="1185.6" y2="1211.7" stroke="#000" stroke-width="3.2"/>
<text x="1185.6" y="1253.0" font-size="30.5" fill="#000" text-anchor="middle" >30</text>
<line x1="1303.1" y1="1222.7" x2="1303.1" y2="1211.7" stroke="#000" stroke-width="3.2"/>
<text x="1303.1" y="1253.0" font-size="30.5" fill="#000" text-anchor="middle" >60</text>
<line x1="1420.6" y1="1222.7" x2="1420.6" y2="1211.7" stroke="#000" stroke-width="3.2"/>
<text x="1420.6" y="1253.0" font-size="30.5" fill="#000" text-anchor="middle" >90</text>
<line x1="1538.1" y1="1222.7" x2="1538.1" y2="1211.7" stroke="#000" stroke-width="3.2"/>
<text x="1538.1" y="1253.0" font-size="30.5" fill="#000" text-anchor="middle" >120</text>
<line x1="1655.6" y1="1222.7" x2="1655.6" y2="1211.7" stroke="#000" stroke-width="3.2"/>
<text x="1655.6" y="1253.0" font-size="30.5" fill="#000" text-anchor="middle" >150</text>
<line x1="1773.2" y1="1222.7" x2="1773.2" y2="1211.7" stroke="#000" stroke-width="3.2"/>
<text x="1773.2" y="1253.0" font-size="30.5" fill="#000" text-anchor="middle" >180</text>
<polyline points="139.0,762.4 258.1,1107.1 377.2,1109.4 496.3,1150.0 615.4,1129.3 734.5,1120.4 853.6,1135.9" fill="none" stroke="#44508e" stroke-width="2.8" stroke-dasharray="14,9"/>
<path d="M496.3,1164.7V1135.2M490.3,1164.7h12M490.3,1135.2h12" stroke="#44508e" stroke-width="2.2" fill="none"/>
<path d="M615.4,1138.9V1116.7M609.4,1138.9h12M609.4,1116.7h12" stroke="#44508e" stroke-width="2.2" fill="none"/>
<path d="M734.5,1130.0V1113.0M728.5,1130.0h12M728.5,1113.0h12" stroke="#44508e" stroke-width="2.2" fill="none"/>
<path d="M853.6,1146.3V1124.1M847.6,1146.3h12M847.6,1124.1h12" stroke="#44508e" stroke-width="2.2" fill="none"/>
<rect x="132.0" y="755.4" width="14.0" height="14.0" fill="#fff" stroke="#44508e" stroke-width="2.0"/>
<rect x="251.1" y="1100.2" width="14.0" height="14.0" fill="#fff" stroke="#44508e" stroke-width="2.0"/>
<rect x="370.2" y="1102.4" width="14.0" height="14.0" fill="#fff" stroke="#44508e" stroke-width="2.0"/>
<rect x="489.3" y="1143.0" width="14.0" height="14.0" fill="#fff" stroke="#44508e" stroke-width="2.0"/>
<rect x="608.4" y="1122.3" width="14.0" height="14.0" fill="#fff" stroke="#44508e" stroke-width="2.0"/>
<rect x="727.5" y="1113.5" width="14.0" height="14.0" fill="#fff" stroke="#44508e" stroke-width="2.0"/>
<rect x="846.6" y="1129.0" width="14.0" height="14.0" fill="#fff" stroke="#44508e" stroke-width="2.0"/>
<polyline points="139.0,762.4 258.1,1129.3 377.2,1120.4 496.3,1132.2 615.4,1135.9 734.5,1135.9 853.6,1135.9" fill="none" stroke="#3dab6e" stroke-width="2.8" stroke-dasharray="6,5"/>
<circle cx="139.0" cy="762.4" r="6.4" fill="#fff" stroke="#3dab6e" stroke-width="2.0"/>
<circle cx="258.1" cy="1129.3" r="6.4" fill="#fff" stroke="#3dab6e" stroke-width="2.0"/>
<circle cx="377.2" cy="1120.4" r="6.4" fill="#fff" stroke="#3dab6e" stroke-width="2.0"/>
<circle cx="496.3" cy="1132.2" r="6.4" fill="#fff" stroke="#3dab6e" stroke-width="2.0"/>
<circle cx="615.4" cy="1135.9" r="6.4" fill="#fff" stroke="#3dab6e" stroke-width="2.0"/>
<circle cx="734.5" cy="1135.9" r="6.4" fill="#fff" stroke="#3dab6e" stroke-width="2.0"/>
<circle cx="853.6" cy="1135.9" r="6.4" fill="#fff" stroke="#3dab6e" stroke-width="2.0"/>
<polyline points="139.0,762.4 258.1,946.9 377.2,1119.7 496.3,1110.8 615.4,1124.1 734.5,1124.1 853.6,1120.4" fill="none" stroke="#f7982a" stroke-width="2.8" stroke-dasharray="12,6,3,6"/>
<path d="M258.1,972.8V921.1M252.1,972.8h12M252.1,921.1h12" stroke="#f7982a" stroke-width="2.2" fill="none"/>
<path d="M853.6,1131.5V1109.4M847.6,1131.5h12M847.6,1109.4h12" stroke="#f7982a" stroke-width="2.2" fill="none"/>
<polygon points="139.0,755.2 146.2,769.6 131.8,769.6" fill="#fff" stroke="#f7982a" stroke-width="2.0"/>
<polygon points="258.1,939.7 265.3,954.1 250.9,954.1" fill="#fff" stroke="#f7982a" stroke-width="2.0"/>
<polygon points="377.2,1112.5 384.4,1126.9 370.0,1126.9" fill="#fff" stroke="#f7982a" stroke-width="2.0"/>
<polygon points="496.3,1103.6 503.5,1118.0 489.1,1118.0" fill="#fff" stroke="#f7982a" stroke-width="2.0"/>
<polygon points="615.4,1116.9 622.6,1131.3 608.2,1131.3" fill="#fff" stroke="#f7982a" stroke-width="2.0"/>
<polygon points="734.5,1116.9 741.7,1131.3 727.3,1131.3" fill="#fff" stroke="#f7982a" stroke-width="2.0"/>
<polygon points="853.6,1113.2 860.8,1127.6 846.4,1127.6" fill="#fff" stroke="#f7982a" stroke-width="2.0"/>
<polyline points="139.0,762.4 258.1,1132.2 377.2,1121.9 496.3,1122.6 615.4,1135.2 734.5,1138.1 853.6,1147.0" fill="none" stroke="#cc6210" stroke-width="2.8" />
<path d="M139.0,828.8V692.2M133.0,828.8h12M133.0,692.2h12" stroke="#cc6210" stroke-width="2.2" fill="none"/>
<path d="M377.2,1127.8V1116.7M371.2,1127.8h12M371.2,1116.7h12" stroke="#cc6210" stroke-width="2.2" fill="none"/>
<path d="M615.4,1142.6V1116.7M609.4,1142.6h12M609.4,1116.7h12" stroke="#cc6210" stroke-width="2.2" fill="none"/>
<path d="M853.6,1153.7V1138.9M847.6,1153.7h12M847.6,1138.9h12" stroke="#cc6210" stroke-width="2.2" fill="none"/>
<polygon points="139.0,755.4 146.0,762.4 139.0,769.3 132.0,762.4" fill="#fff" stroke="#cc6210" stroke-width="2.0"/>
<polygon points="258.1,1125.3 265.1,1132.2 258.1,1139.2 251.1,1132.2" fill="#fff" stroke="#cc6210" stroke-width="2.0"/>
<polygon points="377.2,1114.9 384.2,1121.9 377.2,1128.9 370.2,1121.9" fill="#fff" stroke="#cc6210" stroke-width="2.0"/>
<polygon points="496.3,1115.7 503.3,1122.6 496.3,1129.6 489.3,1122.6" fill="#fff" stroke="#cc6210" stroke-width="2.0"/>
<polygon points="615.4,1128.2 622.4,1135.2 615.4,1142.2 608.4,1135.2" fill="#fff" stroke="#cc6210" stroke-width="2.0"/>
<polygon points="734.5,1131.2 741.5,1138.1 734.5,1145.1 727.5,1138.1" fill="#fff" stroke="#cc6210" stroke-width="2.0"/>
<polygon points="853.6,1140.0 860.6,1147.0 853.6,1154.0 846.6,1147.0" fill="#fff" stroke="#cc6210" stroke-width="2.0"/>
<polyline points="1068.1,756.6 1185.6,1142.5 1303.1,1146.1 1420.6,1142.5 1538.1,1149.5 1655.6,1146.1 1773.2,1150.3" fill="none" stroke="#8b4536" stroke-width="3.5" stroke-dasharray="16,8"/>
<rect x="1061.1" y="749.7" width="14.0" height="14.0" fill="#fff" stroke="#8b4536" stroke-width="2.0"/>
<rect x="1178.6" y="1135.5" width="14.0" height="14.0" fill="#fff" stroke="#8b4536" stroke-width="2.0"/>
<rect x="1296.1" y="1139.1" width="14.0" height="14.0" fill="#fff" stroke="#8b4536" stroke-width="2.0"/>
<rect x="1413.7" y="1135.5" width="14.0" height="14.0" fill="#fff" stroke="#8b4536" stroke-width="2.0"/>
<rect x="1531.2" y="1142.5" width="14.0" height="14.0" fill="#fff" stroke="#8b4536" stroke-width="2.0"/>
<rect x="1648.7" y="1139.1" width="14.0" height="14.0" fill="#fff" stroke="#8b4536" stroke-width="2.0"/>
<rect x="1766.2" y="1143.3" width="14.0" height="14.0" fill="#fff" stroke="#8b4536" stroke-width="2.0"/>
<polyline points="1068.1,756.6 1185.6,1141.6 1303.1,1152.3 1420.6,1149.5 1538.1,1121.7 1655.6,1130.1 1773.2,1130.1" fill="none" stroke="#c98050" stroke-width="2.8" stroke-dasharray="6,6"/>
<circle cx="1068.1" cy="756.6" r="6.4" fill="#fff" stroke="#c98050" stroke-width="2.0"/>
<circle cx="1185.6" cy="1141.6" r="6.4" fill="#fff" stroke="#c98050" stroke-width="2.0"/>
<circle cx="1303.1" cy="1152.3" r="6.4" fill="#fff" stroke="#c98050" stroke-width="2.0"/>
<circle cx="1420.6" cy="1149.5" r="6.4" fill="#fff" stroke="#c98050" stroke-width="2.0"/>
<circle cx="1538.1" cy="1121.7" r="6.4" fill="#fff" stroke="#c98050" stroke-width="2.0"/>
<circle cx="1655.6" cy="1130.1" r="6.4" fill="#fff" stroke="#c98050" stroke-width="2.0"/>
<circle cx="1773.2" cy="1130.1" r="6.4" fill="#fff" stroke="#c98050" stroke-width="2.0"/>
<polyline points="1068.1,756.6 1185.6,1131.8 1303.1,1137.1 1420.6,1136.6 1538.1,1136.6 1655.6,1135.4 1773.2,1138.8" fill="none" stroke="#80b4da" stroke-width="2.8" stroke-dasharray="14,6,3,6"/>
<polygon points="1068.1,749.4 1075.3,763.8 1060.9,763.8" fill="#fff" stroke="#80b4da" stroke-width="2.0"/>
<polygon points="1185.6,1124.6 1192.8,1139.0 1178.4,1139.0" fill="#fff" stroke="#80b4da" stroke-width="2.0"/>
<polygon points="1303.1,1129.9 1310.3,1144.3 1295.9,1144.3" fill="#fff" stroke="#80b4da" stroke-width="2.0"/>
<polygon points="1420.6,1129.4 1427.8,1143.8 1413.4,1143.8" fill="#fff" stroke="#80b4da" stroke-width="2.0"/>
<polygon points="1538.1,1129.4 1545.3,1143.8 1530.9,1143.8" fill="#fff" stroke="#80b4da" stroke-width="2.0"/>
<polygon points="1655.6,1128.2 1662.8,1142.6 1648.4,1142.6" fill="#fff" stroke="#80b4da" stroke-width="2.0"/>
<polygon points="1773.2,1131.6 1780.4,1146.0 1766.0,1146.0" fill="#fff" stroke="#80b4da" stroke-width="2.0"/>
<polyline points="1068.1,756.6 1185.6,1139.9 1303.1,1140.5 1420.6,1146.7 1538.1,1152.3 1655.6,1150.6 1773.2,1154.3" fill="none" stroke="#4a70a5" stroke-width="2.8" />
<path d="M1068.1,835.3V678.0M1062.1,835.3h12M1062.1,678.0h12" stroke="#4a70a5" stroke-width="2.2" fill="none"/>
<path d="M1185.6,1155.7V1127.6M1179.6,1155.7h12M1179.6,1127.6h12" stroke="#4a70a5" stroke-width="2.2" fill="none"/>
<path d="M1303.1,1147.2V1133.2M1297.1,1147.2h12M1297.1,1133.2h12" stroke="#4a70a5" stroke-width="2.2" fill="none"/>
<path d="M1538.1,1158.5V1147.2M1532.1,1158.5h12M1532.1,1147.2h12" stroke="#4a70a5" stroke-width="2.2" fill="none"/>
<path d="M1655.6,1158.5V1144.4M1649.6,1158.5h12M1649.6,1144.4h12" stroke="#4a70a5" stroke-width="2.2" fill="none"/>
<path d="M1773.2,1158.5V1150.0M1767.2,1158.5h12M1767.2,1150.0h12" stroke="#4a70a5" stroke-width="2.2" fill="none"/>
<polygon points="1068.1,749.7 1075.1,756.6 1068.1,763.6 1061.1,756.6" fill="#fff" stroke="#4a70a5" stroke-width="2.0"/>
<polygon points="1185.6,1132.9 1192.6,1139.9 1185.6,1146.9 1178.6,1139.9" fill="#fff" stroke="#4a70a5" stroke-width="2.0"/>
<polygon points="1303.1,1133.5 1310.1,1140.5 1303.1,1147.5 1296.1,1140.5" fill="#fff" stroke="#4a70a5" stroke-width="2.0"/>
<polygon points="1420.6,1139.7 1427.6,1146.7 1420.6,1153.6 1413.7,1146.7" fill="#fff" stroke="#4a70a5" stroke-width="2.0"/>
<polygon points="1538.1,1145.3 1545.1,1152.3 1538.1,1159.3 1531.2,1152.3" fill="#fff" stroke="#4a70a5" stroke-width="2.0"/>
<polygon points="1655.6,1143.6 1662.6,1150.6 1655.6,1157.6 1648.7,1150.6" fill="#fff" stroke="#4a70a5" stroke-width="2.0"/>
<polygon points="1773.2,1147.3 1780.1,1154.3 1773.2,1161.2 1766.2,1154.3" fill="#fff" stroke="#4a70a5" stroke-width="2.0"/>
<line x1="639" y1="936.3" x2="725" y2="936.3" stroke="#44508e" stroke-width="3" stroke-dasharray="14,9"/>
<rect x="670.2" y="920.8" width="31.0" height="31.0" fill="#fff" stroke="#44508e" stroke-width="3.0"/>
<text x="730.0" y="946.3" font-size="31" fill="#44508e" text-anchor="start" >Ar</text>
<line x1="639" y1="981.5" x2="725" y2="981.5" stroke="#3dab6e" stroke-width="3" stroke-dasharray="6,5"/>
<circle cx="685.7" cy="981.5" r="14.3" fill="#fff" stroke="#3dab6e" stroke-width="3.0"/>
<text x="730.0" y="991.5" font-size="31" fill="#3dab6e" text-anchor="start" >H<tspan font-size="19.2" dy="6.2">2</tspan><tspan dy="-6.1">O</tspan></text>
<line x1="639" y1="1028.6" x2="725" y2="1028.6" stroke="#f7982a" stroke-width="3" />
<polygon points="685.7,1013.6 701.7,1045.6 669.7,1045.6" fill="#fff" stroke="#f7982a" stroke-width="3.0"/>
<text x="730.0" y="1038.6" font-size="31" fill="#f7982a" text-anchor="start" >NH<tspan font-size="19.2" dy="6.2">3</tspan><tspan dy="-6.1">/H</tspan><tspan font-size="19.2" dy="6.2">2</tspan><tspan dy="-6.1">O</tspan></text>
<line x1="639" y1="1075" x2="725" y2="1075" stroke="#cc6210" stroke-width="3" />
<polygon points="685.7,1059.5 701.2,1075.0 685.7,1090.5 670.2,1075.0" fill="#fff" stroke="#cc6210" stroke-width="3.0"/>
<text x="730.0" y="1085.0" font-size="31" fill="#cc6210" text-anchor="start" >Ternary</text>
<line x1="1562" y1="936.3" x2="1648" y2="936.3" stroke="#8b4536" stroke-width="3" stroke-dasharray="14,9"/>
<rect x="1593.2" y="920.8" width="31.0" height="31.0" fill="#fff" stroke="#8b4536" stroke-width="3.0"/>
<text x="1653.0" y="946.3" font-size="31" fill="#8b4536" text-anchor="start" >Ar</text>
<line x1="1562" y1="981.5" x2="1648" y2="981.5" stroke="#c98050" stroke-width="3" stroke-dasharray="6,5"/>
<circle cx="1608.7" cy="981.5" r="14.3" fill="#fff" stroke="#c98050" stroke-width="3.0"/>
<text x="1653.0" y="991.5" font-size="31" fill="#c98050" text-anchor="start" >H<tspan font-size="19.2" dy="6.2">2</tspan><tspan dy="-6.1">O</tspan></text>
<line x1="1562" y1="1028.6" x2="1648" y2="1028.6" stroke="#80b4da" stroke-width="3" />
<polygon points="1608.7,1013.6 1624.7,1045.6 1592.7,1045.6" fill="#fff" stroke="#80b4da" stroke-width="3.0"/>
<text x="1653.0" y="1038.6" font-size="31" fill="#80b4da" text-anchor="start" >NH<tspan font-size="19.2" dy="6.2">3</tspan><tspan dy="-6.1">/H</tspan><tspan font-size="19.2" dy="6.2">2</tspan><tspan dy="-6.1">O</tspan></text>
<line x1="1562" y1="1075" x2="1648" y2="1075" stroke="#4a70a5" stroke-width="3" />
<polygon points="1608.7,1059.5 1624.2,1075.0 1608.7,1090.5 1593.2,1075.0" fill="#fff" stroke="#4a70a5" stroke-width="3.0"/>
<text x="1653.0" y="1085.0" font-size="31" fill="#4a70a5" text-anchor="start" >Ternary</text></svg></body></html>
